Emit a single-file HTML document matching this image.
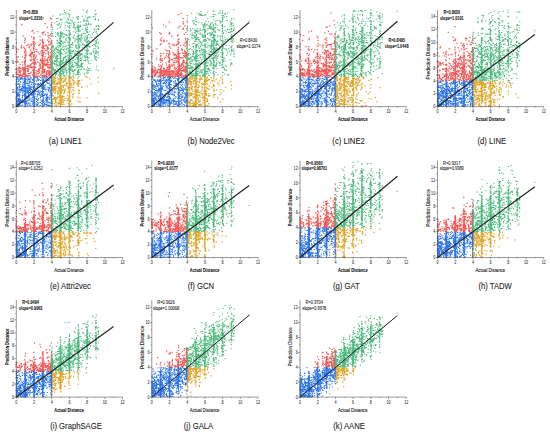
<!DOCTYPE html>
<html><head><meta charset="utf-8"><style>
html,body{margin:0;padding:0;background:#fff;overflow:hidden}
svg{display:block;font-family:"Liberation Sans", sans-serif}
.p{fill:none;stroke-linecap:square}.b{stroke:#2a72e6;stroke-width:4.2}.r{stroke:#f05a58;stroke-width:5.0}.g{stroke:#4cb87c;stroke-width:4.8}.o{stroke:#dea72e;stroke-width:5.0}
.ax{fill:none;stroke:#555;stroke-width:.6}
.rl{fill:none;stroke:#222;stroke-width:1.2}
.tl{font-size:4.6px;fill:#333;stroke:#333;stroke-width:.06px}
.at{font-size:5.3px;fill:#111;stroke:#111;stroke-width:.1px}
.rt{font-size:4.5px;fill:#111;stroke:#111;stroke-width:.06px;text-anchor:middle}
.cap{font-size:8.2px;fill:#222;stroke:#222;stroke-width:.08px;text-anchor:middle}
</style></head><body>
<svg width="550" height="434" viewBox="0 0 550 434">
<rect width="550" height="434" fill="#fff"/>
<defs><filter id="bl" x="-5%" y="-5%" width="110%" height="110%"><feGaussianBlur stdDeviation=".3"/></filter></defs>
<g filter="url(#bl)">
<path transform="scale(0.25)" class="p r" d="M134 44zm39 27zm29 1zm4 2zm0 16zm-25 4zm-94 4zm119 0zm-1 2zm0 7zm1 0zm-16 2zm-59 12zm-3 4zm23 1zm26 1zm-8 2zm3 1zm20 1zm-56 1zm36 1zm34 0zm-35 2zm31 1zm0 2zm-21 1zm16 3zm-5 1zm-99 1zm113 0zm-80 2zm34 0zm-26 3zm61 2zm-58 1zm-37 1zm35 2zm66 0zm-100 1zm35 0zm34 1zm-9 3zm30 0zm-22 1zm1 0zm-71 1zm107 0zm-70 3zm34 0zm27 0zm-64 1zm63 1zm8 0zm-71 1zm36 0zm6 0zm20 0zm9 0zm-65 1zm-40 1zm107 0zm-140 1zm105 0zm2 0zm0 2zm-38 1zm70 0zm-77 1zm15 0zm18 0zm-26 1zm72 0zm-6 1zm-88 1zm22 0zm23 0zm43 0zm-65 1zm1 0zm35 0zm23 0zm-74 1zm5 0zm44 0zm16 0zm-100 1zm22 0zm65 0zm-18 1zm28 0zm-47 1zm43 0zm-6 1zm34 0zm-89 2zm19 0zm32 0zm2 0zm18 0zm-16 1zm-88 1zm10 0zm39 1zm56 0zm-74 1zm56 0zm20 0zm14 0zm-120 1zm49 0zm32 0zm-101 2zm33 0zm73 0zm5 0zm17 0zm-60 1zm38 0zm22 0zm-58 1zm53 0zm-89 1zm34 0zm1 0zm54 0zm14 0zm-130 1zm72 0zm-80 1zm81 0zm-23 1zm-21 1zm33 0zm32 1zm5 0zm9 0zm1 0zm5 0zm-85 1zm67 0zm3 0zm34 1zm-37 1zm38 0zm-140 1zm32 1zm47 0zm-22 1zm14 0zm31 0zm23 0zm14 0zm-140 1zm32 0zm8 0zm47 0zm10 0zm-33 1zm7 0zm35 0zm23 0zm-67 1zm49 0zm26 0zm4 0zm-34 1zm33 0zm-105 2zm26 0zm3 0zm63 0zm-9 1zm-54 1zm27 0zm10 0zm-66 1zm20 0zm50 0zm23 0zm-71 1zm13 0zm2 0zm33 0zm1 0zm2 0zm-49 1zm-20 1zm68 0zm31 0zm2 0zm1 0zm-70 1zm-36 1zm16 0zm5 0zm14 0zm36 0zm-53 1zm47 0zm-29 1zm8 0zm26 0zm24 0zm10 0zm-83 1zm49 0zm1 0zm31 0zm-69 1zm72 0zm-26 1zm24 0zm-131 1zm16 0zm14 0zm33 0zm35 0zm32 0zm-136 1zm59 0zm73 0zm-100 1zm1 0zm43 0zm50 0zm-92 1zm35 0zm70 0zm-37 1zm32 0zm5 0zm1 1zm-107 1zm103 0zm-63 1zm39 0zm12 1zm15 0zm-78 1zm8 0zm34 0zm-36 1zm28 0zm7 0zm1 0zm20 0zm8 0zm8 0zm-105 1zm48 0zm-81 1zm34 0zm24 0zm10 0zm54 0zm8 0zm-77 1zm44 0zm5 0zm7 0zm6 0zm-82 1zm38 0zm33 0zm15 0zm2 0zm11 0zm-38 1zm7 0zm-68 1zm22 0zm13 0zm1 0zm0 1zm35 0zm19 0zm14 0zm-32 1zm30 0zm1 0zm1 0zm-140 1zm33 0zm2 0zm69 0zm37 0zm-139 1zm6 0zm27 0zm78 0zm-109 1zm21 0zm11 0zm33 0zm7 0zm10 0zm17 0zm2 0zm1 0zm35 0zm-41 1zm-66 1zm37 0zm57 0zm-61 1zm25 0zm31 0zm12 0zm6 0zm-76 1zm6 0zm36 0zm1 0zm-73 1zm36 0zm6 0zm27 0zm2 0zm1 0zm2 0zm-75 1zm42 0zm38 0zm27 0zm-106 1zm26 0zm11 0zm7 0zm27 0zm1 0zm-36 1zm1 0zm25 0zm44 0zm-125 1zm42 0zm14 0zm2 0zm33 0zm15 0zm3 0zm15 0zm-104 1zm74 0zm3 0zm2 0zm2 0zm13 0zm6 0zm4 0zm-114 1zm9 0zm60 0zm33 0zm-92 1zm20 0zm50 0zm1 0zm1 0zm31 0zm-93 1zm9 0zm-9 1zm48 0zm13 0zm9 0zm25 0zm-44 1zm8 0zm2 0zm15 0zm19 0zm-90 1zm19 0zm2 0zm1 0zm35 0zm-48 1zm75 0zm-100 1zm8 0zm5 0zm19 0zm3 0zm38 0zm19 0zm-23 1zm3 0zm-97 1zm61 0zm6 0zm59 0zm-122 1zm11 0zm30 0zm1 0zm17 0zm23 0zm34 0zm-103 1zm9 0zm22 0zm12 0zm34 0zm22 0zm-92 1zm29 0zm32 0zm12 0zm29 0zm3 0zm2 0zm-111 1zm1 0zm3 0zm38 0zm-65 1zm9 0zm31 0zm24 0zm2 0zm26 0zm8 0zm35 0zm-141 1zm24 0zm11 0zm1 0zm1 0zm6 0zm62 0zm26 0zm-120 1zm11 0zm3 0zm4 0zm4 0zm37 0zm-22 1zm23 0zm20 0zm14 0zm-106 1zm33 0zm38 0zm18 0zm17 0zm1 0zm1 0zm7 0zm-78 1zm12 0zm22 0zm1 0zm39 0zm1 0zm-112 1zm33 0zm36 0zm4 0zm18 0zm15 0zm1 0zm-100 1zm20 0zm42 0zm2 0zm42 0zm27 0zm-104 1zm10 0zm20 0zm4 0zm1 0zm2 0zm8 0zm-65 1zm56 0zm-60 1zm20 0zm3 0zm37 0zm22 0zm11 0zm1 0zm1 0zm19 0zm2 0zm5 0zm-114 1zm30 0zm20 0zm20 0zm17 0zm1 0zm7 0zm-84 1zm14 0zm27 0zm13 0zm19 0zm4 0zm14 0zm13 0zm1 0zm6 0zm-139 1zm69 0zm35 0zm1 0zm24 0zm-118 1zm23 0zm33 0zm1 0zm2 0zm11 0zm26 0zm14 0zm-122 1zm14 0zm21 0zm23 0zm47 0zm6 0zm26 0zm-127 1zm4 0zm15 0zm42 0zm32 0zm37 0zm-141 1zm69 0zm23 0zm14 0zm1 0zm13 0zm13 0zm9 0zm-140 1zm10 0zm1 0zm2 0zm22 0zm75 0zm16 0zm-96 1zm26 0zm12 0zm4 0zm4 0zm50 0zm-100 1zm41 0zm4 0zm30 0zm30 0zm8 0zm-105 1zm12 0zm4 0zm18 0zm19 0zm31 0zm21 0zm-12 1zm7 0zm4 0zm1 0zm1 0zm-111 1zm2 0zm2 0zm37 0zm1 0zm10 0zm39 0zm10 0zm-131 1zm1 0zm3 0zm12 0zm10 0zm8 0zm1 0zm36 0zm28 0zm38 0zm-130 1zm2 0zm25 0zm88 0zm-100 1zm42 0zm76 0zm-122 1zm21 0zm29 0zm42 0zm-94 1zm55 0zm24 0zm22 0zm16 0zm-122 1zm10 0zm13 0zm11 0zm3 0zm30 0zm25 0zm1 0zm1 0zm6 0zm1 0zm2 0zm16 0zm-89 1zm13 0zm14 0zm4 0zm33 0zm1 0zm8 0zm5 0zm14 0zm-122 1zm23 0zm35 0zm17 0zm19 0zm1 0zm-80 1zm8 0zm1 0zm33 0zm3 0zm32 0zm3 0zm1 0zm3 0zm-101 1zm22 0zm3 0zm45 0zm2 0zm10 0zm13 0zm12 0zm5 0zm-110 1zm11 0zm13 0zm2 0zm7 0zm28 0zm6 0z"/>
<path transform="scale(0.25)" class="p g" d="M333 40zm-55 1zm-21 1zm92 0zm33 0zm-36 5zm-87 3zm2 0zm88 1zm-74 2zm-8 2zm-15 1zm9 0zm123 0zm1 0zm-143 1zm141 0zm-104 1zm101 1zm-140 1zm37 0zm1 0zm-66 4zm130 0zm-13 1zm-16 1zm60 0zm-96 1zm35 0zm46 0zm22 1zm-74 1zm48 0zm7 0zm-49 1zm-20 1zm56 0zm-92 1zm16 1zm79 0zm-124 1zm6 0zm77 0zm-39 1zm111 0zm-48 1zm-92 1zm2 0zm137 1zm-134 1zm27 0zm38 0zm1 0zm81 0zm-152 1zm40 0zm68 0zm33 0zm-95 1zm48 0zm2 0zm56 0zm-46 1zm-9 1zm-72 1zm80 0zm-119 1zm119 1zm-59 1zm46 0zm20 0zm-31 1zm-54 1zm30 0zm14 0zm-52 1zm53 0zm-94 1zm28 0zm30 0zm-1 1zm15 0zm-55 1zm41 0zm66 0zm-71 1zm2 0zm80 0zm-70 1zm10 0zm1 0zm-59 2zm110 0zm8 0zm7 0zm-133 1zm125 0zm-110 1zm53 0zm67 0zm-66 1zm14 0zm-52 1zm62 0zm10 0zm7 0zm3 0zm6 0zm-114 1zm46 0zm114 0zm-7 1zm-92 1zm17 0zm8 0zm-50 1zm39 0zm2 0zm1 0zm2 1zm9 0zm62 0zm9 0zm-117 1zm-36 1zm2 0zm70 0zm35 0zm-137 1zm85 0zm15 0zm8 0zm-40 1zm15 0zm-53 1zm36 0zm26 0zm10 0zm37 0zm-74 1zm31 0zm-46 1zm39 0zm14 0zm28 0zm50 0zm-16 1zm18 0zm-165 1zm84 0zm81 1zm-79 1zm15 0zm15 0zm2 0zm1 0zm45 0zm-184 1zm139 0zm36 0zm10 0zm-186 1zm93 0zm12 0zm1 1zm28 0zm-77 2zm9 0zm3 1zm35 0zm32 0zm34 0zm-63 1zm6 0zm-15 1zm7 0zm5 0zm30 0zm-70 1zm107 0zm-177 1zm36 0zm51 0zm53 0zm11 0zm-81 1zm72 0zm-108 1zm109 0zm-121 1zm19 0zm124 0zm-151 1zm10 0zm48 0zm22 0zm1 0zm45 0zm36 0zm-142 2zm5 0zm66 0zm26 0zm-132 1zm37 0zm11 0zm79 0zm-123 1zm22 0zm8 0zm6 0zm29 0zm113 0zm-160 1zm49 0zm4 0zm88 0zm-120 1zm27 0zm49 0zm-94 1zm32 0zm14 0zm4 0zm72 0zm-95 1zm-15 1zm69 0zm-71 1zm6 0zm29 0zm40 0zm7 0zm4 0zm-119 1zm56 0zm11 0zm22 0zm14 0zm78 0zm-121 1zm44 0zm1 0zm35 0zm11 0zm-126 1zm3 0zm75 0zm36 0zm-104 1zm70 0zm27 0zm-119 1zm90 0zm1 0zm2 0zm-103 1zm29 0zm15 0zm21 0zm35 0zm13 0zm60 0zm-131 1zm39 0zm16 0zm2 0zm-67 1zm9 0zm24 0zm73 0zm-109 1zm32 0zm3 0zm1 0zm71 0zm19 0zm-90 1zm1 0zm61 0zm9 0zm12 0zm-119 1zm40 0zm14 0zm27 0zm6 0zm9 0zm41 0zm-113 1zm12 0zm35 0zm2 0zm13 0zm20 0zm-68 1zm33 0zm2 0zm4 0zm31 0zm-107 1zm59 0zm48 0zm-72 1zm70 0zm2 0zm-110 1zm24 0zm14 0zm35 0zm7 0zm-38 1zm27 0zm2 0zm2 0zm8 0zm24 0zm45 0zm-82 1zm-63 1zm81 0zm13 0zm-131 1zm21 0zm49 0zm1 0zm23 0zm12 0zm-83 1zm13 0zm21 0zm49 0zm40 0zm-113 1zm4 0zm101 0zm40 0zm-155 1zm12 0zm5 0zm34 0zm42 0zm18 0zm35 0zm7 0zm-138 1zm67 0zm7 0zm37 0zm29 0zm2 0zm-180 1zm49 0zm57 0zm37 0zm8 0zm-116 1zm34 0zm23 0zm57 0zm-108 1zm22 0zm76 1zm4 0zm1 0zm43 0zm-158 1zm5 0zm19 0zm17 0zm1 0zm13 0zm33 0zm24 0zm36 0zm1 0zm-153 1zm8 0zm72 0zm-60 1zm-23 1zm-22 1zm31 0zm5 0zm10 0zm36 0zm26 0zm69 0zm2 0zm-144 1zm36 0zm53 0zm-56 1zm74 0zm45 0zm-57 1zm-92 1zm40 0zm2 0zm88 0zm-133 1zm1 0zm70 0zm2 0zm15 0zm48 0zm-145 1zm9 0zm1 0zm36 0zm1 0zm11 0zm16 0zm8 0zm31 0zm36 0zm-106 1zm38 0zm7 0zm25 0zm-134 1zm25 0zm27 0zm38 0zm42 0zm25 0zm-129 1zm34 0zm62 0zm5 0zm-88 1zm92 0zm9 0zm29 0zm-152 1zm49 0zm24 0zm14 0zm32 0zm6 0zm3 0zm-150 1zm51 0zm129 0zm-177 1zm1 0zm27 0zm3 0zm35 0zm70 0zm-136 1zm28 0zm21 0zm21 0zm22 0zm9 0zm2 0zm3 0zm30 0zm-123 1zm26 0zm62 0zm1 0zm18 0zm25 0zm-150 1zm1 0zm139 0zm47 0zm-161 1zm44 0zm11 0zm19 0zm-91 1zm53 0zm10 0zm28 0zm11 0zm-93 1zm82 0zm75 0zm-174 1zm185 0zm-185 1zm15 0zm21 0zm31 0zm38 0zm35 0zm28 0zm-118 1zm10 0zm7 0zm37 0zm26 0zm13 0zm-104 1zm102 0zm-142 1zm11 0zm10 0zm3 0zm23 0zm-11 1zm23 0zm14 0zm-65 1zm13 0zm5 0zm44 0zm2 0zm4 0zm-46 1zm16 0zm27 0zm61 0zm6 0zm-53 1zm90 0zm-164 1zm14 0zm7 0zm37 0zm23 0zm53 0zm18 0zm12 0zm-112 1zm1 0zm19 0zm21 0zm5 0zm11 0zm20 0zm-138 1zm3 0zm29 0zm31 0zm15 0zm16 0zm3 0zm39 0zm-107 1zm2 0zm39 0zm33 0zm34 0zm2 0zm38 0zm-148 1zm18 0zm19 0zm10 0zm5 0zm16 0zm4 0zm38 0zm25 0zm9 0zm-156 1zm49 0zm35 0zm76 0zm-180 1zm20 0zm4 0zm9 0zm1 0zm71 0zm81 0zm-176 1zm26 0zm23 0zm15 0zm-74 1zm26 0zm43 0zm36 0zm51 0zm12 0zm-140 1zm6 0zm21 0zm14 0zm23 0zm45 0zm20 0zm27 0zm-152 1zm1 0zm59 0zm44 0zm4 0zm1 0zm2 0zm31 0zm-169 1zm31 0zm2 0zm31 0zm35 0zm9 0zm27 0zm37 0zm-171 1zm8 0zm19 0zm2 0zm34 0zm6 0zm3 0zm2 0zm39 0zm21 0zm11 0zm-120 1zm3 0zm20 0zm14 0zm3 0zm23 0zm3 0zm13 0zm2 0zm63 0zm-176 1zm33 0zm11 0zm28 0zm19 0zm17 0zm11 0zm-5 1zm43 0zm-147 1zm60 0zm1 0zm29 0zm16 0zm6 0zm20 0zm-142 1zm2 0zm31 0zm3 0zm35 0zm1 0zm98 0zm16 0zm-167 1zm5 0zm9 0zm2 0zm37 0zm28 0zm-1 1zm5 0zm1 0zm9 0zm16 0zm-96 1zm1 0zm26 0zm7 0zm10 0zm29 0zm3 0zm28 0zm-132 1zm5 0zm12 0zm12 0zm26 0zm52 0zm-79 1zm36 0zm4 0zm32 0zm1 0zm64 0zm-152 1zm1 0zm34 0zm2 0zm77 0zm10 0zm34 0zm-176 1zm1 0zm15 0zm54 0zm53 0zm18 0zm-141 1zm1 0zm22 0zm55 0zm28 0zm1 0zm34 0zm35 0zm-169 1zm9 0zm18 0zm36 0zm28 0zm6 0zm37 0zm1 0zm-94 1zm4 0zm51 0zm3 0zm29 0zm7 0zm-89 1zm12 0zm5 0zm34 0zm27 0zm46 0zm-160 1zm18 0zm33 0zm17 0zm28 0zm3 0zm31 0zm2 0zm23 0zm13 0zm-152 1zm13 0zm19 0zm6 0zm30 0zm-102 1zm1 0zm14 0zm11 0zm7 0zm74 0zm10 0zm-97 1zm2 0zm47 0zm2 0zm36 0zm-107 1zm3 0zm32 0zm137 0zm-127 1zm3 0zm10 0zm14 0zm71 0zm-122 1zm46 0zm1 0zm3 0zm25 0zm7 0zm1 0zm2 0zm-104 1zm43 0zm26 0zm42 0zm7 0zm15 0zm41 0zm-176 1zm71 0zm1 0zm106 0zm-166 1zm23 0zm11 0zm14 0zm14 0zm10 0zm2 0zm-86 1zm18 0zm3 0zm14 0zm1 0zm1 0zm34 0zm36 0zm8 0zm15 0zm27 0zm22 0zm-162 1zm17 0zm2 0zm1 0zm30 0zm39 0zm29 0zm10 0zm-144 1zm57 0zm13 0zm2 0zm34 0zm12 0zm-116 1zm9 0zm3 0zm19 0zm8 0zm13 0zm1 0zm6 0zm8 0zm36 0zm-106 1zm23 0zm12 0zm1 0zm33 0zm37 0zm2 0zm-108 1zm1 0zm34 0zm7 0zm18 0zm1 0zm14 0zm6 0zm65 0zm-118 1zm9 0zm6 0zm11 0zm17 0zm21 0zm15 0zm-107 1zm2 0zm30 0zm4 0zm7 0zm3 0zm23 0zm22 0zm10 0zm-66 1zm24 0zm12 0zm-66 1zm14 0zm33 0zm17 0zm3 0zm10 0zm14 1zm9 0zm-103 1zm5 0zm5 0zm24 0zm36 0zm53 0zm22 0zm-147 1zm35 0zm9 0zm25 0zm3 0zm4 0zm22 0zm20 0zm3 0zm-121 1zm11 0zm19 0zm2 0zm39 0zm1 0zm32 0zm51 0zm-153 1zm19 0zm13 0zm3 0zm3 0zm8 0zm23 1zm1 0zm11 0zm18 0zm16 0zm-98 1zm20 0zm21 0zm12 0zm32 0zm-91 1zm5 0zm14 0zm39 0zm12 0zm23 0zm16 0zm-122 1zm21 0zm14 0zm23 0zm12 0zm-69 1zm1 0zm28 0zm68 0zm6 0zm14 0zm-117 1zm33 0zm22 0zm24 0zm16 0zm-95 1zm26 0zm52 0zm33 0zm-89 1zm46 0zm37 0zm-106 1zm35 0zm2 0zm47 0zm21 0zm8 0zm5 0zm2 0zm59 0zm-177 1zm34 0zm1 0zm9 0zm5 0zm20 0zm18 0zm16 0zm1 0zm-105 1zm16 0zm17 0zm37 0zm10 0zm38 0zm-85 1zm1 0zm1 0zm39 0zm30 0zm16 0zm-76 1zm4 0zm2 0zm20 0zm15 0zm26 0zm-110 1zm35 0zm20 0zm20 0zm46 0zm19 0zm-141 1zm5 0zm32 0zm62 0zm2 0zm-66 1zm1 0zm-15 1zm12 0zm34 0zm9 0zm-70 1zm27 0zm10 0zm10 0zm18 0zm75 0zm101 0zm-214 1zm2 0zm34 0zm-70 1zm6 0zm29 0zm1 0zm32 0zm4 0zm57 0zm23 0zm-125 1zm8 0zm20 0zm17 0zm21 0zm24 0zm2 0zm-106 1zm21 0zm1 0zm10 0zm2 0zm28 0zm32 0zm23 0zm10 0zm-139 1zm3 0zm8 0zm58 0zm14 0zm23 0zm6 0zm65 0zm-178 1zm2 0zm2 0zm11 0zm2 0zm23 0zm12 0zm3 0zm6 0zm18 0zm13 0zm-89 1zm4 0zm9 0zm20 0zm2 0zm34 0zm5 0zm5 0zm24 0zm1 0zm40 0zm-58 1zm65 0zm-145 1zm5 0zm8 0zm14 0zm22 0zm12 0zm35 0zm41 0zm40 0zm-144 1zm4 0zm96 0zm-108 1zm2 0zm34 0zm-70 1zm1 0zm25 0zm8 0zm3 0zm34 0zm12 0zm2 0zm20 0zm3 0zm-75 1zm1 0zm38 0zm-71 1zm8 0zm9 0zm6 0zm9 0zm11 0zm7 0zm7 0zm12 0zm19 0zm14 0zm-89 1zm21 0zm12 0zm23 0zm36 0zm34 0zm-127 1zm91 0zm-72 1zm27 0zm2 0zm49 0zm36 0zm-145 1zm29 0zm41 0zm31 0zm5 0zm-90 1zm19 0zm10 0zm28 0zm57 0zm-130 1zm-1 1zm1 0zm19 0zm15 0zm6 0zm46 0zm1 0zm53 0zm-134 1zm25 0zm3 0zm79 0zm-114 1zm2 0zm15 0zm16 0zm11 0zm14 0zm14 0zm31 0zm-69 1zm37 0zm29 0zm2 0zm5 0zm-75 1zm4 1zm1 0zm57 0zm38 0zm-117 1zm12 0zm8 0zm12 0zm3 0zm-50 1zm36 0zm0 1zm35 0zm-71 1zm15 0zm45 0zm9 0zm-34 1zm2 0zm15 0zm20 0zm13 0zm-53 1zm3 0zm35 0zm1 0zm15 0zm22 0zm-102 1zm28 0zm39 0z"/>
<path transform="scale(0.25)" class="p o" d="M345 307zm-137 1zm6 0zm6 0zm36 0zm19 0zm3 0zm3 0zm2 0zm65 0zm-141 1zm11 0zm11 0zm47 0zm2 0zm115 0zm-152 1zm2 0zm42 0zm9 0zm-32 1zm15 0zm-61 1zm28 0zm19 0zm14 0zm35 0zm-105 1zm2 0zm34 0zm5 0zm3 0zm26 0zm1 0zm1 0zm-61 1zm2 0zm2 0zm15 0zm8 0zm32 0zm7 0zm75 0zm-144 1zm18 0zm10 0zm34 0zm-42 1zm9 0zm-2 1zm21 0zm28 0zm-50 1zm6 0zm-33 1zm29 0zm15 0zm3 0zm-54 1zm35 0zm34 0zm3 0zm50 0zm-118 1zm10 0zm2 0zm55 0zm35 0zm-106 1zm16 0zm22 0zm17 0zm15 0zm18 0zm17 0zm5 0zm1 0zm-78 1zm49 0zm-79 1zm8 0zm14 0zm9 0zm11 0zm26 0zm1 0zm-71 1zm49 0zm19 0zm-69 1zm9 0zm1 0zm26 0zm-29 1zm4 0zm20 0zm15 0zm26 0zm1 0zm30 0zm5 0zm-108 1zm1 0zm34 0zm53 0zm18 0zm81 0zm-186 1zm1 0zm8 0zm50 0zm12 0zm21 0zm-68 1zm9 0zm11 0zm-23 1zm84 0zm-101 1zm27 0zm-31 1zm10 0zm8 0zm6 0zm4 0zm6 0zm23 0zm8 0zm4 0zm3 0zm33 0zm-106 1zm1 0zm35 0zm24 0zm10 0zm9 0zm11 0zm15 0zm7 0zm44 0zm-156 1zm7 0zm29 0zm34 0zm35 0zm-91 1zm1 0zm45 0zm41 0zm-101 1zm1 0zm17 0zm5 0zm54 0zm-77 1zm34 0zm2 0zm35 1zm15 0zm-33 1zm34 0zm-52 1zm2 0zm14 0zm21 0zm34 0zm-62 1zm4 0zm12 0zm17 0zm-77 1zm35 0zm1 0zm9 0zm-32 1zm93 0zm-104 1zm4 0zm7 0zm7 0zm1 0zm15 0zm33 0zm37 0zm36 0zm-142 1zm1 0zm34 0zm1 0zm9 0zm-44 1zm8 0zm5 0zm24 0zm29 0zm-66 1zm45 0zm19 0zm7 0zm47 0zm-84 1zm30 0zm16 0zm40 0zm-92 1zm8 0zm9 0zm42 0zm-77 1zm14 0zm10 0zm1 0zm34 0zm3 0zm3 0zm-71 1zm12 0zm17 0zm-33 1zm8 0zm7 0zm14 0zm36 0zm-66 1zm1 0zm2 1zm5 0zm6 0zm1 0zm19 0zm1 0zm20 0zm-55 1zm9 0zm25 0zm4 0zm1 0zm29 0zm-59 1zm5 0zm13 0zm8 0zm-34 1zm34 0zm9 0zm40 0zm-83 1zm1 0zm7 0zm26 0zm16 0zm21 0zm-35 1zm6 0zm7 0zm22 0zm38 0zm-110 1zm3 0zm5 0zm6 0zm20 0zm17 0zm-51 1zm1 0zm30 0zm3 0zm18 0zm36 0zm19 0zm-107 1zm1 0zm21 0zm11 0zm38 0zm-71 1zm33 0zm3 1zm-10 1zm13 0zm13 0zm19 0zm-64 1zm9 0zm16 0zm2 0zm36 0zm1 0zm9 0zm-80 1zm1 0zm64 0zm-32 1zm39 0zm37 0zm-108 1zm34 0zm3 0zm14 0zm-40 1zm-11 1zm14 0zm10 0zm10 0zm36 0zm18 0zm-63 1zm21 0zm62 0zm78 0zm-186 1zm33 0zm37 0zm1 0zm-72 1zm23 1zm11 1zm1 0zm48 0zm-82 2zm32 0zm29 0zm-61 1zm0 1zm33 0zm37 0zm-69 1zm3 0zm31 0zm-34 1zm30 0zm12 0zm26 0zm0 1zm2 0zm14 0zm-45 1zm8 0zm-16 1zm38 0zm-46 1zm19 0zm1 0zm-36 1zm21 0zm5 0zm3 0zm5 0zm25 0zm37 0zm-93 1zm23 0zm2 0zm33 0zm12 0zm-64 1zm123 0zm-128 1zm8 0zm13 0zm79 0zm-75 1zm33 0zm-71 1zm11 0zm41 0zm9 0zm9 0zm-57 1zm21 0zm2 0zm1 0zm-28 1zm24 0zm-27 1zm5 0zm11 0zm22 0zm-43 1zm2 0zm38 0zm25 0zm-65 1zm15 0zm18 0zm1 0zm10 1zm29 0zm-74 1zm70 0zm-35 1zm17 0zm19 0zm-70 1zm13 0zm15 0zm34 0zm-62 1zm15 0zm18 0zm35 0zm7 0zm-62 1zm26 0zm5 0zm27 0zm34 0zm-70 1zm-35 1zm35 0zm36 0zm40 1zm2 0zm-97 1zm18 0zm1 0zm36 0zm1 0zm-71 1zm14 0zm-15 1zm46 0zm-47 1zm14 0zm15 0zm5 0zm1 0zm2 0zm4 0zm-41 1zm22 0zm5 0zm5 0zm38 0zm-70 1zm34 0zm2 0zm30 0zm-63 1zm7 0zm25 1zm45 0zm-53 1zm7 0zm35 0zm-66 1zm32 0zm1 0zm2 0zm11 0zm21 0zm-28 1zm27 0zm4 1zm-71 1zm12 0zm4 0zm2 1zm50 0zm-36 1zm38 0zm-72 1zm21 0zm51 0zm-36 2zm34 0zm-69 1z"/>
<path transform="scale(0.25)" class="p b" d="M206 307zm-140 1zm4 0zm65 0zm57 0zm-126 1zm15 0zm41 0zm19 0zm48 0zm11 0zm-129 1zm16 0zm49 0zm27 0zm8 0zm1 0zm34 0zm-140 1zm14 0zm20 0zm35 0zm8 0zm5 0zm30 0zm6 0zm21 0zm-117 1zm10 0zm13 0zm4 0zm11 0zm25 0zm21 0zm11 0zm19 0zm-122 1zm20 0zm34 0zm72 0zm-135 1zm13 0zm2 0zm10 0zm6 0zm33 0zm1 0zm1 0zm-46 1zm6 0zm6 0zm69 0zm15 0zm20 0zm-141 1zm16 0zm4 0zm15 0zm18 0zm2 0zm30 0zm16 0zm5 0zm34 0zm1 0zm-136 1zm29 0zm1 0zm15 0zm33 0zm8 0zm15 0zm1 0zm34 0zm-141 1zm7 0zm8 0zm19 0zm3 0zm12 0zm3 0zm11 0zm6 0zm2 0zm62 0zm-134 1zm15 0zm23 0zm5 0zm5 0zm19 0zm4 0zm19 0zm17 0zm2 0zm8 0zm1 0zm-91 1zm9 0zm72 0zm1 0zm7 0zm11 0zm-126 1zm10 0zm23 0zm1 0zm20 0zm1 0zm10 0zm4 0zm38 0zm4 0zm-79 1zm3 0zm34 0zm1 0zm16 0zm1 0zm9 0zm11 0zm18 0zm5 0zm9 0zm-104 1zm35 0zm1 0zm8 0zm23 0zm1 0zm5 0zm12 0zm-120 1zm44 0zm61 0zm16 0zm-121 1zm10 0zm22 0zm1 0zm3 0zm45 0zm60 0zm-140 1zm6 0zm47 0zm18 0zm39 0zm28 0zm-139 1zm1 0zm16 0zm16 0zm4 0zm14 0zm53 0zm1 0zm1 0zm-74 1zm3 0zm15 0zm8 0zm12 0zm1 0zm40 0zm28 0zm-139 1zm16 0zm10 0zm8 0zm1 0zm18 0zm5 0zm6 0zm42 0zm2 0zm13 0zm1 0zm-92 1zm23 0zm10 0zm6 0zm-68 1zm32 0zm92 0zm16 0zm-141 1zm38 0zm58 0zm7 0zm1 0zm29 0zm-96 1zm5 0zm2 0zm2 0zm24 0zm34 0zm20 0zm8 0zm8 0zm-132 1zm26 0zm16 0zm22 0zm16 0zm37 0zm3 0zm-93 1zm8 0zm27 0zm1 0zm25 0zm5 0zm5 0zm34 0zm-139 1zm11 0zm14 0zm5 0zm1 0zm2 0zm34 0zm1 0zm6 0zm7 0zm5 0zm-88 1zm15 0zm45 0zm22 0zm8 0zm51 0zm-137 1zm6 0zm23 0zm2 0zm27 0zm8 0zm6 0zm9 0zm9 0zm14 0zm33 0zm-107 1zm72 0zm12 0zm19 0zm4 0zm-89 1zm39 0zm19 0zm25 0zm-135 1zm26 0zm1 0zm9 0zm8 0zm7 0zm36 0zm18 0zm31 0zm3 0zm-138 1zm33 0zm40 0zm34 0zm7 0zm-102 1zm13 0zm22 0zm53 0zm5 0zm7 0zm22 0zm-134 1zm33 0zm22 0zm12 0zm72 0zm-69 1zm2 0zm10 0zm58 0zm-140 1zm23 0zm10 0zm2 0zm1 0zm62 0zm8 0zm2 0zm32 0zm-139 1zm9 0zm6 0zm10 0zm2 0zm24 0zm49 0zm4 0zm5 0zm-110 1zm1 0zm26 0zm6 0zm1 0zm15 0zm8 0zm4 0zm5 0zm3 0zm2 0zm21 0zm14 0zm11 0zm-117 1zm3 0zm29 0zm4 0zm48 0zm21 0zm20 0zm16 0zm-141 1zm4 0zm26 0zm4 0zm1 0zm6 0zm20 0zm43 0zm4 0zm3 0zm19 0zm10 0zm-141 1zm13 0zm32 0zm6 0zm5 0zm14 0zm1 0zm4 0zm32 0zm27 0zm6 0zm-134 1zm17 0zm4 0zm7 0zm1 0zm36 0zm28 0zm-99 1zm28 0zm8 0zm1 0zm3 0zm5 0zm9 0zm2 0zm25 0zm4 0zm18 0zm6 0zm31 0zm-119 1zm19 0zm15 0zm14 0zm9 0zm28 0zm8 0zm-112 1zm22 0zm10 0zm15 0zm10 0zm11 0zm8 0zm52 0zm3 0zm-128 1zm21 0zm2 0zm7 0zm1 0zm4 0zm1 0zm30 0zm70 0zm-140 1zm2 0zm10 0zm2 0zm2 0zm3 0zm19 0zm7 0zm7 0zm54 0zm2 0zm7 0zm6 0zm-122 1zm37 0zm19 0zm4 0zm2 0zm10 0zm34 0zm8 0zm2 0zm-105 1zm1 0zm23 0zm1 0zm1 0zm1 0zm68 0zm22 0zm9 0zm-128 1zm12 0zm49 0zm18 0zm18 0zm34 0zm-133 1zm10 0zm9 0zm1 0zm24 0zm15 0zm3 0zm2 0zm4 0zm54 0zm12 0zm-119 1zm4 0zm6 0zm3 0zm2 0zm6 0zm2 0zm10 0zm40 0zm10 0zm1 0zm-106 1zm1 0zm33 0zm1 0zm7 0zm5 0zm59 0zm29 0zm-135 1zm13 0zm17 0zm7 0zm29 0zm12 0zm28 0zm13 0zm16 0zm-108 1zm18 0zm12 0zm7 0zm6 0zm1 0zm11 0zm2 0zm6 0zm15 0zm1 0zm24 0zm-129 1zm1 0zm32 0zm4 0zm10 0zm1 0zm21 0zm1 0zm1 0zm12 0zm15 0zm3 0zm5 0zm-88 1zm18 0zm31 0zm2 0zm32 0zm3 0zm3 0zm1 0zm-50 1zm7 0zm8 0zm63 0zm-136 1zm1 0zm5 0zm8 0zm20 0zm12 0zm2 0zm11 0zm11 0zm17 0zm8 0zm44 0zm-140 1zm27 0zm16 0zm10 0zm6 0zm48 0zm-107 1zm2 0zm35 0zm9 0zm26 0zm15 0zm20 0zm-98 1zm32 0zm17 0zm14 0zm20 0zm13 0zm21 0zm16 0zm-141 1zm1 0zm2 0zm22 0zm25 0zm6 0zm12 0zm2 0zm37 0zm28 0zm-134 1zm32 0zm34 0zm2 0zm23 0zm-92 1zm2 0zm31 0zm3 0zm10 0zm2 0zm20 0zm32 0zm40 0zm-140 1zm5 0zm1 0zm6 0zm22 0zm41 0zm1 0zm25 0zm16 0zm-116 1zm1 0zm2 0zm4 0zm28 0zm26 0zm7 0zm1 0zm13 0zm11 0zm19 0zm26 0zm-104 1zm31 0zm21 0zm18 0zm17 0zm-122 1zm3 0zm10 0zm19 0zm3 0zm14 0zm20 0zm15 0zm20 0zm9 0zm11 0zm13 0zm4 0zm-83 1zm6 0zm26 0zm11 0zm4 0zm1 0zm14 0zm19 0zm-134 1zm1 0zm6 0zm11 0zm3 0zm1 0zm3 0zm8 0zm10 0zm13 0zm8 0zm38 0zm-107 1zm1 0zm5 0zm3 0zm3 0zm21 0zm1 0zm1 0zm35 0zm25 0zm10 0zm6 0zm-110 1zm1 0zm33 0zm34 0zm38 0zm25 0zm-132 1zm24 0zm9 0zm4 0zm1 0zm29 0zm16 0zm21 0zm16 0zm18 0zm2 0zm-140 1zm4 0zm30 0zm9 0zm7 0zm2 0zm15 0zm34 0zm-102 1zm11 0zm23 0zm1 0zm3 0zm1 0zm6 0zm30 0zm29 0zm-69 1zm1 0zm62 0zm9 0zm18 0zm2 0zm-125 1zm10 0zm1 0zm24 0zm6 0zm4 0zm19 0zm6 0zm11 0zm57 0zm-139 1zm24 0zm10 0zm15 0zm18 0zm72 0zm-139 1zm1 0zm39 0zm27 0zm51 0zm4 0zm12 0zm-134 1zm33 0zm10 0zm29 0zm24 0zm12 0zm18 0zm14 0zm-141 1zm1 0zm2 0zm20 0zm13 0zm18 0zm87 0zm-105 1zm10 0zm17 0zm48 0zm16 0zm-120 1zm2 0zm5 0zm21 0zm3 0zm5 0zm28 0zm1 0zm18 0zm30 0zm2 0zm-121 1zm35 0zm27 0zm7 0zm3 0zm1 0zm7 0zm43 0zm9 0zm-133 1zm56 0zm23 0zm28 0zm-94 1zm3 0zm116 0zm3 0zm-126 1zm2 0zm1 0zm1 0zm11 0zm30 0zm18 0zm11 0zm24 0zm1 0zm34 0zm-139 1zm8 0zm5 0zm1 0zm17 0zm3 0zm11 0zm24 0zm16 0zm29 0zm5 0zm-120 1zm16 0zm46 0zm6 0zm28 0zm10 0zm11 0zm2 0zm4 0zm17 0zm-140 1zm6 0zm5 0zm22 0zm1 0zm1 0zm6 0zm27 0zm3 0zm12 0zm2 0zm17 0zm5 0zm32 0zm-140 1zm7 0zm27 0zm15 0zm20 0zm34 0zm4 0zm1 0zm10 0zm-100 1zm7 0zm46 0zm52 0zm-122 1zm9 0zm6 0zm1 0zm3 0zm14 0zm2 0zm6 0zm18 0zm10 0zm35 0zm34 0zm-134 1zm7 0zm15 0zm13 0zm19 0zm13 0zm28 0zm6 0zm16 0zm-104 1zm12 0zm9 0zm22 0zm10 0zm9 0zm61 0zm-134 1zm28 0zm7 0zm23 0zm4 0zm36 0zm8 0zm27 0zm-140 1zm3 0zm8 0zm2 0zm17 0zm4 0zm1 0zm32 0zm38 0zm9 0zm6 0zm7 0zm-108 1zm4 0zm11 0zm35 0zm1 0zm3 0zm12 0zm24 0zm30 0zm-140 1zm1 0zm26 0zm69 0zm13 0zm22 0zm11 0zm-142 1zm3 0zm8 0zm24 0zm1 0zm4 0zm30 0zm63 0zm-133 1zm2 0zm14 0zm18 0zm2 0zm12 0zm1 0zm19 0zm3 0zm1 0zm18 0zm16 0zm17 0zm3 0zm12 0zm3 0zm-107 1zm1 0zm3 0zm10 0zm1 0zm5 0zm13 0zm1 0zm73 0zm-140 1zm8 0zm1 0zm32 0zm26 0zm2 0zm1 0zm30 0zm13 0zm26 0zm2 0zm-141 1zm12 0zm22 0zm1 0zm3 0zm17 0zm15 0zm3 0zm8 0zm32 0zm25 0zm-139 1zm4 0zm7 0zm13 0zm48 0zm10 0zm5 0zm17 0zm-96 1zm26 0zm1 0zm2 0zm2 0zm17 0zm9 0zm6 0zm12 0zm4 0zm24 0zm-111 1zm2 0zm5 0zm5 0zm25 0zm81 0zm3 0zm-118 1zm1 0zm4 0zm28 0zm9 0zm26 0zm3 0zm0 1zm8 0zm2 0zm21 0zm1 0zm7 0zm10 0zm8 0zm10 0zm-141 1zm1 0zm1 0zm11 0zm2 0zm1 0zm1 0zm18 0zm1 0zm11 0zm6 0zm30 0zm22 0zm2 0zm5 0zm15 0zm13 0zm-139 1zm1 0zm24 0zm9 0zm34 0zm2 0zm2 0zm23 0zm26 0zm5 0zm7 0zm8 0zm-141 1zm1 0zm18 0zm15 0zm23 0zm14 0zm2 0zm10 0zm21 0zm27 0zm-130 1zm1 0zm3 0zm30 0zm7 0zm27 0zm21 0zm13 0zm3 0zm23 0zm6 0zm6 0zm-132 1zm53 0zm42 0zm2 0zm-106 1zm5 0zm2 0zm26 0zm3 0zm1 0zm32 0zm1 0z"/>
</g>
<path class="ax" d="M16.3 106.6H122.5M16.3 106.6V10.0M16.3 106.6v1.8M25.1 106.6v1.0M34.0 106.6v1.8M42.8 106.6v1.0M51.7 106.6v1.8M60.5 106.6v1.0M69.4 106.6v1.8M78.2 106.6v1.0M87.1 106.6v1.8M95.9 106.6v1.0M104.8 106.6v1.8M113.6 106.6v1.0M122.5 106.6v1.8M16.3 106.6h-1.8M16.3 99.1h-1.0M16.3 91.7h-1.8M16.3 84.2h-1.0M16.3 76.8h-1.8M16.3 69.3h-1.0M16.3 61.9h-1.8M16.3 54.4h-1.0M16.3 47.0h-1.8M16.3 39.5h-1.0M16.3 32.1h-1.8M16.3 24.6h-1.0M16.3 17.2h-1.8"/>
<g class="tl" text-anchor="middle"><text transform="translate(16.3 113.4)scale(.8 1)">0</text><text transform="translate(34.0 113.4)scale(.8 1)">2</text><text transform="translate(51.7 113.4)scale(.8 1)">4</text><text transform="translate(69.4 113.4)scale(.8 1)">6</text><text transform="translate(87.1 113.4)scale(.8 1)">8</text><text transform="translate(104.8 113.4)scale(.8 1)">10</text><text transform="translate(122.5 113.4)scale(.8 1)">12</text></g>
<g class="tl" text-anchor="end"><text transform="translate(14.0 108.2)scale(.8 1)">0</text><text transform="translate(14.0 93.3)scale(.8 1)">2</text><text transform="translate(14.0 78.4)scale(.8 1)">4</text><text transform="translate(14.0 63.5)scale(.8 1)">6</text><text transform="translate(14.0 48.6)scale(.8 1)">8</text><text transform="translate(14.0 33.7)scale(.8 1)">10</text><text transform="translate(14.0 18.8)scale(.8 1)">12</text></g>
<path class="rl" d="M16.3 106.6L113.6 22.4"/>
<text class="at" style="font-weight:bold" x="54.3" y="121.0" textLength="29.6" lengthAdjust="spacingAndGlyphs">Actual Distance</text>
<text class="at" style="font-weight:bold" transform="translate(8.5 56.7)rotate(-90)" x="-19.1" y="0" textLength="38.2" lengthAdjust="spacingAndGlyphs">Prediction Distance</text>
<text class="rt" style="font-weight:bold" transform="translate(30.6 14.0)scale(0.845 1)">R=0.838</text>
<text class="rt" style="font-weight:bold" transform="translate(30.6 19.8)scale(0.845 1)">slope=1.2216</text>
<text class="cap" transform="translate(65.3 144.0)scale(.94 1)">(a) LINE1</text>
<g filter="url(#bl)">
<path transform="scale(0.25)" class="p r" d="M723 53zm-10 5zm35 4zm-15 12zm15 10zm-14 3zm-56 1zm54 5zm0 2zm-78 4zm85 4zm-21 2zm-55 1zm50 4zm-104 1zm125 1zm14 2zm-1 2zm-15 1zm-53 12zm65 0zm-105 1zm37 3zm-32 1zm0 2zm35 0zm58 1zm-24 2zm-3 4zm-23 2zm-41 7zm97 1zm-27 2zm-3 3zm-71 1zm100 0zm-86 1zm-11 3zm22 0zm-11 2zm55 0zm36 0zm1 0zm-94 1zm95 0zm-35 1zm-1 2zm30 0zm-27 1zm32 1zm-34 1zm-38 1zm61 0zm12 1zm-104 1zm32 1zm12 0zm23 0zm1 0zm35 0zm-41 1zm-66 1zm56 1zm51 0zm-50 1zm37 0zm13 0zm-43 1zm18 0zm-28 1zm46 2zm-64 3zm71 0zm-35 2zm0 1zm-30 2zm64 1zm2 0zm-1 1zm-121 1zm99 0zm22 0zm-35 2zm16 1zm-17 1zm-49 1zm-55 1zm121 0zm10 0zm-63 1zm-7 1zm-56 1zm64 1zm34 0zm2 1zm29 0zm-4 1zm6 2zm-52 1zm21 0zm33 0zm-67 1zm50 0zm-86 2zm10 0zm66 0zm14 0zm-66 1zm45 0zm27 0zm2 0zm6 0zm-31 1zm-42 1zm5 0zm18 0zm-89 1zm90 0zm5 0zm10 0zm35 0zm-54 1zm47 2zm5 0zm-102 1zm32 0zm24 0zm7 0zm9 0zm0 1zm19 0zm9 0zm1 0zm-80 1zm10 0zm67 0zm-99 2zm69 0zm34 0zm-74 1zm39 0zm27 0zm-131 1zm68 0zm31 0zm11 0zm28 0zm-71 1zm-13 1zm16 1zm45 0zm10 0zm-27 1zm9 0zm11 0zm5 0zm12 0zm-42 1zm8 0zm-65 1zm53 0zm4 0zm13 0zm-55 1zm19 0zm2 0zm29 0zm41 0zm-123 1zm15 0zm8 0zm66 0zm33 0zm-68 2zm38 0zm-28 1zm25 0zm33 0zm-61 1zm-46 1zm62 0zm31 0zm-89 1zm68 0zm35 0zm-98 1zm28 0zm57 0zm-21 1zm-40 1zm23 0zm11 0zm5 0zm19 0zm15 0zm-69 1zm38 0zm20 0zm11 0zm-69 1zm69 0zm-69 1zm55 1zm-90 1zm35 0zm28 0zm7 0zm1 0zm-37 1zm17 0zm5 0zm38 0zm9 0zm-82 1zm51 0zm33 0zm-139 1zm107 0zm15 0zm13 0zm-15 1zm1 0zm18 0zm-17 1zm12 0zm-25 1zm10 0zm-78 1zm63 0zm4 0zm-29 1zm28 0zm32 0zm-71 1zm39 0zm-82 1zm64 0zm28 0zm6 0zm-66 1zm12 0zm10 0zm7 0zm-52 1zm76 0zm7 0zm22 1zm-140 1zm68 0zm71 0zm-68 1zm2 0zm8 0zm25 0zm7 0zm4 0zm9 0zm9 0zm-132 1zm37 0zm27 0zm38 0zm2 0zm20 0zm1 0zm12 0zm-112 1zm45 0zm38 0zm29 0zm-74 1zm36 0zm3 0zm3 0zm29 0zm-101 1zm35 0zm19 0zm51 0zm-130 1zm52 0zm8 0zm36 0zm28 0zm4 0zm1 0zm-32 1zm14 0zm18 0zm-81 1zm11 0zm59 0zm1 0zm-127 1zm34 0zm10 0zm25 0zm25 0zm39 0zm-136 1zm46 0zm2 0zm41 0zm7 0zm18 0zm3 0zm-117 1zm1 0zm12 0zm36 0zm21 0zm39 0zm-109 1zm34 0zm30 0zm7 0zm36 0zm1 0zm-107 1zm34 0zm93 0zm10 0zm1 0zm-138 1zm23 0zm4 0zm36 0zm7 0zm69 0zm1 0zm-141 1zm5 0zm28 0zm1 0zm15 0zm9 0zm10 0zm3 0zm22 0zm13 0zm1 0zm6 0zm20 0zm4 0zm-136 1zm12 0zm19 0zm1 0zm2 0zm13 0zm22 0zm1 0zm31 0zm3 0zm4 0zm2 0zm14 0zm-126 1zm39 0zm33 0zm34 0zm1 0zm6 0zm22 0zm-102 1zm1 0zm2 0zm19 0zm17 0zm46 0zm-107 1zm10 0zm14 0zm1 0zm4 0zm2 0zm7 0zm7 0zm16 0zm12 0zm36 0zm5 0zm8 0zm7 0zm2 0zm-141 1zm10 0zm14 0zm10 0zm9 0zm3 0zm9 0zm3 0zm2 0zm18 0zm20 0zm7 0zm7 0zm29 0zm-138 1zm2 0zm30 0zm4 0zm1 0zm11 0zm3 0zm1 0zm5 0zm4 0zm6 0zm13 0zm2 0zm3 0zm18 0zm1 0zm17 0zm3 0zm1 0zm1 0zm10 0zm-128 1zm9 0zm14 0zm3 0zm21 0zm4 0zm30 0zm12 0zm-94 1zm23 0zm1 0zm1 0zm11 0zm7 0zm13 0zm1 0zm3 0zm33 0zm2 0zm1 0zm1 0zm31 0zm-139 1zm6 0zm28 0zm4 0zm2 0zm11 0zm19 0zm4 0zm2 0zm2 0zm5 0zm22 0zm2 0zm1 0zm1 0zm25 0zm-130 1zm16 0zm12 0zm2 0zm4 0zm28 0zm1 0zm3 0zm31 0zm5 0zm13 0zm-116 1zm7 0zm27 0zm1 0zm17 0zm16 0zm1 0zm10 0zm3 0zm20 0zm3 0zm-108 1zm24 0zm11 0zm1 0zm1 0zm4 0zm1 0zm7 0zm7 0zm8 0zm8 0zm30 0zm4 0zm1 0zm1 0zm27 0zm-133 1zm26 0zm2 0zm2 0zm2 0zm1 0zm1 0zm14 0zm6 0zm1 0zm7 0zm25 0zm17 0zm1 0zm1 0zm8 0zm-113 1zm13 0zm20 0zm1 0zm5 0zm17 0zm11 0zm24 0zm6 0zm7 0zm34 0zm-139 1zm2 0zm15 0zm17 0zm15 0zm20 0zm27 0zm6 0zm2 0zm36 0zm-142 1zm35 0zm27 0zm7 0zm2 0zm26 0zm10 0zm-106 1zm13 0zm22 0zm19 0zm7 0zm11 0zm1 0zm4 0zm6 0zm14 0zm6 0zm2 0zm6 0zm2 0zm5 0zm3 0zm-121 1zm36 0zm13 0zm5 0zm13 0zm4 0zm2 0zm4 0zm3 0zm6 0zm6 0zm11 0zm1 0zm1 0zm11 0zm-115 1zm15 0zm16 0zm1 0zm2 0zm1 0zm8 0zm7 0zm12 0zm3 0zm1 0zm3 0zm6 0zm17 0zm9 0zm1 0zm1 0zm1 0zm2 0zm-95 1zm21 0zm71 0zm2 0zm1 0zm3 0zm1 0zm24 0zm-136 1zm36 0zm9 0zm5 0zm1 0zm1 0zm4 0zm3 0zm3 0zm3 0zm6 0zm24 0zm2 0zm9 0zm2 0zm9 0zm3 0zm14 0zm-133 1zm8 0zm40 0zm11 0zm10 0zm1 0zm36 0zm31 0zm-136 1zm33 0zm1 0zm3 0zm37 0zm8 0zm14 0zm8 0zm9 0zm27 0zm-140 1zm1 0zm11 0zm15 0zm14 0zm16 0zm10 0zm1 0zm2 0zm23 0zm11 0zm2 0zm9 0zm-117 1zm1 0zm28 0zm18 0zm1 0zm22 0zm1 0zm1 0zm26 0zm8 0zm2 0zm21 0zm12 0zm-141 1zm2 0zm11 0zm19 0zm4 0zm36 0zm14 0zm5 0zm10 0zm5 0zm1 0zm3 0zm14 0zm11 0zm6 0zm-131 1zm26 0zm34 0zm1 0zm1 0zm32 0zm1 0zm22 0zm15 0zm-140 1zm32 0zm2 0zm10 0zm18 0zm5 0zm1 0zm1 0zm4 0zm3 0zm5 0zm11 0zm12 0zm12 0zm23 0zm-118 1zm32 0zm15 0zm1 0zm2 0zm61 0zm5 0z"/>
<path transform="scale(0.25)" class="p g" d="M935 39zm-80 4zm26 0zm9 0zm-38 2zm-49 1zm28 3zm59 1zm-11 1zm31 1zm-144 1zm23 0zm86 0zm25 0zm-101 1zm91 0zm10 1zm-95 2zm-5 1zm21 0zm32 0zm3 0zm45 0zm-38 1zm-67 1zm7 1zm4 1zm5 0zm8 0zm69 0zm0 1zm5 0zm-41 3zm53 0zm-62 1zm11 0zm0 1zm42 0zm-114 2zm108 0zm-1 1zm1 2zm36 1zm-178 1zm82 0zm105 0zm-152 1zm106 0zm0 2zm-35 2zm70 0zm-147 1zm90 0zm-96 1zm105 0zm32 0zm-86 2zm66 0zm108 0zm-174 1zm40 0zm19 0zm-98 1zm-12 1zm62 0zm56 0zm31 0zm-134 1zm8 0zm92 0zm-137 1zm57 2zm75 0zm44 0zm-149 1zm73 0zm30 0zm-61 1zm25 0zm86 0zm-111 1zm42 0zm64 0zm-151 2zm44 0zm103 0zm4 0zm-96 1zm13 0zm-59 1zm36 0zm35 0zm35 0zm-78 1zm2 0zm50 0zm63 0zm-142 1zm41 0zm16 0zm13 1zm1 0zm14 0zm65 0zm-115 1zm14 0zm57 0zm-3 1zm4 0zm-141 1zm64 0zm38 0zm67 0zm14 0zm-94 1zm6 0zm-95 1zm70 0zm18 0zm52 0zm-45 1zm54 0zm27 0zm-112 2zm1 1zm24 0zm4 0zm18 0zm2 0zm-113 1zm104 0zm-6 1zm15 0zm27 0zm46 0zm-45 1zm-59 1zm8 0zm49 0zm36 0zm-164 1zm9 0zm22 0zm25 0zm35 0zm7 0zm68 0zm-126 1zm19 0zm24 0zm-60 1zm71 0zm55 0zm7 0zm-68 1zm23 0zm54 0zm10 0zm-127 1zm2 0zm6 0zm93 0zm15 0zm1 0zm10 0zm-172 1zm13 0zm41 0zm2 0zm11 0zm22 0zm21 0zm-18 1zm34 0zm9 0zm-149 1zm32 0zm6 0zm15 0zm75 0zm56 0zm-184 1zm47 0zm23 0zm-58 1zm56 0zm-25 1zm28 0zm3 0zm37 0zm29 0zm33 0zm-138 1zm3 0zm102 0zm-107 1zm70 0zm7 0zm45 0zm20 0zm4 0zm-70 1zm-40 1zm1 0zm42 0zm-85 1zm117 0zm20 0zm6 0zm-79 1zm9 0zm-82 1zm15 0zm18 0zm18 0zm19 0zm-48 1zm57 0zm46 0zm-93 1zm31 0zm60 0zm-2 1zm47 0zm-127 1zm35 0zm3 0zm-87 1zm41 0zm19 0zm31 0zm1 0zm1 0zm-104 1zm37 0zm45 0zm95 0zm-70 1zm-88 1zm5 0zm68 0zm14 0zm-47 1zm3 0zm35 0zm9 0zm6 0zm64 0zm-156 1zm16 0zm28 0zm8 0zm34 0zm3 0zm13 0zm-99 1zm14 0zm33 0zm25 0zm44 0zm2 0zm41 0zm-146 1zm36 0zm39 0zm-82 1zm6 0zm30 0zm4 0zm36 0zm1 0zm25 0zm-96 1zm36 0zm1 0zm104 0zm3 0zm-118 1zm11 0zm34 0zm69 0zm-141 1zm37 0zm52 0zm11 0zm8 0zm-124 1zm12 0zm119 0zm-115 1zm9 0zm2 0zm19 0zm8 0zm28 0zm7 0zm-4 1zm3 0zm-69 1zm-35 1zm24 0zm56 0zm25 0zm76 0zm-100 1zm24 0zm71 0zm-158 1zm16 0zm6 0zm99 0zm-139 1zm32 0zm4 0zm2 0zm71 0zm48 0zm-153 1zm31 0zm36 0zm18 0zm16 0zm25 0zm1 0zm34 0zm8 0zm9 0zm-139 1zm24 0zm18 0zm65 0zm15 0zm-134 1zm3 0zm13 0zm41 0zm16 0zm1 0zm69 0zm-109 1zm3 0zm42 0zm2 0zm49 0zm-163 1zm47 0zm24 0zm5 0zm12 0zm18 0zm48 0zm26 0zm-107 1zm25 0zm13 0zm2 0zm22 0zm7 0zm-3 1zm-75 1zm11 0zm29 0zm1 0zm8 0zm9 0zm20 0zm-134 1zm22 0zm4 0zm36 0zm109 0zm8 0zm-156 1zm20 0zm19 0zm29 0zm19 0zm3 0zm21 0zm9 0zm-101 1zm56 0zm2 0zm13 0zm55 0zm-133 1zm16 0zm38 0zm-96 1zm105 0zm3 0zm32 0zm3 0zm-38 1zm76 0zm-129 1zm29 1zm23 0zm1 0zm11 0zm-59 1zm39 0zm7 0zm-78 1zm92 0zm-95 1zm24 0zm97 0zm-144 1zm35 0zm35 0zm1 0zm4 0zm22 0zm14 0zm10 0zm18 0zm12 0zm-116 1zm64 0zm-59 1zm17 0zm61 0zm3 0zm-86 1zm72 0zm17 0zm16 0zm-131 1zm26 0zm1 0zm34 0zm77 0zm-107 1zm48 0zm6 0zm6 0zm5 0zm13 0zm22 0zm-78 1zm44 0zm8 0zm44 0zm-158 1zm35 0zm19 0zm45 0zm7 0zm35 0zm38 0zm-145 1zm35 0zm3 0zm11 0zm12 0zm4 0zm-55 1zm85 0zm9 0zm-114 1zm12 0zm107 0zm32 0zm-138 1zm16 0zm43 0zm-6 1zm14 0zm2 0zm-81 1zm11 0zm36 0zm7 0zm96 0zm-141 1zm108 0zm-95 1zm24 0zm25 0zm12 0zm8 0zm24 0zm36 0zm-175 1zm105 0zm34 0zm1 0zm2 0zm-94 1zm55 0zm38 0zm-142 1zm110 0zm21 0zm-119 1zm46 0zm37 0zm29 0zm24 0zm18 0zm-132 1zm70 0zm14 0zm39 0zm28 0zm-115 1zm39 0zm5 0zm27 0zm13 0zm22 0zm-168 1zm11 0zm47 0zm5 0zm29 0zm29 0zm10 0zm-82 1zm47 0zm-101 1zm34 0zm24 0zm26 0zm91 0zm-178 1zm35 0zm14 0zm22 0zm40 0zm-69 1zm64 0zm1 0zm31 0zm1 0zm39 0zm-142 1zm5 0zm1 0zm13 0zm8 0zm62 0zm-100 1zm47 0zm25 0zm8 0zm21 0zm33 0zm23 0zm5 0zm-164 1zm46 0zm3 0zm23 0zm10 0zm2 0zm11 0zm51 0zm7 0zm-175 1zm34 0zm31 0zm10 0zm-74 1zm32 0zm15 0zm43 0zm4 0zm10 0zm35 0zm-107 1zm66 0zm41 0zm-140 1zm24 0zm12 0zm33 0zm53 0zm18 0zm-105 1zm37 0zm23 0zm38 0zm-80 1zm7 0zm10 0zm2 0zm31 0zm8 0zm7 0zm-56 1zm8 0zm69 0zm-117 1zm5 0zm6 0zm54 0zm56 0zm17 0zm13 0zm-169 1zm2 0zm75 0zm23 0zm8 0zm74 0zm-180 1zm104 0zm8 0zm-116 1zm20 0zm17 0zm23 0zm7 0zm71 0zm-140 1zm13 0zm27 0zm68 0zm30 0zm1 0zm47 0zm-162 1zm11 0zm16 0zm36 0zm5 0zm-91 1zm55 0zm2 0zm10 0zm17 0zm-23 1zm6 0zm21 0zm13 0zm21 0zm50 0zm-169 1zm32 0zm35 0zm34 0zm11 0zm25 0zm15 0zm-121 1zm9 0zm68 0zm-112 1zm71 0zm-51 1zm11 0zm2 0zm17 0zm18 0zm1 0zm3 0zm68 0zm-120 1zm19 0zm27 0zm2 0zm45 0zm27 0zm-118 1zm66 0zm33 0zm65 0zm-162 1zm10 0zm5 0zm24 0zm44 0zm1 0zm24 0zm7 0zm-139 1zm15 0zm16 0zm41 0zm24 0zm22 0zm-92 1zm1 0zm9 0zm27 0zm44 0zm33 0zm-141 1zm36 0zm16 0zm52 0zm-91 1zm58 0zm39 0zm29 0zm4 0zm-143 1zm6 0zm64 0zm15 0zm30 0zm32 0zm-138 1zm21 0zm9 0zm13 0zm23 0zm13 0zm9 0zm8 0zm-104 1zm30 0zm12 0zm25 0zm2 0zm2 0zm30 0zm3 0zm16 0zm-106 1zm14 0zm3 0zm4 0zm35 0zm35 0zm42 0zm-119 1zm31 0zm10 0zm-66 1zm5 0zm25 0zm70 0zm-85 1zm13 0zm41 0zm70 0zm-142 1zm6 0zm26 0zm59 0zm25 0zm23 0zm2 0zm30 0zm-138 1zm2 0zm21 0zm14 0zm6 0zm29 0zm-87 1zm6 0zm8 0zm2 0zm70 0zm1 0zm10 0zm25 0zm2 0zm-143 1zm47 0zm24 0zm19 0zm16 0zm-74 1zm6 0zm7 0zm37 0zm22 0zm1 0zm1 0zm35 0zm-121 1zm24 0zm26 0zm22 0zm15 0zm44 0zm-140 1zm25 0zm70 0zm17 0zm-113 1zm28 0zm68 0zm38 0zm-126 1zm53 0zm5 0zm19 0zm-38 1zm84 0zm-130 1zm60 0zm1 0zm35 0zm25 0zm-83 1zm79 0zm-127 1zm1 0zm48 0zm21 0zm8 0zm38 0zm-117 1zm34 0zm16 0zm34 0zm12 0zm1 0zm8 0zm38 0zm31 0zm-174 1zm58 0zm11 0zm1 0zm1 0zm1 0zm35 0zm11 0zm-104 1zm57 0zm3 0zm1 0zm20 0zm35 0zm47 0zm-175 1zm10 0zm6 0zm16 0zm1 0zm7 0zm2 0zm8 0zm21 0zm25 0zm-63 1zm4 0zm32 0zm109 0zm-155 1zm3 0zm38 0zm29 0zm22 0zm-82 1zm1 0zm9 0zm26 0zm1 0zm33 0zm35 0zm1 0zm34 0zm-175 1zm1 0zm39 0zm2 0zm62 0zm-104 1zm36 0zm35 0zm20 0zm15 0zm8 0zm16 0zm-89 1zm70 0zm27 0zm14 0zm1 0zm-147 1zm72 0zm3 0zm23 0zm3 0zm-94 1zm22 0zm9 0zm72 0zm-115 1zm11 0zm57 0zm2 0zm1 0zm5 0zm5 0zm13 0zm78 0zm-140 1zm38 0zm-70 1zm70 0zm36 0zm7 0zm43 0zm-124 1zm4 0zm15 0zm17 0zm74 0zm-143 1zm15 0zm4 0zm2 0zm17 0zm1 0zm8 0zm22 0zm-47 1zm48 0zm1 0zm1 0zm74 0zm-144 1zm33 0zm73 0zm35 0zm-143 1zm3 0zm7 0zm8 0zm16 0zm3 0zm47 0zm22 0zm-105 1zm5 0zm20 0zm44 0zm30 0zm39 0zm-134 1zm65 0zm4 0zm31 0zm-94 1zm3 0zm5 0zm20 0zm5 0zm27 0zm12 0zm23 0zm-65 1zm79 0zm-110 1zm25 0zm14 0zm36 0zm2 0zm62 0zm-114 1zm3 0zm27 0zm3 0zm20 0zm19 0zm-106 1zm33 0zm35 0zm9 0zm7 0zm-65 1zm49 0zm17 0zm62 0zm-147 1zm54 0zm2 0zm5 0zm8 0zm1 0zm82 0zm-133 1zm36 0zm16 0zm24 0zm-95 1zm22 0zm13 0zm35 0zm86 0zm-145 1zm23 0zm9 0zm11 0zm16 0zm18 0zm-89 1zm36 0zm35 0zm-28 1zm27 0zm2 0zm10 0zm24 0zm-96 1zm24 0zm1 0zm7 0zm27 0zm8 0zm4 0zm26 0zm-107 1zm33 0zm2 0zm16 0zm24 0zm31 0zm-99 1zm2 0zm26 0zm5 0zm20 0zm19 0zm-65 1zm23 0zm15 0zm6 0zm11 0zm1 0zm2 0zm33 0zm10 0zm27 0zm-141 1zm9 0zm25 0zm108 0zm-107 1zm34 0zm24 0zm-77 1zm33 0zm9 0zm-59 1zm23 0zm10 0zm2 0zm-12 1zm9 0zm5 0zm2 0zm4 0zm33 0zm7 0zm21 0zm2 0zm-99 1zm29 0zm29 0zm1 0zm9 0zm-59 1zm8 0zm12 0zm1 0zm31 0zm1 0zm81 0zm-145 1zm31 0zm40 0zm-42 1zm2 0zm4 0zm68 0zm57 0zm-165 1zm1 0zm17 0zm105 0zm-111 1zm11 0zm7 0zm5 0zm30 0zm4 0zm3 0zm-52 1zm11 0zm3 0zm4 0zm6 0zm1 0zm6 0zm10 0zm24 0zm76 0zm-139 1zm12 0zm52 0zm54 0zm-133 1zm21 0zm8 0zm1 0zm31 0zm2 0zm1 0zm36 0zm-107 1zm21 0zm45 0zm4 0zm35 0zm-89 1zm8 0zm6 0zm5 0zm71 0zm-72 1zm1 0zm35 0zm1 0zm1 0zm-39 1zm19 0zm10 0z"/>
<path transform="scale(0.25)" class="p o" d="M761 308zm7 0zm17 0zm44 0zm-71 1zm4 0zm6 0zm17 0zm33 0zm12 0zm54 0zm-100 1zm2 0zm17 0zm15 0zm-30 1zm58 0zm10 0zm-84 1zm2 0zm3 0zm23 0zm21 0zm6 0zm-69 1zm25 0zm-34 1zm1 0zm1 0zm70 0zm-71 1zm14 0zm7 0zm8 0zm4 0zm1 0zm2 0zm2 0zm32 0zm34 0zm36 0zm-140 1zm2 0zm3 0zm11 0zm19 0zm14 0zm8 0zm2 0zm-4 1zm15 0zm13 0zm32 0zm-115 1zm48 0zm26 0zm12 0zm2 0zm-89 1zm1 0zm8 0zm26 0zm-34 1zm34 0zm17 0zm17 0zm8 0zm63 0zm-138 1zm9 0zm21 0zm2 0zm1 0zm-33 1zm8 0zm17 0zm45 0zm5 0zm5 0zm21 0zm-92 1zm15 0zm9 0zm63 0zm-91 1zm17 0zm46 0zm6 0zm33 0zm19 0zm-100 1zm40 0zm3 0zm7 0zm-61 1zm21 0zm136 0zm-162 1zm23 0zm2 0zm12 0zm23 0zm-65 1zm10 0zm19 0zm8 0zm26 0zm1 0zm1 1zm-70 1zm47 0zm92 0zm-128 1zm1 0zm9 0zm11 0zm4 0zm24 0zm9 0zm23 0zm-22 1zm-71 1zm34 0zm21 0zm15 0zm51 0zm20 0zm-140 1zm10 0zm68 0zm-78 1zm23 0zm7 0zm4 0zm33 0zm-63 1zm8 0zm3 0zm48 0zm13 0zm-74 1zm2 0zm27 0zm39 0zm-37 1zm70 0zm2 0zm20 0zm-91 1zm9 0zm15 0zm-59 1zm58 0zm-44 1zm19 0zm3 0zm139 0zm-176 1zm68 0zm1 0zm36 0zm-103 1zm86 0zm-40 1zm-12 1zm69 0zm3 0zm-87 1zm8 0zm44 0zm-71 1zm-2 1zm9 0zm7 0zm14 0zm3 0zm2 0zm9 0zm15 0zm12 0zm-71 1zm1 0zm34 0zm26 0zm-59 1zm40 0zm3 0zm33 0zm21 0zm54 0zm-148 1zm14 0zm50 0zm-59 1zm6 1zm-16 1zm79 0zm4 0zm-66 1zm17 0zm37 0zm-69 1zm58 0zm46 0zm71 0zm-141 1zm52 0zm-81 1zm1 0zm10 0zm116 0zm-113 1zm10 0zm11 0zm2 0zm27 0zm1 0zm46 0zm-117 1zm1 0zm8 0zm26 0zm0 1zm2 0zm32 0zm-68 1zm7 0zm26 0zm1 0zm35 0zm35 0zm-104 1zm41 0zm16 0zm9 0zm1 0zm6 0zm33 0zm38 0zm-146 1zm1 0zm70 0zm37 0zm-105 1zm20 0zm7 0zm6 0zm20 0zm22 0zm-44 1zm2 0zm6 0zm-5 1zm1 0zm3 0zm-41 1zm1 0zm43 0zm28 0zm-70 1zm33 0zm1 0zm12 0zm1 0zm20 0zm2 0zm-71 1zm38 0zm-32 1zm2 0zm27 0zm1 0zm14 0zm23 0zm62 0zm-122 1zm5 0zm51 0zm-67 1zm14 0zm18 0zm3 0zm20 0zm-47 1zm4 0zm2 0zm45 0zm25 0zm-62 1zm6 0zm6 0zm35 0zm4 0zm-64 1zm9 0zm4 0zm54 0zm-78 1zm1 0zm2 0zm31 0zm35 0zm1 0zm2 0zm33 0zm-72 1zm78 0zm21 0zm-132 1zm1 0zm33 0zm3 0zm4 0zm1 0zm28 0zm-56 1zm2 0zm34 0zm10 0zm-43 1zm18 0zm10 0zm31 0zm-74 1zm4 0zm1 0zm4 0zm24 0zm15 0zm34 0zm7 0zm-55 1zm71 0zm-107 1zm9 0zm21 0zm6 0zm4 0zm31 0zm16 1zm-86 1zm62 0zm6 0zm-46 1zm-23 1zm31 0zm4 0zm17 0zm-52 1zm35 0zm7 0zm29 0zm-42 1zm6 0zm35 0zm35 0zm17 0zm-122 1zm7 0zm18 0zm36 0zm11 0zm-29 1zm17 0zm6 0zm-30 1zm33 0zm-34 1zm35 0zm4 0zm-40 1zm1 0zm-35 1zm80 0zm62 0zm-128 1zm57 0zm-37 1zm6 0zm4 0zm-33 1zm23 0zm47 0zm-65 1zm49 0zm2 0zm-50 1zm3 0zm50 0zm11 0zm-81 1zm3 0zm32 0zm11 1zm7 0zm-19 1zm37 0zm-61 1zm23 0zm45 0zm-67 1zm26 0zm14 0zm25 0zm5 0zm-55 1zm10 0zm1 0zm96 0zm-131 1zm32 0zm13 0zm-47 1zm1 0zm6 0zm1 0zm26 0zm36 0zm-70 1zm12 1zm10 0zm9 0zm1 0zm31 0zm-40 1zm46 0zm-36 1zm2 0zm6 0zm-40 1zm17 0zm11 0zm57 0zm-83 1zm8 0zm22 0zm-21 1zm41 0zm19 0zm-72 1zm28 0zm1 0zm16 0zm-13 1zm4 0zm13 0zm9 0zm-58 1zm25 0zm10 0zm0 1zm-12 1zm7 0zm5 0zm15 0zm18 0zm2 0zm2 0zm11 0zm-81 1zm5 0zm-7 1zm26 0zm28 0zm16 0zm10 0zm-79 1zm11 0zm9 0zm14 0zm10 0zm-44 1zm15 0zm2 0zm8 0zm6 0zm39 0zm-40 1z"/>
<path transform="scale(0.25)" class="p b" d="M675 307zm-66 1zm26 0zm19 0zm22 0zm37 0zm23 0zm-64 1zm10 0zm7 0zm-80 1zm1 0zm48 0zm20 0zm43 0zm26 0zm2 0zm-108 1zm2 0zm36 0zm19 0zm29 0zm15 0zm-134 1zm53 0zm10 0zm30 0zm29 0zm-117 1zm35 0zm7 0zm39 0zm21 0zm3 0zm16 0zm4 0zm4 0zm7 0zm-65 1zm28 0zm25 0zm2 0zm1 0zm7 0zm-68 1zm26 0zm7 0zm25 0zm2 0zm7 0zm2 0zm-71 1zm37 0zm1 0zm16 0zm15 0zm-103 1zm10 0zm19 0zm3 0zm3 0zm32 0zm3 0zm31 0zm4 0zm1 0zm-141 1zm58 0zm11 0zm1 0zm37 0zm21 0zm-129 1zm1 0zm8 0zm5 0zm9 0zm7 0zm4 0zm3 0zm103 0zm-133 1zm98 0zm15 0zm19 0zm2 0zm-104 1zm12 0zm5 0zm7 0zm7 0zm3 0zm4 0zm5 0zm23 0zm38 0zm-131 1zm3 0zm16 0zm3 0zm1 0zm10 0zm1 0zm10 0zm8 0zm8 0zm3 0zm22 0zm38 0zm2 0zm1 0zm-114 1zm13 0zm24 0zm13 0zm33 0zm3 0zm9 0zm3 0zm-95 1zm10 0zm71 0zm-90 1zm14 0zm6 0zm2 0zm34 0zm1 0zm5 0zm29 0zm35 0zm-139 1zm15 0zm15 0zm21 0zm7 0zm18 0zm9 0zm20 0zm28 0zm1 0zm4 0zm-140 1zm1 0zm12 0zm14 0zm66 0zm19 0zm12 0zm16 0zm-140 1zm3 0zm11 0zm20 0zm1 0zm1 0zm30 0zm7 0zm33 0zm7 0zm13 1zm-91 1zm15 0zm8 0zm11 0zm4 0zm35 0zm10 0zm1 0zm-85 1zm11 0zm25 0zm1 0zm2 0zm23 0zm37 0zm7 0zm-122 1zm32 0zm20 0zm1 0zm16 0zm51 0zm-137 1zm32 0zm22 0zm9 0zm28 0zm2 0zm12 0zm1 0zm26 0zm5 0zm-137 1zm24 0zm27 0zm46 0zm40 0zm2 0zm-141 1zm26 0zm19 0zm2 0zm9 0zm16 0zm32 0zm3 0zm34 0zm-122 1zm9 0zm5 0zm3 0zm32 0zm73 0zm-133 1zm59 0zm4 0zm1 0zm31 0zm11 0zm7 0zm-102 1zm16 0zm36 0zm3 0zm4 0zm18 0zm5 0zm-100 1zm66 0zm5 0zm6 0zm26 0zm20 0zm9 0zm6 0zm-136 1zm30 0zm25 0zm48 0zm27 0zm8 0zm-135 1zm17 0zm44 0zm4 0zm-66 1zm8 0zm8 0zm7 0zm9 0zm28 0zm23 0zm19 0zm11 0zm15 0zm8 0zm-139 1zm35 0zm5 0zm12 0zm18 0zm25 0zm8 0zm36 0zm-134 1zm2 0zm12 0zm44 0zm26 0zm-90 1zm37 0zm23 0zm-60 1zm15 0zm6 0zm12 0zm1 0zm11 0zm54 0zm-100 1zm4 0zm68 0zm51 0zm12 0zm6 0zm-141 1zm12 0zm5 0zm42 0zm11 0zm1 0zm1 0zm34 0zm1 0zm1 0zm34 0zm-131 1zm15 0zm32 0zm46 0zm1 0zm10 0zm26 0zm-107 1zm7 0zm30 0zm3 0zm35 0zm16 0zm10 0zm6 0zm-140 1zm8 0zm54 0zm14 0zm-75 1zm6 0zm28 0zm1 0zm6 0zm27 0zm5 0zm31 0zm1 0zm6 0zm1 0zm26 0zm-139 1zm69 0zm49 0zm6 0zm-108 1zm12 0zm5 0zm1 0zm6 0zm27 0zm3 0zm23 0zm7 0zm3 0zm-102 1zm29 0zm2 0zm2 0zm3 0zm33 0zm19 0zm16 0zm1 0zm25 0zm-129 1zm31 0zm2 0zm8 0zm17 0zm9 0zm1 0zm21 0zm-85 1zm22 0zm3 0zm10 0zm29 0zm36 0zm14 0zm8 0zm7 0zm4 0zm-138 1zm9 0zm61 0zm1 0zm39 0zm13 0zm-124 1zm25 0zm3 0zm10 0zm31 0zm5 0zm23 0zm9 0zm27 0zm1 0zm-115 1zm11 0zm4 0zm34 0zm1 0zm5 0zm10 0zm56 0zm-140 1zm28 0zm1 0zm7 0zm16 0zm54 0zm14 0zm-106 1zm16 0zm18 0zm5 0zm17 0zm9 0zm28 0zm5 0zm4 0zm6 0zm3 0zm-106 1zm3 0zm34 0zm24 0zm59 0zm-140 1zm18 0zm9 0zm11 0zm53 0zm-56 1zm2 0zm3 0zm32 0zm67 0zm-137 1zm34 0zm28 0zm7 0zm56 0zm-126 1zm24 0zm46 0zm1 0zm10 0zm24 0zm6 0zm-111 1zm1 0zm9 0zm21 0zm33 0zm6 0zm25 0zm10 0zm7 0zm-80 1zm3 0zm36 0zm35 0zm-106 1zm3 0zm20 0zm46 0zm20 0zm1 0zm15 0zm3 0zm15 0zm17 0zm-135 1zm12 0zm72 0zm3 0zm13 0zm26 0zm9 0zm-140 1zm3 0zm8 0zm2 0zm3 0zm7 0zm12 0zm22 0zm19 0zm28 0zm17 0zm15 0zm3 0zm-138 1zm34 0zm4 0zm17 0zm27 0zm23 0zm5 0zm-112 1zm1 0zm55 0zm11 0zm69 0zm5 0zm1 0zm-139 1zm10 0zm21 0zm1 0zm1 0zm3 0zm22 0zm46 0zm18 0zm17 0zm-141 1zm14 0zm22 0zm5 0zm28 0zm3 0zm34 0zm25 0zm-122 1zm5 0zm17 0zm3 0zm2 0zm30 0zm38 0zm13 0zm20 0zm2 0zm-120 1zm23 0zm24 0zm3 0zm9 0zm6 0zm32 0zm19 0zm5 0zm-140 1zm10 0zm22 0zm4 0zm15 0zm13 0zm6 0zm1 0zm11 0zm8 0zm49 0zm-140 1zm2 0zm6 0zm38 0zm60 0zm7 0zm29 0zm-140 1zm15 0zm14 0zm5 0zm14 0zm1 0zm2 0zm36 0zm1 0zm17 0zm4 0zm27 0zm-136 1zm4 0zm29 0zm2 0zm18 0zm52 0zm29 0zm6 0zm-142 1zm6 0zm11 0zm5 0zm16 0zm1 0zm1 0zm50 0zm31 0zm18 0zm-138 1zm4 0zm15 0zm7 0zm9 0zm19 0zm10 0zm41 0zm19 0zm-124 1zm2 0zm3 0zm29 0zm1 0zm10 0zm21 0zm41 0zm9 0zm24 0zm-141 1zm21 0zm11 0zm3 0zm1 0zm1 0zm17 0zm10 0zm7 0zm35 0zm5 0zm11 0zm19 0zm-105 1zm13 0zm46 0zm12 0zm28 0zm6 0zm-140 1zm10 0zm1 0zm14 0zm8 0zm28 0zm36 0zm42 0zm1 0zm-127 1zm51 0zm5 0zm1 0zm1 0zm34 0zm2 0zm23 0zm9 0zm2 0zm-116 1zm9 0zm1 0zm15 0zm9 0zm12 0zm37 0zm12 0zm3 0zm-123 1zm9 0zm1 0zm24 0zm1 0zm1 0zm8 0zm96 0zm-139 1zm12 0zm3 0zm17 0zm16 0zm57 0zm1 0zm26 0zm1 0zm-131 1zm10 0zm14 0zm7 0zm2 0zm5 0zm30 0zm3 0zm32 0zm1 0zm6 0zm4 0zm-117 1zm7 0zm1 0zm4 0zm21 0zm1 0zm2 0zm32 0zm1 0zm24 0zm10 0zm1 0zm1 0zm5 0zm20 0zm10 0zm-138 1zm4 0zm9 0zm1 0zm28 0zm3 0zm41 0zm17 0zm-102 1zm31 0zm2 0zm3 0zm36 0zm65 0zm-116 1zm7 0zm14 0zm2 0zm22 0zm72 0zm-142 1zm2 0zm4 0zm11 0zm1 0zm16 0zm17 0zm1 0zm1 0zm6 0zm10 0zm17 0zm32 0zm11 0zm12 0zm-141 1zm2 0zm3 0zm30 0zm6 0zm1 0zm20 0zm2 0zm4 0zm1 0zm73 0zm-140 1zm10 0zm7 0zm16 0zm1 0zm1 0zm9 0zm25 0zm37 0zm17 0zm11 0zm5 0zm-140 1zm4 0zm2 0zm2 0zm20 0zm2 0zm7 0zm14 0zm13 0zm8 0zm7 0zm6 0zm1 0zm19 0zm27 0zm5 0zm-126 1zm26 0zm10 0zm1 0zm6 0zm4 0zm9 0zm3 0zm21 0zm-92 1zm11 0zm21 0zm2 0zm3 0zm1 0zm3 0zm16 0zm6 0zm50 0zm7 0zm7 0zm-127 1zm1 0zm7 0zm5 0zm7 0zm17 0zm23 0zm3 0zm2 0zm3 0zm15 0zm4 0zm1 0zm18 0zm33 0zm2 0zm-141 1zm1 0zm1 0zm1 0zm23 0zm5 0zm2 0zm15 0zm68 0zm16 0zm-130 1zm4 0zm33 0zm6 0zm23 0zm1 0zm2 0zm2 0zm7 0zm13 0zm7 0zm5 0zm6 0zm27 0zm4 0zm-142 1zm5 0zm4 0zm1 0zm25 0zm62 0zm15 0zm-105 1zm29 0zm17 0zm5 0zm8 0zm22 0zm22 0zm31 0zm-141 1zm1 0zm35 0zm35 0zm1 0zm25 0zm36 0zm-119 1zm20 0zm1 0zm2 0zm8 0zm5 0zm21 0zm7 0zm10 0zm19 0zm25 0zm-111 1zm7 0zm8 0zm5 0zm16 0zm17 0zm32 0zm1 0zm12 0zm21 0zm-131 1zm4 0zm21 0zm2 0zm18 0zm19 0zm4 0zm46 0zm12 0zm5 0zm1 0zm-140 1zm5 0zm8 0zm21 0zm14 0zm13 0zm6 0zm21 0zm8 0zm2 0zm9 0zm34 0zm-141 1zm3 0zm4 0zm1 0zm7 0zm20 0zm1 0zm11 0zm23 0zm1 0zm9 0zm8 0zm19 0zm9 0zm-89 1zm18 0zm6 0zm18 0zm4 0zm22 0zm15 0zm-97 1zm13 0zm8 0zm2 0zm6 0zm29 0zm34 0zm1 0zm-86 1zm9 0zm6 0zm2 0zm33 0zm18 0zm15 0zm7 0zm-91 1zm50 0zm1 0zm3 0zm14 0zm6 0zm22 0zm10 0zm15 0zm-140 1zm3 0zm6 0zm2 0zm19 0zm14 0zm11 0zm14 0zm18 0zm52 0zm-140 1zm2 0zm5 0zm22 0zm34 0zm7 0zm1 0zm29 0zm4 0zm27 0zm9 0zm1 0zm-141 1zm32 0zm3 0zm10 0zm10 0zm17 0zm34 0zm2 0zm32 0zm-139 1zm1 0zm29 0zm4 0zm30 0zm42 0zm34 0zm-140 1zm34 0zm5 0zm32 0zm31 0zm30 0zm-133 1zm7 0zm2 0zm1 0zm10 0zm5 0zm45 0zm43 0zm9 0zm-121 1zm11 0zm11 0zm7 0zm4 0zm51 0zm55 0zm1 0zm-139 1zm2 0zm30 0zm2 0zm11 0zm23 0zm19 0zm21 0zm30 0zm1 0z"/>
</g>
<path class="ax" d="M151.8 106.6H258.0M151.8 106.6V10.0M151.8 106.6v1.8M160.7 106.6v1.0M169.5 106.6v1.8M178.4 106.6v1.0M187.2 106.6v1.8M196.1 106.6v1.0M204.9 106.6v1.8M213.8 106.6v1.0M222.6 106.6v1.8M231.4 106.6v1.0M240.3 106.6v1.8M249.2 106.6v1.0M258.0 106.6v1.8M151.8 106.6h-1.8M151.8 99.1h-1.0M151.8 91.7h-1.8M151.8 84.2h-1.0M151.8 76.8h-1.8M151.8 69.3h-1.0M151.8 61.9h-1.8M151.8 54.4h-1.0M151.8 47.0h-1.8M151.8 39.5h-1.0M151.8 32.1h-1.8M151.8 24.6h-1.0M151.8 17.2h-1.8"/>
<g class="tl" text-anchor="middle"><text transform="translate(151.8 113.4)scale(.8 1)">0</text><text transform="translate(169.5 113.4)scale(.8 1)">2</text><text transform="translate(187.2 113.4)scale(.8 1)">4</text><text transform="translate(204.9 113.4)scale(.8 1)">6</text><text transform="translate(222.6 113.4)scale(.8 1)">8</text><text transform="translate(240.3 113.4)scale(.8 1)">10</text><text transform="translate(258.0 113.4)scale(.8 1)">12</text></g>
<g class="tl" text-anchor="end"><text transform="translate(149.5 108.2)scale(.8 1)">0</text><text transform="translate(149.5 93.3)scale(.8 1)">2</text><text transform="translate(149.5 78.4)scale(.8 1)">4</text><text transform="translate(149.5 63.5)scale(.8 1)">6</text><text transform="translate(149.5 48.6)scale(.8 1)">8</text><text transform="translate(149.5 33.7)scale(.8 1)">10</text><text transform="translate(149.5 18.8)scale(.8 1)">12</text></g>
<path class="rl" d="M151.8 106.6L249.2 22.4"/>
<text class="at" x="189.8" y="121.0" textLength="29.6" lengthAdjust="spacingAndGlyphs">Actual Distance</text>
<text class="at" transform="translate(144.0 58.3)rotate(-90)" x="-21.4" y="0" textLength="42.8" lengthAdjust="spacingAndGlyphs">Prediction Distance</text>
<text class="rt" transform="translate(248.5 41.6)scale(0.89 1)">R=0.8430</text>
<text class="rt" transform="translate(248.5 47.7)scale(0.89 1)">slope=1.0274</text>
<text class="cap" transform="translate(211.1 144.0)scale(.94 1)">(b) Node2Vec</text>
<g filter="url(#bl)">
<path transform="scale(0.25)" class="p r" d="M1324 52zm12 30zm2 17zm-19 4zm-14 5zm3 1zm-62 15zm68 1zm-79 2zm65 5zm41 1zm-21 3zm7 0zm13 0zm-139 1zm1 2zm13 3zm126 2zm-72 1zm69 5zm-66 1zm-36 1zm70 0zm35 1zm-37 1zm-67 4zm63 0zm-90 3zm62 0zm67 1zm-32 1zm31 2zm4 3zm-2 2zm-39 1zm4 0zm34 1zm-4 1zm-134 1zm72 0zm54 2zm13 1zm-26 1zm6 0zm-3 1zm8 0zm16 0zm-61 1zm12 0zm17 0zm-3 1zm-35 2zm71 0zm-141 1zm68 0zm22 0zm49 1zm-116 1zm11 0zm70 1zm20 0zm-20 2zm-13 2zm49 1zm-107 3zm91 0zm10 0zm6 1zm-94 1zm83 0zm-128 1zm34 0zm104 0zm-105 1zm24 0zm10 0zm29 0zm14 1zm29 0zm-38 2zm37 0zm-33 1zm33 0zm-31 1zm-6 1zm10 1zm23 0zm5 1zm1 0zm-87 1zm35 1zm14 0zm17 0zm-24 1zm8 0zm-34 1zm49 0zm20 0zm-71 1zm1 0zm37 0zm32 0zm2 0zm-17 1zm-96 1zm1 0zm42 0zm68 0zm-70 1zm28 0zm18 0zm-47 1zm3 0zm29 0zm22 0zm-85 1zm97 0zm4 0zm-31 1zm-27 1zm34 0zm-8 1zm23 0zm-129 1zm115 0zm-81 1zm36 0zm38 0zm15 0zm9 0zm9 0zm-139 3zm70 0zm-4 1zm14 0zm34 0zm-9 1zm1 0zm-17 1zm16 0zm11 0zm20 0zm-138 1zm62 0zm43 0zm23 0zm-49 1zm34 0zm-8 1zm15 0zm-91 1zm6 0zm36 0zm1 0zm31 0zm34 0zm3 0zm-70 1zm23 0zm36 0zm-58 1zm9 0zm44 1zm-123 1zm33 0zm-33 1zm117 0zm-96 1zm12 0zm72 0zm22 0zm6 0zm8 0zm-82 1zm39 0zm-46 1zm87 0zm-105 1zm45 0zm59 0zm-34 1zm1 0zm34 0zm-119 1zm49 0zm1 0zm1 0zm34 0zm-99 1zm19 0zm32 0zm-18 1zm20 0zm77 0zm-83 1zm-20 1zm39 0zm30 0zm-41 1zm8 0zm34 0zm3 0zm16 0zm3 0zm11 0zm-71 1zm1 0zm5 0zm44 0zm25 0zm-106 1zm34 0zm2 0zm35 0zm10 0zm2 0zm-38 1zm24 0zm2 0zm1 0zm28 0zm-100 1zm58 0zm25 0zm18 0zm-91 1zm25 0zm1 0zm37 0zm-78 1zm28 0zm28 0zm-48 1zm68 0zm-106 1zm96 0zm8 0zm-11 1zm46 0zm2 0zm-141 1zm2 0zm36 0zm92 0zm10 0zm1 0zm-48 1zm6 0zm-30 1zm2 0zm4 0zm22 0zm6 0zm2 0zm36 0zm-106 1zm12 0zm25 0zm26 0zm33 0zm-61 1zm3 0zm32 0zm2 0zm1 0zm8 0zm21 0zm2 0zm-134 1zm110 0zm3 0zm22 0zm-103 1zm56 0zm15 0zm-73 1zm35 0zm54 0zm-118 1zm29 0zm36 0zm31 0zm5 0zm-12 1zm21 0zm1 0zm10 0zm14 0zm-100 1zm52 0zm22 0zm9 0zm9 0zm7 0zm1 0zm-141 1zm66 0zm4 0zm38 0zm32 0zm-61 1zm41 0zm11 0zm5 0zm4 0zm-105 1zm37 0zm1 0zm47 0zm5 0zm-125 1zm69 0zm7 0zm7 0zm21 1zm37 0zm-130 1zm65 0zm-62 1zm95 0zm32 0zm-112 1zm4 0zm1 0zm41 0zm13 0zm9 0zm-96 1zm5 0zm3 0zm27 0zm20 0zm10 0zm42 0zm4 0zm5 0zm22 0zm-138 1zm6 0zm27 0zm23 0zm11 0zm4 0zm28 0zm5 0zm1 0zm2 0zm11 0zm21 0zm1 0zm-138 1zm14 0zm1 0zm50 0zm17 0zm6 0zm14 0zm2 0zm-106 1zm9 0zm10 0zm16 0zm1 0zm8 0zm1 0zm21 0zm2 0zm2 0zm27 0zm7 0zm1 0zm16 0zm6 0zm-98 1zm5 0zm1 0zm9 0zm1 0zm19 0zm5 0zm2 0zm25 0zm7 0zm10 0zm21 0zm-64 1zm1 0zm1 0zm4 0zm17 0zm4 0zm2 0zm4 0zm13 0zm8 0zm14 0zm-109 1zm7 0zm1 0zm15 0zm12 0zm4 0zm2 0zm1 0zm6 0zm10 0zm19 0zm33 0zm-69 1zm4 0zm1 0zm31 0zm9 0zm4 0zm17 0zm4 0zm1 0zm-140 1zm47 0zm32 0zm10 0zm15 0zm1 0zm1 0zm32 0zm1 0zm-106 1zm5 0zm20 0zm1 0zm9 0zm2 0zm2 0zm8 0zm20 0zm18 0zm2 0zm16 0zm3 0zm-140 1zm1 0zm21 0zm50 0zm15 0zm4 0zm2 0zm7 0zm4 0zm1 0zm2 0zm-107 1zm16 0zm20 0zm1 0zm22 0zm8 0zm2 0zm1 0zm12 0zm13 0zm2 0zm5 0zm37 0zm-110 1zm27 0zm5 0zm13 0zm39 0zm18 0zm-131 1zm7 0zm1 0zm22 0zm4 0zm2 0zm33 0zm37 0zm34 0zm-132 1zm26 0zm1 0zm1 0zm32 0zm1 0zm1 0zm39 0zm3 0zm2 0zm18 0zm-132 1zm1 0zm25 0zm7 0zm2 0zm30 0zm5 0zm33 0zm23 0zm-124 1zm10 0zm21 0zm34 0zm1 0zm6 0zm31 0zm1 0zm33 0zm-140 1zm1 0zm6 0zm5 0zm27 0zm1 0zm9 0zm19 0zm2 0zm29 0zm2 0zm2 0zm2 0zm23 0zm2 0zm9 0zm-137 1zm18 0zm49 0zm3 0zm7 0zm6 0zm12 0zm10 0zm2 0zm-109 1zm8 0zm6 0zm4 0zm22 0zm7 0zm24 0zm1 0zm2 0zm9 0zm23 0zm22 0zm6 0zm-123 1zm1 0zm15 0zm5 0zm15 0zm2 0zm9 0zm9 0zm24 0zm14 0zm1 0zm1 0zm1 0zm28 0zm-100 1zm1 0zm13 0zm6 0zm3 0zm1 0zm11 0zm34 0zm2 0zm25 0zm-132 1zm16 0zm12 0zm7 0zm14 0zm19 0zm18 0zm-78 1zm10 0zm27 0zm24 0zm1 0zm4 0zm31 0zm1 0zm3 0zm1 0zm7 0zm7 0zm-121 1zm7 0zm5 0zm21 0zm18 0zm1 0zm3 0zm11 0zm3 0zm21 0zm13 0zm10 0zm8 0zm-121 1zm34 0zm21 0zm10 0zm4 0zm2 0zm8 0zm23 0zm1 0zm3 0zm-87 1zm13 0zm1 0zm1 0zm11 0zm21 0zm1 0zm29 0zm8 0zm5 0zm6 0zm22 0zm-139 1zm19 0zm1 0zm12 0zm18 0zm6 0zm18 0zm6 0zm25 0zm-105 1zm1 0zm33 0zm4 0zm26 0zm3 0zm2 0zm34 0zm1 0zm18 0zm17 0zm-105 1zm3 0zm34 0zm18 0zm15 0zm2 0zm32 0zm-108 1zm4 0zm16 0zm4 0zm8 0zm6 0zm2 0zm6 0zm27 0zm1 0zm2 0z"/>
<path transform="scale(0.25)" class="p g" d="M1484 40zm-67 1zm-1 1zm26 0zm18 0zm-13 1zm-13 1zm14 1zm141 0zm-176 1zm8 0zm28 1zm59 0zm-26 3zm37 2zm-36 2zm3 0zm-75 3zm118 0zm-152 1zm73 0zm-20 1zm10 0zm10 0zm32 0zm30 2zm7 1zm-142 1zm73 0zm35 0zm2 0zm-120 1zm44 0zm1 0zm117 1zm-111 1zm97 0zm4 1zm-88 3zm88 0zm-108 1zm71 0zm-16 1zm13 0zm50 0zm-151 1zm139 1zm-110 1zm7 0zm17 0zm20 1zm22 0zm48 1zm-110 1zm-35 1zm36 0zm93 0zm-71 2zm50 1zm-86 2zm15 0zm39 0zm-40 1zm67 0zm4 0zm1 0zm-107 1zm118 0zm-124 1zm51 0zm24 0zm1 0zm16 0zm53 0zm-103 1zm71 2zm45 0zm-179 1zm27 0zm35 0zm13 0zm59 0zm-122 1zm161 0zm-84 2zm9 0zm15 2zm21 1zm2 0zm33 1zm-137 1zm52 0zm48 0zm40 0zm-166 1zm162 1zm-60 1zm-93 1zm49 0zm110 0zm-148 1zm12 0zm55 0zm26 0zm-100 1zm43 1zm72 0zm13 0zm-85 1zm71 0zm-68 1zm37 1zm46 0zm6 0zm-161 1zm19 1zm85 0zm36 0zm-116 1zm27 0zm30 0zm76 0zm-51 1zm-71 1zm1 0zm74 0zm52 0zm-141 1zm13 0zm106 0zm15 0zm-85 1zm35 0zm-73 1zm109 0zm-75 1zm11 1zm62 0zm-123 1zm90 0zm42 0zm-131 1zm16 0zm37 0zm36 0zm70 0zm-108 1zm36 0zm42 0zm30 0zm-97 1zm32 0zm37 0zm-80 1zm29 1zm9 0zm74 0zm-145 1zm67 0zm4 0zm-105 1zm103 0zm1 0zm36 0zm-107 1zm34 0zm35 0zm1 0zm33 1zm38 0zm-142 1zm36 0zm1 0zm14 0zm40 0zm-43 1zm28 0zm31 0zm-106 1zm72 0zm28 0zm-100 1zm17 0zm90 0zm-108 1zm40 0zm23 0zm83 0zm-145 1zm66 0zm-101 1zm71 0zm42 0zm11 0zm19 0zm-107 1zm17 0zm17 0zm3 0zm11 0zm-18 1zm4 0zm47 0zm58 0zm-71 1zm2 1zm4 0zm-74 1zm19 0zm51 0zm28 0zm7 0zm-130 1zm24 0zm4 0zm31 0zm35 0zm25 0zm12 0zm-66 1zm42 0zm39 0zm1 0zm-124 1zm19 1zm-45 1zm6 0zm93 0zm3 0zm56 0zm-71 1zm10 0zm1 0zm74 0zm-122 1zm11 0zm21 0zm1 0zm96 0zm-181 1zm4 0zm60 0zm69 0zm3 0zm-131 1zm56 0zm5 0zm9 0zm23 0zm12 0zm61 0zm-121 1zm51 0zm79 0zm-150 1zm19 0zm16 1zm21 0zm20 0zm28 0zm-34 1zm16 0zm25 0zm-145 1zm12 0zm20 0zm3 0zm46 0zm18 0zm15 0zm25 0zm-115 1zm1 0zm39 0zm3 0zm36 0zm63 0zm8 0zm11 0zm-108 1zm26 0zm54 0zm18 0zm-142 1zm22 0zm30 0zm9 0zm9 0zm-105 1zm22 0zm13 0zm60 0zm78 0zm-137 1zm8 0zm17 0zm17 0zm29 0zm-85 1zm13 0zm12 0zm11 0zm23 0zm27 0zm33 0zm1 0zm-107 1zm29 0zm4 0zm45 0zm11 0zm-80 1zm27 0zm34 0zm37 0zm-128 1zm76 0zm24 0zm54 0zm-167 1zm25 0zm80 0zm33 0zm-107 1zm11 0zm52 0zm11 0zm51 0zm-56 1zm12 0zm1 0zm31 0zm-118 1zm7 0zm25 0zm35 0zm12 0zm-36 1zm4 0zm29 0zm1 0zm4 0zm40 0zm21 0zm-169 1zm6 0zm28 0zm15 0zm35 0zm40 0zm5 0zm15 0zm13 0zm29 0zm-183 1zm41 0zm27 0zm34 0zm5 0zm2 0zm-91 1zm40 0zm42 0zm16 0zm10 0zm15 0zm15 0zm10 0zm10 0zm-139 1zm3 0zm18 0zm11 0zm35 0zm-86 1zm35 0zm1 0zm35 0zm50 0zm35 0zm-107 1zm1 0zm-63 1zm63 0zm1 0zm22 0zm19 0zm26 0zm39 0zm-175 1zm38 0zm17 0zm14 0zm68 0zm3 0zm-143 1zm36 0zm1 0zm16 0zm18 0zm25 0zm74 0zm-98 1zm25 0zm44 0zm-125 1zm90 0zm26 0zm9 0zm11 0zm-151 1zm39 0zm66 0zm5 0zm47 0zm-147 1zm23 0zm84 0zm-28 1zm14 0zm3 0zm6 0zm27 0zm-105 1zm26 0zm80 0zm11 0zm15 0zm12 0zm-165 1zm25 0zm46 0zm31 0zm3 0zm47 0zm-150 1zm11 0zm8 0zm-34 1zm24 0zm8 0zm4 0zm22 0zm1 0zm111 0zm-137 1zm7 0zm10 0zm58 0zm1 0zm-106 1zm9 0zm69 0zm6 0zm17 0zm7 0zm12 0zm52 0zm-176 1zm15 0zm50 0zm7 0zm54 0zm50 0zm-161 1zm8 0zm17 0zm15 0zm15 0zm35 0zm1 0zm52 0zm-125 1zm4 0zm26 0zm6 0zm2 0zm4 0zm43 0zm61 0zm-162 1zm17 0zm2 0zm50 0zm16 0zm38 0zm-67 1zm32 0zm36 0zm37 0zm-178 1zm32 0zm3 0zm23 0zm13 0zm33 0zm2 0zm4 0zm8 0zm47 0zm-130 1zm6 0zm13 0zm20 0zm13 0zm18 0zm35 0zm1 0zm-139 1zm5 0zm17 0zm13 0zm33 0zm40 0zm32 0zm-109 1zm9 0zm30 0zm37 0zm22 0zm-97 1zm76 0zm31 0zm-137 1zm27 0zm10 0zm1 0zm77 0zm7 0zm14 0zm7 0zm-147 1zm25 0zm11 0zm44 0zm1 0zm24 0zm64 0zm-63 1zm14 0zm2 0zm-86 1zm45 0zm1 0zm13 0zm11 0zm63 0zm-108 1zm82 0zm18 0zm-142 1zm87 0zm-106 1zm1 0zm30 0zm2 0zm18 0zm24 0zm38 0zm27 0zm1 0zm-136 1zm31 0zm1 0zm26 0zm7 0zm68 0zm3 0zm11 0zm-117 1zm16 0zm9 0zm55 0zm6 0zm21 0zm-115 1zm12 0zm8 0zm127 0zm-174 1zm47 0zm38 0zm55 0zm-109 1zm10 0zm1 0zm8 0zm19 0zm34 0zm8 0zm-78 1zm1 0zm29 0zm11 0zm4 0zm9 0zm18 0zm1 0zm4 0zm6 0zm23 0zm2 0zm16 0zm-142 1zm52 0zm17 0zm23 0zm2 0zm-58 1zm2 0zm3 0zm12 1zm3 0zm6 0zm28 0zm34 0zm36 0zm-142 1zm10 0zm5 0zm93 0zm35 0zm-176 1zm1 0zm7 0zm6 0zm55 0zm2 0zm1 0zm28 0zm5 0zm-101 1zm29 0zm19 0zm30 0zm57 0zm-126 1zm23 0zm16 0zm20 0zm58 0zm12 0zm-123 1zm38 0zm15 0zm5 0zm49 0zm2 0zm-127 1zm33 0zm1 0zm42 0zm40 0zm24 0zm-120 1zm85 0zm36 0zm-142 1zm18 0zm4 0zm8 0zm4 0zm16 0zm7 0zm18 0zm31 0zm23 0zm10 0zm17 0zm5 0zm-160 1zm20 0zm1 0zm10 0zm34 0zm5 0zm56 0zm-127 1zm38 0zm45 0zm34 0zm-116 1zm2 0zm35 0zm66 0zm12 0zm-53 1zm43 0zm34 0zm40 0zm-144 1zm1 0zm22 0zm11 0zm23 0zm7 0zm6 0zm50 0zm-120 1zm14 0zm90 0zm-135 1zm64 0zm38 0zm9 0zm-80 1zm1 0zm48 0zm21 0zm1 0zm1 0zm-80 1zm38 0zm48 0zm1 0zm-114 1zm6 0zm29 0zm55 0zm15 0zm2 0zm35 0zm24 0zm-115 1zm42 0zm11 0zm36 0zm1 0zm33 0zm-141 1zm1 0zm14 0zm71 0zm-85 1zm12 0zm25 0zm1 0zm26 0zm5 0zm21 0zm55 0zm-95 1zm65 0zm-113 1zm52 0zm14 0zm-103 1zm1 0zm33 0zm3 0zm34 0zm36 0zm1 0zm33 0zm26 0zm-165 1zm29 0zm4 0zm48 0zm26 0zm5 0zm14 0zm-90 1zm70 0zm5 0zm4 0zm-82 1zm35 0zm68 0zm-74 1zm6 0zm36 0zm1 0zm4 0zm65 0zm-176 1zm20 0zm14 0zm8 0zm27 0zm23 0zm6 0zm8 0zm1 0zm-77 1zm75 0zm1 0zm75 0zm-145 1zm35 0zm-70 1zm15 0zm18 0zm1 0zm34 0zm65 0zm47 0zm-179 1zm30 0zm38 0zm1 0zm5 0zm13 0zm17 0zm34 0zm15 0zm-155 1zm24 0zm12 0zm21 0zm121 0zm-143 1zm44 0zm20 0zm40 0zm6 0zm-145 1zm4 0zm16 0zm26 0zm23 0zm23 0zm7 0zm2 0zm-89 1zm22 0zm19 0zm16 0zm81 0zm-135 1zm21 0zm31 0zm76 0zm37 0zm-144 1zm11 0zm44 0zm6 0zm45 0zm-107 1zm1 0zm2 0zm30 0zm1 0zm3 0zm14 0zm20 0zm-104 1zm2 0zm1 0zm27 0zm4 0zm34 0zm38 0zm4 0zm64 0zm-148 1zm5 0zm29 0zm45 0zm-106 1zm35 0zm13 0zm46 0zm11 0zm7 0zm30 0zm-133 1zm24 0zm2 0zm3 0zm16 0zm39 0zm5 0zm-99 1zm58 0zm12 0zm72 0zm37 0zm-172 1zm1 0zm5 0zm23 0zm1 0zm10 0zm6 0zm9 0zm9 0zm20 0zm-85 1zm16 0zm5 0zm6 0zm72 0zm-105 1zm1 0zm6 0zm9 0zm19 0zm2 0zm8 0zm25 0zm36 0zm47 0zm-151 1zm32 0zm9 0zm70 0zm51 0zm-162 1zm4 0zm23 0zm3 0zm3 0zm12 0zm10 0zm10 0zm2 0zm2 0zm31 0zm6 0zm43 0zm24 0zm-168 1zm26 0zm1 0zm1 0zm4 0zm31 0zm39 0zm-108 1zm18 0zm17 0zm34 0zm5 0zm5 0zm2 0zm23 0zm36 0zm1 0zm-142 1zm1 0zm2 0zm14 0zm54 0zm8 0zm-43 1zm2 0zm1 0zm31 0zm2 0zm33 0zm4 0zm68 0zm-174 1zm28 0zm48 0zm61 0zm-72 1zm1 0zm35 0zm37 0zm-139 1zm1 0zm5 0zm6 0zm13 0zm150 0zm-176 1zm67 0zm21 0zm11 0zm6 0zm71 0zm-143 1zm11 0zm1 0zm27 0zm29 0zm68 0zm-164 1zm27 0zm36 0zm4 0zm9 0zm-81 1zm27 0zm6 0zm2 0zm11 0zm22 0zm4 0zm-62 1zm47 0zm3 0zm4 0zm1 0zm5 0zm33 0zm-103 1zm34 0zm4 0zm30 0zm93 0zm-161 1zm28 0zm112 0zm-140 1zm2 0zm28 0zm22 0zm-40 1zm59 0zm34 0zm-69 1zm34 0zm-71 1zm20 0zm3 0zm28 0zm19 0zm31 0zm40 0zm-125 1zm18 0zm1 0zm-34 1zm11 0zm7 0zm12 0zm12 0zm18 0zm8 0zm36 0zm-104 1zm13 0zm21 0zm2 0zm18 0zm32 0zm44 0zm20 0zm-131 1zm16 0zm42 0zm2 0zm25 0zm-104 1zm69 0zm-63 1zm56 0zm-55 1zm2 0zm11 0zm101 0zm16 0zm-103 1zm35 0zm41 0zm-111 1zm4 0zm31 0zm11 0zm1 0zm53 0zm-66 1zm6 0zm12 0zm63 0zm23 0zm-95 1zm27 0zm34 0zm1 0zm30 0zm52 0zm-185 1zm57 0zm11 0zm1 0zm34 0zm16 0zm-120 1zm24 0zm25 0zm23 0zm7 0zm-58 1zm13 0zm19 0zm3 0zm43 0zm4 0zm1 0zm-99 1zm27 0zm30 0zm35 0zm24 0zm-106 1zm54 0zm3 0zm8 0zm41 0zm-97 1zm9 0zm1 0zm34 0zm1 0zm72 0zm-142 1zm34 0zm2 0zm3 0zm31 0zm4 0zm12 0zm18 0zm-103 1zm1 0zm15 0zm19 0zm36 0zm12 0zm-59 1zm9 0zm1 0zm33 0zm3 0zm4 0zm-71 1zm36 0zm13 0zm13 0zm2 0zm2 0zm31 0zm4 0zm19 0zm-90 1zm1 0zm-29 1zm16 0zm13 0zm35 0zm2 0zm16 0zm7 0zm9 0zm1 0zm-105 1zm35 0zm1 0z"/>
<path transform="scale(0.25)" class="p o" d="M1376 307zm-10 1zm72 0zm-95 1zm34 0zm6 0zm1 0zm11 0zm59 0zm-78 1zm13 0zm22 0zm1 0zm40 0zm60 0zm-166 1zm3 0zm30 0zm4 0zm72 0zm-76 1zm54 0zm-91 1zm8 0zm27 0zm34 0zm1 0zm6 0zm36 0zm-111 1zm17 0zm28 0zm23 0zm2 0zm-69 1zm3 0zm16 0zm18 0zm32 0zm14 0zm5 0zm-85 1zm47 0zm19 0zm-32 1zm3 0zm29 0zm9 0zm63 0zm1 0zm-128 1zm20 0zm14 0zm-30 1zm10 0zm3 0zm1 0zm7 0zm31 0zm21 0zm-93 1zm7 0zm2 0zm92 0zm-70 1zm2 0zm34 0zm19 0zm-50 1zm28 0zm7 0zm63 0zm-134 1zm1 0zm29 0zm66 0zm-89 1zm13 0zm10 0zm6 0zm3 0zm31 0zm-36 1zm6 0zm15 0zm10 0zm5 0zm-25 2zm4 0zm20 0zm11 0zm-62 1zm17 0zm16 0zm4 0zm13 0zm2 0zm1 0zm11 0zm12 0zm-46 1zm14 0zm5 0zm16 0zm6 0zm-89 1zm13 0zm25 0zm-38 1zm16 0zm17 0zm1 0zm2 0zm-20 1zm89 0zm-102 1zm33 0zm1 0zm12 0zm15 0zm6 0zm16 0zm-86 1zm14 0zm10 0zm10 0zm14 0zm21 0zm2 0zm-12 1zm21 0zm-79 1zm1 0zm2 0zm30 0zm1 0zm-19 1zm4 0zm32 0zm39 0zm-90 1zm14 0zm11 0zm5 0zm3 0zm1 0zm34 0zm7 0zm29 0zm1 0zm35 0zm-123 1zm42 0zm10 0zm-70 2zm43 0zm14 0zm13 0zm16 0zm12 0zm-96 1zm6 0zm10 0zm51 0zm15 0zm-58 1zm9 0zm2 0zm3 0zm3 0zm19 0zm7 0zm1 0zm19 0zm30 0zm-118 1zm5 0zm27 0zm32 0zm6 0zm-65 1zm29 0zm-35 1zm7 0zm28 0zm13 0zm10 0zm6 0zm-64 1zm7 0zm11 0zm5 0zm19 0zm64 0zm-105 1zm33 0zm48 0zm-78 1zm30 0zm47 0zm-65 1zm161 0zm-145 1zm3 0zm39 0zm32 0zm-106 1zm20 0zm16 0zm68 0zm36 0zm-134 1zm18 0zm18 0zm28 0zm15 0zm-84 1zm23 0zm12 0zm36 0zm-59 1zm23 0zm33 0zm-68 1zm52 0zm30 0zm-83 1zm19 0zm-18 1zm32 0zm4 0zm33 0zm31 0zm-97 1zm6 0zm31 0zm8 0zm18 0zm-67 1zm18 0zm16 0zm4 0zm32 0zm1 0zm15 0zm-44 1zm1 0zm26 0zm-67 1zm7 0zm6 0zm-15 1zm27 0zm7 0zm-34 1zm35 0zm11 0zm12 0zm16 0zm-73 1zm36 0zm19 0zm16 0zm-72 1zm2 0zm-2 1zm36 0zm14 0zm21 0zm52 0zm14 0zm-103 1zm24 0zm-55 1zm5 0zm27 0zm10 1zm-43 1zm7 0zm15 0zm47 0zm21 1zm-76 1zm3 0zm4 0zm12 0zm-35 1zm1 0zm1 0zm129 0zm-122 1zm38 0zm-47 1zm41 0zm31 0zm-71 1zm18 0zm53 0zm-38 1zm1 0zm51 0zm-84 1zm6 0zm25 0zm-33 1zm22 0zm11 0zm15 0zm5 0zm19 0zm-39 1zm3 0zm29 0zm5 0zm-70 1zm1 0zm1 0zm4 0zm17 0zm11 0zm37 0zm2 0zm-38 1zm-7 1zm56 0zm-79 1zm37 0zm-31 1zm14 1zm9 0zm-34 2zm35 0zm29 0zm96 0zm-156 1zm57 0zm-26 1zm14 0zm1 0zm17 0zm3 0zm-70 1zm3 0zm9 0zm7 0zm37 0zm14 0zm-70 1zm7 0zm28 0zm1 0zm45 0zm54 0zm-99 2zm1 0zm-2 1zm23 0zm-58 1zm39 0zm48 0zm56 0zm-124 1zm48 0zm3 0zm-66 1zm20 0zm46 0zm-64 1zm22 0zm3 0zm7 0zm-38 1zm1 0zm49 0zm12 0zm7 0zm1 0zm1 0zm28 0zm-89 1zm15 0zm8 0zm1 0zm18 0zm10 0zm45 0zm-73 1zm1 0zm6 0zm-15 1zm76 0zm-87 1zm7 0zm26 1zm1 0zm21 0zm-70 1zm166 0zm-132 1zm17 0zm-51 1zm38 0zm31 0zm11 0zm-67 1zm22 0zm30 0zm52 0zm-102 1zm71 0zm-55 1zm4 0zm-33 1zm1 0zm30 0zm62 0zm-89 1zm1 0zm11 0zm2 0zm3 0zm-23 1zm33 0zm38 0zm-71 1zm2 0zm20 0zm18 0zm8 0zm-48 1zm17 0zm25 0zm15 0zm-28 1zm6 0zm34 0zm-68 1zm26 0zm9 0zm-36 1zm16 0zm20 0zm-35 1zm34 0zm-25 1zm1 0zm95 0zm1 0zm16 0zm-115 1zm2 0zm51 0zm9 0zm14 0zm-82 1zm3 0zm8 0zm104 0zm-68 1zm22 0zm-66 1zm100 0z"/>
<path transform="scale(0.25)" class="p b" d="M1242 307zm-39 1zm10 0zm42 0zm2 0zm62 0zm-109 1zm62 0zm27 0zm5 0zm2 0zm9 0zm25 0zm1 0zm-140 1zm36 0zm91 0zm-126 1zm34 0zm19 0zm16 0zm40 0zm29 0zm-96 1zm27 0zm4 0zm30 0zm35 0zm-106 1zm1 0zm2 0zm69 0zm1 0zm2 0zm29 0zm3 0zm1 0zm-142 1zm69 0zm2 0zm2 0zm8 0zm8 0zm43 0zm-117 1zm14 0zm42 0zm2 0zm-73 1zm2 0zm18 0zm74 0zm14 0zm-104 1zm31 0zm34 0zm11 0zm13 0zm4 0zm3 0zm5 0zm2 0zm1 0zm-107 1zm33 0zm6 0zm6 0zm3 0zm91 0zm-138 1zm6 0zm23 0zm10 0zm23 0zm1 0zm13 0zm29 0zm12 0zm3 0zm18 0zm-139 1zm36 0zm17 0zm52 0zm4 0zm-85 1zm1 0zm10 0zm80 0zm4 0zm18 0zm-133 1zm31 0zm30 0zm4 0zm1 0zm1 0zm16 0zm23 0zm-111 1zm8 0zm28 0zm15 0zm40 0zm-90 1zm57 0zm19 0zm44 0zm-85 1zm10 0zm57 0zm21 0zm-103 1zm12 0zm1 0zm35 0zm36 0zm1 0zm28 0zm4 0zm2 0zm-127 1zm80 0zm2 0zm16 0zm-75 1zm26 0zm23 0zm10 0zm10 0zm4 0zm32 0zm-120 1zm13 0zm9 0zm44 0zm39 0zm5 0zm10 0zm-125 1zm9 0zm1 0zm1 0zm9 0zm4 0zm31 0zm26 0zm9 0zm3 0zm13 0zm-120 1zm70 0zm36 0zm28 0zm-101 1zm33 0zm4 0zm2 0zm8 0zm23 0zm20 0zm-125 1zm35 0zm16 0zm5 0zm2 0zm7 0zm27 0zm13 0zm1 0zm35 0zm-140 1zm1 0zm32 0zm1 0zm1 0zm6 0zm10 0zm1 0zm8 0zm11 0zm24 0zm11 0zm5 0zm6 0zm22 0zm-129 1zm11 0zm7 0zm10 0zm21 0zm31 0zm15 0zm9 0zm2 0zm2 0zm12 0zm11 0zm-139 1zm32 0zm2 0zm10 0zm10 0zm4 0zm9 0zm33 0zm4 0zm23 0zm6 0zm5 0zm1 0zm-110 1zm7 0zm37 0zm6 0zm22 0zm30 0zm7 0zm-106 1zm1 0zm71 0zm2 0zm29 0zm2 0zm-140 1zm80 0zm7 0zm5 0zm14 0zm2 0zm15 0zm-93 1zm5 0zm1 0zm69 0zm6 0zm2 0zm-111 1zm3 0zm7 0zm24 0zm11 0zm6 0zm27 0zm51 0zm-115 1zm7 0zm10 0zm3 0zm2 0zm47 0zm9 0zm15 0zm8 0zm14 0zm4 0zm-110 1zm4 0zm4 0zm3 0zm1 0zm15 0zm18 0zm2 0zm4 0zm3 0zm27 0zm9 0zm25 0zm1 0zm-105 1zm1 0zm32 0zm2 0zm14 0zm21 0zm1 0zm5 0zm3 0zm8 0zm16 0zm2 0zm-141 1zm39 0zm31 0zm25 0zm8 0zm-103 1zm26 0zm47 0zm3 0zm6 0zm17 0zm7 0zm-91 1zm14 0zm2 0zm21 0zm17 0zm11 0zm9 0zm9 0zm8 0zm-105 1zm40 0zm3 0zm26 0zm2 0zm29 0zm17 0zm4 0zm16 0zm-105 1zm2 0zm1 0zm35 0zm11 0zm24 0zm34 0zm-121 1zm15 0zm4 0zm7 0zm26 0zm1 0zm29 0zm28 0zm-129 1zm17 0zm54 0zm-70 1zm28 0zm3 0zm4 0zm32 0zm3 0zm15 0zm16 0zm4 0zm29 0zm1 0zm-107 1zm5 0zm1 0zm26 0zm8 0zm3 0zm46 0zm12 0zm10 0zm-140 1zm98 0zm3 0zm15 0zm23 0zm2 0zm-134 1zm37 0zm16 0zm8 0zm19 0zm11 0zm8 0zm22 0zm6 0zm7 0zm-140 1zm1 0zm6 0zm65 0zm32 0zm15 0zm7 0zm2 0zm11 0zm-140 1zm9 0zm14 0zm10 0zm3 0zm1 0zm30 0zm-42 1zm8 0zm15 0zm24 0zm32 0zm3 0zm21 0zm-125 1zm4 0zm2 0zm3 0zm19 0zm5 0zm5 0zm36 0zm30 0zm20 0zm11 0zm3 0zm-135 1zm29 0zm1 0zm38 0zm10 0zm3 0zm-70 1zm6 0zm38 0zm47 0zm21 0zm1 0zm7 0zm-103 1zm35 0zm4 0zm33 0zm7 0zm3 0zm12 0zm13 0zm-141 1zm10 0zm10 0zm14 0zm16 0zm2 0zm18 0zm11 0zm58 0zm-138 1zm8 0zm52 0zm3 0zm7 0zm23 0zm47 0zm-131 1zm3 0zm3 0zm44 0zm12 0zm25 0zm9 0zm25 0zm-131 1zm23 0zm6 0zm3 0zm3 0zm3 0zm1 0zm2 0zm6 0zm21 0zm2 0zm5 0zm5 0zm35 0zm26 0zm-139 1zm1 0zm5 0zm12 0zm2 0zm14 0zm20 0zm12 0zm2 0zm41 0zm31 0zm-141 1zm24 0zm10 0zm1 0zm3 0zm50 0zm17 0zm21 0zm14 0zm-141 1zm37 0zm13 0zm23 0zm31 0zm1 0zm1 0zm22 0zm-89 1zm32 0zm1 0zm33 0zm36 0zm-134 1zm27 0zm2 0zm1 0zm7 0zm6 0zm14 0zm13 0zm-76 1zm1 0zm69 0zm1 0zm20 0zm1 0zm4 0zm5 0zm2 0zm-104 1zm1 0zm6 0zm10 0zm19 0zm1 0zm16 0zm7 0zm6 0zm4 0zm2 0zm54 0zm13 0zm-122 1zm21 0zm33 0zm3 0zm1 0zm9 0zm17 0zm3 0zm3 0zm35 0zm-112 1zm5 0zm1 0zm2 0zm4 0zm8 0zm34 0zm35 0zm7 0zm-118 1zm27 0zm9 0zm2 0zm13 0zm1 0zm3 0zm6 0zm4 0zm5 0zm10 0zm20 0zm32 0zm-138 1zm5 0zm29 0zm32 0zm7 0zm10 0zm21 0zm35 0zm-140 1zm3 0zm4 0zm18 0zm7 0zm3 0zm9 0zm11 0zm16 0zm33 0zm2 0zm9 0zm-115 1zm10 0zm4 0zm20 0zm38 0zm-56 1zm29 0zm14 0zm19 0zm29 0zm13 0zm5 0zm12 0zm2 0zm-139 1zm2 0zm12 0zm3 0zm19 0zm8 0zm19 0zm6 0zm12 0zm26 0zm13 0zm-109 1zm15 0zm19 0zm16 0zm7 0zm14 0zm22 0zm35 0zm1 0zm-140 1zm9 0zm13 0zm9 0zm3 0zm14 0zm23 0zm23 0zm12 0zm34 0zm-141 1zm1 0zm1 0zm10 0zm8 0zm3 0zm1 0zm9 0zm2 0zm23 0zm47 0zm29 0zm7 0zm-140 1zm2 0zm3 0zm15 0zm1 0zm3 0zm4 0zm7 0zm1 0zm15 0zm18 0zm3 0zm13 0zm55 0zm-139 1zm11 0zm3 0zm32 0zm20 0zm3 0zm38 0zm33 0zm-142 1zm33 0zm2 0zm33 0zm4 0zm16 0zm53 0zm-140 1zm4 0zm30 0zm34 0zm44 0zm-112 1zm1 0zm5 0zm4 0zm1 0zm10 0zm11 0zm2 0zm9 0zm25 0zm10 0zm60 0zm-128 1zm2 0zm57 0zm10 0zm1 0zm23 0zm2 0zm12 0zm22 0zm-138 1zm7 0zm3 0zm6 0zm3 0zm9 0zm17 0zm18 0zm42 0zm10 0zm-117 1zm1 0zm35 0zm14 0zm3 0zm3 0zm1 0zm14 0zm2 0zm8 0zm1 0zm17 0zm-98 1zm34 0zm1 0zm1 0zm2 0zm45 0zm12 0zm9 0zm-104 1zm3 0zm25 0zm6 0zm1 0zm11 0zm51 0zm30 0zm6 0zm-133 1zm1 0zm16 0zm6 0zm11 0zm7 0zm19 0zm8 0zm22 0zm-91 1zm43 0zm22 0zm6 0zm1 0zm62 0zm4 0zm-116 1zm4 0zm10 0zm11 0zm26 0zm28 0zm39 0zm-140 1zm3 0zm32 0zm1 0zm9 0zm19 0zm38 0zm5 0zm15 0zm5 0zm13 0zm-105 1zm9 0zm9 0zm23 0zm23 0zm-99 1zm1 0zm10 0zm63 0zm-61 1zm17 0zm4 0zm32 0zm30 0zm6 0zm3 0zm16 0zm-121 1zm36 0zm1 0zm24 0zm9 0zm1 0zm29 0zm6 0zm34 0zm-140 1zm34 0zm35 0zm6 0zm30 0zm20 0zm10 0zm5 0zm1 0zm-131 1zm8 0zm17 0zm69 0zm2 0zm3 0zm25 0zm7 0zm-140 1zm29 0zm8 0zm13 0zm13 0zm5 0zm3 0zm6 0zm22 0zm8 0zm1 0zm15 0zm4 0zm13 0zm-141 1zm2 0zm13 0zm10 0zm3 0zm8 0zm49 0zm22 0zm-105 1zm5 0zm1 0zm23 0zm3 0zm1 0zm12 0zm4 0zm2 0zm1 0zm12 0zm4 0zm35 0zm19 0zm13 0zm-136 1zm1 0zm3 0zm8 0zm29 0zm17 0zm12 0zm17 0zm17 0zm1 0zm7 0zm12 0zm7 0zm9 0zm-137 1zm3 0zm6 0zm56 0zm30 0zm9 0zm31 0zm1 0zm2 0zm-142 1zm2 0zm7 0zm9 0zm17 0zm2 0zm13 0zm55 0zm36 0zm-140 1zm1 0zm15 0zm6 0zm11 0zm31 0zm6 0zm1 0zm-71 1zm27 0zm47 0zm8 0zm21 0zm2 0zm-106 1zm9 0zm11 0zm13 0zm2 0zm1 0zm19 0zm35 0zm13 0zm38 0zm-133 1zm12 0zm3 0zm23 0zm25 0zm35 0zm25 0zm9 0zm1 0zm-106 1zm5 0zm19 0zm11 0zm2 0zm1 0zm49 0zm19 0zm-141 1zm4 0zm3 0zm6 0zm56 0zm2 0zm16 0zm19 0zm24 0zm11 0zm-124 1zm6 0zm13 0zm21 0zm17 0zm34 0zm7 0zm5 0zm19 0zm-137 1zm10 0zm2 0zm6 0zm14 0zm1 0zm12 0zm23 0zm2 0zm3 0zm30 0zm-104 1zm2 0zm34 0zm30 0zm2 0zm71 0zm-137 1zm11 0zm17 0zm2 0zm2 0zm1 0zm13 0zm2 0zm18 0zm2 0zm2 0zm12 0zm2 0zm43 0zm11 0zm-137 1zm15 0zm18 0zm32 0zm1 0zm1 0zm34 0zm1 0zm1 0zm4 0zm30 0zm-115 1zm5 0zm4 0zm1 0zm5 0zm2 0zm24 0zm5 0zm32 0zm2 0zm20 0zm-125 1zm23 0zm1 0zm8 0zm35 0zm1 0zm1 0zm35 0zm36 0zm-134 1zm5 0zm23 0zm1 0zm99 0zm-134 1zm1 0zm31 0zm3 0zm1 0zm32 0zm1 0zm4 0zm8 0zm24 0zm24 0zm-129 1zm18 0zm30 0zm17 0zm4 0zm15 0zm19 0z"/>
</g>
<path class="ax" d="M300.0 106.6H406.2M300.0 106.6V10.0M300.0 106.6v1.8M308.9 106.6v1.0M317.7 106.6v1.8M326.6 106.6v1.0M335.4 106.6v1.8M344.2 106.6v1.0M353.1 106.6v1.8M361.9 106.6v1.0M370.8 106.6v1.8M379.6 106.6v1.0M388.5 106.6v1.8M397.4 106.6v1.0M406.2 106.6v1.8M300.0 106.6h-1.8M300.0 99.1h-1.0M300.0 91.7h-1.8M300.0 84.2h-1.0M300.0 76.8h-1.8M300.0 69.3h-1.0M300.0 61.9h-1.8M300.0 54.4h-1.0M300.0 47.0h-1.8M300.0 39.5h-1.0M300.0 32.1h-1.8M300.0 24.6h-1.0M300.0 17.2h-1.8"/>
<g class="tl" text-anchor="middle"><text transform="translate(300.0 113.4)scale(.8 1)">0</text><text transform="translate(317.7 113.4)scale(.8 1)">2</text><text transform="translate(335.4 113.4)scale(.8 1)">4</text><text transform="translate(353.1 113.4)scale(.8 1)">6</text><text transform="translate(370.8 113.4)scale(.8 1)">8</text><text transform="translate(388.5 113.4)scale(.8 1)">10</text><text transform="translate(406.2 113.4)scale(.8 1)">12</text></g>
<g class="tl" text-anchor="end"><text transform="translate(297.7 108.2)scale(.8 1)">0</text><text transform="translate(297.7 93.3)scale(.8 1)">2</text><text transform="translate(297.7 78.4)scale(.8 1)">4</text><text transform="translate(297.7 63.5)scale(.8 1)">6</text><text transform="translate(297.7 48.6)scale(.8 1)">8</text><text transform="translate(297.7 33.7)scale(.8 1)">10</text><text transform="translate(297.7 18.8)scale(.8 1)">12</text></g>
<path class="rl" d="M300.0 106.6L397.4 21.3"/>
<text class="at" style="font-weight:bold" x="338.0" y="121.0" textLength="29.6" lengthAdjust="spacingAndGlyphs">Actual Distance</text>
<text class="at" style="font-weight:bold" transform="translate(292.2 56.5)rotate(-90)" x="-18.9" y="0" textLength="37.7" lengthAdjust="spacingAndGlyphs">Prediction Distance</text>
<text class="rt" style="font-weight:bold" transform="translate(396.7 41.6)scale(0.845 1)">R=0.8495</text>
<text class="rt" style="font-weight:bold" transform="translate(396.7 47.7)scale(0.845 1)">slope=1.0448</text>
<text class="cap" transform="translate(348.6 144.0)scale(.94 1)">(c) LINE2</text>
<g filter="url(#bl)">
<path transform="scale(0.25)" class="p r" d="M1820 106zm-70 4zm43 19zm98 16zm-79 4zm68 0zm-17 3zm-1 1zm5 0zm-46 3zm70 0zm-27 4zm-43 1zm-6 1zm74 1zm-13 1zm9 5zm-40 3zm45 0zm-62 1zm27 1zm13 2zm13 1zm4 1zm-31 2zm-5 2zm8 0zm-95 4zm94 0zm-36 3zm70 1zm-130 1zm73 0zm22 0zm12 2zm23 0zm-93 1zm49 2zm14 0zm-40 1zm36 1zm34 0zm1 4zm-53 2zm52 0zm-3 1zm-101 1zm82 0zm-83 1zm99 0zm-61 1zm33 0zm32 0zm-114 2zm47 0zm70 1zm-140 1zm105 0zm18 0zm-124 1zm33 0zm96 1zm-23 1zm-35 1zm-13 1zm-24 1zm21 0zm-11 1zm90 0zm6 1zm-56 1zm22 0zm16 0zm6 0zm-21 1zm34 0zm-114 1zm-21 1zm66 0zm21 0zm28 0zm-16 1zm2 1zm24 0zm-40 1zm1 0zm50 0zm-107 1zm56 0zm15 1zm23 0zm-29 1zm31 1zm-40 1zm6 0zm10 0zm32 0zm2 0zm-52 1zm-41 1zm43 0zm50 0zm-70 1zm17 0zm2 0zm-17 1zm7 0zm11 0zm50 0zm-56 1zm19 0zm2 0zm32 0zm-32 1zm35 0zm-108 1zm32 0zm48 0zm29 0zm-36 1zm15 0zm4 0zm1 0zm-55 1zm25 0zm10 0zm9 0zm17 0zm9 0zm-106 1zm105 0zm-140 1zm87 0zm20 1zm19 0zm14 0zm-76 1zm43 0zm34 1zm-137 1zm69 0zm4 0zm20 0zm10 0zm24 0zm-60 1zm33 0zm27 1zm-120 1zm10 0zm45 0zm72 0zm-137 1zm82 0zm34 0zm23 0zm-132 1zm4 0zm34 0zm42 0zm14 0zm-33 1zm3 0zm-60 1zm6 0zm52 0zm1 0zm18 0zm7 0zm13 0zm25 0zm3 0zm-86 1zm20 0zm9 0zm34 0zm-52 1zm10 0zm-47 1zm11 0zm47 0zm15 0zm7 0zm2 0zm-73 1zm72 0zm-98 1zm66 0zm19 0zm46 0zm-126 1zm93 0zm-104 1zm32 0zm3 0zm65 0zm19 0zm19 0zm-87 1zm25 0zm8 0zm22 0zm-106 1zm69 0zm10 0zm50 0zm10 0zm-66 1zm2 0zm28 0zm20 0zm-67 1zm-57 1zm3 0zm61 0zm36 0zm25 0zm1 0zm-80 1zm11 0zm14 0zm36 0zm-48 1zm10 0zm11 0zm26 0zm8 0zm-36 1zm10 0zm18 0zm32 0zm-42 1zm5 0zm2 0zm3 0zm29 0zm-100 1zm35 0zm17 0zm8 0zm4 0zm7 0zm23 0zm-95 1zm61 0zm10 0zm28 0zm6 0zm-68 1zm20 0zm49 0zm-108 1zm13 0zm18 0zm71 0zm-110 1zm28 0zm3 0zm44 0zm6 0zm35 0zm-120 1zm9 0zm39 0zm33 0zm5 0zm33 0zm-120 1zm16 0zm36 0zm37 0zm1 0zm31 0zm1 0zm-5 1zm-36 1zm-60 1zm24 0zm6 0zm8 0zm16 0zm3 0zm9 0zm-107 1zm8 0zm57 0zm76 0zm-131 1zm61 0zm66 0zm-136 1zm34 0zm1 0zm49 0zm2 0zm26 0zm1 0zm-114 1zm31 0zm14 0zm26 0zm-38 1zm51 0zm4 0zm12 0zm2 0zm3 0zm22 0zm14 0zm-69 1zm1 0zm5 0zm-7 1zm27 0zm8 0zm1 0zm6 0zm15 0zm13 0zm1 0zm-106 1zm28 0zm6 0zm35 0zm1 0zm22 0zm11 0zm1 0zm-139 1zm49 0zm7 0zm13 0zm12 0zm25 0zm-106 1zm61 0zm37 0zm6 0zm-69 1zm21 0zm14 0zm63 0zm6 0zm-73 1zm3 0zm6 0zm29 0zm5 0zm18 0zm4 0zm9 0zm-104 1zm33 0zm20 0zm47 0zm-74 1zm10 0zm23 0zm10 0zm-84 1zm12 0zm13 0zm5 0zm20 0zm32 0zm3 0zm14 0zm13 0zm7 0zm-107 1zm35 0zm2 0zm3 0zm1 0zm19 0zm5 0zm35 0zm1 0zm-101 1zm3 0zm18 0zm13 0zm11 0zm27 0zm6 0zm28 0zm-67 1zm35 0zm6 0zm7 0zm17 0zm2 0zm-140 1zm1 0zm7 0zm24 0zm8 0zm14 0zm5 0zm27 0zm10 0zm11 0zm24 0zm10 0zm-87 1zm52 0zm10 0zm21 0zm2 0zm2 0zm-141 1zm5 0zm2 0zm20 0zm2 0zm4 0zm15 0zm16 0zm6 0zm13 0zm33 0zm8 0zm-88 1zm1 0zm33 0zm1 0zm34 0zm-97 1zm27 0zm36 0zm14 0zm47 0zm-71 1zm20 0zm14 0zm35 0zm10 0zm-132 1zm19 0zm3 0zm5 0zm1 0zm35 0zm12 0zm23 0zm10 0zm9 0zm6 0zm9 0zm-105 1zm9 0zm11 0zm47 0zm-68 1zm1 0zm1 0zm36 0zm30 0zm3 0zm3 0zm-82 1zm26 0zm41 0zm13 0zm2 0zm7 0zm1 0zm9 0zm1 0zm-119 1zm31 0zm33 0zm3 0zm31 0zm1 0zm10 0zm23 0zm-118 1zm38 0zm12 0zm34 0zm2 0zm10 0zm16 0zm7 0zm-98 1zm29 0zm21 0zm14 0zm2 0zm32 0zm1 0zm-130 1zm33 0zm19 0zm8 0zm34 0zm2 0zm1 0zm-107 1zm8 0zm64 0zm7 0zm21 0zm31 0zm9 0zm-105 1zm15 0zm5 0zm14 0zm2 0zm1 0zm31 0zm21 0zm2 0zm-125 1zm15 0zm18 0zm1 0zm24 0zm3 0zm40 0zm23 0zm3 0zm11 0zm-68 1zm42 0zm6 0zm13 0zm6 0zm-123 1zm15 0zm5 0zm34 0zm19 0zm14 0zm11 0zm23 0zm4 0zm-110 1zm36 0zm17 0zm7 0zm13 0zm12 0zm7 0zm10 0zm4 0zm4 0zm-129 1zm42 0zm31 0zm20 0zm15 0zm18 0zm-128 1zm25 0zm3 0zm7 0zm26 0zm2 0zm31 0zm33 0zm3 0zm-138 1zm20 0zm25 0zm17 0zm7 0zm1 0zm17 0zm16 0zm3 0zm7 0zm17 0zm-113 1zm14 0zm37 0zm2 0zm25 0zm8 0zm24 0zm2 0zm10 0zm-140 1zm22 0zm11 0zm33 0zm66 0z"/>
<path transform="scale(0.25)" class="p g" d="M2031 41zm-53 3zm35 1zm-18 2zm84 0zm-10 1zm7 0zm-113 2zm70 1zm-40 2zm-37 2zm-27 7zm4 0zm38 0zm29 2zm35 1zm-3 1zm-99 3zm34 0zm100 0zm-74 4zm-82 2zm83 0zm4 1zm-68 1zm28 0zm12 3zm1 1zm40 1zm-84 1zm0 1zm16 0zm61 0zm-93 2zm53 0zm1 0zm1 0zm13 0zm100 1zm-151 1zm34 0zm-2 1zm36 0zm15 0zm-49 1zm19 0zm-68 1zm86 0zm34 1zm-35 1zm-37 1zm72 1zm-76 2zm112 1zm-75 1zm-23 3zm38 0zm66 0zm-77 1zm21 0zm16 0zm31 0zm5 0zm-38 1zm0 2zm-70 1zm52 2zm26 0zm-7 1zm44 1zm-151 1zm68 0zm-62 1zm134 0zm-48 1zm-90 1zm55 0zm51 0zm-76 1zm-29 1zm30 0zm-5 1zm113 0zm-106 1zm97 0zm-97 1zm18 0zm88 0zm1 1zm-107 1zm114 0zm-82 1zm4 0zm141 0zm-176 1zm31 0zm0 1zm34 0zm-65 1zm71 0zm21 1zm-6 1zm-154 1zm64 0zm39 1zm8 0zm24 1zm11 0zm32 0zm-181 1zm21 0zm48 0zm73 1zm-104 1zm-6 1zm39 0zm18 0zm19 0zm-60 1zm7 0zm16 0zm21 0zm9 0zm27 0zm47 0zm-116 1zm-3 1zm9 0zm-65 1zm70 0zm70 0zm-36 1zm5 0zm7 0zm27 0zm-121 2zm105 0zm41 1zm-62 2zm65 0zm-72 1zm5 0zm35 0zm-90 2zm21 0zm35 0zm37 0zm-72 1zm33 0zm14 0zm57 0zm-140 1zm35 0zm49 0zm47 0zm-155 1zm62 0zm36 0zm34 0zm-142 1zm37 0zm30 0zm40 0zm-107 1zm92 0zm-85 1zm27 0zm2 0zm94 0zm19 0zm-115 1zm35 0zm35 0zm42 0zm25 0zm-102 1zm59 0zm-25 1zm-31 1zm25 0zm8 0zm27 0zm8 0zm-140 1zm34 0zm73 0zm16 0zm-82 1zm28 0zm7 0zm41 0zm35 0zm3 0zm-121 1zm2 0zm105 0zm-79 1zm77 0zm-68 1zm36 0zm13 0zm-120 1zm123 0zm-90 1zm2 0zm12 0zm28 0zm41 0zm21 0zm3 0zm-82 1zm82 0zm34 0zm-112 1zm91 0zm24 0zm-126 2zm125 0zm-140 1zm74 0zm31 0zm10 0zm24 0zm1 0zm-141 1zm71 0zm2 0zm65 0zm-140 1zm48 0zm-79 1zm65 0zm37 0zm79 0zm4 0zm-177 1zm71 0zm13 0zm10 0zm79 0zm-131 1zm12 0zm40 0zm1 0zm82 0zm-152 1zm70 0zm1 0zm7 0zm14 0zm15 0zm-47 1zm28 0zm-98 1zm46 0zm18 0zm21 0zm12 0zm29 0zm1 0zm17 0zm-98 2zm71 0zm-128 1zm7 0zm9 0zm5 0zm52 0zm88 0zm12 0zm-111 1zm19 0zm11 0zm34 0zm2 0zm17 0zm6 0zm13 0zm-149 1zm78 0zm-80 1zm79 0zm0 1zm69 0zm3 0zm6 0zm-130 1zm2 0zm10 0zm38 0zm2 0zm7 0zm-85 1zm18 0zm42 0zm78 0zm-98 1zm80 0zm8 0zm20 0zm1 0zm-174 1zm18 0zm12 0zm1 0zm58 0zm4 0zm12 0zm69 0zm10 0zm-180 1zm43 0zm25 0zm72 0zm26 0zm-139 1zm8 0zm27 0zm15 0zm22 0zm14 0zm-86 1zm25 0zm43 0zm5 0zm32 0zm36 0zm12 0zm-173 1zm19 0zm1 0zm42 0zm29 0zm1 0zm-100 1zm4 0zm8 0zm17 0zm59 0zm-76 1zm54 0zm34 0zm1 0zm-107 1zm36 0zm5 0zm-21 1zm15 0zm15 0zm4 0zm6 0zm10 0zm1 0zm21 0zm7 0zm8 0zm37 0zm13 0zm-157 1zm1 0zm69 0zm33 0zm3 0zm35 0zm2 0zm-112 1zm47 0zm27 0zm1 0zm1 0zm29 0zm-102 1zm22 0zm32 0zm2 0zm34 0zm9 0zm43 0zm1 0zm-89 1zm2 0zm72 0zm-162 1zm22 0zm26 0zm76 0zm15 0zm3 0zm-139 1zm60 0zm30 0zm45 0zm42 0zm-179 1zm16 0zm18 0zm45 0zm18 0zm3 0zm6 0zm16 0zm-123 1zm11 0zm23 0zm2 0zm3 0zm14 0zm16 0zm11 0zm37 0zm-81 1zm10 0zm23 0zm72 0zm1 0zm41 0zm-181 1zm24 0zm68 0zm10 0zm41 0zm7 0zm11 0zm-107 1zm50 0zm4 0zm30 0zm1 0zm-108 1zm58 0zm15 0zm66 0zm-150 1zm50 0zm0 1zm36 0zm11 0zm-114 1zm24 0zm4 0zm30 0zm14 0zm29 0zm70 0zm-147 1zm5 0zm13 0zm4 0zm54 0zm12 0zm60 0zm-177 1zm23 0zm65 0zm16 0zm37 0zm1 0zm-83 1zm12 0zm64 0zm23 0zm18 0zm-152 1zm7 0zm16 0zm22 0zm8 0zm66 0zm-143 1zm4 0zm24 0zm9 0zm18 0zm28 0zm22 0zm35 0zm35 0zm7 0zm-181 1zm33 0zm22 0zm-56 1zm34 0zm1 0zm86 0zm35 0zm21 0zm-131 1zm22 0zm1 0zm1 0zm6 0zm6 0zm24 0zm17 0zm52 0zm3 0zm-178 1zm2 0zm37 0zm19 0zm11 0zm2 0zm32 0zm3 0zm1 0zm19 0zm-124 1zm39 0zm76 0zm25 0zm34 0zm-176 1zm17 0zm54 0zm1 0zm1 0zm8 0zm9 0zm16 0zm-101 1zm31 0zm12 0zm22 0zm38 0zm3 0zm29 0zm45 0zm-127 1zm29 0zm19 0zm1 0zm34 0zm9 0zm-136 1zm38 0zm3 0zm5 0zm11 0zm3 0zm30 0zm4 0zm39 0zm-145 1zm16 0zm77 0zm10 0zm1 0zm72 0zm-145 1zm3 0zm2 0zm45 0zm21 0zm4 0zm-85 1zm10 0zm25 0zm11 0zm3 0zm21 0zm47 0zm27 0zm-138 1zm6 0zm12 0zm1 0zm23 0zm34 0zm1 0zm7 0zm-51 1zm11 0zm1 0zm24 0zm1 0zm7 0zm19 0zm32 0zm18 0zm1 0zm-92 1zm21 0zm2 0zm36 0zm35 0zm-178 1zm33 0zm1 0zm73 0zm33 0zm-136 1zm30 0zm2 0zm49 0zm20 0zm20 0zm-91 1zm33 0zm4 0zm11 0zm59 0zm12 0zm-152 1zm12 0zm50 0zm43 0zm10 0zm-75 1zm58 0zm43 0zm-110 1zm27 0zm10 0zm2 0zm25 0zm8 0zm2 0zm44 0zm-80 1zm2 0zm7 0zm28 0zm4 0zm6 0zm-115 1zm31 0zm1 0zm1 0zm16 0zm93 0zm-103 1zm5 0zm25 0zm2 0zm1 0zm12 0zm22 0zm31 0zm2 0zm7 0zm37 0zm-168 1zm52 0zm23 0zm95 0zm-151 1zm1 0zm6 0zm5 0zm54 0zm10 0zm1 0zm60 0zm-159 1zm47 0zm9 0zm17 0zm19 0zm2 0zm11 0zm22 0zm-107 1zm1 0zm2 0zm70 0zm1 0zm28 0zm6 0zm-128 1zm57 0zm1 0zm34 0zm32 0zm3 0zm13 0zm3 0zm-155 1zm26 0zm6 0zm2 0zm37 0zm13 0zm54 0zm-133 1zm28 0zm2 0zm34 0zm67 0zm2 0zm-140 1zm32 0zm4 0zm53 0zm23 0zm2 0zm-81 1zm2 0zm3 0zm28 0zm3 0zm72 0zm32 0zm-140 1zm2 0zm2 0zm16 0zm5 0zm14 0zm10 0zm20 0zm1 0zm3 0zm18 0zm16 0zm-132 1zm13 0zm13 0zm2 0zm70 0zm71 0zm-142 1zm21 0zm48 0zm39 0zm34 0zm-142 1zm35 0zm60 0zm22 0zm-131 1zm12 0zm25 0zm12 0zm1 0zm12 0zm19 0zm4 0zm11 0zm3 0zm14 0zm6 0zm-107 1zm49 0zm22 0zm36 0zm7 0zm-111 1zm18 0zm19 0zm34 0zm-107 1zm6 0zm19 0zm9 0zm21 0zm2 0zm49 0zm-106 1zm1 0zm4 0zm30 0zm14 0zm7 0zm14 1zm6 0zm4 0zm63 0zm-136 1zm104 0zm28 0zm3 0zm36 0zm-153 1zm46 0zm35 0zm3 0zm-12 1zm18 0zm1 0zm7 0zm-88 1zm23 0zm47 0zm2 0zm70 0zm-177 1zm18 0zm6 0zm5 0zm1 0zm77 0zm-93 1zm93 0zm1 0zm32 0zm-140 1zm29 0zm3 0zm19 0zm20 0zm1 0zm-72 1zm1 0zm1 0zm33 0zm3 0zm68 0zm1 0zm25 0zm10 0zm7 0zm27 0zm-176 1zm2 0zm10 0zm6 0zm18 0zm-17 1zm4 0zm9 0zm3 0zm63 0zm-88 1zm21 0zm3 0zm1 0zm1 0zm34 0zm1 0zm13 0zm-33 1zm9 0zm-59 1zm21 0zm13 0zm1 0zm23 0zm47 0zm35 0zm-138 1zm31 0zm1 0zm1 0zm20 0zm11 0zm18 0zm25 0zm13 0zm-76 1zm21 0zm3 0zm35 0zm48 0zm-153 1zm29 0zm74 0zm55 0zm-128 1zm15 0zm20 0zm3 0zm10 0zm26 0zm6 0zm9 0zm-120 1zm34 0zm8 0zm5 0zm22 0zm1 0zm1 0zm1 0zm33 0zm24 0zm-129 1zm13 0zm21 0zm5 0zm20 0zm24 0zm73 0zm-156 1zm3 0zm31 0zm2 0zm22 0zm14 0zm1 0zm12 0zm26 0zm21 0zm-118 1zm8 0zm46 0zm33 0zm34 0zm1 0zm-108 1zm1 0zm1 0zm6 0zm8 0zm2 0zm22 0zm3 0zm13 0zm-48 1zm5 0zm96 0zm-131 1zm14 0zm14 0zm4 0zm2 0zm21 0zm11 0zm79 0zm-116 1zm14 0zm22 0zm28 0zm20 0zm8 0zm-119 1zm6 0zm26 0zm35 0zm5 0zm25 0zm-101 1zm53 0zm2 0zm4 0zm7 0zm36 0zm1 0zm35 0zm-141 1zm12 0zm3 0zm44 0zm14 0zm43 0zm-117 1zm1 0zm19 0zm2 0zm2 0zm11 0zm1 0zm13 0zm2 0zm47 0zm10 0zm34 0zm-141 1zm4 0zm3 0zm6 0zm1 0zm7 0zm13 0zm3 0zm18 0zm12 0zm3 0zm2 0zm13 0zm1 0zm16 0zm-99 1zm22 0zm47 0zm32 0zm1 0zm14 0zm-106 1zm19 0zm1 0zm37 0zm1 0zm7 0zm7 0zm7 0zm1 0zm-90 1zm13 0zm16 0zm21 0zm14 0zm2 0zm30 0zm-83 1zm36 0zm1 0zm33 0zm24 0zm-89 1zm13 0zm2 0zm33 0zm1 0zm3 0zm3 0zm85 0zm10 0zm-146 1zm5 0zm10 0zm4 0zm3 0zm23 0zm2 0zm16 0zm2 0zm14 0zm18 0zm51 0zm-174 1zm5 0zm12 0zm16 0zm4 0zm73 0zm5 0zm20 0zm-107 1zm4 0zm1 0zm19 0zm21 0zm3 0zm29 0zm1 0zm-103 1zm6 0zm25 0zm1 0zm13 0zm23 0zm-71 1zm18 0zm35 0zm7 0zm10 0zm8 0zm8 0zm18 0zm1 0zm-80 1zm9 0zm1 0zm55 0zm14 0zm40 0zm-144 1zm30 0zm17 0zm79 0zm-56 1zm38 0zm37 0zm-131 1zm3 0zm55 0zm14 0zm8 0zm6 0zm19 0zm-119 1zm24 0zm12 0zm4 0zm27 0zm5 0zm17 0zm4 0zm-58 1zm3 0zm1 0zm32 0zm55 0zm-104 1zm12 0zm1 0zm26 0zm2 0zm10 0zm-72 1zm10 0zm15 0zm3 0zm16 0zm26 0zm20 0zm-56 1zm1 0zm5 0zm8 0zm23 0zm3 0zm21 0zm9 0zm10 0zm-114 1zm2 0zm7 0zm24 0zm1 0zm20 0zm39 0zm12 0zm-72 1zm10 0zm4 0zm22 0zm-70 1zm18 0zm4 0zm49 0zm13 0zm-72 1zm23 0zm8 0zm27 0zm8 0zm57 0zm-135 1zm52 0zm16 0zm40 0zm1 0zm67 0zm-174 1zm1 0zm10 0zm2 0zm1 0zm12 0zm32 0zm10 0zm7 0zm14 0zm64 0zm1 0zm-80 1zm-64 1zm26 0zm3 0zm15 0zm16 0zm4 0zm-76 1zm36 0zm7 0zm6 0zm71 0zm-120 1zm27 0zm18 0zm60 0zm-89 1zm2 0zm12 0zm7 0zm-37 1zm4 0zm6 0zm14 0zm3 0zm-26 1zm12 0zm22 0zm1 0zm43 0zm7 0zm10 0zm46 0zm-142 1zm13 0zm1 0zm19 0zm3 0zm1 0zm4 0zm6 0zm6 0zm1 0zm9 0zm25 0zm53 0zm5 0z"/>
<path transform="scale(0.25)" class="p o" d="M1895 324zm6 0zm3 0zm3 0zm20 0zm36 0zm-69 1zm67 0zm52 0zm-120 1zm8 0zm6 0zm12 0zm2 0zm3 0zm4 0zm32 0zm2 0zm8 0zm8 0zm-79 1zm7 0zm22 0zm-27 1zm2 0zm8 0zm3 0zm3 0zm45 0zm39 0zm31 0zm-133 1zm8 0zm19 0zm1 0zm2 0zm51 0zm-88 1zm7 0zm14 0zm6 0zm8 0zm6 0zm19 0zm51 0zm35 0zm-146 1zm11 0zm20 0zm3 0zm2 0zm6 0zm68 0zm-45 1zm-60 1zm22 0zm3 0zm6 0zm3 0zm17 0zm12 0zm4 0zm5 0zm29 0zm19 0zm32 0zm-146 1zm7 0zm16 0zm16 0zm19 0zm2 0zm5 0zm15 0zm59 0zm-149 1zm3 0zm6 0zm23 0zm17 0zm-38 1zm16 0zm16 0zm25 0zm12 0zm-77 1zm12 0zm15 0zm17 0zm21 0zm36 0zm-80 1zm-20 1zm9 0zm7 0zm1 0zm14 0zm3 0zm4 0zm24 0zm67 0zm-133 1zm49 0zm2 0zm65 0zm-114 1zm31 0zm4 0zm31 0zm1 0zm82 0zm-142 1zm15 0zm10 0zm35 0zm2 0zm4 0zm5 0zm-81 1zm34 0zm1 0zm11 0zm26 0zm14 0zm-86 1zm4 0zm66 0zm25 0zm-83 1zm24 0zm29 0zm19 0zm-84 1zm3 0zm6 0zm40 0zm35 0zm-83 1zm33 0zm16 0zm38 0zm44 0zm9 0zm-139 1zm10 0zm21 0zm1 0zm8 0zm37 0zm74 0zm-118 1zm2 0zm10 0zm40 0zm-85 1zm1 0zm7 0zm42 0zm11 0zm7 0zm36 0zm-96 1zm11 1zm14 0zm35 0zm41 0zm-107 1zm3 0zm72 0zm-48 1zm3 0zm41 0zm-40 1zm10 0zm18 0zm32 0zm-95 1zm8 0zm23 0zm3 0zm-34 1zm1 0zm6 0zm106 0zm-101 1zm2 0zm3 0zm31 0zm22 0zm5 0zm30 0zm-71 1zm0 1zm1 0zm9 0zm26 0zm2 0zm-35 1zm11 0zm37 0zm-85 1zm11 0zm24 0zm1 0zm58 0zm-62 1zm38 0zm35 0zm-80 1zm44 0zm-69 1zm1 0zm6 0zm15 0zm5 0zm42 0zm72 0zm-141 1zm3 0zm11 0zm14 0zm43 0zm-66 1zm6 0zm10 0zm12 0zm39 0zm-60 1zm1 0zm25 0zm17 0zm32 0zm17 0zm9 0zm-113 1zm73 0zm7 0zm3 0zm-69 1zm20 0zm1 0zm12 0zm-34 1zm2 0zm19 0zm1 0zm12 0zm5 0zm25 0zm6 0zm-13 2zm17 0zm-87 1zm34 0zm21 0zm16 0zm-27 1zm1 0zm26 0zm34 0zm37 0zm-140 1zm23 0zm80 0zm68 0zm-172 1zm32 0zm6 0zm31 0zm-67 1zm4 0zm28 0zm29 0zm-63 1zm31 0zm77 0zm-104 1zm17 0zm12 0zm5 0zm11 0zm24 0zm-57 1zm36 0zm55 0zm-103 1zm51 0zm32 0zm-75 1zm15 0zm1 0zm2 0zm4 0zm1 0zm2 0zm12 0zm15 0zm5 0zm-47 1zm11 1zm7 0zm16 0zm2 0zm11 0zm-63 1zm1 0zm24 0zm3 0zm15 0zm71 0zm-115 1zm29 0zm3 0zm13 1zm-51 1zm3 0zm17 0zm15 0zm33 0zm1 0zm50 0zm-119 1zm180 0zm-178 1zm33 0zm1 0zm11 0zm-32 1zm6 0zm14 0zm26 0zm10 0zm-57 1zm56 0zm-69 1zm1 0zm25 0zm10 0zm14 0zm-40 1zm23 0zm18 0zm7 0zm-36 1zm46 0zm2 0zm8 0zm27 0zm-89 1zm31 0zm-26 1zm6 0zm9 0zm46 0zm3 0zm12 0zm-98 1zm47 0zm-47 1zm2 0zm10 0zm13 0zm-20 1zm47 0zm-50 1zm32 0zm36 0zm17 0zm-53 1zm39 0zm-37 1zm5 0zm25 0zm7 0zm-9 1zm-63 1zm18 0zm6 0zm44 0zm-69 1zm36 0zm27 0zm19 0zm-47 1zm35 0zm12 0zm-82 1zm1 0zm5 0zm47 0zm19 0zm13 0zm-70 1zm20 0zm38 0zm-73 1zm1 0zm47 0zm22 0zm18 0zm-88 1zm35 0zm1 0zm-28 1zm63 0zm-71 1zm25 0zm-25 1zm24 1zm26 0zm17 0zm4 0zm-70 1zm4 0zm7 0zm11 0zm58 0zm-80 1zm70 0zm34 0zm-78 1zm-26 2zm4 1zm20 0zm38 0zm3 0zm3 0zm3 0zm15 0zm-56 1zm-31 1zm1 0zm21 0zm30 0zm14 0zm5 0zm-70 1zm47 0zm4 0zm11 0zm43 0zm0 1z"/>
<path transform="scale(0.25)" class="p b" d="M1772 324zm85 0zm1 0zm20 0zm5 0zm3 0zm5 0zm-126 1zm19 0zm29 0zm7 0zm34 0zm36 0zm1 0zm-130 1zm1 0zm22 0zm2 0zm1 0zm51 0zm18 0zm12 0zm10 0zm12 0zm-127 1zm24 0zm46 0zm30 0zm3 0zm-115 1zm3 0zm5 0zm59 0zm6 0zm5 0zm26 0zm1 0zm1 0zm17 0zm5 0zm-127 1zm32 0zm4 0zm20 0zm6 0zm7 0zm1 0zm31 0zm9 0zm9 0zm20 0zm1 0zm-129 1zm22 0zm21 0zm2 0zm8 0zm5 0zm5 0zm12 0zm8 0zm40 0zm-135 1zm6 0zm32 0zm18 0zm84 0zm-90 1zm14 0zm3 0zm31 0zm4 0zm5 0zm34 0zm-124 1zm17 0zm28 0zm9 0zm33 0zm21 0zm14 0zm-107 1zm2 0zm12 0zm13 0zm10 0zm2 0zm15 0zm16 0zm2 0zm2 0zm34 0zm-139 1zm32 0zm1 0zm1 0zm35 0zm25 0zm7 0zm34 0zm3 0zm-140 1zm23 0zm11 0zm1 0zm18 0zm6 0zm7 0zm4 0zm23 0zm10 0zm3 0zm5 0zm19 0zm-105 1zm4 0zm12 0zm30 0zm9 0zm25 0zm1 0zm24 0zm5 0zm-101 1zm71 0zm1 0zm2 0zm-107 1zm34 0zm19 0zm16 0zm21 0zm14 0zm22 0zm-93 1zm3 0zm40 0zm3 0zm23 0zm4 0zm4 0zm20 0zm-130 1zm20 0zm16 0zm33 0zm2 0zm6 0zm19 0zm4 0zm4 0zm4 0zm1 0zm8 0zm19 0zm4 0zm-139 1zm1 0zm15 0zm17 0zm70 0zm2 0zm34 0zm-138 1zm8 0zm23 0zm8 0zm29 0zm-64 1zm7 0zm39 0zm16 0zm2 0zm1 0zm34 0zm1 0zm1 0zm18 0zm2 0zm12 0zm1 0zm-140 1zm2 0zm30 0zm9 0zm36 0zm9 0zm23 0zm7 0zm-116 1zm32 0zm1 0zm3 0zm4 0zm4 0zm25 0zm17 0zm19 0zm10 0zm25 0zm-138 1zm33 0zm35 0zm4 0zm12 0zm20 0zm32 0zm-137 1zm12 0zm9 0zm11 0zm25 0zm11 0zm37 0zm2 0zm-89 1zm15 0zm68 0zm5 0zm21 0zm11 0zm-139 1zm6 0zm1 0zm1 0zm10 0zm5 0zm23 0zm35 0zm22 0zm1 0zm17 0zm1 0zm13 0zm4 0zm1 0zm-141 1zm2 0zm2 0zm8 0zm23 0zm1 0zm11 0zm22 0zm1 0zm2 0zm10 0zm23 0zm3 0zm4 0zm-112 1zm5 0zm35 0zm2 0zm29 0zm36 0zm30 0zm-114 1zm27 0zm6 0zm4 0zm2 0zm5 0zm3 0zm3 0zm26 0zm40 0zm-124 1zm7 0zm6 0zm31 0zm10 0zm5 0zm44 0zm21 0zm1 0zm-101 1zm11 0zm9 0zm4 0zm9 0zm1 0zm33 0zm7 0zm7 0zm-106 1zm3 0zm16 0zm6 0zm17 0zm15 0zm9 0zm26 0zm1 0zm7 0zm-114 1zm36 0zm8 0zm16 0zm12 0zm8 0zm10 0zm3 0zm14 0zm1 0zm1 0zm9 0zm1 0zm22 0zm-141 1zm30 0zm4 0zm2 0zm1 0zm4 0zm40 0zm40 0zm9 0zm-130 1zm1 0zm1 0zm19 0zm13 0zm3 0zm13 0zm5 0zm51 0zm13 0zm16 0zm5 0zm-136 1zm25 0zm3 0zm8 0zm2 0zm26 0zm4 0zm17 0zm17 0zm23 0zm6 0zm-135 1zm1 0zm2 0zm3 0zm17 0zm5 0zm18 0zm14 0zm11 0zm11 0zm50 0zm-116 1zm19 0zm34 0zm11 0zm6 0zm20 0zm16 0zm-86 1zm8 0zm5 0zm7 0zm15 0zm33 0zm-99 1zm20 0zm4 0zm29 0zm4 0zm3 0zm5 0zm7 0zm6 0zm19 0zm2 0zm1 0zm7 0zm6 0zm4 0zm5 0zm-127 1zm22 0zm15 0zm35 0zm7 0zm17 0zm10 0zm1 0zm34 0zm-140 1zm11 0zm5 0zm18 0zm1 0zm2 0zm8 0zm12 0zm13 0zm3 0zm12 0zm1 0zm18 0zm4 0zm32 0zm-140 1zm20 0zm3 0zm3 0zm9 0zm13 0zm2 0zm1 0zm17 0zm1 0zm2 0zm16 0zm20 0zm20 0zm1 0zm12 0zm-140 1zm14 0zm1 0zm38 0zm15 0zm3 0zm1 0zm1 0zm21 0zm17 0zm-110 1zm20 0zm2 0zm6 0zm5 0zm2 0zm2 0zm37 0zm28 0zm1 0zm1 0zm4 0zm31 0zm-124 1zm14 0zm40 0zm56 0zm9 0zm-135 1zm5 0zm15 0zm15 0zm11 0zm3 0zm15 0zm6 0zm1 0zm23 0zm9 0zm2 0zm10 0zm12 0zm12 0zm1 0zm-141 1zm11 0zm22 0zm43 0zm28 0zm3 0zm26 0zm7 0zm-118 1zm11 0zm1 0zm1 0zm2 0zm16 0zm16 0zm5 0zm10 0zm7 0zm14 0zm1 0zm1 0zm20 0zm14 0zm-140 1zm14 0zm5 0zm6 0zm9 0zm4 0zm3 0zm1 0zm6 0zm22 0zm1 0zm16 0zm35 0zm1 0zm-123 1zm5 0zm1 0zm27 0zm19 0zm29 0zm25 0zm34 0zm-140 1zm5 0zm16 0zm15 0zm31 0zm2 0zm1 0zm16 0zm11 0zm8 0zm27 0zm1 0zm-134 1zm1 0zm1 0zm34 0zm-36 1zm1 0zm1 0zm4 0zm1 0zm6 0zm19 0zm2 0zm22 0zm16 0zm10 0zm25 0zm9 0zm1 0zm23 0zm1 0zm-141 1zm2 0zm1 0zm5 0zm17 0zm16 0zm30 0zm1 0zm1 0zm1 0zm32 0zm14 0zm9 0zm-129 1zm1 0zm2 0zm11 0zm4 0zm41 0zm2 0zm26 0zm7 0zm11 0zm35 0zm2 0zm-142 1zm4 0zm26 0zm5 0zm14 0zm4 0zm1 0zm1 0zm34 0zm32 0zm19 0zm1 0zm-141 1zm11 0zm10 0zm15 0zm2 0zm11 0zm30 0zm16 0zm10 0zm12 0zm6 0zm18 0zm-141 1zm3 0zm2 0zm11 0zm19 0zm1 0zm1 0zm17 0zm15 0zm3 0zm11 0zm20 0zm5 0zm5 0zm-113 1zm23 0zm11 0zm6 0zm24 0zm6 0zm35 0zm3 0zm13 0zm-121 1zm10 0zm6 0zm11 0zm10 0zm6 0zm10 0zm1 0zm9 0zm36 0zm6 0zm27 0zm5 0zm-136 1zm25 0zm3 0zm7 0zm1 0zm1 0zm31 0zm35 0zm16 0zm-95 1zm6 0zm5 0zm2 0zm22 0zm3 0zm63 0zm-119 1zm3 0zm11 0zm14 0zm35 0zm38 0zm29 0zm-136 1zm1 0zm2 0zm15 0zm15 0zm1 0zm1 0zm34 0zm37 0zm34 0zm-131 1zm15 0zm2 0zm2 0zm14 0zm2 0zm25 0zm1 0zm3 0zm16 0zm14 0zm4 0zm8 0zm17 0zm6 0zm1 0zm-140 1zm4 0zm26 0zm2 0zm1 0zm3 0zm14 0zm6 0zm9 0zm6 0zm2 0zm1 0zm28 0zm36 0zm1 0zm-129 1zm21 0zm4 0zm1 0zm16 0zm20 0zm1 0zm10 0zm13 0zm10 0zm32 0zm-114 1zm11 0zm1 0zm33 0zm18 0zm15 0zm10 0zm-112 1zm1 0zm4 0zm4 0zm26 0zm18 0zm11 0zm5 0zm1 0zm6 0zm6 0zm8 0zm3 0zm10 0zm32 0zm6 0zm-140 1zm1 0zm1 0zm15 0zm16 0zm1 0zm1 0zm4 0zm25 0zm9 0zm22 0zm4 0zm7 0zm24 0zm9 0zm-120 1zm14 0zm1 0zm1 0zm30 0zm2 0zm32 0zm2 0zm19 0zm6 0zm8 0zm-135 1zm1 0zm1 0zm2 0zm31 0zm42 0zm33 0zm27 0zm4 0zm-139 1zm12 0zm3 0zm11 0zm9 0zm26 0zm7 0zm1 0zm5 0zm15 0zm16 0zm24 0zm-129 1zm1 0zm31 0zm3 0zm29 0zm4 0zm1 0zm1 0zm4 0zm10 0zm2 0zm8 0zm45 0zm-139 1zm25 0zm8 0zm1 0zm1 0zm34 0zm66 0zm4 0zm-141 1zm1 0zm1 0zm32 0zm38 0zm33 0zm4 0zm28 0zm4 0zm-139 1zm14 0zm1 0zm18 0zm2 0zm5 0zm6 0zm1 0zm32 0zm25 0zm1 0zm3 0zm-110 1zm1 0zm1 0zm15 0zm5 0zm3 0zm10 0zm1 0zm3 0zm12 0zm13 0zm15 0zm22 0zm6 0zm-96 1zm11 0zm9 0zm4 0zm1 0zm6 0zm3 0zm18 0zm12 0zm21 0zm10 0zm20 0zm4 0zm-130 1zm11 0zm10 0zm10 0zm3 0zm2 0zm15 0zm19 0zm2 0zm36 0zm1 0zm-108 1zm1 0zm1 0zm23 0zm8 0zm2 0zm18 0zm1 0zm7 0zm7 0zm1 0zm2 0zm29 0zm6 0zm22 0zm8 0zm4 0zm-140 1zm4 0zm8 0zm18 0zm1 0zm3 0zm8 0zm1 0zm9 0zm18 0zm1 0zm15 0zm6 0zm11 0zm2 0zm-106 1zm3 0zm10 0zm1 0zm21 0zm1 0zm1 0zm34 0zm14 0zm8 0zm4 0zm12 0zm8 0zm23 0zm-105 1zm10 0zm2 0zm56 0zm3 0zm-105 1zm1 0zm3 0zm27 0zm2 0zm48 0zm24 0zm11 0zm6 0zm-100 1zm12 0zm14 0zm24 0zm8 0zm15 0zm10 0zm1 0zm32 0zm-139 1zm1 0zm18 0zm39 0zm5 0zm29 0zm40 0zm5 0zm-104 1zm2 0zm3 0zm1 0zm4 0zm8 0zm19 0zm1 0zm5 0zm7 0zm18 0zm-101 1zm41 0zm11 0zm6 0zm6 0zm7 0zm10 0zm24 0zm-100 1zm4 0zm10 0zm16 0zm22 0zm11 0zm3 0zm1 0zm25 0zm34 0zm10 0zm-137 1zm2 0zm3 0zm7 0zm5 0zm4 0zm38 0zm9 0zm33 0zm4 0zm-108 1zm5 0zm13 0zm15 0zm1 0zm1 0zm1 0zm1 0zm6 0zm11 0zm4 0zm12 0zm2 0zm31 0zm2 0zm28 0zm-133 1zm19 0zm15 0zm2 0zm26 0zm7 0zm8 0zm33 0zm11 0zm10 0zm9 0zm-130 1zm5 0zm10 0zm5 0zm49 0zm60 0zm-139 1zm13 0zm1 0zm21 0zm1 0zm13 0zm14 0zm9 0zm12 0zm20 0zm3 0zm13 0zm13 0zm-133 1zm10 0zm2 0zm1 0zm2 0zm18 0zm2 0zm36 0zm29 0zm13 0zm18 0zm8 0zm-140 1zm2 0zm8 0zm22 0zm4 0zm26 0zm8 0zm-70 1zm11 0zm5 0zm20 0zm8 0zm39 0zm14 0zm6 0zm8 0zm-110 1zm11 0zm2 0zm10 0zm9 0zm1 0zm1 0zm2 0zm15 0zm21 0zm1 0zm2 0zm5 0zm25 0zm3 0zm31 0zm-136 1zm10 0zm3 0zm5 0zm13 0zm1 0zm2 0zm20 0zm12 0zm2 0zm28 0zm4 0zm1 0zm3 0zm23 0zm10 0zm-141 1zm9 0zm28 0zm13 0zm22 0zm34 0z"/>
</g>
<path class="ax" d="M437.5 106.6H543.7M437.5 106.6V10.0M437.5 106.6v1.8M446.4 106.6v1.0M455.2 106.6v1.8M464.1 106.6v1.0M472.9 106.6v1.8M481.8 106.6v1.0M490.6 106.6v1.8M499.4 106.6v1.0M508.3 106.6v1.8M517.1 106.6v1.0M526.0 106.6v1.8M534.9 106.6v1.0M543.7 106.6v1.8M437.5 106.6h-1.8M437.5 100.2h-1.0M437.5 93.7h-1.8M437.5 87.3h-1.0M437.5 80.9h-1.8M437.5 74.4h-1.0M437.5 68.0h-1.8M437.5 61.6h-1.0M437.5 55.2h-1.8M437.5 48.7h-1.0M437.5 42.3h-1.8M437.5 35.9h-1.0M437.5 29.4h-1.8M437.5 23.0h-1.0M437.5 16.6h-1.8"/>
<g class="tl" text-anchor="middle"><text transform="translate(437.5 113.4)scale(.8 1)">0</text><text transform="translate(455.2 113.4)scale(.8 1)">2</text><text transform="translate(472.9 113.4)scale(.8 1)">4</text><text transform="translate(490.6 113.4)scale(.8 1)">6</text><text transform="translate(508.3 113.4)scale(.8 1)">8</text><text transform="translate(526.0 113.4)scale(.8 1)">10</text><text transform="translate(543.7 113.4)scale(.8 1)">12</text></g>
<g class="tl" text-anchor="end"><text transform="translate(435.2 108.2)scale(.8 1)">0</text><text transform="translate(435.2 95.3)scale(.8 1)">2</text><text transform="translate(435.2 82.5)scale(.8 1)">4</text><text transform="translate(435.2 69.6)scale(.8 1)">6</text><text transform="translate(435.2 56.8)scale(.8 1)">8</text><text transform="translate(435.2 43.9)scale(.8 1)">10</text><text transform="translate(435.2 31.0)scale(.8 1)">12</text><text transform="translate(435.2 18.2)scale(.8 1)">14</text></g>
<path class="rl" d="M437.5 106.6L534.9 34.5"/>
<text class="at" style="font-weight:bold" x="475.5" y="121.0" textLength="29.6" lengthAdjust="spacingAndGlyphs">Actual Distance</text>
<text class="at" transform="translate(429.7 58.3)rotate(-90)" x="-21.2" y="0" textLength="42.4" lengthAdjust="spacingAndGlyphs">Prediction Distance</text>
<text class="rt" style="font-weight:bold" transform="translate(451.8 14.0)scale(0.845 1)">R=0.8630</text>
<text class="rt" style="font-weight:bold" transform="translate(451.8 19.8)scale(0.845 1)">slope=1.0191</text>
<text class="cap" transform="translate(491.8 144.0)scale(.94 1)">(d) LINE</text>
<g filter="url(#bl)">
<path transform="scale(0.25)" class="p r" d="M169 733zm37 1zm-2 12zm2 2zm0 2zm-34 6zm-43 4zm42 10zm3 8zm32 0zm-48 1zm48 0zm-65 2zm64 1zm-33 1zm34 11zm-15 1zm-15 4zm30 0zm0 2zm-104 1zm33 0zm56 1zm-71 1zm50 0zm3 3zm-37 1zm-57 1zm94 0zm31 1zm-19 1zm21 0zm-71 3zm1 1zm59 1zm11 0zm-2 2zm2 0zm-35 4zm-17 1zm18 0zm33 0zm-3 1zm3 0zm-45 2zm13 0zm4 0zm-41 1zm-35 1zm69 1zm34 1zm1 1zm-33 1zm29 0zm-64 1zm-56 1zm102 0zm-12 1zm2 1zm6 3zm1 1zm-80 1zm-34 1zm70 0zm1 0zm69 0zm-25 1zm25 0zm-35 1zm33 0zm-67 1zm33 0zm37 0zm-71 1zm37 0zm33 0zm-69 1zm34 0zm35 0zm1 0zm-107 1zm26 0zm60 1zm-14 1zm1 0zm33 0zm-101 1zm50 0zm16 0zm19 0zm14 0zm-14 1zm15 0zm-104 1zm71 0zm13 0zm7 0zm-112 1zm76 0zm15 0zm17 0zm18 1zm-106 1zm70 0zm4 0zm32 0zm1 0zm-120 1zm49 0zm35 0zm2 0zm34 0zm-51 1zm-66 1zm15 0zm30 2zm6 0zm32 0zm-38 1zm34 0zm35 0zm2 0zm1 0zm-72 1zm37 0zm-12 1zm-25 1zm26 0zm11 0zm-36 1zm71 0zm-141 1zm71 0zm33 0zm2 0zm1 0zm33 0zm-72 1zm4 0zm34 0zm1 0zm32 0zm-69 1zm31 0zm5 0zm24 0zm-62 1zm70 0zm-34 1zm4 0zm14 0zm17 0zm1 0zm-76 1zm42 0zm-71 1zm52 0zm54 0zm-36 1zm25 0zm-62 1zm3 0zm14 0zm7 0zm1 0zm8 0zm27 0zm10 0zm1 0zm1 0zm-69 1zm36 0zm34 0zm-110 1zm39 0zm35 0zm16 0zm1 0zm17 0zm-69 1zm36 0zm35 0zm-73 1zm38 0zm-77 1zm74 0zm2 0zm33 0zm-33 1zm22 0zm12 0zm1 0zm-104 1zm37 0zm32 0zm8 0zm16 0zm-130 1zm37 0zm69 0zm1 0zm31 0zm-100 1zm19 0zm49 0zm36 0zm-142 1zm1 0zm2 1zm59 0zm8 0zm2 0zm1 0zm33 0zm2 0zm32 0zm-71 1zm3 0zm-2 1zm39 0zm32 0zm-77 1zm22 0zm20 0zm1 0zm21 0zm-91 1zm38 0zm29 0zm2 0zm-53 1zm16 0zm-35 1zm71 0zm35 0zm2 0zm-72 1zm5 0zm35 0zm-110 1zm96 0zm46 0zm-65 1zm30 0zm34 0zm1 0zm-110 1zm73 0zm1 0zm25 0zm8 0zm2 0zm-107 1zm2 0zm1 0zm2 0zm32 0zm2 0zm34 0zm34 0zm-107 1zm1 0zm8 0zm5 0zm57 0zm1 0zm1 0zm6 0zm28 0zm-70 1zm1 0zm33 0zm2 0zm19 0zm14 0zm1 0zm-104 1zm17 0zm16 0zm2 0zm34 0zm3 0zm4 0zm18 0zm1 0zm9 0zm-141 1zm34 0zm2 0zm2 0zm30 0zm1 0zm2 0zm1 0zm1 0zm32 0zm1 0zm27 0zm5 0zm-137 1zm45 0zm10 0zm14 0zm2 0zm21 0zm12 0zm1 0zm2 0zm33 0zm1 0zm-108 1zm3 0zm34 0zm24 0zm1 0zm2 0zm2 0zm7 0zm1 0zm15 0zm9 0zm8 0zm-131 1zm60 0zm4 0zm33 0zm1 0zm2 0zm5 0zm20 0zm7 0zm-106 1zm24 0zm11 0zm3 0zm23 0zm10 0zm-104 1zm36 0zm33 0zm1 0zm1 0zm32 0zm2 0zm2 0zm2 0zm-97 1zm21 0zm35 0zm30 0zm4 0zm3 0zm16 0zm18 0zm-141 1zm17 0zm17 0zm2 0zm1 0zm32 0zm1 0zm4 0zm4 0zm13 0zm15 0zm2 0zm4 0zm6 0zm5 0zm17 0zm-108 1zm4 0zm54 0zm13 0zm1 0zm-101 1zm20 0zm13 0zm35 0zm11 0zm23 0zm1 0zm24 0zm10 0zm-138 1zm24 0zm2 0zm9 0zm19 0zm8 0zm6 0zm1 0zm36 0zm7 0zm18 0zm6 0zm3 0zm-141 1zm6 0zm17 0zm12 0zm1 0zm7 0zm6 0zm17 0zm5 0zm2 0zm11 0zm21 0zm1 0zm1 0zm-105 1zm10 0zm6 0zm16 0zm2 0zm32 0zm3 0zm23 0zm12 0zm3 0zm31 0zm1 0zm1 0zm-141 1zm8 0zm64 0zm9 0zm9 0zm16 0zm3 0zm31 0zm-128 1zm22 0zm1 0zm14 0zm9 0zm11 0zm1 0zm28 0zm6 0zm23 0zm13 0zm-112 1zm1 0zm8 0zm33 0zm1 0zm13 0zm7 0zm14 0zm1 0zm-87 1zm15 0zm1 0zm1 0zm33 0zm4 0zm3 0zm1 0zm4 0zm17 0zm8 0zm1 0zm33 0zm-107 1zm2 0zm1 0zm5 0zm3 0zm14 0zm12 0zm1 0zm1 0zm31 0zm1 0zm1 0zm35 0zm-112 1zm40 0zm2 0zm2 0zm30 0zm2 0zm3 0zm20 0zm14 0zm-142 1zm1 0zm24 0zm9 0zm2 0zm36 0zm33 0zm17 0zm1 0zm19 0zm-141 1zm1 0zm36 0zm32 0zm4 0zm3 0zm27 0zm1 0zm1 0zm8 0zm8 0zm19 0zm1 0zm-129 1zm29 0zm34 0zm30 0zm5 0zm10 0zm5 0zm15 0zm-140 1zm15 0zm7 0zm6 0zm6 0zm1 0zm3 0zm23 0zm6 0zm3 0zm34 0zm2 0zm-93 1zm6 0zm6 0zm3 0zm6 0zm1 0zm4 0zm28 0zm32 0zm7 0zm14 0zm20 0zm-141 1zm34 0zm11 0zm56 0zm6 0zm27 0zm7 0zm1 0zm-140 1zm3 0zm6 0zm5 0zm19 0zm34 0zm1 0zm7 0zm1 0zm2 0zm25 0zm1 0zm1 0zm2 0zm21 0zm-123 1zm27 0zm2 0zm36 0zm37 0zm27 0z"/>
<path transform="scale(0.25)" class="p g" d="M368 661zm-61 10zm-30 2zm2 0zm68 3zm-31 2zm-108 1zm120 16zm-17 6zm-2 1zm47 7zm-51 2zm42 1zm36 0zm2 3zm-38 1zm-5 1zm44 1zm-3 1zm-67 2zm-3 1zm71 1zm-109 1zm39 1zm40 0zm30 2zm-107 1zm1 0zm71 1zm-67 2zm51 0zm-54 1zm-2 1zm43 0zm14 0zm50 0zm-36 3zm27 0zm-61 1zm-37 1zm37 1zm-87 1zm86 0zm34 0zm-138 1zm74 0zm65 0zm14 0zm22 0zm2 0zm-53 2zm-125 1zm35 0zm27 1zm9 0zm105 0zm-69 1zm70 0zm-62 1zm26 0zm35 0zm-106 1zm29 0zm7 1zm71 0zm-120 1zm11 0zm46 0zm-80 1zm1 0zm23 0zm11 0zm71 0zm-24 1zm61 1zm-143 1zm80 0zm26 1zm21 0zm16 1zm-107 1zm70 0zm107 0zm-221 1zm31 0zm-28 1zm77 0zm34 0zm2 0zm-37 1zm69 0zm-143 1zm74 1zm71 0zm-131 1zm61 0zm-34 1zm102 0zm-69 1zm-78 1zm42 0zm1 0zm107 0zm-71 1zm35 0zm22 0zm14 0zm-70 1zm32 0zm1 0zm11 0zm3 0zm-84 1zm2 0zm33 0zm2 0zm30 0zm-79 1zm117 0zm3 0zm-72 1zm23 0zm45 0zm10 0zm-55 1zm8 0zm40 0zm-121 1zm86 0zm-109 1zm73 0zm-49 1zm14 0zm4 0zm21 0zm-65 1zm5 0zm9 0zm23 0zm2 0zm61 0zm9 0zm-102 1zm31 0zm71 0zm1 0zm-36 2zm36 0zm34 0zm-71 1zm66 0zm15 0zm-122 1zm43 0zm10 0zm-112 1zm24 0zm6 0zm65 0zm-99 1zm33 0zm2 0zm51 0zm53 0zm-119 1zm47 0zm3 0zm36 0zm8 0zm27 0zm-124 1zm9 0zm42 0zm41 0zm4 0zm-64 1zm57 0zm25 0zm9 0zm-61 1zm63 0zm33 0zm-129 1zm96 0zm34 0zm1 0zm-146 1zm74 0zm37 0zm-108 1zm107 0zm-83 1zm47 0zm1 0zm32 0zm1 0zm-139 1zm52 0zm38 0zm8 0zm42 0zm-70 1zm32 0zm3 0zm34 0zm36 0zm2 0zm-152 1zm14 0zm32 0zm34 0zm2 0zm71 0zm-147 1zm3 0zm70 0zm-38 1zm2 0zm2 0zm1 0zm38 0zm-46 1zm11 0zm15 0zm87 0zm-107 1zm35 0zm1 0zm77 0zm-183 1zm1 0zm70 0zm103 0zm-161 1zm21 0zm2 0zm33 0zm33 0zm-67 1zm1 0zm28 0zm7 0zm35 0zm70 0zm-107 1zm71 0zm5 0zm5 0zm15 0zm-165 1zm33 0zm1 0zm1 0zm36 0zm112 0zm-117 1zm38 0zm17 0zm-15 1zm37 0zm-65 1zm9 0zm54 0zm-106 1zm35 0zm28 0zm6 0zm46 0zm-116 1zm35 0zm36 0zm15 0zm20 0zm-78 1zm7 0zm1 0zm25 0zm10 0zm2 0zm32 0zm38 0zm-123 1zm16 0zm5 0zm68 0zm44 0zm-151 1zm34 0zm69 0zm20 0zm-159 1zm35 0zm8 0zm27 0zm2 0zm33 0zm1 0zm1 0zm34 0zm-106 1zm1 0zm32 0zm75 0zm-109 1zm1 0zm1 0zm19 0zm50 0zm36 0zm1 0zm11 0zm-121 1zm38 0zm1 0zm33 0zm1 0zm1 0zm32 0zm4 0zm-127 1zm53 0zm2 0zm36 0zm14 0zm22 0zm-142 1zm42 0zm10 0zm16 0zm3 0zm21 0zm6 0zm1 0zm42 0zm1 0zm36 0zm1 0zm-145 1zm38 0zm-66 1zm29 0zm35 0zm30 1zm6 0zm6 0zm30 0zm8 0zm25 0zm1 0zm2 0zm-178 1zm1 0zm66 0zm4 0zm62 0zm-98 1zm35 0zm85 0zm11 0zm-165 1zm33 0zm70 0zm39 0zm-143 1zm1 0zm8 0zm24 0zm1 0zm1 0zm2 0zm18 0zm18 0zm34 0zm35 0zm1 0zm-97 1zm62 0zm19 0zm15 0zm-134 1zm28 0zm7 0zm27 0zm1 0zm6 0zm31 0zm63 0zm-171 1zm21 0zm15 0zm2 0zm5 0zm30 0zm1 0zm67 0zm7 0zm-115 1zm6 0zm32 0zm15 0zm21 0zm40 0zm31 0zm1 0zm-144 1zm70 0zm3 0zm23 0zm10 0zm14 0zm-120 1zm36 0zm35 0zm3 0zm-109 1zm33 0zm41 0zm33 0zm-38 1zm1 0zm5 0zm30 0zm9 0zm25 0zm2 0zm3 0zm33 0zm1 0zm-127 1zm19 0zm70 0zm-85 1zm4 0zm12 0zm34 0zm8 0zm28 0zm-141 1zm9 0zm14 0zm11 0zm6 0zm16 0zm50 0zm34 0zm36 0zm-106 1zm37 0zm-61 1zm5 0zm19 0zm34 0zm-101 1zm30 0zm4 0zm34 0zm36 0zm35 0zm15 0zm-115 1zm26 0zm2 0zm1 0zm61 0zm4 0zm-101 1zm2 0zm30 0zm3 0zm36 0zm69 0zm-141 1zm2 0zm34 0zm36 0zm27 0zm10 0zm-117 1zm1 0zm3 0zm3 0zm3 0zm70 0zm23 0zm-127 1zm24 0zm9 0zm35 0zm2 0zm32 0zm3 0zm69 0zm-173 1zm9 0zm23 0zm1 0zm34 0zm1 0zm32 0zm4 0zm36 0zm25 0zm-127 1zm18 0zm10 0zm23 0zm15 0zm27 0zm8 0zm13 0zm-94 1zm9 0zm29 0zm5 0zm2 0zm10 0zm28 0zm32 0zm-141 1zm34 0zm37 0zm31 0zm-100 1zm13 0zm76 0zm-89 1zm34 0zm1 0zm7 0zm-78 1zm27 0zm6 0zm2 0zm14 0zm17 0zm4 0zm21 0zm13 0zm1 0zm2 0zm6 0zm28 0zm4 0zm30 0zm-142 1zm2 0zm33 0zm34 0zm4 0zm35 0zm-140 1zm65 0zm4 0zm15 0zm20 0zm30 0zm-97 1zm15 0zm16 0zm1 0zm22 0zm48 0zm1 0zm-141 1zm2 0zm10 0zm17 0zm41 0zm1 0zm26 0zm7 0zm-105 1zm1 0zm22 0zm13 0zm1 0zm67 0zm16 0zm21 0zm-138 1zm31 0zm2 0zm2 0zm30 0zm1 0zm2 0zm7 0zm38 0zm60 0zm2 0zm5 0zm-183 1zm2 0zm45 0zm60 0zm34 0zm17 0zm-156 1zm31 0zm2 0zm8 0zm2 0zm18 0zm7 0zm1 0zm108 0zm-178 1zm36 0zm33 0zm4 0zm32 0zm30 0zm5 0zm46 0zm-181 1zm23 0zm40 0zm2 0zm1 0zm32 0zm1 0zm-75 1zm37 0zm11 0zm27 0zm35 0zm-139 1zm34 0zm32 0zm39 0zm2 0zm3 0zm1 0zm66 0zm-176 1zm40 0zm4 0zm20 0zm4 0zm2 0zm32 0zm2 0zm36 0zm2 0zm-112 1zm3 0zm3 0zm17 0zm5 0zm-59 1zm8 0zm23 0zm3 0zm2 0zm32 0zm13 0zm-82 1zm9 0zm25 0zm47 0zm24 0zm14 0zm22 0zm18 0zm-150 1zm6 0zm8 0zm12 0zm11 0zm16 0zm8 0zm19 0zm17 0zm7 0zm1 0zm28 0zm-112 1zm41 0zm14 0zm-51 1zm2 0zm70 0zm48 0zm-154 1zm1 0zm31 0zm5 0zm12 0zm20 0zm6 0zm28 0zm8 0zm33 0zm32 0zm-144 1zm37 0zm24 0zm13 0zm72 0zm-154 1zm8 0zm3 0zm1 0zm7 0zm11 0zm15 0zm3 0zm70 0zm45 0zm-172 1zm21 0zm34 0zm1 0zm6 0zm19 0zm9 0zm2 0zm13 0zm15 0zm4 0zm4 0zm-142 1zm6 0zm23 0zm5 0zm5 0zm1 0zm31 0zm67 0zm3 0zm18 0zm-145 1zm19 0zm2 0zm20 0zm14 0zm2 0zm34 0zm1 0zm42 0zm-126 1zm23 0zm24 0zm36 0zm2 0zm-107 1zm33 0zm1 0zm17 0zm2 0zm54 0zm79 0zm-187 1zm8 0zm23 0zm3 0zm2 0zm32 0zm3 0zm52 0zm17 0zm-139 1zm32 0zm2 0zm1 0zm24 0zm10 0zm3 0zm68 0zm34 0zm-173 1zm2 0zm31 0zm1 0zm34 0zm37 0zm15 0zm-89 1zm2 0zm1 0zm1 0zm23 0zm9 0zm1 0zm1 0zm35 0zm-91 1zm20 0zm37 0zm1 0zm32 0zm2 0zm1 0zm-106 1zm32 0zm1 0zm2 0zm27 0zm43 0zm33 0zm-138 1zm7 0zm8 0zm70 0zm19 0zm2 0zm70 0zm-143 1zm34 0zm2 0zm3 0zm31 0zm12 0zm-102 1zm20 0zm1 0zm16 0zm20 0zm20 0zm-80 1zm9 0zm28 0zm13 0zm23 0zm1 0zm1 0zm4 0zm16 0zm39 0zm-146 1zm8 0zm6 0zm15 0zm4 0zm1 0zm4 0zm33 0zm1 0zm6 0zm43 0zm21 0zm-140 1zm32 0zm1 0zm2 0zm69 0zm37 0zm33 0zm-174 1zm31 0zm37 0zm3 0zm33 0zm1 0zm-107 1zm1 0zm34 0zm34 0zm37 0zm1 0zm13 0zm22 0zm-142 1zm36 0zm21 0zm12 0zm3 0zm24 0zm10 0zm7 0zm27 0zm-126 1zm55 0zm1 0zm24 0zm11 0zm73 0zm-178 1zm1 0zm19 0zm17 0zm15 0zm4 0zm14 0zm13 0zm16 0zm79 0zm-178 1zm6 0zm30 0zm10 0zm24 0zm2 0zm19 0zm-90 1zm1 0zm32 0zm1 0zm1 0zm35 0zm34 0zm4 0zm-107 1zm20 0zm13 0zm4 0zm31 0zm1 0zm1 0zm24 0zm2 0zm6 0zm53 0zm18 0zm-140 1zm1 0zm70 0zm26 0zm12 0zm-144 1zm23 0zm13 0zm11 0zm7 0zm5 0zm11 0zm3 0zm42 0zm-77 1zm14 0zm8 0zm10 0zm1 0zm17 0zm-53 1zm2 0zm10 0zm15 0zm6 0zm2 0zm22 0zm16 0zm33 0zm-107 1zm1 0zm1 0zm1 0zm1 0zm32 0zm1 0zm35 0zm-72 1zm1 0zm1 0zm1 0zm23 0zm11 0zm34 0zm38 0zm-136 1zm27 0zm2 0zm1 0zm33 0zm2 0zm5 0zm30 0zm30 0zm-137 1zm35 0zm34 0zm37 0zm37 0zm-143 1zm30 0zm3 0zm1 0zm1 0zm14 0zm21 0zm1 0zm48 0zm27 0zm-145 1zm15 0zm6 0zm13 0zm30 0zm4 0zm1 0zm34 0zm-70 1zm3 0zm32 0zm8 0zm30 0zm5 0zm29 0zm-140 1zm34 0zm8 0zm7 0zm4 0zm16 0zm-69 1zm33 0zm8 0zm32 0zm32 0zm-105 1zm1 0zm19 0zm12 0zm6 0zm32 0zm1 0zm1 0zm41 0zm63 0zm-176 1zm26 0zm28 0zm16 0zm35 0zm39 0zm-144 1zm35 0zm43 0zm24 0zm3 0zm2 0zm8 0zm-107 1zm25 0zm1 0zm15 0zm27 0zm4 0zm4 0zm22 0zm-91 1zm18 0zm1 0zm1 0zm31 0zm3 0zm71 0zm46 0zm-186 1zm16 0zm17 0zm1 0zm18 0zm6 0zm10 0zm37 0zm-89 1zm19 0zm35 0zm-71 1zm9 0zm25 0zm26 0zm10 0zm1 0zm1 0zm-39 1zm3 0zm31 0zm3 0zm-50 1zm3 0zm12 0zm2 0zm38 0zm31 0zm12 0zm-118 1zm1 0zm20 0zm13 0zm94 0zm-113 1zm19 0zm1 0zm36 0zm9 0zm27 0zm-97 1zm13 0zm10 0zm3 0zm1 0zm35 0zm33 0zm-105 1zm15 0zm16 0zm3 0zm1 0zm71 0zm35 0zm-141 1zm4 0zm5 0zm40 0zm21 0zm109 0zm-173 1zm28 0zm1 0zm36 0zm45 0zm-113 1zm16 0zm16 0zm1 0zm1 0zm32 0zm16 0z"/>
<path transform="scale(0.25)" class="p o" d="M241 927zm2 0zm3 0zm-37 1zm5 0zm10 0zm13 0zm5 0zm45 0zm1 0zm-75 1zm10 0zm19 0zm1 0zm10 0zm37 0zm23 0zm24 0zm10 0zm-104 1zm35 0zm1 0zm23 0zm46 0zm35 0zm-176 1zm13 0zm20 0zm2 0zm1 0zm36 0zm33 0zm45 0zm25 0zm-175 1zm1 0zm24 0zm8 0zm1 0zm51 0zm2 0zm41 0zm14 0zm12 0zm4 0zm-157 1zm28 0zm20 0zm20 0zm1 0zm67 0zm-104 1zm1 0zm1 0zm10 0zm22 0zm44 0zm-74 1zm-24 1zm22 0zm36 0zm38 0zm-108 1zm35 0zm34 0zm15 0zm5 0zm-56 1zm2 0zm34 0zm-70 1zm1 0zm19 0zm30 0zm56 0zm1 0zm-106 1zm7 0zm13 0zm12 0zm3 0zm-35 1zm75 0zm25 0zm-100 1zm11 0zm26 0zm31 0zm73 0zm-142 1zm3 0zm2 0zm24 0zm6 0zm2 0zm32 0zm-69 1zm1 0zm15 0zm4 0zm14 0zm1 0zm1 0zm16 0zm19 0zm1 0zm3 0zm5 0zm-69 1zm24 0zm1 0zm34 0zm-69 1zm14 0zm18 0zm2 0zm17 0zm18 0zm3 0zm31 0zm-104 1zm3 0zm18 0zm9 0zm82 0zm-104 1zm7 0zm20 0zm2 0zm8 0zm18 0zm10 0zm3 0zm5 0zm-52 1zm6 0zm1 0zm34 0zm-69 1zm1 0zm32 0zm3 0zm1 0zm14 0zm8 0zm12 0zm-70 1zm8 0zm6 0zm18 0zm37 0zm-71 1zm15 0zm20 0zm25 0zm52 0zm-42 1zm2 0zm95 0zm-167 1zm40 0zm15 0zm14 0zm2 0zm62 0zm7 0zm-140 1zm36 0zm2 0zm12 0zm2 0zm-52 1zm11 0zm26 0zm7 0zm11 0zm51 0zm-104 1zm31 0zm1 0zm1 0zm37 0zm34 0zm-106 1zm12 0zm4 0zm18 0zm36 0zm2 0zm-71 1zm32 0zm1 0zm1 0zm35 0zm-35 1zm18 0zm18 0zm35 0zm16 0zm-122 1zm1 0zm30 0zm1 0zm38 0zm1 0zm33 0zm-103 1zm70 0zm1 0zm2 0zm11 0zm21 0zm8 0zm-113 1zm34 0zm35 0zm-67 1zm32 0zm1 0zm9 0zm-44 1zm6 0zm62 0zm39 0zm64 0zm-172 1zm17 0zm20 0zm-2 1zm37 0zm-61 1zm25 0zm68 0zm1 0zm-92 1zm4 0zm34 0zm20 0zm34 0zm-104 1zm28 0zm8 0zm67 0zm-104 1zm4 0zm32 0zm7 0zm68 0zm29 0zm-140 1zm34 0zm3 0zm32 0zm-40 1zm5 0zm6 0zm66 0zm-106 1zm34 0zm1 0zm3 0zm31 0zm-63 1zm30 0zm5 0zm12 0zm54 0zm-106 1zm1 0zm17 0zm36 0zm-55 1zm17 0zm53 0zm-64 1zm26 0zm1 0zm3 0zm1 0zm70 0zm-107 1zm34 0zm2 0zm19 0zm15 0zm36 0zm-102 1zm32 0zm69 0zm2 0zm-93 1zm21 0zm62 0zm-91 1zm20 0zm8 0zm1 0zm-35 1zm1 0zm33 0zm2 0zm12 0zm23 0zm-45 1zm3 0zm8 0zm-36 1zm34 0zm2 0zm21 0zm-38 1zm26 0zm24 0zm18 0zm-87 1zm33 0zm1 0zm15 0zm-49 1zm2 0zm3 0zm20 0zm47 0zm-73 1zm1 0zm1 0zm33 0zm34 0zm-28 1zm8 0zm20 0zm1 0zm-36 1zm17 0zm8 0zm-59 1zm33 0zm24 0zm17 0zm-40 1zm2 0zm-36 1zm8 0zm3 0zm23 0zm142 0zm-175 1zm34 0zm2 0zm-35 1zm68 0zm-70 1zm1 0zm34 0zm1 0zm67 0zm-68 2zm18 0zm10 0zm-62 1zm20 0zm26 0zm-38 1zm14 0zm14 0zm13 0zm-40 1zm5 0zm-15 1zm14 0zm-14 1zm4 0zm6 0zm24 0zm36 0zm2 0zm-39 1zm-33 1zm1 0zm54 0zm15 0zm-48 1zm-20 1zm12 0zm22 0zm1 0zm35 0zm37 0zm-109 1zm1 0zm7 0zm26 0zm20 0zm-19 1zm-35 1zm36 0zm-36 1zm1 0zm16 0zm10 0zm8 0zm1 0zm11 0zm61 0zm-107 1zm9 0zm24 0zm1 0zm35 0zm-68 1zm35 0zm34 0zm-71 1zm1 0zm54 0zm15 0zm72 0zm-142 1zm6 0zm64 0zm1 0zm-35 1zm9 0zm-11 1zm2 0zm1 0zm8 0zm-45 1zm48 0zm17 0zm7 0zm34 0zm-106 1zm1 0zm33 0zm1 0zm20 0zm19 0zm7 0zm-81 1zm18 0zm17 0zm1 0zm-23 1zm2 0zm20 0zm2 0zm109 0zm-145 1zm8 0zm2 0zm18 0zm21 0zm60 0zm-108 1zm9 0zm25 0zm1 0zm45 0zm-57 1zm9 1zm3 0zm-37 1zm4 0zm30 0zm-26 1zm-8 1zm1 0zm1 0zm32 0zm-34 1zm36 0zm2 0z"/>
<path transform="scale(0.25)" class="p b" d="M80 927zm22 0zm61 0zm33 0zm-130 1zm20 0zm22 0zm18 0zm27 0zm5 0zm43 0zm-99 1zm10 0zm25 0zm32 0zm3 0zm34 0zm1 0zm-129 1zm12 0zm22 0zm9 0zm15 0zm1 0zm33 0zm2 0zm25 0zm-131 1zm1 0zm68 0zm2 0zm24 0zm11 0zm32 0zm1 0zm1 0zm-139 1zm15 0zm15 0zm2 0zm58 0zm15 0zm19 0zm4 0zm10 0zm-140 1zm1 0zm13 0zm21 0zm1 0zm2 0zm31 0zm1 0zm1 0zm1 0zm16 0zm24 0zm24 0zm4 0zm-139 1zm15 0zm56 0zm8 0zm10 0zm7 0zm5 0zm4 0zm2 0zm19 0zm3 0zm2 0zm7 0zm1 0zm1 0zm-139 1zm66 0zm1 0zm2 0zm1 0zm36 0zm30 0zm-137 1zm15 0zm21 0zm19 0zm15 0zm33 0zm2 0zm1 0zm32 0zm1 0zm1 0zm-140 1zm1 0zm31 0zm3 0zm1 0zm6 0zm27 0zm36 0zm1 0zm32 0zm-138 1zm2 0zm32 0zm2 0zm24 0zm13 0zm1 0zm30 0zm2 0zm1 0zm13 0zm11 0zm-97 1zm1 0zm1 0zm18 0zm16 0zm19 0zm51 0zm-140 1zm1 0zm30 0zm39 0zm2 0zm13 0zm19 0zm1 0zm1 0zm35 0zm-141 1zm34 0zm1 0zm36 0zm34 0zm1 0zm1 0zm1 0zm13 0zm19 0zm1 0zm-142 1zm2 0zm66 0zm3 0zm2 0zm33 0zm15 0zm-119 1zm8 0zm3 0zm23 0zm4 0zm30 0zm1 0zm36 0zm1 0zm30 0zm4 0zm-140 1zm53 0zm4 0zm11 0zm1 0zm10 0zm27 0zm15 0zm12 0zm5 0zm2 0zm-142 1zm32 0zm4 0zm35 0zm1 0zm37 0zm19 0zm12 0zm-105 1zm1 0zm18 0zm2 0zm14 0zm1 0zm5 0zm7 0zm38 0zm6 0zm8 0zm6 0zm-140 1zm1 0zm34 0zm11 0zm25 0zm33 0zm2 0zm1 0zm1 0zm31 0zm-139 1zm34 0zm1 0zm1 0zm34 0zm1 0zm33 0zm30 0zm6 0zm-141 1zm1 0zm19 0zm2 0zm48 0zm35 0zm1 0zm1 0zm31 0zm-137 1zm35 0zm15 0zm8 0zm8 0zm39 0zm12 0zm23 0zm-141 1zm34 0zm1 0zm23 0zm13 0zm1 0zm16 0zm17 0zm2 0zm2 0zm21 0zm11 0zm-140 1zm7 0zm11 0zm15 0zm11 0zm24 0zm2 0zm36 0zm1 0zm34 0zm-142 1zm25 0zm10 0zm36 0zm2 0zm27 0zm6 0zm2 0zm-108 1zm16 0zm20 0zm34 0zm1 0zm1 0zm6 0zm27 0zm2 0zm6 0zm29 0zm-141 1zm2 0zm23 0zm8 0zm2 0zm33 0zm2 0zm1 0zm33 0zm17 0zm19 0zm1 0zm-141 1zm16 0zm17 0zm1 0zm1 0zm35 0zm1 0zm6 0zm5 0zm17 0zm6 0zm1 0zm1 0zm33 0zm-95 1zm58 0zm2 0zm1 0zm1 0zm5 0zm28 0zm-113 1zm2 0zm23 0zm15 0zm1 0zm2 0zm2 0zm21 0zm-94 1zm16 0zm18 0zm2 0zm33 0zm1 0zm14 0zm25 0zm-108 1zm18 0zm16 0zm1 0zm35 0zm44 0zm17 0zm6 0zm-137 1zm34 0zm22 0zm3 0zm28 0zm4 0zm21 0zm-112 1zm18 0zm8 0zm7 0zm1 0zm4 0zm7 0zm20 0zm4 0zm36 0zm3 0zm32 0zm-128 1zm8 0zm6 0zm10 0zm32 0zm4 0zm32 0zm-95 1zm25 0zm1 0zm1 0zm8 0zm10 0zm1 0zm24 0zm2 0zm4 0zm1 0zm55 0zm-142 1zm4 0zm14 0zm16 0zm1 0zm34 0zm51 0zm7 0zm-125 1zm8 0zm8 0zm4 0zm13 0zm70 0zm3 0zm6 0zm25 0zm1 0zm2 0zm-141 1zm1 0zm6 0zm13 0zm12 0zm1 0zm11 0zm25 0zm10 0zm2 0zm1 0zm22 0zm1 0zm32 0zm-137 1zm3 0zm32 0zm1 0zm2 0zm6 0zm25 0zm1 0zm1 0zm25 0zm8 0zm-104 1zm1 0zm34 0zm27 0zm22 0zm14 0zm6 0zm2 0zm1 0zm32 0zm1 0zm-140 1zm8 0zm26 0zm35 0zm1 0zm3 0zm28 0zm5 0zm7 0zm23 0zm-135 1zm34 0zm1 0zm36 0zm33 0zm1 0zm21 0zm-127 1zm31 0zm3 0zm1 0zm1 0zm7 0zm4 0zm24 0zm22 0zm10 0zm11 0zm13 0zm13 0zm-138 1zm8 0zm2 0zm17 0zm2 0zm3 0zm8 0zm11 0zm17 0zm63 0zm4 0zm-137 1zm1 0zm1 0zm31 0zm1 0zm28 0zm8 0zm3 0zm14 0zm15 0zm4 0zm1 0zm-108 1zm1 0zm1 0zm18 0zm5 0zm9 0zm20 0zm16 0zm1 0zm8 0zm26 0zm8 0zm-112 1zm5 0zm30 0zm36 0zm1 0zm4 0zm7 0zm56 0zm-138 1zm10 0zm21 0zm2 0zm1 0zm36 0zm1 0zm32 0zm1 0zm1 0zm32 0zm-138 1zm5 0zm28 0zm38 0zm35 0zm1 0zm14 0zm1 0zm-91 1zm1 0zm12 0zm26 0zm1 0zm16 0zm53 0zm-140 1zm1 0zm1 0zm15 0zm14 0zm5 0zm35 0zm33 0zm2 0zm1 0zm-106 1zm67 0zm2 0zm1 0zm36 0zm-108 1zm2 0zm14 0zm19 0zm3 0zm32 0zm1 0zm1 0zm34 0zm21 0zm-126 1zm10 0zm15 0zm8 0zm1 0zm3 0zm23 0zm19 0zm2 0zm11 0zm15 0zm1 0zm31 0zm-140 1zm5 0zm5 0zm26 0zm2 0zm32 0zm1 0zm1 0zm1 0zm10 0zm22 0zm2 0zm9 0zm5 0zm18 0zm-137 1zm1 0zm31 0zm2 0zm1 0zm3 0zm31 0zm34 0zm-105 1zm1 0zm24 0zm10 0zm6 0zm2 0zm26 0zm1 0zm1 0zm34 0zm3 0zm33 0zm-140 1zm33 0zm36 0zm3 0zm2 0zm31 0zm3 0zm24 0zm2 0zm-135 1zm18 0zm3 0zm13 0zm4 0zm31 0zm1 0zm36 0zm18 0zm18 0zm-141 1zm33 0zm1 0zm2 0zm32 0zm3 0zm7 0zm29 0zm33 0zm-141 1zm1 0zm1 0zm16 0zm7 0zm1 0zm6 0zm4 0zm2 0zm32 0zm3 0zm33 0zm30 0zm-136 1zm1 0zm2 0zm15 0zm17 0zm1 0zm1 0zm34 0zm1 0zm1 0zm34 0zm25 0zm9 0zm1 0zm-142 1zm1 0zm11 0zm22 0zm36 0zm23 0zm11 0zm2 0zm1 0zm2 0zm7 0zm12 0zm-124 1zm16 0zm4 0zm4 0zm6 0zm2 0zm1 0zm19 0zm14 0zm4 0zm67 0zm-141 1zm3 0zm31 0zm1 0zm1 0zm33 0zm2 0zm-40 1zm4 0zm2 0zm8 0zm26 0zm3 0zm16 0zm17 0zm1 0zm12 0zm-108 1zm13 0zm10 0zm20 0zm13 0zm2 0zm36 0zm1 0zm35 0zm-141 1zm1 0zm11 0zm22 0zm1 0zm1 0zm37 0zm10 0zm20 0zm1 0zm21 0zm15 0zm-141 1zm1 0zm1 0zm4 0zm18 0zm13 0zm7 0zm1 0zm13 0zm13 0zm34 0zm-104 1zm11 0zm22 0zm7 0zm29 0zm1 0zm1 0zm13 0zm9 0zm-94 1zm1 0zm3 0zm2 0zm26 0zm3 0zm3 0zm3 0zm31 0zm35 0zm34 0zm-141 1zm1 0zm6 0zm28 0zm37 0zm5 0zm3 0zm8 0zm18 0zm6 0zm2 0zm23 0zm3 0zm1 0zm-140 1zm1 0zm1 0zm23 0zm45 0zm1 0zm1 0zm14 0zm20 0zm34 0zm-140 1zm2 0zm9 0zm1 0zm23 0zm1 0zm1 0zm28 0zm4 0zm37 0zm1 0zm25 0zm-123 1zm58 0zm2 0zm1 0zm-70 1zm27 0zm1 0zm5 0zm1 0zm5 0zm20 0zm10 0zm1 0zm1 0zm14 0zm10 0zm10 0zm1 0zm34 0zm1 0zm-113 1zm6 0zm1 0zm2 0zm17 0zm16 0zm1 0zm32 0zm1 0zm3 0zm27 0zm-130 1zm29 0zm1 0zm1 0zm2 0zm33 0zm1 0zm4 0zm13 0zm-88 1zm22 0zm11 0zm2 0zm2 0zm3 0zm25 0zm6 0zm34 0zm1 0zm12 0zm1 0zm-119 1zm3 0zm8 0zm11 0zm12 0zm36 0zm37 0zm14 0zm18 0zm-139 1zm1 0zm33 0zm1 0zm34 0zm36 0zm14 0zm21 0zm-140 1zm1 0zm9 0zm18 0zm6 0zm2 0zm34 0zm36 0zm32 0zm2 0zm-141 1zm1 0zm1 0zm4 0zm4 0zm5 0zm2 0zm16 0zm1 0zm1 0zm1 0zm2 0zm34 0zm1 0zm55 0zm13 0zm-125 1zm14 0zm3 0zm2 0zm2 0zm1 0zm1 0zm1 0zm29 0zm9 0zm5 0zm-83 1zm10 0zm12 0zm13 0zm28 0zm8 0zm35 0zm36 0zm-142 1zm36 0zm20 0zm8 0zm6 0zm14 0zm57 0zm-139 1zm16 0zm2 0zm15 0zm3 0zm24 0zm5 0zm2 0zm1 0zm1 0zm1 0zm8 0zm26 0zm1 0zm32 0zm-138 1zm1 0zm28 0zm4 0zm1 0zm1 0zm2 0zm1 0zm31 0zm2 0zm1 0zm69 0zm-141 1zm3 0zm9 0zm3 0zm19 0zm34 0zm37 0zm35 0zm-140 1zm9 0zm11 0zm3 0zm2 0zm2 0zm8 0zm1 0zm1 0zm6 0zm9 0zm15 0zm5 0zm26 0zm6 0zm4 0zm32 0zm-140 1zm1 0zm3 0zm14 0zm51 0zm57 0zm13 0zm-139 1zm1 0zm32 0zm1 0zm1 0zm1 0zm2 0zm6 0zm24 0zm55 0zm15 0zm-137 1zm1 0zm8 0zm1 0zm6 0zm7 0zm3 0zm10 0zm10 0zm16 0zm1 0zm5 0zm1 0zm-70 1zm13 0zm1 0zm5 0zm4 0zm10 0zm1 0zm28 0zm6 0zm2 0zm3 0zm8 0zm59 0zm-140 1zm20 0zm14 0zm36 0zm41 0zm27 0zm-138 1zm34 0zm1 0zm1 0zm26 0zm8 0zm17 0zm52 0zm-130 1zm25 0zm1 0zm1 0zm33 0zm1 0zm2 0zm35 0zm-108 1zm1 0zm1 0zm1 0zm4 0zm2 0zm6 0zm2 0zm26 0zm28 0zm1 0zm32 0zm2 0zm1 0zm34 0zm-139 1zm12 0zm19 0zm1 0zm1 0zm1 0zm1 0zm25 0zm9 0zm1 0zm1 0zm33 0zm1 0zm34 0zm-140 1zm16 0zm7 0zm10 0zm1 0zm1 0zm11 0zm17 0zm6 0zm1 0zm70 0zm-105 1zm16 0zm15 0zm4 0zm71 0z"/>
</g>
<path class="ax" d="M16.3 257.5H122.5M16.3 257.5V160.5M16.3 257.5v1.8M25.1 257.5v1.0M34.0 257.5v1.8M42.8 257.5v1.0M51.7 257.5v1.8M60.5 257.5v1.0M69.4 257.5v1.8M78.2 257.5v1.0M87.1 257.5v1.8M95.9 257.5v1.0M104.8 257.5v1.8M113.6 257.5v1.0M122.5 257.5v1.8M16.3 257.5h-1.8M16.3 251.1h-1.0M16.3 244.6h-1.8M16.3 238.2h-1.0M16.3 231.8h-1.8M16.3 225.3h-1.0M16.3 218.9h-1.8M16.3 212.5h-1.0M16.3 206.1h-1.8M16.3 199.6h-1.0M16.3 193.2h-1.8M16.3 186.8h-1.0M16.3 180.3h-1.8M16.3 173.9h-1.0M16.3 167.5h-1.8"/>
<g class="tl" text-anchor="middle"><text transform="translate(16.3 264.3)scale(.8 1)">0</text><text transform="translate(34.0 264.3)scale(.8 1)">2</text><text transform="translate(51.7 264.3)scale(.8 1)">4</text><text transform="translate(69.4 264.3)scale(.8 1)">6</text><text transform="translate(87.1 264.3)scale(.8 1)">8</text><text transform="translate(104.8 264.3)scale(.8 1)">10</text><text transform="translate(122.5 264.3)scale(.8 1)">12</text></g>
<g class="tl" text-anchor="end"><text transform="translate(14.0 259.1)scale(.8 1)">0</text><text transform="translate(14.0 246.2)scale(.8 1)">2</text><text transform="translate(14.0 233.4)scale(.8 1)">4</text><text transform="translate(14.0 220.5)scale(.8 1)">6</text><text transform="translate(14.0 207.7)scale(.8 1)">8</text><text transform="translate(14.0 194.8)scale(.8 1)">10</text><text transform="translate(14.0 181.9)scale(.8 1)">12</text><text transform="translate(14.0 169.1)scale(.8 1)">14</text></g>
<path class="rl" d="M16.3 257.5L113.6 185.0"/>
<text class="at" x="54.3" y="271.9" textLength="29.6" lengthAdjust="spacingAndGlyphs">Actual Distance</text>
<text class="at" transform="translate(8.5 207.8)rotate(-90)" x="-18.6" y="0" textLength="37.1" lengthAdjust="spacingAndGlyphs">Prediction Distance</text>
<text class="rt" transform="translate(30.6 164.5)scale(0.89 1)">R=0.88705</text>
<text class="rt" transform="translate(30.6 170.3)scale(0.89 1)">slope=1.0252</text>
<text class="cap" transform="translate(70.4 289.0)scale(.94 1)">(e) Attri2vec</text>
<g filter="url(#bl)">
<path transform="scale(0.25)" class="p r" d="M678 770zm58 7zm-62 8zm75 5zm-3 13zm-1 7zm2 5zm-24 2zm26 1zm-44 2zm35 0zm7 1zm-36 9zm-33 1zm28 1zm21 0zm-15 1zm33 0zm-6 1zm-25 1zm22 0zm-22 2zm33 0zm1 2zm-36 1zm17 0zm-15 2zm-20 1zm37 0zm17 0zm-1 1zm2 0zm-49 1zm14 0zm18 0zm7 0zm6 0zm-101 3zm93 0zm-26 1zm3 0zm31 1zm-32 1zm-71 1zm35 0zm37 0zm-1 2zm35 0zm-52 1zm6 0zm40 0zm6 0zm-116 1zm82 0zm6 0zm29 0zm-37 1zm2 0zm-26 1zm18 0zm27 0zm-18 1zm-70 1zm33 0zm4 0zm55 0zm10 0zm-15 2zm15 1zm-105 2zm99 0zm7 0zm1 0zm-15 1zm15 0zm-30 1zm14 0zm15 0zm-82 1zm13 0zm33 0zm2 0zm2 0zm1 0zm28 0zm4 0zm-106 1zm35 0zm56 0zm14 0zm-33 1zm33 0zm-34 1zm24 0zm-32 1zm2 0zm6 0zm3 0zm31 0zm-69 1zm1 0zm59 0zm8 1zm1 0zm-87 1zm15 0zm8 0zm30 0zm33 0zm1 0zm-68 1zm30 0zm2 0zm1 0zm4 0zm11 0zm-115 1zm27 0zm87 0zm1 0zm-71 1zm21 0zm1 0zm69 0zm1 0zm-141 1zm35 0zm1 0zm69 0zm1 0zm6 0zm16 0zm10 0zm3 0zm-73 1zm35 0zm2 0zm35 0zm-105 1zm35 0zm34 0zm1 0zm1 0zm35 0zm-107 1zm34 0zm4 0zm32 0zm2 0zm1 0zm19 0zm14 0zm-130 1zm27 0zm1 0zm30 0zm10 0zm26 0zm34 0zm2 0zm-141 1zm60 0zm32 0zm15 0zm1 0zm19 0zm1 0zm3 0zm-96 1zm13 0zm14 0zm46 0zm-83 1zm47 0zm32 0zm2 0zm2 0zm26 0zm-108 1zm43 0zm2 0zm1 0zm32 0zm35 0zm2 0zm1 0zm-114 1zm9 0zm11 0zm12 0zm8 0zm38 0zm2 0zm-108 1zm1 0zm1 0zm3 0zm24 0zm32 0zm10 0zm10 0zm23 0zm3 0zm34 0zm-124 1zm19 0zm34 0zm4 0zm30 0zm2 0zm2 0zm-68 1zm23 0zm34 0zm11 0zm16 0zm18 0zm-106 1zm35 0zm13 0zm16 0zm7 0zm27 0zm7 0zm-128 1zm9 0zm51 0zm33 0zm1 0zm33 0zm-139 1zm1 0zm19 0zm14 0zm2 0zm4 0zm23 0zm6 0zm2 0zm1 0zm8 0zm26 0zm7 0zm23 0zm3 0zm1 0zm-71 1zm36 0zm-104 1zm33 0zm1 0zm1 0zm33 0zm20 0zm3 0zm1 0zm13 0zm-56 1zm55 0zm33 0zm-139 1zm14 0zm13 0zm10 0zm6 0zm18 0zm30 0zm14 0zm2 0zm34 0zm1 0zm-105 1zm31 0zm2 0zm2 0zm2 0zm1 0zm3 0zm23 0zm21 0zm19 0zm-131 1zm7 0zm2 0zm51 0zm23 0zm6 0zm6 0zm2 0zm10 0zm9 0zm14 0zm-139 1zm2 0zm18 0zm15 0zm15 0zm44 0zm5 0zm7 0zm-94 1zm24 0zm33 0zm2 0zm6 0zm27 0zm3 0zm34 0zm-95 1zm20 0zm13 0zm-66 1zm6 0zm14 0zm30 0zm30 0zm3 0zm9 0zm1 0zm34 0zm1 0zm-108 1zm1 0zm1 0zm33 0zm19 0zm18 0zm11 0zm15 0zm8 0zm-139 1zm73 0zm66 0zm1 0zm1 0zm-141 1zm69 0zm2 0zm26 0zm5 0zm3 0zm2 0zm8 0zm23 0zm1 0zm1 0zm-116 1zm40 0zm4 0zm36 0zm3 0zm13 0zm2 0zm9 0zm6 0zm3 0zm1 0zm-139 1zm24 0zm8 0zm21 0zm11 0zm2 0zm1 0zm2 0zm33 0zm3 0zm16 0zm9 0zm-132 1zm33 0zm36 0zm2 0zm23 0zm9 0zm1 0zm1 0zm1 0zm3 0zm8 0zm18 0zm5 0zm-140 1zm1 0zm69 0zm25 0zm3 0zm6 0zm2 0zm-106 1zm1 0zm52 0zm16 0zm25 0zm44 0zm-102 1zm67 0zm1 0zm1 0zm2 0zm33 0zm1 0zm-113 1zm43 0zm22 0zm11 0zm7 0zm15 0zm14 0zm-124 1zm53 0zm6 0zm8 0zm4 0zm10 0zm7 0zm1 0zm1 0zm1 0zm5 0zm3 0zm12 0zm4 0zm1 0zm8 0zm-107 1zm3 0zm18 0zm15 0zm2 0zm6 0zm30 0zm1 0zm20 0zm7 0zm4 0zm1 0zm-107 1zm2 0zm2 0zm68 0zm15 0zm20 0zm-107 1zm1 0zm1 0zm35 0zm4 0zm11 0zm7 0zm12 0zm-75 1zm6 0zm15 0zm9 0zm1 0zm28 0zm10 0zm7 0zm1 0zm35 0zm-71 1zm21 0zm13 0zm1 0zm1 0zm1 0zm1 0zm32 0zm-106 1zm5 0zm29 0zm7 0zm7 0zm11 0zm10 0zm1 0zm1 0zm2 0zm1 0zm14 0zm4 0zm12 0zm1 0zm1 0zm1 0zm-106 1zm37 0zm33 0zm1 0zm1 0zm6 0zm27 0zm-133 1zm9 0zm58 0zm29 0zm2 0zm1 0zm-99 1zm59 0zm28 0zm10 0zm1 0zm1 0zm1 0zm8 0zm24 0zm1 0zm-140 1zm55 0zm15 0zm28 0zm6 0zm1 0zm1 0zm14 0zm20 0zm-139 1zm34 0zm11 0zm4 0zm10 0zm9 0zm1 0zm1 0zm9 0zm8 0zm12 0zm3 0zm2 0zm32 0zm2 0zm1 0zm-139 1zm3 0zm57 0zm7 0zm2 0zm9 0zm7 0zm19 0zm2 0zm24 0zm9 0z"/>
<path transform="scale(0.25)" class="p g" d="M927 667zm-3 10zm-106 8zm102 14zm-30 1zm-1 1zm-14 4zm14 5zm36 5zm2 1zm-37 6zm21 0zm-36 1zm7 0zm32 0zm-30 1zm-17 2zm9 0zm48 0zm0 2zm-76 1zm8 0zm33 0zm-33 1zm70 0zm-71 1zm33 0zm24 1zm20 1zm-78 1zm12 1zm-46 2zm33 0zm83 1zm-45 1zm1 0zm-26 1zm-52 1zm5 0zm71 1zm-93 1zm49 0zm7 0zm10 1zm16 0zm11 0zm-47 2zm82 1zm-33 1zm-122 4zm49 0zm69 0zm2 0zm46 0zm-34 1zm-49 1zm1 0zm1 0zm31 0zm-110 1zm17 0zm97 0zm-71 1zm37 0zm18 0zm17 0zm34 0zm-77 1zm12 0zm68 0zm-109 1zm37 0zm77 0zm-62 1zm56 0zm-71 1zm33 0zm16 0zm22 0zm-144 1zm37 0zm36 0zm70 0zm-71 1zm-73 1zm1 0zm109 0zm36 0zm-76 1zm1 0zm40 0zm33 1zm-48 1zm-23 1zm1 0zm33 0zm37 0zm-145 1zm74 0zm1 0zm21 0zm-57 1zm105 0zm-83 1zm13 0zm62 0zm8 0zm-106 1zm37 0zm69 0zm5 0zm-145 1zm69 0zm3 0zm-38 1zm28 0zm9 0zm35 0zm35 0zm-113 1zm60 0zm-42 1zm24 0zm1 0zm14 0zm56 0zm-97 1zm56 0zm4 0zm5 0zm-37 1zm31 0zm3 0zm12 0zm21 0zm-106 1zm37 0zm1 0zm33 0zm2 0zm-108 1zm35 0zm37 0zm1 0zm1 0zm8 0zm-9 1zm-38 1zm54 0zm52 0zm-103 1zm50 0zm54 0zm-69 1zm34 0zm1 0zm35 0zm-110 1zm4 0zm42 0zm2 0zm26 0zm-106 1zm72 0zm8 0zm-79 1zm69 0zm3 0zm4 0zm30 0zm-98 1zm20 0zm7 0zm36 0zm70 0zm-144 1zm16 0zm4 0zm18 0zm36 0zm14 0zm19 0zm1 0zm14 0zm-59 1zm9 0zm72 0zm1 0zm-110 1zm44 0zm30 0zm45 0zm-83 1zm38 0zm40 0zm-148 1zm72 0zm6 0zm29 0zm1 0zm-107 1zm36 0zm33 0zm1 0zm1 0zm34 0zm14 0zm-94 1zm10 0zm11 0zm13 0zm-59 1zm36 0zm1 0zm82 0zm24 0zm-141 1zm35 0zm6 0zm28 0zm5 0zm29 0zm2 0zm1 0zm17 0zm17 0zm-107 1zm71 0zm-106 1zm49 0zm22 0zm30 0zm41 0zm1 0zm-143 1zm36 0zm17 0zm62 0zm-114 1zm48 0zm57 0zm-120 1zm12 0zm72 0zm73 0zm-142 1zm29 0zm74 0zm48 0zm-149 1zm32 0zm11 0zm23 0zm15 0zm2 0zm55 0zm1 0zm-143 1zm86 0zm19 0zm3 0zm35 0zm-162 1zm25 0zm30 0zm1 0zm61 0zm13 0zm32 0zm-121 1zm15 0zm13 0zm17 0zm40 0zm1 0zm-105 1zm26 0zm8 0zm3 0zm27 0zm4 0zm1 0zm12 0zm-48 1zm11 0zm8 0zm1 0zm11 0zm18 0zm52 0zm6 0zm10 0zm-154 1zm1 0zm3 0zm29 0zm11 0zm32 0zm33 0zm-85 1zm13 0zm82 0zm24 0zm2 0zm-144 1zm38 0zm8 0zm27 0zm35 0zm37 0zm-175 1zm30 0zm36 0zm36 0zm1 0zm45 0zm25 0zm-144 1zm39 0zm35 0zm69 0zm4 0zm-162 1zm52 0zm2 0zm34 0zm3 0zm49 0zm-127 1zm4 0zm106 0zm36 0zm-37 1zm5 0zm30 0zm-139 1zm36 0zm15 0zm18 0zm36 0zm34 0zm-129 1zm24 0zm59 0zm-96 1zm39 0zm11 0zm1 0zm8 0zm13 0zm2 0zm35 0zm33 0zm-147 1zm79 0zm34 0zm1 0zm-142 1zm66 0zm38 0zm1 0zm3 0zm32 0zm1 0zm-103 1zm33 0zm43 0zm62 0zm72 0zm-212 1zm21 0zm5 0zm8 0zm1 0zm1 0zm4 0zm29 0zm36 0zm2 0zm-112 1zm3 0zm3 0zm32 0zm1 0zm79 0zm20 0zm-136 1zm11 0zm41 0zm22 0zm8 0zm28 0zm4 0zm-122 1zm45 0zm72 0zm-142 1zm34 0zm1 0zm1 0zm36 0zm5 0zm9 0zm51 0zm4 0zm37 0zm-177 1zm34 0zm33 0zm4 0zm22 0zm12 0zm1 0zm7 0zm7 0zm47 0zm-133 1zm7 0zm28 0zm4 0zm70 0zm7 0zm-82 1zm7 0zm30 0zm35 0zm36 0zm9 0zm-184 1zm67 0zm29 0zm10 0zm1 0zm-85 1zm48 0zm2 0zm2 0zm21 0zm8 0zm1 0zm71 0zm-141 1zm35 0zm2 0zm34 0zm44 0zm-106 1zm24 0zm1 0zm34 0zm11 0zm26 0zm2 0zm-142 1zm71 0zm39 0zm30 0zm-107 1zm10 0zm40 0zm10 0zm4 0zm4 0zm39 0zm8 0zm4 0zm-139 1zm22 0zm33 0zm1 0zm22 0zm14 0zm16 0zm19 0zm1 0zm-124 1zm16 0zm8 0zm28 0zm1 0zm1 0zm16 0zm21 0zm34 0zm-108 1zm2 0zm33 0zm1 0zm1 0zm5 0zm5 0zm23 0zm13 0zm23 0zm-85 1zm16 0zm38 0zm29 0zm4 0zm33 0zm-176 1zm18 0zm16 0zm2 0zm35 0zm35 0zm49 0zm1 0zm-122 1zm1 0zm26 0zm11 0zm6 0zm27 0zm1 0zm-72 1zm5 0zm66 0zm32 0zm-100 1zm24 0zm9 0zm1 0zm1 0zm23 0zm24 0zm-119 1zm1 0zm2 0zm31 0zm1 0zm4 0zm2 0zm16 0zm54 0zm30 0zm1 0zm-117 1zm8 0zm1 0zm1 0zm2 0zm43 0zm26 0zm1 0zm28 0zm6 0zm1 0zm1 0zm-143 1zm1 0zm34 0zm44 0zm21 0zm9 0zm68 0zm-154 1zm12 0zm10 0zm10 0zm16 0zm36 0zm33 0zm1 0zm2 0zm33 0zm2 0zm-152 1zm36 0zm7 0zm2 0zm36 0zm70 0zm-175 1zm30 0zm13 0zm45 0zm22 0zm-78 1zm16 0zm20 0zm1 0zm10 0zm1 0zm6 0zm18 0zm3 0zm33 0zm15 0zm-124 1zm1 0zm1 0zm1 0zm27 0zm42 0zm-95 1zm21 0zm1 0zm4 0zm36 0zm1 0zm-73 1zm33 0zm73 0zm3 0zm35 0zm23 0zm9 0zm-141 1zm35 0zm1 0zm10 0zm11 0zm-73 1zm17 0zm21 0zm12 0zm1 0zm3 0zm6 0zm28 0zm37 0zm-141 1zm29 0zm4 0zm16 0zm17 0zm2 0zm35 0zm1 0zm5 0zm-77 1zm1 0zm32 0zm3 0zm8 0zm4 0zm23 0zm1 0zm34 0zm1 0zm16 0zm-123 1zm36 0zm68 0zm5 0zm-111 1zm2 0zm36 0zm11 0zm22 0zm1 0zm-105 1zm34 0zm35 0zm1 0zm1 0zm1 0zm34 0zm-84 1zm23 0zm21 0zm6 0zm3 0zm3 0zm28 0zm1 0zm-96 1zm21 0zm38 0zm25 0zm9 0zm2 0zm71 0zm3 0zm-147 1zm1 0zm2 0zm5 0zm20 0zm10 0zm33 0zm1 0zm2 0zm16 0zm22 0zm-125 1zm15 0zm33 0zm2 0zm1 0zm36 0zm-37 1zm35 0zm1 0zm1 0zm33 0zm2 0zm-107 1zm1 0zm11 0zm22 0zm22 0zm14 0zm59 0zm12 0zm-175 1zm26 0zm10 0zm21 0zm10 0zm4 0zm5 0zm11 0zm19 0zm1 0zm36 0zm-109 1zm1 0zm2 0zm70 0zm-108 1zm22 0zm14 0zm1 0zm1 0zm13 0zm2 0zm2 0zm15 0zm2 0zm14 0zm51 0zm-111 1zm7 0zm1 0zm36 0zm2 0zm19 0zm36 0zm-110 1zm7 0zm12 0zm31 0zm2 0zm-68 1zm34 0zm1 0zm2 0zm33 0zm26 0zm9 0zm37 0zm-111 1zm4 0zm12 0zm5 0zm53 0zm30 0zm-136 1zm10 0zm22 0zm3 0zm14 0zm19 0zm3 0zm2 0zm12 0zm12 0zm90 0zm-187 1zm20 0zm8 0zm9 0zm22 0zm12 0zm36 0zm-107 1zm1 0zm38 0zm3 0zm3 0zm1 0zm3 0zm1 0zm21 0zm1 0zm27 0zm-99 1zm26 0zm7 0zm1 0zm1 0zm1 0zm1 0zm4 0zm24 0zm3 0zm7 0zm30 0zm-104 1zm9 0zm23 0zm2 0zm8 0zm14 0zm11 0zm2 0zm1 0zm13 0zm2 0zm21 0zm34 0zm-141 1zm34 0zm1 0zm1 0zm35 0zm33 0zm2 0zm1 0zm2 0zm11 0zm-86 1zm38 0zm34 0zm1 0zm5 0zm30 0zm-133 1zm23 0zm4 0zm17 0zm33 0zm2 0zm15 0zm38 0zm34 0zm1 0zm-176 1zm26 0zm7 0zm30 0zm7 0zm111 0zm-165 1zm27 0zm4 0zm21 0zm2 0zm1 0zm35 0zm1 0zm35 0zm-142 1zm14 0zm1 0zm28 0zm5 0zm21 0zm1 0zm1 0zm1 0zm10 0zm3 0zm21 0zm1 0zm-107 1zm35 0zm3 0zm31 0zm16 0zm21 0zm1 0zm34 0zm-135 1zm27 0zm3 0zm10 0zm23 0zm48 0zm62 0zm-147 1zm32 0zm6 0zm36 0zm-105 1zm1 0zm5 0zm2 0zm25 0zm2 0zm22 0zm11 0zm3 0zm55 0zm-126 1zm35 0zm3 0zm2 0zm7 0zm23 0zm30 0zm1 0zm4 0zm-105 1zm18 0zm2 0zm12 0zm1 0zm1 0zm2 0zm13 0zm1 0zm19 0zm1 0zm1 0zm5 0zm29 0zm27 0zm-133 1zm1 0zm39 0zm31 0zm8 0zm62 0zm-141 1zm1 0zm25 0zm22 0zm21 0zm2 0zm69 0zm18 0zm-157 1zm1 0zm22 0zm12 0zm34 0zm18 0zm17 0zm1 0zm1 0zm18 0zm17 0zm1 0zm-134 1zm14 0zm10 0zm73 0zm1 0zm10 0zm5 0zm19 0zm-141 1zm4 0zm30 0zm1 0zm3 0zm17 0zm9 0zm41 0zm-104 1zm25 0zm9 0zm2 0zm15 0zm7 0zm9 0zm37 0zm39 0zm32 0zm-175 1zm3 0zm24 0zm7 0zm2 0zm10 0zm22 0zm1 0zm34 0zm2 0zm23 0zm-129 1zm1 0zm1 0zm32 0zm1 0zm1 0zm35 0zm74 0zm-145 1zm10 0zm2 0zm5 0zm2 0zm15 0zm1 0zm1 0zm1 0zm20 0zm11 0zm2 0zm1 0zm34 0zm-105 1zm1 0zm20 0zm14 0zm2 0zm34 0zm11 0zm23 0zm1 0zm-73 1zm2 0zm1 0zm36 0zm5 0zm30 0zm-106 1zm1 0zm4 0zm6 0zm12 0zm6 0zm3 0zm3 0zm12 0zm58 0zm40 0zm30 0zm-176 1zm17 0zm17 0zm1 0zm2 0zm68 0zm-85 1zm1 0zm13 0zm1 0zm1 0zm34 0zm35 0zm2 0zm70 0zm-143 1zm36 0zm1 0zm2 0zm8 0zm26 0zm7 0zm-114 1zm1 0zm2 0zm67 0zm-70 1zm34 0zm3 0zm33 0zm2 0zm34 0zm-83 1zm12 0zm15 0zm16 0zm14 0zm4 0zm21 0zm-105 1zm1 0zm33 0zm1 0zm16 0zm19 0zm1 0zm1 0zm4 0zm11 0zm-87 1zm30 0zm2 0zm53 0zm-84 1zm1 0zm6 0zm27 0zm2 0zm27 0zm5 0zm1 0zm2 0zm66 0zm-136 1zm1 0zm31 0zm2 0zm1 0zm4 0zm18 0zm10 0zm5 0zm64 0zm-138 1zm12 0zm22 0zm1 0zm6 0zm1 0zm27 0zm21 0zm-90 1zm14 0zm16 0zm5 0zm10 0zm2 0zm6 0zm16 0zm-69 1zm35 0zm34 0zm1 0zm1 0zm3 0zm-73 1zm1 0zm12 0zm10 0zm2 0zm11 0zm34 0zm42 0zm-112 1zm35 0zm1 0zm4 0zm13 0zm16 0zm3 0zm31 0zm-104 1zm7 0zm28 0zm1 0zm1 0zm-37 1zm2 0zm7 0zm6 0zm11 0zm26 0zm21 0zm-72 1zm33 0zm10 0zm2 0zm19 0zm4 0zm39 0zm20 0zm-127 1zm1 0zm34 0zm15 0zm18 0zm1 0zm1 0zm-71 1zm1 0zm13 0zm19 0zm-33 1zm1 0zm26 0zm6 0zm3 0zm12 0zm15 0zm35 0zm41 0zm1 0zm-140 1zm1 0zm10 0zm8 0zm16 0zm1 0zm11 0zm10 0zm8 0zm3 0zm1 0zm1 0zm1 0zm35 0zm33 0zm-137 1zm4 0zm25 0zm10 0zm3 0zm14 0zm12 0zm1 0zm36 0zm-72 1zm1 0zm1 0z"/>
<path transform="scale(0.25)" class="p o" d="M785 927zm7 0zm27 0zm10 0zm-52 1zm6 0zm1 0zm34 0zm1 0zm-70 1zm1 0zm3 0zm2 0zm24 0zm6 0zm1 0zm5 0zm28 0zm37 0zm-107 1zm2 0zm10 0zm24 0zm12 0zm-37 1zm1 0zm22 0zm1 0zm2 0zm18 0zm15 0zm52 0zm-122 1zm1 0zm32 0zm3 0zm15 0zm21 0zm15 0zm-87 1zm1 0zm28 0zm1 0zm15 0zm26 0zm-60 1zm2 0zm22 0zm2 0zm16 0zm-53 1zm12 0zm23 0zm1 0zm-36 1zm1 0zm24 0zm12 0zm35 0zm28 0zm15 0zm-115 1zm1 0zm5 0zm32 0zm-38 1zm9 0zm34 0zm27 0zm-68 1zm10 0zm3 0zm10 0zm10 0zm7 0zm28 0zm1 0zm1 0zm1 0zm6 0zm-72 1zm41 0zm21 0zm53 0zm-121 1zm36 0zm10 0zm3 0zm58 0zm-107 1zm18 0zm15 0zm1 0zm33 0zm4 0zm33 0zm-105 1zm44 0zm8 0zm54 0zm34 0zm-139 1zm1 0zm5 0zm27 0zm10 0zm27 0zm-71 1zm1 0zm1 0zm35 0zm117 0zm-154 1zm9 0zm26 0zm2 0zm34 0zm-70 1zm1 0zm31 0zm2 0zm1 0zm3 0zm10 0zm24 0zm35 0zm-108 1zm2 0zm6 0zm6 0zm24 0zm-38 1zm15 0zm20 0zm21 0zm-21 1zm-35 1zm15 0zm21 0zm-35 1zm4 0zm25 0zm14 0zm16 0zm11 0zm15 0zm-86 1zm16 0zm17 0zm72 0zm-97 1zm29 0zm16 0zm16 0zm-69 1zm1 0zm34 0zm1 0zm13 0zm21 0zm1 0zm2 0zm-73 1zm25 0zm9 0zm18 0zm30 0zm9 0zm-91 1zm36 0zm8 0zm2 0zm15 0zm8 0zm-35 1zm1 0zm3 0zm33 0zm1 0zm32 0zm-102 1zm33 0zm13 0zm32 0zm27 0zm-107 1zm2 0zm4 0zm36 0zm-40 1zm31 0zm4 0zm32 0zm36 0zm-103 1zm-2 1zm1 0zm1 0zm33 0zm34 0zm-69 1zm34 0zm72 0zm-99 1zm26 0zm72 0zm-87 1zm17 0zm14 0zm21 0zm-69 1zm33 0zm1 0zm72 0zm33 0zm-139 1zm69 0zm35 0zm-105 1zm1 0zm5 0zm64 0zm46 0zm-114 1zm25 0zm8 0zm1 0zm11 0zm24 0zm-69 1zm-2 1zm15 0zm1 0zm19 0zm1 0zm1 0zm-36 1zm34 0zm35 0zm-67 1zm6 0zm15 0zm12 0zm34 0zm-70 1zm14 0zm13 0zm11 0zm33 0zm-36 1zm36 0zm-70 1zm37 0zm1 0zm1 0zm29 0zm-69 1zm36 0zm4 0zm30 1zm-39 1zm3 0zm73 0zm-107 2zm1 0zm15 0zm-16 1zm24 0zm39 0zm-63 1zm35 0zm-17 1zm53 0zm-70 1zm34 1zm-35 1zm37 0zm-35 1zm5 0zm28 0zm6 0zm29 0zm38 0zm-108 1zm33 0zm1 0zm35 0zm-34 1zm0 1zm9 0zm-5 1zm34 0zm-72 1zm34 1zm37 1zm-72 2zm24 2zm22 0zm40 0zm-51 1zm38 0zm-72 1zm31 0zm3 0zm36 0zm2 0zm-63 1zm42 0zm-50 1zm32 0zm3 0zm37 0zm-62 1zm2 0zm12 0zm-26 1zm28 1zm-28 3zm1 0zm34 0zm-34 2zm10 0zm-11 1zm13 0zm35 0zm-48 1zm48 1zm-40 1zm22 1zm4 0zm-34 1zm1 0zm70 0zm-35 2zm35 0zm-52 2zm23 1zm-26 1zm20 0zm32 0zm-67 1zm17 0zm5 0zm-10 1zm10 0zm50 0zm-73 2zm34 0zm-28 1z"/>
<path transform="scale(0.25)" class="p b" d="M610 927zm2 0zm45 0zm-16 1zm5 0zm32 0zm22 0zm15 0zm20 0zm13 0zm-141 1zm34 0zm2 0zm71 0zm-69 1zm34 0zm9 0zm3 0zm30 0zm27 0zm1 0zm-141 1zm34 0zm1 0zm12 0zm12 0zm10 0zm11 0zm55 0zm4 0zm1 0zm-101 1zm30 0zm1 0zm36 0zm1 0zm6 0zm27 0zm-139 1zm7 0zm15 0zm12 0zm22 0zm14 0zm23 0zm10 0zm1 0zm1 0zm2 0zm1 0zm14 0zm17 0zm-137 1zm31 0zm36 0zm1 0zm33 0zm1 0zm1 0zm3 0zm23 0zm8 0zm-108 1zm1 0zm1 0zm4 0zm7 0zm24 0zm1 0zm29 0zm6 0zm1 0zm1 0zm1 0zm15 0zm-123 1zm69 0zm1 0zm38 0zm5 0zm25 0zm-139 1zm27 0zm14 0zm30 0zm2 0zm6 0zm28 0zm7 0zm5 0zm18 0zm4 0zm-113 1zm42 0zm35 0zm5 0zm1 0zm20 0zm11 0zm-124 1zm54 0zm34 0zm2 0zm5 0zm23 0zm3 0zm-129 1zm30 0zm29 0zm2 0zm1 0zm20 0zm8 0zm8 0zm2 0zm4 0zm21 0zm5 0zm1 0zm-106 1zm37 0zm34 0zm1 0zm9 0zm25 0zm1 0zm-121 1zm14 0zm35 0zm3 0zm1 0zm14 0zm52 0zm-128 1zm23 0zm26 0zm8 0zm4 0zm35 0zm-96 1zm21 0zm38 0zm2 0zm5 0zm27 0zm1 0zm35 0zm-108 1zm38 0zm7 0zm6 0zm22 0zm20 0zm15 0zm-132 1zm26 0zm37 0zm24 0zm14 0zm1 0zm25 0zm4 0zm1 0zm-108 1zm35 0zm3 0zm22 0zm13 0zm1 0zm1 0zm17 0zm-81 1zm13 0zm4 0zm10 0zm1 0zm36 0zm6 0zm26 0zm1 0zm-133 1zm28 0zm2 0zm21 0zm42 0zm6 0zm1 0zm33 0zm-140 1zm33 0zm1 0zm35 0zm7 0zm28 0zm3 0zm19 0zm14 0zm-118 1zm8 0zm4 0zm1 0zm34 0zm2 0zm20 0zm13 0zm20 0zm10 0zm-125 1zm24 0zm3 0zm19 0zm9 0zm5 0zm1 0zm1 0zm-70 1zm2 0zm13 0zm9 0zm10 0zm13 0zm21 0zm2 0zm1 0zm6 0zm21 0zm7 0zm24 0zm9 0zm1 0zm-115 1zm11 0zm20 0zm14 0zm34 0zm1 0zm10 0zm9 0zm9 0zm7 0zm-140 1zm29 0zm5 0zm1 0zm1 0zm35 0zm21 0zm13 0zm-72 1zm2 0zm29 0zm4 0zm1 0zm36 0zm2 0zm15 0zm18 0zm-141 1zm1 0zm33 0zm1 0zm1 0zm35 0zm1 0zm26 0zm7 0zm-71 1zm1 0zm1 0zm2 0zm14 0zm17 0zm1 0zm1 0zm1 0zm10 0zm59 0zm-140 1zm4 0zm17 0zm15 0zm33 0zm7 0zm22 0zm9 0zm18 0zm9 0zm-107 1zm7 0zm1 0zm1 0zm25 0zm1 0zm7 0zm1 0zm2 0zm23 0zm2 0zm10 0zm27 0zm5 0zm-139 1zm1 0zm33 0zm1 0zm1 0zm25 0zm5 0zm20 0zm17 0zm4 0zm10 0zm12 0zm10 0zm-138 1zm28 0zm6 0zm4 0zm31 0zm33 0zm1 0zm3 0zm21 0zm-118 1zm11 0zm12 0zm1 0zm1 0zm22 0zm6 0zm5 0zm1 0zm1 0zm33 0zm3 0zm22 0zm-125 1zm7 0zm17 0zm3 0zm4 0zm1 0zm34 0zm1 0zm35 0zm35 0zm-105 1zm33 0zm2 0zm1 0zm9 0zm25 0zm1 0zm2 0zm32 0zm-140 1zm1 0zm32 0zm2 0zm2 0zm33 0zm1 0zm34 0zm1 0zm-105 1zm41 0zm36 0zm26 0zm1 0zm1 0zm18 0zm-124 1zm8 0zm7 0zm18 0zm4 0zm25 0zm9 0zm35 0zm-105 1zm23 0zm10 0zm29 0zm6 0zm23 0zm11 0zm16 0zm21 0zm-140 1zm2 0zm32 0zm1 0zm34 0zm1 0zm12 0zm24 0zm34 0zm1 0zm-109 1zm1 0zm1 0zm1 0zm2 0zm22 0zm11 0zm2 0zm2 0zm29 0zm26 0zm3 0zm2 0zm5 0zm-139 1zm1 0zm36 0zm16 0zm15 0zm1 0zm1 0zm1 0zm8 0zm26 0zm1 0zm18 0zm-125 1zm16 0zm18 0zm3 0zm33 0zm17 0zm-87 1zm30 0zm1 0zm4 0zm1 0zm12 0zm18 0zm4 0zm2 0zm23 0zm10 0zm-105 1zm1 0zm19 0zm13 0zm4 0zm9 0zm25 0zm1 0zm30 0zm2 0zm2 0zm2 0zm4 0zm29 0zm-132 1zm28 0zm6 0zm1 0zm22 0zm5 0zm2 0zm32 0zm1 0zm1 0zm2 0zm8 0zm-116 1zm1 0zm12 0zm6 0zm6 0zm8 0zm2 0zm1 0zm29 0zm5 0zm33 0zm2 0zm-105 1zm1 0zm16 0zm13 0zm2 0zm4 0zm27 0zm40 0zm3 0zm30 0zm4 0zm-139 1zm10 0zm57 0zm14 0zm22 0zm2 0zm30 0zm-137 1zm1 0zm3 0zm2 0zm12 0zm16 0zm1 0zm1 0zm13 0zm1 0zm17 0zm4 0zm31 0zm2 0zm2 0zm2 0zm5 0zm16 0zm8 0zm-137 1zm1 0zm13 0zm2 0zm2 0zm13 0zm2 0zm1 0zm1 0zm1 0zm1 0zm32 0zm1 0zm15 0zm12 0zm7 0zm3 0zm12 0zm21 0zm2 0zm-142 1zm1 0zm2 0zm26 0zm6 0zm2 0zm12 0zm22 0zm1 0zm1 0zm48 0zm6 0zm13 0zm-139 1zm1 0zm1 0zm4 0zm4 0zm15 0zm6 0zm1 0zm3 0zm25 0zm10 0zm38 0zm22 0zm8 0zm1 0zm-140 1zm2 0zm30 0zm3 0zm1 0zm25 0zm5 0zm6 0zm2 0zm12 0zm-57 1zm6 0zm1 0zm2 0zm8 0zm27 0zm5 0zm3 0zm3 0zm17 0zm3 0zm3 0zm1 0zm6 0zm17 0zm8 0zm-136 1zm8 0zm24 0zm1 0zm1 0zm17 0zm15 0zm1 0zm1 0zm1 0zm1 0zm5 0zm27 0zm3 0zm15 0zm17 0zm-140 1zm1 0zm1 0zm33 0zm1 0zm3 0zm12 0zm18 0zm3 0zm2 0zm17 0zm11 0zm5 0zm4 0zm23 0zm7 0zm-131 1zm4 0zm10 0zm10 0zm1 0zm2 0zm4 0zm11 0zm19 0zm1 0zm27 0zm29 0zm-127 1zm34 0zm1 0zm1 0zm1 0zm7 0zm6 0zm19 0zm1 0zm36 0zm-105 1zm2 0zm10 0zm3 0zm15 0zm3 0zm1 0zm2 0zm7 0zm25 0zm1 0zm16 0zm20 0zm1 0zm-107 1zm2 0zm20 0zm11 0zm3 0zm34 0zm34 0zm1 0zm1 0zm4 0zm25 0zm-135 1zm3 0zm13 0zm3 0zm51 0zm21 0zm16 0zm32 0zm-136 1zm4 0zm1 0zm16 0zm3 0zm6 0zm10 0zm8 0zm17 0zm3 0zm35 0zm31 0zm3 0zm-141 1zm1 0zm1 0zm5 0zm2 0zm2 0zm23 0zm1 0zm1 0zm34 0zm-69 1zm5 0zm2 0zm27 0zm34 0zm2 0zm1 0zm12 0zm57 0zm-140 1zm1 0zm11 0zm22 0zm2 0zm39 0zm30 0zm4 0zm14 0zm6 0zm-127 1zm8 0zm6 0zm15 0zm4 0zm15 0zm19 0zm1 0zm1 0zm33 0zm32 0zm-136 1zm2 0zm31 0zm1 0zm1 0zm2 0zm4 0zm4 0zm2 0zm21 0zm3 0zm8 0zm26 0zm26 0zm-131 1zm34 0zm37 0zm34 0zm35 0zm-141 1zm1 0zm1 0zm3 0zm5 0zm12 0zm12 0zm1 0zm1 0zm35 0zm1 0zm11 0zm23 0zm1 0zm35 0zm-141 1zm1 0zm2 0zm29 0zm1 0zm1 0zm1 0zm1 0zm5 0zm10 0zm18 0zm1 0zm1 0zm-71 1zm1 0zm14 0zm1 0zm9 0zm7 0zm3 0zm8 0zm7 0zm18 0zm1 0zm1 0zm1 0zm22 0zm20 0zm11 0zm4 0zm-128 1zm3 0zm8 0zm1 0zm20 0zm2 0zm4 0zm10 0zm10 0zm13 0zm35 0zm34 0zm-140 1zm2 0zm28 0zm2 0zm1 0zm12 0zm24 0zm35 0zm-104 1zm33 0zm10 0zm6 0zm21 0zm2 0zm34 0zm13 0zm-120 1zm1 0zm7 0zm27 0zm1 0zm2 0zm33 0zm1 0zm1 0zm7 0zm62 0zm-139 1zm2 0zm3 0zm27 0zm2 0zm33 0zm1 0zm1 0zm10 0zm9 0zm51 0zm-142 1zm2 0zm1 0zm3 0zm28 0zm2 0zm1 0zm16 0zm18 0zm35 0zm25 0zm-130 1zm1 0zm5 0zm28 0zm2 0zm8 0zm18 0zm11 0zm31 0zm3 0zm-108 1zm1 0zm15 0zm20 0zm36 0zm11 0zm23 0zm-105 1zm12 0zm22 0zm2 0zm5 0zm29 0zm1 0zm34 0zm17 0zm15 0zm1 0zm1 0zm-124 1zm5 0zm14 0zm2 0zm1 0zm9 0zm10 0zm3 0zm10 0zm1 0zm1 0zm30 0zm5 0zm35 0zm-142 1zm1 0zm2 0zm2 0zm4 0zm8 0zm4 0zm3 0zm1 0zm9 0zm1 0zm1 0zm35 0zm70 0zm-141 1zm1 0zm19 0zm14 0zm1 0zm1 0zm1 0zm6 0zm25 0zm1 0zm43 0zm2 0zm-113 1zm13 0zm12 0zm7 0zm2 0zm1 0zm1 0zm32 0zm1 0zm2 0zm21 0zm9 0zm3 0zm1 0zm-106 1zm1 0zm15 0zm2 0zm15 0zm1 0zm3 0zm33 0zm1 0zm1 0zm35 0zm33 0zm-139 1zm10 0zm23 0zm1 0zm35 0zm1 0zm6 0zm6 0zm25 0zm4 0zm29 0zm-141 1zm1 0zm1 0zm3 0zm30 0zm1 0zm22 0zm6 0zm5 0zm1 0zm1 0zm1 0zm1 0zm4 0zm30 0zm-106 1zm1 0zm34 0zm12 0zm3 0zm4 0zm16 0zm3 0zm20 0zm12 0zm1 0zm16 0zm14 0zm3 0zm-140 1zm1 0zm1 0zm32 0zm1 0zm22 0zm14 0zm34 0zm-105 1zm1 0zm1 0zm12 0zm10 0zm11 0zm1 0zm2 0zm34 0zm15 0zm21 0zm-107 1zm1 0zm2 0zm30 0zm2 0zm35 0zm35 0zm2 0zm33 0zm-140 1zm10 0zm1 0zm8 0zm9 0zm6 0zm7 0zm28 0zm1 0zm35 0zm26 0zm-132 1zm2 0zm4 0zm11 0zm3 0zm16 0zm34 0zm70 0zm-134 1zm1 0zm27 0zm1 0zm1 0zm34 0zm1 0zm1 0zm67 0zm-137 1zm20 0zm12 0zm1 0zm1 0zm37 0zm54 0zm-114 1zm22 0zm1 0zm13 0zm22 0zm16 0zm31 0zm23 0zm-140 1zm2 0zm32 0zm1 0zm20 0zm7 0zm5 0zm4 0zm34 0zm31 0zm-137 1zm1 0zm35 0zm9 0zm24 0zm2 0zm36 0zm-106 1zm1 0zm14 0zm19 0zm4 0zm2 0zm1 0zm25 0zm1 0zm4 0zm1 0zm34 0zm34 0z"/>
</g>
<path class="ax" d="M151.8 257.5H258.0M151.8 257.5V160.5M151.8 257.5v1.8M160.7 257.5v1.0M169.5 257.5v1.8M178.4 257.5v1.0M187.2 257.5v1.8M196.1 257.5v1.0M204.9 257.5v1.8M213.8 257.5v1.0M222.6 257.5v1.8M231.4 257.5v1.0M240.3 257.5v1.8M249.2 257.5v1.0M258.0 257.5v1.8M151.8 257.5h-1.8M151.8 251.1h-1.0M151.8 244.6h-1.8M151.8 238.2h-1.0M151.8 231.8h-1.8M151.8 225.3h-1.0M151.8 218.9h-1.8M151.8 212.5h-1.0M151.8 206.1h-1.8M151.8 199.6h-1.0M151.8 193.2h-1.8M151.8 186.8h-1.0M151.8 180.3h-1.8M151.8 173.9h-1.0M151.8 167.5h-1.8"/>
<g class="tl" text-anchor="middle"><text transform="translate(151.8 264.3)scale(.8 1)">0</text><text transform="translate(169.5 264.3)scale(.8 1)">2</text><text transform="translate(187.2 264.3)scale(.8 1)">4</text><text transform="translate(204.9 264.3)scale(.8 1)">6</text><text transform="translate(222.6 264.3)scale(.8 1)">8</text><text transform="translate(240.3 264.3)scale(.8 1)">10</text><text transform="translate(258.0 264.3)scale(.8 1)">12</text></g>
<g class="tl" text-anchor="end"><text transform="translate(149.5 259.1)scale(.8 1)">0</text><text transform="translate(149.5 246.2)scale(.8 1)">2</text><text transform="translate(149.5 233.4)scale(.8 1)">4</text><text transform="translate(149.5 220.5)scale(.8 1)">6</text><text transform="translate(149.5 207.7)scale(.8 1)">8</text><text transform="translate(149.5 194.8)scale(.8 1)">10</text><text transform="translate(149.5 181.9)scale(.8 1)">12</text><text transform="translate(149.5 169.1)scale(.8 1)">14</text></g>
<path class="rl" d="M151.8 257.5L249.2 185.5"/>
<text class="at" style="font-weight:bold" x="189.8" y="271.9" textLength="29.6" lengthAdjust="spacingAndGlyphs">Actual Distance</text>
<text class="at" style="font-weight:bold" transform="translate(144.0 207.8)rotate(-90)" x="-18.6" y="0" textLength="37.1" lengthAdjust="spacingAndGlyphs">Prediction Distance</text>
<text class="rt" style="font-weight:bold" transform="translate(166.1 164.5)scale(0.845 1)">R=0.9220</text>
<text class="rt" style="font-weight:bold" transform="translate(166.1 170.3)scale(0.845 1)">slope=1.0177</text>
<text class="cap" transform="translate(200.9 289.0)scale(.94 1)">(f) GCN</text>
<g filter="url(#bl)">
<path transform="scale(0.25)" class="p r" d="M1341 736zm1 17zm0 6zm-2 19zm0 12zm-17 2zm15 0zm3 2zm-3 3zm3 2zm0 2zm0 2zm-33 1zm24 0zm-25 1zm1 0zm-6 1zm3 1zm-11 1zm43 2zm3 1zm-33 2zm5 0zm26 0zm0 1zm2 0zm1 0zm-39 1zm39 1zm-36 1zm0 1zm1 0zm28 1zm-62 2zm35 0zm34 0zm-71 1zm25 0zm22 2zm21 2zm3 0zm-72 1zm17 1zm55 0zm-36 1zm32 0zm4 0zm-105 1zm34 0zm54 0zm7 0zm2 0zm8 0zm-47 2zm45 0zm1 2zm-34 1zm18 0zm15 1zm-48 1zm11 0zm38 2zm-35 1zm-70 2zm2 0zm62 0zm39 0zm-68 1zm39 0zm-80 1zm54 0zm-13 1zm56 0zm-20 1zm34 0zm1 2zm-66 1zm66 0zm-35 1zm2 0zm5 0zm12 1zm16 0zm-78 1zm73 0zm-30 1zm4 0zm16 0zm-5 1zm7 0zm12 0zm-68 1zm23 0zm12 0zm31 0zm-103 1zm34 0zm27 0zm10 0zm9 0zm-10 1zm24 0zm12 1zm-107 1zm70 0zm23 0zm13 0zm1 0zm-70 2zm36 0zm-96 1zm92 0zm1 0zm3 1zm23 0zm-60 1zm11 0zm27 0zm24 0zm-97 1zm47 0zm27 0zm5 0zm-83 1zm1 0zm37 0zm1 0zm36 0zm30 0zm4 0zm-139 1zm140 0zm-105 1zm17 0zm19 0zm35 0zm6 0zm28 0zm-104 1zm69 0zm3 0zm14 0zm9 0zm8 0zm-106 1zm66 0zm1 0zm4 0zm37 0zm-73 1zm36 0zm36 0zm-105 1zm1 0zm47 0zm22 0zm12 0zm24 0zm-142 1zm34 0zm27 0zm10 0zm1 0zm32 0zm2 0zm12 0zm23 0zm-140 1zm8 0zm95 0zm2 0zm13 0zm20 0zm2 0zm-140 1zm41 0zm39 0zm17 0zm11 0zm26 0zm5 0zm-95 1zm25 0zm46 0zm25 0zm-139 1zm104 0zm-82 1zm45 0zm37 0zm3 0zm5 0zm27 0zm-139 1zm33 0zm1 0zm38 0zm25 0zm7 0zm2 0zm9 0zm1 0zm-84 1zm36 0zm1 0zm27 0zm40 0zm2 0zm1 0zm-115 1zm8 0zm36 0zm36 0zm1 0zm2 0zm6 0zm10 0zm16 0zm-140 1zm33 0zm37 0zm35 0zm1 0zm1 0zm6 0zm10 0zm15 0zm2 0zm-108 1zm37 0zm1 0zm34 0zm9 0zm27 0zm-72 1zm2 0zm35 0zm1 0zm33 0zm-97 1zm27 0zm14 0zm18 0zm12 0zm19 0zm-131 1zm34 0zm30 0zm3 0zm2 0zm22 0zm12 0zm18 0zm-116 1zm28 0zm1 0zm1 0zm33 0zm2 0zm24 0zm9 0zm21 0zm7 0zm1 0zm-133 1zm7 0zm62 0zm1 0zm69 0zm1 0zm-140 1zm34 0zm20 0zm8 0zm4 0zm1 0zm1 0zm2 0zm31 0zm4 0zm33 0zm-125 1zm22 0zm36 0zm32 0zm2 0zm1 0zm3 0zm10 0zm21 0zm-93 1zm21 0zm1 0zm11 0zm2 0zm21 0zm2 0zm1 0zm-77 1zm5 0zm63 0zm8 0zm2 0zm23 0zm10 0zm-105 1zm34 0zm2 0zm3 0zm10 0zm19 0zm3 0zm8 0zm-114 1zm6 0zm19 0zm2 0zm30 0zm11 0zm2 0zm9 0zm2 0zm18 0zm6 0zm1 0zm25 0zm8 0zm-95 1zm24 0zm2 0zm43 0zm-101 1zm12 0zm10 0zm34 0zm1 0zm26 0zm4 0zm5 0zm1 0zm1 0zm1 0zm28 0zm-136 1zm37 0zm33 0zm3 0zm31 0zm2 0zm1 0zm-71 1zm35 0zm1 0zm11 0zm20 0zm2 0zm2 0zm-74 1zm35 0zm15 0zm23 0zm1 0zm5 0zm16 0zm11 0zm1 0zm1 0zm-141 1zm33 0zm2 0zm29 0zm5 0zm5 0zm30 0zm4 0zm32 0zm-139 1zm15 0zm20 0zm32 0zm31 0zm5 0zm5 0zm31 0zm1 0zm-139 1zm33 0zm26 0zm10 0zm34 0zm1 0zm1 0zm19 0zm10 0zm-122 1zm22 0zm15 0zm17 0zm1 0zm2 0zm1 0zm1 0zm1 0zm1 0zm6 0zm23 0zm1 0zm1 0zm1 0zm1 0zm27 0zm-134 1zm69 0zm3 0zm1 0zm31 0zm22 0zm6 0zm-131 1zm34 0zm32 0zm2 0zm1 0zm26 0zm8 0zm29 0zm6 0zm1 0zm-41 1zm6 0zm1 0zm1 0zm32 0zm-135 1zm27 0zm38 0zm2 0zm23 0zm10 0zm10 0zm4 0zm21 0zm2 0zm-141 1zm11 0zm58 0zm4 0zm62 0zm4 0zm-140 1zm34 0zm1 0zm3 0zm35 0zm25 0zm4 0zm4 0zm1 0zm10 0zm-117 1zm1 0zm34 0zm2 0zm32 0zm1 0zm20 0zm13 0zm3 0zm2 0zm15 0zm2 0zm-106 1zm1 0zm48 0zm1 0zm35 0zm36 0z"/>
<path transform="scale(0.25)" class="p g" d="M1432 648zm-19 1zm59 4zm12 1zm-37 1zm21 1zm-20 1zm-35 5zm-35 6zm33 1zm35 5zm39 1zm1 0zm-116 1zm148 1zm-68 2zm69 0zm-98 1zm7 0zm27 0zm64 0zm-144 2zm69 0zm39 1zm-35 1zm-3 2zm-34 1zm11 0zm27 0zm-6 2zm5 0zm69 0zm-71 1zm61 0zm-17 1zm-82 1zm39 1zm2 0zm28 0zm40 0zm-104 1zm34 0zm71 1zm11 0zm-89 1zm-27 1zm-7 1zm7 1zm69 0zm-104 1zm92 0zm50 0zm-35 1zm-71 1zm33 0zm3 0zm33 1zm-36 1zm72 0zm-29 1zm-77 1zm-39 1zm79 0zm64 0zm-69 1zm-71 2zm98 0zm-16 1zm-28 1zm17 0zm36 0zm37 0zm-144 1zm62 0zm5 0zm75 0zm-71 1zm-67 1zm66 0zm4 0zm20 0zm-22 1zm46 0zm-98 1zm99 0zm-85 1zm2 0zm-18 1zm18 0zm35 0zm46 0zm-45 1zm19 0zm15 0zm-70 1zm39 0zm-11 1zm-30 1zm40 0zm-38 1zm35 0zm34 0zm-68 2zm32 0zm2 0zm-35 1zm34 0zm19 0zm16 0zm-71 1zm36 0zm-71 1zm40 0zm51 0zm14 0zm-121 1zm5 0zm48 0zm72 0zm32 0zm-104 1zm19 0zm51 0zm37 0zm-72 1zm72 0zm-18 1zm15 0zm-141 1zm38 0zm19 0zm15 0zm34 0zm14 0zm-48 1zm32 0zm39 0zm-85 1zm14 0zm37 0zm33 0zm-119 1zm6 0zm42 0zm-39 1zm78 0zm27 0zm1 0zm-137 1zm1 0zm36 0zm67 0zm-70 1zm37 0zm33 0zm37 0zm-158 1zm34 0zm27 0zm64 0zm2 0zm1 0zm33 0zm-107 1zm34 0zm32 0zm-98 1zm23 0zm7 0zm1 0zm34 0zm82 0zm-152 1zm3 0zm67 0zm1 0zm32 0zm-33 1zm1 0zm-69 1zm26 0zm4 0zm37 0zm-34 1zm12 0zm94 0zm-72 1zm8 0zm30 0zm34 0zm11 0zm-179 1zm62 0zm35 0zm5 0zm69 0zm-72 1zm4 0zm-5 1zm34 0zm-107 1zm8 0zm49 0zm-55 1zm81 0zm17 0zm-118 1zm45 0zm46 0zm31 0zm37 0zm-104 1zm1 0zm36 0zm24 0zm-97 1zm27 0zm24 0zm4 0zm16 0zm2 0zm3 0zm-41 1zm27 0zm9 0zm34 0zm-70 1zm39 0zm32 0zm13 0zm-91 1zm16 1zm28 0zm71 0zm-72 1zm36 0zm35 0zm-107 1zm2 0zm35 0zm5 0zm31 0zm34 0zm11 0zm-117 1zm117 0zm-116 1zm8 0zm26 0zm1 0zm3 0zm33 0zm18 0zm17 0zm-175 1zm32 0zm28 0zm8 0zm71 0zm1 0zm2 0zm32 0zm71 0zm-239 1zm34 0zm5 0zm22 0zm1 0zm12 0zm26 0zm-75 1zm37 0zm36 0zm1 0zm35 0zm38 0zm-146 1zm65 0zm37 0zm6 0zm-108 1zm31 0zm28 0zm47 0zm2 0zm33 0zm-120 1zm15 0zm1 0zm35 0zm2 0zm32 0zm-71 1zm36 0zm7 0zm1 0zm32 0zm-113 2zm9 0zm29 0zm10 0zm-46 1zm72 0zm36 0zm13 0zm19 0zm-102 1zm34 0zm35 0zm17 0zm17 0zm-104 1zm1 0zm34 0zm8 0zm-13 1zm20 0zm-89 1zm39 0zm34 0zm36 0zm1 0zm-72 1zm-69 1zm36 0zm32 0zm1 0zm1 0zm30 0zm3 0zm74 0zm-93 1zm-59 1zm44 0zm35 0zm3 0zm13 0zm12 0zm5 0zm2 0zm1 0zm-70 1zm84 0zm24 0zm-109 1zm1 0zm-65 1zm14 0zm42 0zm79 0zm1 0zm45 0zm-163 1zm10 0zm33 0zm2 0zm1 0zm72 0zm-109 1zm13 0zm4 0zm5 0zm15 0zm73 0zm-99 1zm60 0zm1 0zm1 0zm1 0zm1 0zm1 0zm20 0zm6 0zm-99 1zm32 0zm72 0zm2 0zm38 0zm-144 1zm17 0zm17 0zm49 0zm21 0zm2 0zm2 0zm31 0zm3 0zm-107 1zm33 0zm32 0zm-135 1zm33 0zm37 0zm35 0zm11 0zm25 0zm-141 1zm33 0zm21 0zm89 0zm-144 1zm2 0zm33 0zm35 0zm23 0zm11 0zm2 0zm36 0zm-74 1zm3 0zm1 0zm34 0zm-57 1zm17 0zm4 0zm1 0zm34 0zm2 0zm68 0zm-147 1zm6 0zm72 0zm66 0zm3 0zm-141 1zm38 0zm9 0zm24 0zm1 0zm1 0zm34 0zm-139 1zm67 0zm118 0zm-183 1zm31 0zm2 0zm35 0zm8 0zm17 0zm43 0zm1 0zm1 0zm16 0zm-124 1zm36 0zm18 0zm51 0zm3 0zm1 0zm-37 1zm17 0zm19 0zm22 0zm-131 1zm1 0zm36 0zm11 0zm23 0zm2 0zm6 0zm28 0zm-105 1zm35 0zm1 0zm37 0zm68 0zm-140 1zm33 0zm35 0zm37 0zm35 0zm-141 1zm34 0zm12 0zm-46 1zm14 0zm20 0zm2 0zm49 0zm20 0zm37 0zm-144 1zm38 0zm8 0zm29 0zm1 0zm-75 1zm1 0zm36 0zm34 0zm1 0zm11 0zm-117 1zm16 0zm21 0zm33 0zm26 0zm9 0zm36 0zm1 0zm16 0zm1 0zm-126 1zm1 0zm3 0zm69 0zm4 0zm66 0zm-123 1zm16 0zm37 0zm-71 1zm2 0zm37 0zm2 0zm-42 1zm2 0zm10 0zm16 0zm9 0zm1 0zm56 0zm12 0zm2 0zm-141 1zm55 0zm15 0zm69 0zm1 0zm6 0zm28 0zm-140 1zm33 0zm37 0zm36 0zm1 0zm26 0zm19 0zm-152 1zm1 0zm32 0zm5 0zm29 0zm4 0zm35 0zm-140 1zm29 0zm5 0zm1 0zm29 0zm5 0zm34 0zm2 0zm2 0zm32 0zm14 0zm-123 1zm39 0zm50 0zm20 0zm1 0zm-135 1zm30 0zm3 0zm64 0zm2 0zm-105 1zm8 0zm25 0zm1 0zm2 0zm3 0zm8 0zm9 0zm55 0zm20 0zm11 0zm7 0zm26 0zm4 0zm-74 1zm2 0zm17 0zm25 0zm13 0zm-162 1zm35 0zm35 0zm26 0zm9 0zm2 0zm1 0zm33 0zm34 0zm-174 1zm69 0zm4 0zm67 0zm36 0zm-176 1zm34 0zm1 0zm34 0zm1 0zm3 0zm32 0zm-58 1zm22 0zm36 0zm36 0zm34 0zm1 0zm-161 1zm38 0zm19 0zm-73 1zm1 0zm34 0zm4 0zm28 0zm19 0zm91 0zm-146 1zm2 0zm2 0zm25 0zm9 0zm1 0zm4 0zm2 0zm6 0zm22 0zm1 0zm36 0zm1 0zm23 0zm10 0zm-175 1zm32 0zm1 0zm1 0zm37 0zm29 0zm-81 1zm16 0zm8 0zm39 0zm12 0zm22 0zm22 0zm3 0zm2 0zm-142 1zm22 0zm10 0zm2 0zm1 0zm32 0zm28 0zm10 0zm72 0zm-152 1zm8 0zm37 0zm28 0zm7 0zm35 0zm-114 1zm7 0zm1 0zm1 0zm30 0zm3 0zm1 0zm1 0zm37 0zm54 0zm-132 1zm1 0zm4 0zm1 0zm36 0zm33 0zm1 0zm2 0zm18 0zm15 0zm-105 1zm1 0zm15 0zm16 0zm3 0zm1 0zm-67 1zm31 0zm9 0zm6 0zm6 0zm10 0zm2 0zm3 0zm49 0zm-121 1zm2 0zm35 0zm29 0zm5 0zm36 0zm53 0zm5 0zm22 0zm-162 1zm10 0zm20 0zm16 0zm34 0zm8 0zm62 0zm-175 1zm15 0zm17 0zm5 0zm31 0zm1 0zm1 0zm6 0zm29 0zm1 0zm50 0zm1 0zm30 0zm-187 1zm23 0zm37 0zm10 0zm5 0zm15 0zm-78 1zm21 0zm2 0zm35 0zm37 0zm30 0zm-111 1zm7 0zm1 0zm1 0zm22 0zm6 0zm14 0zm14 0zm4 0zm47 0zm45 0zm-187 1zm34 0zm1 0zm1 0zm34 0zm8 0zm16 0zm11 0zm72 0zm-107 1zm3 0zm-70 1zm4 0zm63 0zm3 0zm1 0zm29 0zm3 0zm1 0zm1 0zm8 0zm-116 1zm1 0zm13 0zm18 0zm3 0zm1 0zm2 0zm11 0zm21 0zm17 0zm18 0zm35 0zm-120 1zm4 0zm10 0zm1 0zm34 0zm2 0zm68 0zm16 0zm-136 1zm15 0zm3 0zm34 0zm61 0zm-132 1zm34 0zm36 0zm1 0zm1 0zm16 0zm33 0zm-87 1zm36 0zm26 0zm9 0zm1 0zm6 0zm30 0zm-129 1zm21 0zm3 0zm20 0zm12 0zm24 0zm14 0zm-106 1zm6 0zm3 0zm2 0zm22 0zm-25 1zm26 0zm1 0zm17 0zm18 0zm14 0zm-85 1zm1 0zm8 0zm12 0zm24 0zm17 0zm1 0zm7 0zm35 0zm-105 1zm1 0zm24 0zm8 0zm1 0zm15 0zm14 0zm42 0zm-104 1zm6 0zm7 0zm1 0zm9 0zm5 0zm4 0zm1 0zm1 0zm33 0zm1 0zm19 0zm17 0zm39 0zm-128 1zm18 0zm37 0zm64 0zm23 0zm20 0zm-175 1zm11 0zm55 0zm6 0zm71 0zm29 0zm-175 1zm4 0zm31 0zm2 0zm6 0zm13 0zm14 0zm15 0zm4 0zm7 0zm11 0zm-107 1zm14 0zm1 0zm18 0zm3 0zm1 0zm34 0zm33 0zm2 0zm16 0zm9 0zm-130 1zm13 0zm16 0zm5 0zm1 0zm16 0zm9 0zm7 0zm1 0zm1 0zm1 0zm-71 1zm2 0zm4 0zm26 0zm29 0zm3 0zm1 0zm3 0zm20 0zm20 0zm35 0zm-141 1zm22 0zm10 0zm1 0zm2 0zm4 0zm7 0zm19 0zm4 0zm34 0zm2 0zm15 0zm24 0zm-146 1zm8 0zm10 0zm17 0zm1 0zm35 0zm36 0zm-107 1zm1 0zm34 0zm1 0zm1 0zm33 0zm1 0zm14 0zm23 0zm27 0zm-135 1zm33 0zm36 0zm2 0zm34 0zm34 0zm16 0zm-148 1zm15 0zm15 0zm23 0zm44 0zm83 0zm-159 1zm2 0zm3 0zm3 0zm2 0zm11 0zm21 0zm2 0zm1 0zm-66 1zm5 0zm23 0zm33 0zm3 0zm34 0zm2 0zm-107 1zm1 0zm33 0zm3 0zm1 0zm31 0zm2 0zm32 0zm38 0zm-134 1zm17 0zm6 0zm6 0zm8 0zm59 0zm15 0zm66 0zm-149 1zm2 0zm10 0zm24 0zm35 0zm-106 1zm6 0zm7 0zm21 0zm1 0zm1 0zm68 0zm39 0zm-134 1zm26 0zm34 0zm2 0zm-70 1zm1 0zm31 0zm1 0zm48 0zm5 0zm-61 1zm9 0zm1 0zm71 0zm33 0zm-139 1zm11 0zm22 0zm2 0zm4 0zm66 0zm11 0zm-98 1zm16 0zm1 0zm21 0zm12 0zm3 0zm1 0zm31 0zm-104 1zm1 0zm32 0zm1 0zm1 0zm14 0zm23 0zm75 0zm-147 1zm42 0zm28 0zm38 0zm-108 1zm12 0zm4 0zm28 0zm1 0zm24 0zm-34 1zm7 0zm1 0zm20 0zm7 0zm1 0zm70 0zm-141 1zm35 0zm1 0zm34 0zm1 0zm34 0zm-73 1zm3 0zm6 0zm14 0zm49 0zm1 0zm18 0zm-106 1zm18 0zm1 0zm1 0zm35 0zm-72 1zm1 0zm35 0zm1 0zm104 0zm-141 1zm1 0zm21 0zm13 0zm2 0zm10 0zm23 0zm51 0zm-120 1zm34 0zm1 0zm20 0zm9 0zm9 0zm75 0zm-149 1zm1 0zm28 0zm4 0zm1 0zm1 0zm1 0zm7 0zm17 0zm8 0zm24 0zm-91 1zm4 0zm1 0zm16 0zm3 0zm10 0zm2 0zm7 0zm11 0zm16 0zm35 0zm-106 1zm87 0zm19 0zm-72 1zm35 0zm38 0zm68 0zm-174 1zm2 0zm3 0zm54 0zm9 0zm2 0zm11 0zm21 0zm5 0zm33 0zm-141 1zm1 0zm16 0zm17 0zm1 0zm5 0zm19 0zm11 0zm1 0zm31 0zm-101 1zm5 0zm12 0zm4 0zm11 0zm3 0zm33 0zm-60 1zm7 0zm7 0zm14 0zm23 0zm82 0zm-142 1zm35 0zm1 0zm34 0zm28 0zm-98 1zm1 0zm33 0zm1 0zm2 0zm35 0zm33 0zm-104 1zm32 0zm2 0zm7 0zm3 0zm14 0zm12 0zm1 0zm-71 1zm6 0zm18 0zm6 0zm4 0zm1 0zm1 0zm14 0zm19 0zm3 0zm34 0zm-72 1zm23 0zm18 0zm32 0zm-108 1zm1 0zm6 0zm12 0zm16 0zm1 0zm37 0zm32 0zm-104 1zm9 0zm7 0zm10 0zm7 0zm1 0zm15 0zm19 0zm-69 1zm22 0zm7 0zm6 0zm35 0zm70 0zm-139 1zm4 0zm29 0zm1 0zm1 0zm75 0zm5 0zm27 0zm-114 1zm5 0zm22 0zm14 0zm-70 1zm7 0zm26 0zm1 0zm2 0zm-33 1zm23 0zm34 0zm10 0zm1 0zm53 0zm-124 1zm13 0zm2 0zm20 0zm1 0zm34 0zm2 0zm33 0zm1 0zm-105 1zm34 0z"/>
<path transform="scale(0.25)" class="p o" d="M1342 911zm6 0zm29 0zm35 0zm42 0zm-111 1zm12 0zm3 0zm1 0zm17 0zm1 0zm24 0zm1 0zm45 0zm37 0zm1 0zm-143 1zm18 0zm17 0zm2 0zm32 0zm1 0zm1 0zm-70 1zm5 0zm1 0zm24 0zm3 0zm1 0zm33 0zm1 0zm19 0zm51 0zm-139 1zm6 0zm4 0zm24 0zm1 0zm1 0zm1 0zm33 0zm2 0zm12 0zm-51 1zm2 0zm143 0zm-177 1zm18 0zm15 0zm1 0zm13 0zm18 0zm3 0zm-69 1zm1 0zm1 0zm28 0zm2 0zm1 0zm2 0zm1 0zm43 0zm-79 1zm22 0zm12 0zm2 0zm33 0zm-69 1zm28 0zm9 0zm21 0zm61 0zm-119 1zm1 0zm4 0zm4 0zm27 0zm30 0zm4 0zm17 0zm-87 1zm1 0zm29 0zm6 0zm7 0zm26 0zm3 0zm10 0zm-80 1zm35 0zm-35 1zm32 0zm59 0zm6 0zm-99 1zm23 0zm9 0zm37 0zm-68 1zm11 0zm60 0zm35 0zm-106 1zm8 0zm25 0zm2 0zm25 0zm8 0zm3 0zm-70 1zm12 0zm20 0zm2 0zm48 0zm25 0zm-74 1zm3 0zm11 0zm19 0zm86 0zm-142 1zm3 0zm5 0zm15 0zm11 0zm25 0zm-70 1zm33 0zm36 0zm-69 1zm11 0zm18 0zm4 0zm4 0zm-3 1zm1 0zm20 0zm15 0zm-71 1zm1 0zm1 0zm17 0zm16 0zm1 0zm33 0zm38 0zm-107 1zm8 0zm26 0zm1 0zm-34 1zm33 0zm1 0zm2 0zm-37 1zm70 0zm38 0zm-103 1zm59 0zm12 0zm-76 1zm1 0zm10 0zm3 0zm20 0zm5 0zm3 0zm26 0zm51 0zm-118 1zm32 0zm-32 1zm32 0zm-32 1zm25 0zm8 0zm2 0zm2 0zm32 0zm-70 1zm27 0zm7 0zm1 0zm33 0zm-58 1zm13 0zm13 0zm14 0zm6 0zm18 0zm-66 1zm27 0zm37 0zm-71 1zm50 0zm-50 1zm34 0zm-35 1zm2 0zm33 1zm-22 1zm-8 1zm-5 1zm1 0zm4 1zm30 0zm37 0zm12 0zm-83 1zm10 0zm27 0zm8 1zm24 0zm-69 1zm42 0zm-42 1zm1 0zm8 0zm24 0zm2 0zm-36 1zm1 0zm13 0zm-14 1zm28 0zm5 0zm3 0zm1 0zm35 0zm13 0zm-84 1zm34 0zm35 0zm27 0zm-97 1zm29 0zm6 0zm69 0zm-64 1zm-5 1zm-35 1zm14 0zm20 0zm-34 1zm39 0zm30 0zm-69 1zm13 0zm26 0zm7 0zm-31 1zm19 0zm-34 1zm14 1zm12 0zm78 0zm-100 1zm33 0zm-37 1zm1 0zm104 0zm-105 1zm1 0zm4 0zm63 0zm2 0zm-36 1zm2 0zm-36 1zm35 0zm28 0zm8 0zm-71 1zm1 0zm6 1zm85 0zm-22 1zm-69 1zm32 0zm-33 1zm1 0zm34 1zm44 0zm-79 1zm12 0zm25 0zm32 0zm-42 1zm-27 1zm1 0zm3 0zm29 0zm2 0zm31 1zm3 0zm12 0zm-81 1zm1 0zm10 0zm23 0zm38 0zm-58 1zm7 0zm11 0zm1 0zm-33 1zm1 1zm9 0zm17 0zm6 0zm-24 1zm13 1zm13 1zm15 0zm22 0zm-37 1zm22 0zm-22 2zm-34 1zm27 0zm-28 3zm0 1zm10 1zm8 0zm-17 4zm35 0zm-36 1zm0 1zm28 0zm58 0zm-86 1zm68 1zm-36 2zm-31 1zm69 2zm-34 1zm-3 2zm-31 1zm-2 2zm1 1zm-1 1zm35 1zm-5 2zm3 0zm-32 2zm33 0zm1 0zm3 1zm-6 1zm3 0zm-1 1z"/>
<path transform="scale(0.25)" class="p b" d="M1200 911zm8 0zm75 0zm22 0zm11 0zm24 0zm1 0zm-72 1zm1 0zm23 0zm49 0zm-141 1zm33 0zm1 0zm1 0zm3 0zm35 0zm30 0zm1 0zm1 0zm1 0zm1 0zm6 0zm26 0zm-133 1zm28 0zm3 0zm7 0zm25 0zm2 0zm1 0zm7 0zm12 0zm13 0zm2 0zm35 0zm-77 1zm4 0zm4 0zm1 0zm3 0zm22 0zm6 0zm1 0zm17 0zm3 0zm-124 1zm35 0zm58 0zm11 0zm1 0zm1 0zm1 0zm-108 1zm33 0zm36 0zm2 0zm6 0zm56 0zm5 0zm2 0zm-103 1zm3 0zm28 0zm4 0zm26 0zm6 0zm5 0zm4 0zm28 0zm-140 1zm67 0zm7 0zm32 0zm26 0zm-132 1zm18 0zm14 0zm36 0zm2 0zm7 0zm12 0zm6 0zm7 0zm2 0zm1 0zm33 0zm1 0zm-138 1zm27 0zm4 0zm3 0zm1 0zm59 0zm8 0zm30 0zm5 0zm1 0zm1 0zm-141 1zm34 0zm1 0zm1 0zm34 0zm34 0zm35 0zm-113 1zm27 0zm9 0zm7 0zm3 0zm17 0zm9 0zm22 0zm18 0zm2 0zm-105 1zm34 0zm1 0zm1 0zm18 0zm11 0zm2 0zm3 0zm1 0zm27 0zm7 0zm-140 1zm35 0zm1 0zm2 0zm26 0zm5 0zm3 0zm8 0zm7 0zm10 0zm7 0zm3 0zm9 0zm6 0zm5 0zm13 0zm-107 1zm2 0zm1 0zm34 0zm1 0zm22 0zm11 0zm35 0zm-103 1zm29 0zm4 0zm36 0zm18 0zm-117 1zm41 0zm23 0zm1 0zm8 0zm32 0zm5 0zm25 0zm-142 1zm3 0zm31 0zm4 0zm5 0zm27 0zm37 0zm1 0zm24 0zm4 0zm-134 1zm34 0zm35 0zm8 0zm28 0zm18 0zm15 0zm1 0zm-108 1zm15 0zm20 0zm2 0zm1 0zm22 0zm12 0zm14 0zm6 0zm16 0zm-141 1zm54 0zm7 0zm8 0zm1 0zm1 0zm40 0zm13 0zm9 0zm-113 1zm15 0zm29 0zm2 0zm3 0zm1 0zm36 0zm2 0zm4 0zm28 0zm1 0zm-139 1zm34 0zm1 0zm33 0zm35 0zm3 0zm33 0zm-139 1zm32 0zm28 0zm7 0zm3 0zm24 0zm9 0zm2 0zm17 0zm1 0zm15 0zm1 0zm-104 1zm3 0zm31 0zm6 0zm29 0zm34 0zm1 0zm-106 1zm34 0zm9 0zm26 0zm9 0zm-112 1zm29 0zm4 0zm2 0zm1 0zm35 0zm2 0zm30 0zm2 0zm35 0zm-141 1zm1 0zm21 0zm14 0zm2 0zm26 0zm2 0zm1 0zm2 0zm38 0zm13 0zm21 0zm-106 1zm1 0zm1 0zm34 0zm16 0zm27 0zm6 0zm20 0zm-139 1zm34 0zm4 0zm31 0zm1 0zm30 0zm4 0zm-104 1zm7 0zm56 0zm6 0zm1 0zm17 0zm18 0zm12 0zm3 0zm13 0zm-64 1zm2 0zm33 0zm14 0zm-117 1zm15 0zm17 0zm3 0zm34 0zm7 0zm4 0zm1 0zm21 0zm2 0zm1 0zm33 0zm-135 1zm4 0zm26 0zm37 0zm34 0zm2 0zm13 0zm19 0zm-140 1zm1 0zm21 0zm10 0zm1 0zm1 0zm34 0zm3 0zm40 0zm9 0zm4 0zm2 0zm9 0zm-131 1zm26 0zm4 0zm1 0zm27 0zm7 0zm1 0zm34 0zm3 0zm2 0zm31 0zm-123 1zm52 0zm2 0zm2 0zm33 0zm31 0zm-137 1zm1 0zm33 0zm2 0zm1 0zm3 0zm29 0zm38 0zm28 0zm5 0zm-104 1zm70 0zm14 0zm-120 1zm36 0zm29 0zm8 0zm1 0zm13 0zm9 0zm13 0zm20 0zm11 0zm-139 1zm8 0zm26 0zm1 0zm36 0zm23 0zm11 0zm2 0zm1 0zm19 0zm12 0zm-139 1zm2 0zm8 0zm8 0zm13 0zm3 0zm1 0zm26 0zm7 0zm1 0zm1 0zm1 0zm34 0zm8 0zm-113 1zm49 0zm6 0zm15 0zm1 0zm2 0zm5 0zm4 0zm24 0zm23 0zm11 0zm-141 1zm2 0zm17 0zm14 0zm1 0zm3 0zm1 0zm23 0zm8 0zm1 0zm1 0zm1 0zm4 0zm30 0zm13 0zm22 0zm1 0zm-140 1zm14 0zm15 0zm2 0zm1 0zm19 0zm37 0zm12 0zm2 0zm8 0zm15 0zm1 0zm13 0zm-119 1zm12 0zm1 0zm34 0zm2 0zm1 0zm6 0zm18 0zm9 0zm2 0zm25 0zm1 0zm8 0zm-140 1zm34 0zm1 0zm2 0zm9 0zm23 0zm1 0zm1 0zm34 0zm1 0zm-105 1zm45 0zm22 0zm2 0zm2 0zm13 0zm22 0zm1 0zm8 0zm24 0zm1 0zm-140 1zm5 0zm24 0zm3 0zm4 0zm34 0zm1 0zm53 0zm-93 1zm3 0zm2 0zm34 0zm32 0zm1 0zm34 0zm2 0zm-140 1zm16 0zm18 0zm3 0zm4 0zm1 0zm47 0zm6 0zm10 0zm1 0zm34 0zm-132 1zm25 0zm1 0zm25 0zm2 0zm8 0zm36 0zm2 0zm2 0zm-109 1zm5 0zm31 0zm8 0zm24 0zm2 0zm35 0zm35 0zm-107 1zm2 0zm5 0zm28 0zm1 0zm2 0zm20 0zm13 0zm5 0zm4 0zm15 0zm13 0zm-142 1zm23 0zm10 0zm1 0zm10 0zm27 0zm1 0zm33 0zm1 0zm9 0zm13 0zm-92 1zm1 0zm35 0zm31 0zm2 0zm1 0zm1 0zm17 0zm17 0zm-141 1zm2 0zm24 0zm9 0zm20 0zm16 0zm10 0zm6 0zm20 0zm32 0zm-125 1zm6 0zm8 0zm2 0zm2 0zm3 0zm1 0zm35 0zm13 0zm57 0zm-140 1zm8 0zm25 0zm2 0zm1 0zm33 0zm1 0zm7 0zm28 0zm1 0zm34 0zm-141 1zm1 0zm28 0zm6 0zm1 0zm35 0zm4 0zm3 0zm8 0zm11 0zm36 0zm-132 1zm22 0zm2 0zm45 0zm1 0zm1 0zm4 0zm5 0zm23 0zm37 0zm-137 1zm33 0zm31 0zm3 0zm27 0zm9 0zm29 0zm5 0zm-140 1zm2 0zm2 0zm15 0zm7 0zm8 0zm1 0zm1 0zm1 0zm18 0zm14 0zm15 0zm19 0zm22 0zm-126 1zm1 0zm34 0zm1 0zm1 0zm9 0zm12 0zm3 0zm3 0zm6 0zm1 0zm7 0zm3 0zm22 0zm2 0zm2 0zm1 0zm19 0zm1 0zm-127 1zm8 0zm26 0zm3 0zm32 0zm35 0zm1 0zm34 0zm-136 1zm2 0zm18 0zm5 0zm4 0zm2 0zm1 0zm33 0zm3 0zm33 0zm2 0zm-107 1zm1 0zm22 0zm5 0zm7 0zm24 0zm3 0zm7 0zm3 0zm1 0zm34 0zm-107 1zm13 0zm13 0zm5 0zm3 0zm1 0zm2 0zm1 0zm34 0zm27 0zm6 0zm1 0zm18 0zm-124 1zm1 0zm5 0zm11 0zm18 0zm2 0zm1 0zm8 0zm4 0zm20 0zm1 0zm1 0zm2 0zm64 0zm3 0zm-139 1zm5 0zm27 0zm35 0zm2 0zm2 0zm31 0zm3 0zm1 0zm24 0zm-132 1zm1 0zm16 0zm18 0zm2 0zm17 0zm16 0zm2 0zm21 0zm13 0zm1 0zm-107 1zm1 0zm34 0zm1 0zm62 0zm5 0zm2 0zm1 0zm2 0zm11 0zm22 0zm-141 1zm4 0zm7 0zm2 0zm23 0zm32 0zm4 0zm33 0zm-103 1zm17 0zm3 0zm9 0zm21 0zm15 0zm2 0zm1 0zm36 0zm-106 1zm1 0zm34 0zm1 0zm1 0zm11 0zm57 0zm1 0zm35 0zm-141 1zm1 0zm2 0zm7 0zm25 0zm1 0zm16 0zm5 0zm7 0zm2 0zm5 0zm17 0zm13 0zm36 0zm-128 1zm3 0zm24 0zm1 0zm34 0zm9 0zm19 0zm6 0zm3 0zm-81 1zm2 0zm3 0zm1 0zm1 0zm2 0zm3 0zm31 0zm-70 1zm1 0zm5 0zm11 0zm10 0zm6 0zm1 0zm2 0zm35 0zm14 0zm24 0zm23 0zm-131 1zm42 0zm7 0zm21 0zm33 0zm2 0zm35 0zm-141 1zm1 0zm5 0zm29 0zm1 0zm1 0zm27 0zm3 0zm4 0zm1 0zm-72 1zm1 0zm3 0zm9 0zm12 0zm9 0zm2 0zm3 0zm33 0zm33 0zm-98 1zm10 0zm3 0zm5 0zm12 0zm29 0zm40 0zm-106 1zm1 0zm1 0zm12 0zm11 0zm1 0zm9 0zm2 0zm1 0zm5 0zm-42 1zm1 0zm10 0zm1 0zm11 0zm5 0zm8 0zm32 0zm2 0zm1 0zm34 0zm2 0zm-108 1zm6 0zm6 0zm22 0zm2 0zm1 0zm1 0zm33 0zm1 0zm34 0zm3 0zm11 0zm-119 1zm2 0zm7 0zm12 0zm11 0zm2 0zm3 0zm3 0zm4 0zm12 0zm12 0zm9 0zm3 0zm28 0zm-109 1zm1 0zm36 0zm2 0zm31 0zm4 0zm2 0zm12 0zm51 0zm-138 1zm28 0zm5 0zm1 0zm11 0zm69 0zm-115 1zm1 0zm1 0zm1 0zm31 0zm1 0zm3 0zm34 0zm29 0zm40 0zm1 0zm-133 1zm2 0zm4 0zm15 0zm4 0zm34 0zm1 0zm1 0zm1 0zm-71 1zm3 0zm33 0zm36 0zm69 0zm-140 1zm2 0zm17 0zm4 0zm10 0zm2 0zm1 0zm33 0zm1 0zm2 0zm5 0zm29 0zm1 0zm-108 1zm13 0zm12 0zm12 0zm33 0zm-70 1zm1 0zm1 0zm14 0zm15 0zm2 0zm2 0zm1 0zm1 0zm33 0zm26 0zm8 0zm-104 1zm1 0zm18 0zm16 0zm1 0zm36 0zm62 0zm7 0zm-132 1zm25 0zm2 0zm1 0zm34 0zm-71 1zm2 0zm17 0zm13 0zm4 0zm1 0zm6 0zm6 0zm22 0zm1 0zm1 0zm29 0zm5 0zm11 0zm-118 1zm1 0zm9 0zm29 0zm5 0zm31 0zm31 0zm33 0zm2 0zm-141 1zm1 0zm1 0zm16 0zm3 0zm16 0zm6 0zm9 0zm12 0zm6 0zm1 0zm1 0zm67 0zm-138 1zm2 0zm7 0zm15 0zm8 0zm3 0zm35 0zm-70 1zm30 0zm6 0zm8 0zm8 0zm7 0zm10 0zm2 0zm23 0zm13 0zm32 0zm-140 1zm1 0zm3 0zm30 0zm2 0zm29 0zm4 0zm1 0zm1 0zm23 0zm10 0zm2 0zm-100 1zm7 0zm8 0zm2 0zm11 0zm1 0zm1 0zm1 0zm8 0zm4 0zm22 0zm2 0zm21 0zm-94 1zm1 0zm1 0zm8 0zm23 0zm1 0zm8 0zm31 0zm33 0zm35 0zm-141 1zm1 0zm31 0zm4 0zm1 0zm6 0zm26 0zm17 0zm47 0zm-133 1zm1 0zm1 0zm34 0zm1 0zm5 0zm30 0zm34 0zm35 0zm-140 1zm6 0zm2 0zm25 0zm1 0zm1 0zm1 0zm36 0zm35 0zm-107 1zm8 0zm13 0zm12 0zm2 0zm13 0zm21 0zm35 0zm13 0zm-118 1zm1 0zm5 0zm10 0zm19 0zm1 0zm37 0zm23 0zm11 0zm-99 1zm33 0zm20 0zm4 0zm14 0zm1 0zm28 0zm-106 1zm1 0zm1 0zm10 0zm22 0zm3 0zm5 0zm7 0zm21 0zm-72 1zm1 0zm1 0zm2 0zm3 0zm2 0zm4 0zm2 0zm23 0zm32 0zm2 0zm-71 1zm35 0zm13 0zm1 0zm20 0zm1 0zm1 0zm1 0zm-73 1zm1 0zm7 0zm6 0zm19 0zm3 0zm11 0zm31 0zm28 0zm-106 1zm2 0zm4 0zm30 0zm19 0zm7 0zm7 0zm1 0zm1 0zm13 0zm56 0zm1 0zm-130 1zm13 0zm10 0zm1 0zm4 0zm31 0zm3 0zm-72 1zm1 0zm1 0zm9 0zm4 0zm2 0zm4 0zm13 0zm1 0zm1 0zm35 0zm44 0zm-115 1zm1 0zm8 0zm28 0zm35 0zm64 0z"/>
</g>
<path class="ax" d="M300.0 257.5H406.2M300.0 257.5V160.5M300.0 257.5v1.8M308.9 257.5v1.0M317.7 257.5v1.8M326.6 257.5v1.0M335.4 257.5v1.8M344.2 257.5v1.0M353.1 257.5v1.8M361.9 257.5v1.0M370.8 257.5v1.8M379.6 257.5v1.0M388.5 257.5v1.8M397.4 257.5v1.0M406.2 257.5v1.8M300.0 257.5h-1.8M300.0 250.1h-1.0M300.0 242.6h-1.8M300.0 235.2h-1.0M300.0 227.7h-1.8M300.0 220.2h-1.0M300.0 212.8h-1.8M300.0 205.3h-1.0M300.0 197.9h-1.8M300.0 190.4h-1.0M300.0 183.0h-1.8M300.0 175.6h-1.0M300.0 168.1h-1.8"/>
<g class="tl" text-anchor="middle"><text transform="translate(300.0 264.3)scale(.8 1)">0</text><text transform="translate(317.7 264.3)scale(.8 1)">2</text><text transform="translate(335.4 264.3)scale(.8 1)">4</text><text transform="translate(353.1 264.3)scale(.8 1)">6</text><text transform="translate(370.8 264.3)scale(.8 1)">8</text><text transform="translate(388.5 264.3)scale(.8 1)">10</text><text transform="translate(406.2 264.3)scale(.8 1)">12</text></g>
<g class="tl" text-anchor="end"><text transform="translate(297.7 259.1)scale(.8 1)">0</text><text transform="translate(297.7 244.2)scale(.8 1)">2</text><text transform="translate(297.7 229.3)scale(.8 1)">4</text><text transform="translate(297.7 214.4)scale(.8 1)">6</text><text transform="translate(297.7 199.5)scale(.8 1)">8</text><text transform="translate(297.7 184.6)scale(.8 1)">10</text><text transform="translate(297.7 169.7)scale(.8 1)">12</text></g>
<path class="rl" d="M300.0 257.5L397.4 176.3"/>
<text class="at" style="font-weight:bold" x="338.0" y="271.9" textLength="29.6" lengthAdjust="spacingAndGlyphs">Actual Distance</text>
<text class="at" style="font-weight:bold" transform="translate(292.2 207.5)rotate(-90)" x="-18.8" y="0" textLength="37.6" lengthAdjust="spacingAndGlyphs">Prediction Distance</text>
<text class="rt" style="font-weight:bold" transform="translate(314.3 164.5)scale(0.845 1)">R=0.9560</text>
<text class="rt" style="font-weight:bold" transform="translate(314.3 170.3)scale(0.845 1)">slope=0.98701</text>
<text class="cap" transform="translate(346.3 289.0)scale(.94 1)">(g) GAT</text>
<g filter="url(#bl)">
<path transform="scale(0.25)" class="p r" d="M1855 789zm33 8zm2 13zm-21 3zm-13 7zm27 4zm-18 2zm14 0zm13 0zm-1 1zm-78 3zm1 3zm41 3zm37 2zm-37 3zm1 0zm35 2zm-39 2zm6 0zm31 0zm2 0zm0 1zm-26 1zm26 0zm0 1zm-35 1zm34 1zm1 2zm-36 1zm2 0zm26 0zm1 0zm-21 1zm27 1zm-40 1zm7 0zm24 0zm10 0zm-26 1zm26 0zm-36 1zm35 0zm-5 1zm-41 1zm47 0zm-1 1zm2 1zm-71 1zm69 1zm-70 1zm1 0zm1 0zm33 0zm2 0zm18 0zm-18 1zm6 0zm23 0zm5 0zm-35 1zm35 0zm-72 1zm4 0zm36 0zm21 0zm-30 1zm28 0zm13 0zm-22 1zm22 0zm-34 1zm34 0zm-13 1zm-57 1zm-1 1zm18 0zm5 0zm16 0zm31 0zm1 0zm-71 1zm1 0zm1 0zm34 0zm-105 1zm1 0zm40 0zm65 0zm1 0zm2 0zm25 0zm5 0zm1 0zm-96 1zm25 0zm35 0zm2 0zm5 0zm28 0zm-50 1zm1 0zm15 0zm33 0zm-69 1zm26 0zm-62 1zm52 0zm19 0zm4 0zm13 0zm19 0zm-115 1zm47 0zm30 0zm3 0zm1 0zm34 0zm-67 1zm44 0zm7 0zm14 0zm2 0zm-71 1zm20 0zm14 0zm3 0zm34 0zm-106 1zm18 0zm85 0zm-135 1zm67 0zm17 0zm18 0zm1 0zm26 0zm1 0zm-99 1zm31 0zm7 0zm35 0zm13 0zm20 0zm-128 1zm93 0zm-34 1zm1 0zm25 0zm36 0zm7 0zm-114 1zm1 0zm55 0zm24 0zm1 0zm33 0zm1 0zm-106 1zm35 0zm35 0zm34 0zm-106 1zm2 0zm1 0zm33 0zm2 0zm1 0zm33 0zm34 0zm-131 1zm26 0zm30 0zm52 0zm16 0zm8 0zm1 0zm-71 1zm4 0zm33 0zm32 0zm2 0zm-140 1zm54 0zm17 0zm68 0zm-113 1zm41 0zm2 0zm1 0zm18 0zm19 0zm-74 1zm2 0zm34 0zm2 0zm21 0zm12 0zm1 0zm30 0zm-103 1zm4 0zm33 0zm1 0zm36 0zm2 0zm24 0zm6 0zm2 0zm-140 1zm6 0zm26 0zm2 0zm27 0zm45 0zm15 0zm1 0zm18 0zm-106 1zm2 0zm34 0zm4 0zm22 0zm44 0zm-102 1zm58 0zm9 0zm-36 1zm12 0zm9 0zm13 0zm2 0zm1 0zm1 0zm33 0zm-140 1zm1 0zm33 0zm19 0zm17 0zm6 0zm9 0zm18 0zm4 0zm5 0zm12 0zm-91 1zm26 0zm11 0zm35 0zm1 0zm34 0zm-82 1zm12 0zm1 0zm11 0zm22 0zm36 0zm-140 1zm33 0zm37 0zm2 0zm29 0zm9 0zm13 0zm17 0zm-140 1zm32 0zm39 0zm6 0zm12 0zm1 0zm13 0zm37 0zm-122 1zm50 0zm1 0zm3 0zm1 0zm33 0zm19 0zm-126 1zm5 0zm40 0zm26 0zm35 0zm33 0zm2 0zm-106 1zm3 0zm3 0zm19 0zm11 0zm35 0zm1 0zm1 0zm4 0zm29 0zm-104 1zm27 0zm5 0zm1 0zm2 0zm32 0zm2 0zm35 0zm-106 1zm1 0zm35 0zm9 0zm27 0zm1 0zm25 0zm6 0zm1 0zm-113 1zm7 0zm3 0zm19 0zm16 0zm23 0zm11 0zm19 0zm16 0zm-106 1zm11 0zm1 0zm22 0zm1 0zm13 0zm3 0zm19 0zm6 0zm5 0zm23 0zm2 0zm-123 1zm50 0zm2 0zm1 0zm1 0zm35 0zm1 0zm23 0zm-104 1zm62 0zm7 0zm9 0zm11 0zm24 0zm1 0zm-136 1zm7 0zm21 0zm28 0zm9 0zm1 0zm28 0zm8 0zm1 0zm20 0zm13 0zm-114 1zm7 0zm2 0zm12 0zm17 0zm14 0zm13 0zm2 0zm12 0zm35 0zm-140 1zm66 0zm4 0zm6 0zm28 0zm2 0zm-106 1zm10 0zm25 0zm1 0zm1 0zm27 0zm6 0zm1 0zm34 0zm1 0zm18 0zm1 0zm15 0zm-141 1zm1 0zm68 0zm3 0zm32 0zm1 0zm1 0zm1 0zm3 0zm31 0zm-139 1zm4 0zm65 0zm7 0zm26 0zm2 0zm1 0zm1 0zm3 0zm30 0zm-119 1zm14 0zm35 0zm3 0zm18 0zm4 0zm9 0zm2 0zm2 0zm28 0zm1 0zm-137 1zm23 0zm1 0zm9 0zm40 0zm20 0zm10 0zm1 0zm4 0zm16 0zm14 0zm2 0zm-141 1zm13 0zm19 0zm3 0zm35 0zm2 0zm31 0zm3 0zm18 0zm5 0zm12 0zm-141 1zm1 0zm35 0zm33 0zm1 0zm1 0zm1 0zm3 0zm31 0zm1 0zm34 0zm-138 1zm30 0zm2 0zm21 0zm20 0zm28 0zm35 0zm1 0zm1 0zm-72 1zm2 0zm1 0zm1 0zm32 0zm2 0zm32 0z"/>
<path transform="scale(0.25)" class="p g" d="M2043 662zm-9 5zm-36 2zm-3 10zm2 2zm2 0zm45 1zm7 1zm-44 8zm-9 3zm15 2zm36 1zm9 13zm-46 5zm-84 3zm62 1zm20 3zm24 0zm29 2zm-67 1zm1 1zm5 0zm67 0zm-1 1zm-37 1zm108 1zm-142 1zm40 0zm-37 2zm-52 1zm28 0zm67 0zm-9 1zm-37 1zm0 1zm69 3zm-67 2zm-35 1zm31 0zm43 0zm-25 1zm-14 1zm-2 1zm1 0zm-36 1zm-33 1zm106 0zm-65 1zm-7 1zm37 0zm32 0zm-71 1zm16 0zm26 2zm-10 1zm66 0zm9 0zm-104 2zm71 0zm39 0zm-152 1zm41 0zm34 0zm1 0zm9 0zm26 1zm1 1zm35 0zm-37 1zm-46 1zm48 0zm-91 1zm88 0zm-35 1zm35 0zm38 0zm-108 1zm73 0zm35 0zm-62 1zm42 0zm-52 1zm1 0zm1 0zm36 0zm10 0zm24 0zm-88 1zm5 0zm1 0zm9 0zm-33 1zm30 0zm56 0zm19 0zm-160 1zm18 0zm1 0zm36 0zm1 0zm34 0zm27 0zm42 0zm1 0zm-63 1zm28 0zm-107 1zm36 0zm73 0zm32 0zm-105 1zm14 0zm8 0zm13 0zm1 0zm43 0zm8 0zm23 0zm-48 1zm-7 1zm13 0zm3 0zm37 0zm-106 1zm13 0zm18 0zm3 1zm1 0zm34 0zm8 0zm27 0zm-72 1zm25 0zm49 0zm-99 1zm27 0zm35 0zm-114 1zm55 0zm18 0zm5 0zm1 0zm37 0zm16 0zm-38 1zm58 0zm-73 1zm71 0zm-108 1zm36 0zm71 0zm-143 1zm1 0zm37 0zm35 0zm1 0zm-73 1zm3 1zm35 0zm70 0zm37 0zm-106 1zm68 0zm46 0zm-119 1zm37 0zm-35 1zm19 0zm9 0zm7 0zm37 0zm-107 1zm64 0zm3 0zm22 0zm20 0zm-109 1zm36 0zm34 0zm16 0zm16 0zm5 0zm-107 1zm59 0zm39 0zm-98 1zm35 0zm34 0zm36 0zm2 0zm-74 1zm1 0zm24 0zm13 0zm35 0zm10 0zm-39 1zm24 0zm7 0zm35 0zm-109 1zm1 0zm1 0zm34 0zm34 0zm3 0zm1 0zm1 0zm31 0zm1 0zm-140 1zm151 0zm-152 1zm25 0zm8 0zm1 0zm35 0zm13 0zm58 0zm-122 1zm17 0zm44 0zm29 0zm34 0zm-140 1zm63 0zm4 0zm37 0zm34 0zm11 0zm-115 1zm1 0zm52 0zm48 0zm6 0zm-111 1zm40 0zm69 0zm-174 1zm32 0zm48 0zm22 0zm3 0zm1 0zm9 0zm60 0zm10 0zm-167 1zm15 0zm36 0zm35 0zm-83 1zm35 0zm4 0zm41 0zm1 0zm2 0zm2 0zm4 0zm29 0zm1 0zm6 0zm27 0zm3 0zm-177 1zm105 0zm39 0zm-110 1zm1 0zm68 0zm4 0zm32 0zm13 0zm-84 1zm2 0zm63 0zm-116 1zm53 0zm14 0zm22 0zm34 0zm1 0zm30 0zm-102 1zm36 0zm45 0zm26 0zm1 0zm-142 1zm33 0zm1 0zm1 0zm34 0zm1 0zm2 0zm17 0zm52 0zm-78 1zm9 0zm41 0zm-115 1zm29 0zm13 0zm6 0zm21 0zm2 0zm16 0zm21 0zm-127 1zm22 0zm145 0zm-147 1zm1 0zm35 0zm6 0zm22 0zm6 0zm35 0zm1 0zm-106 1zm1 0zm23 0zm81 0zm8 0zm28 0zm-176 1zm35 0zm45 0zm60 0zm21 0zm15 0zm-108 1zm38 0zm1 0zm10 0zm24 0zm36 0zm1 0zm9 0zm-186 1zm33 0zm1 0zm36 0zm1 0zm33 0zm1 0zm21 0zm13 0zm5 0zm-92 1zm12 0zm7 0zm32 0zm39 0zm-143 1zm35 0zm71 0zm35 0zm14 0zm14 0zm-132 1zm71 0zm15 0zm60 0zm-149 1zm29 0zm8 0zm15 0zm55 0zm-140 1zm61 0zm18 0zm37 0zm24 0zm-107 1zm1 0zm1 0zm27 0zm8 0zm36 0zm38 0zm34 0zm-110 1zm1 0zm1 0zm20 0zm51 0zm35 0zm-156 1zm18 0zm5 0zm8 0zm19 0zm97 0zm-136 1zm3 0zm70 0zm-92 1zm22 0zm33 0zm41 0zm47 0zm20 0zm-159 1zm16 0zm1 0zm1 0zm1 0zm34 0zm1 0zm21 0zm15 0zm1 0zm5 0zm28 0zm-141 1zm34 0zm40 0zm1 0zm26 0zm75 0zm9 0zm-153 1zm38 0zm8 0zm4 0zm1 0zm18 0zm3 0zm1 0zm11 0zm11 0zm16 0zm34 0zm-154 1zm2 0zm9 0zm35 0zm2 0zm48 0zm22 0zm-106 1zm28 0zm4 0zm3 0zm2 0zm35 0zm1 0zm33 0zm2 0zm43 0zm-177 1zm13 0zm13 0zm2 0zm17 0zm20 0zm32 0zm38 0zm9 0zm-120 1zm56 0zm18 0zm34 0zm-113 1zm7 0zm35 0zm1 0zm36 0zm33 0zm21 0zm26 0zm-166 1zm40 0zm10 0zm72 0zm5 0zm28 0zm-176 1zm69 0zm13 0zm5 0zm3 0zm13 0zm3 0zm2 0zm34 0zm36 0zm-144 1zm-20 1zm19 0zm5 0zm34 0zm1 0zm1 0zm43 0zm24 0zm-108 1zm1 0zm33 0zm2 0zm38 0zm33 0zm3 0zm-108 1zm6 0zm22 0zm44 0zm35 0zm34 0zm-176 1zm13 0zm21 0zm4 0zm4 0zm30 0zm34 0zm71 0zm-142 1zm70 0zm1 0zm34 0zm3 0zm35 0zm-178 1zm1 0zm41 0zm3 0zm33 0zm19 0zm8 0zm20 0zm50 0zm-175 1zm31 0zm3 0zm1 0zm1 0zm35 0zm34 0zm2 0zm42 0zm-149 1zm26 0zm3 0zm6 0zm20 0zm15 0zm1 0zm35 0zm-106 1zm35 0zm36 0zm1 0zm18 0zm14 0zm2 0zm14 0zm14 0zm-97 1zm23 0zm7 0zm38 0zm81 0zm-184 1zm32 0zm35 0zm31 0zm7 0zm23 0zm4 0zm-98 1zm12 0zm22 0zm2 0zm36 0zm33 0zm-139 1zm32 0zm32 0zm6 0zm3 0zm30 0zm-100 1zm12 0zm10 0zm8 0zm1 0zm9 0zm9 0zm15 0zm1 0zm26 0zm20 0zm25 0zm36 0zm-176 1zm21 0zm60 0zm24 0zm64 0zm-137 1zm2 0zm37 0zm11 0zm22 0zm3 0zm35 0zm10 0zm-90 1zm8 0zm33 0zm4 0zm34 0zm-142 1zm35 0zm35 0zm15 0zm22 0zm14 0zm42 0zm-163 1zm4 0zm12 0zm17 0zm1 0zm18 0zm12 0zm41 0zm1 0zm19 0zm50 0zm-174 1zm3 0zm12 0zm19 0zm40 0zm34 0zm12 0zm-88 1zm3 0zm33 0zm1 0zm10 0zm26 0zm10 0zm3 0zm-118 1zm31 0zm4 0zm34 0zm1 0zm1 0zm35 0zm49 0zm20 0zm2 0zm-178 1zm33 0zm2 0zm2 0zm34 0zm1 0zm1 0zm19 0zm15 0zm60 0zm8 0zm3 0zm-177 1zm11 0zm1 0zm21 0zm2 0zm17 0zm17 0zm2 0zm16 0zm39 0zm13 0zm-139 1zm32 0zm1 0zm1 0zm28 0zm5 0zm1 0zm16 0zm20 0zm71 0zm-171 1zm28 0zm4 0zm3 0zm18 0zm12 0zm2 0zm4 0zm6 0zm7 0zm39 0zm12 0zm-140 1zm1 0zm88 0zm-88 1zm31 0zm27 0zm4 0zm19 0zm13 0zm6 0zm6 0zm5 0zm74 0zm-185 1zm7 0zm2 0zm60 0zm9 0zm61 0zm-139 1zm22 0zm8 0zm3 0zm13 0zm21 0zm2 0zm3 0zm34 0zm20 0zm14 0zm37 0zm-176 1zm18 0zm5 0zm7 0zm2 0zm35 0zm2 0zm11 0zm59 0zm1 0zm-140 1zm17 0zm51 0zm3 0zm3 0zm28 0zm1 0zm5 0zm17 0zm-94 1zm1 0zm1 0zm2 0zm20 0zm13 0zm3 0zm9 0zm24 0zm1 0zm-99 1zm7 0zm20 0zm71 0zm15 0zm-120 1zm23 0zm11 0zm1 0zm14 0zm20 0zm1 0zm10 0zm23 0zm12 0zm-106 1zm28 0zm7 0zm12 0zm13 0zm1 0zm1 0zm14 0zm18 0zm1 0zm2 0zm32 0zm-139 1zm2 0zm6 0zm26 0zm2 0zm8 0zm2 0zm11 0zm20 0zm41 0zm22 0zm-103 1zm20 0zm12 0zm1 0zm4 0zm41 0zm59 0zm-174 1zm33 0zm2 0zm25 0zm12 0zm5 0zm8 0zm19 0zm39 0zm-143 1zm35 0zm1 0zm32 0zm1 0zm2 0zm27 0zm7 0zm37 0zm-142 1zm1 0zm33 0zm1 0zm36 0zm33 0zm1 0zm37 0zm5 0zm-147 1zm1 0zm1 0zm30 0zm2 0zm1 0zm34 0zm1 0zm1 0zm1 0zm6 0zm38 0zm10 0zm32 0zm-158 1zm51 0zm19 0zm1 0zm1 0zm32 0zm75 0zm-160 1zm3 0zm4 0zm31 0zm14 0zm7 0zm26 0zm53 0zm-124 1zm1 0zm2 0zm34 0zm1 0zm2 0zm32 0zm38 0zm-143 1zm18 0zm18 0zm30 0zm4 0zm1 0zm35 0zm-106 1zm16 0zm9 0zm3 0zm7 0zm6 0zm27 0zm3 0zm13 0zm22 0zm34 0zm2 0zm-107 1zm1 0zm17 0zm4 0zm31 0zm14 0zm3 0zm1 0zm16 0zm50 0zm-172 1zm24 0zm9 0zm1 0zm1 0zm1 0zm35 0zm34 0zm2 0zm31 0zm-138 1zm1 0zm16 0zm18 0zm1 0zm11 0zm23 0zm-60 1zm15 0zm9 0zm1 0zm3 0zm9 0zm6 0zm15 0zm1 0zm71 0zm-140 1zm1 0zm32 0zm1 0zm44 0zm8 0zm6 0zm12 0zm36 0zm-140 1zm36 0zm10 0zm3 0zm20 0zm2 0zm35 0zm16 0zm-91 1zm2 0zm1 0zm1 0zm1 0zm10 0zm25 0zm23 0zm1 0zm12 0zm26 0zm-133 1zm13 0zm7 0zm15 0zm2 0zm25 0zm7 0zm1 0zm1 0zm1 0zm34 0zm26 0zm-120 1zm23 0zm1 0zm36 0zm1 0zm34 0zm43 0zm-150 1zm31 0zm4 0zm11 0zm24 0zm2 0zm10 0zm23 0zm-88 1zm5 0zm3 0zm25 0zm24 0zm9 0zm29 0zm72 0zm-184 1zm11 0zm22 0zm2 0zm2 0zm12 0zm23 0zm8 0zm25 0zm2 0zm-107 1zm12 0zm23 0zm1 0zm27 0zm7 0zm1 0zm18 0zm15 0zm5 0zm-109 1zm1 0zm17 0zm3 0zm13 0zm1 0zm14 0zm11 0zm14 0zm7 0zm16 0zm7 0zm2 0zm45 0zm-151 1zm35 0zm29 0zm6 0zm2 0zm35 0zm34 0zm-141 1zm18 0zm7 0zm7 0zm2 0zm1 0zm1 0zm33 0zm35 0zm4 0zm1 0zm33 0zm38 0zm-178 1zm8 0zm5 0zm12 0zm7 0zm1 0zm38 0zm32 0zm1 0zm-106 1zm1 0zm1 0zm32 0zm2 0zm34 0zm1 0zm35 0zm-89 1zm14 0zm4 0zm1 0zm10 0zm17 0zm12 0zm-75 1zm1 0zm30 0zm2 0zm37 0zm1 0zm70 0zm-141 1zm2 0zm6 0zm20 0zm5 0zm3 0zm70 0zm-106 1zm2 0zm31 0zm1 0zm1 0zm1 0zm1 0zm14 0zm10 0zm26 0zm33 0zm-119 1zm26 0zm7 0zm2 0zm31 0zm3 0zm1 0zm27 0zm6 0zm-104 1zm1 0zm53 0zm1 0zm9 0zm5 0zm2 0zm1 0zm2 0zm31 0zm-105 1zm3 0zm11 0zm54 0zm4 0zm67 0zm-138 1zm1 0zm18 0zm50 0zm1 0zm15 0zm-81 1zm1 0zm28 0zm1 0zm14 0zm18 0zm-66 1zm15 0zm20 0zm1 0zm14 0zm26 0zm-75 1zm6 0zm27 0zm37 0zm43 0zm28 0zm-108 1zm2 0zm4 0zm13 0zm16 0zm1 0zm1 0zm-72 1zm2 0zm17 0zm14 0zm1 0zm1 0zm3 0zm30 0zm5 0zm3 0zm26 0zm7 0zm40 0zm-149 1zm11 0zm9 0zm6 0zm9 0zm-33 1zm26 0zm6 0zm1 0zm15 0zm82 0zm-131 1zm1 0zm3 0zm28 0zm37 0zm9 0zm1 0zm62 0zm-118 1zm9 0zm3 0zm26 0zm9 0zm1 0zm-71 1zm17 0zm17 0zm1 0zm1 0zm51 0zm17 0zm-72 1zm1 0zm1 0zm3 0zm2 0zm30 0zm1 0zm11 0zm6 0zm18 0zm-90 1zm18 0zm1 0zm2 0zm12 0zm9 0zm10 0zm38 0zm1 0zm-107 1zm4 0zm5 0zm-8 1zm1 0zm5 0zm6 0zm8 0zm13 0zm3 0zm6 0zm-43 1zm34 0zm2 0zm35 0zm35 0zm-92 1zm4 0zm16 0zm73 0z"/>
<path transform="scale(0.25)" class="p o" d="M1894 928zm32 0zm1 0zm33 0zm1 0zm-69 1zm5 0zm30 0zm1 0zm27 0zm11 0zm-74 1zm1 0zm16 0zm16 0zm1 0zm15 0zm22 0zm2 0zm34 0zm-107 1zm1 0zm1 0zm1 0zm7 0zm25 0zm3 0zm14 0zm22 0zm44 0zm-118 1zm2 0zm10 0zm44 0zm-56 1zm1 0zm105 0zm-106 1zm16 0zm22 0zm46 0zm23 0zm-106 1zm2 0zm11 0zm19 0zm2 0zm7 0zm30 0zm-72 1zm12 0zm1 0zm20 0zm1 0zm24 0zm-23 1zm34 0zm1 0zm-70 1zm12 0zm23 0zm7 0zm29 0zm33 0zm-104 1zm2 0zm7 0zm12 0zm14 0zm-35 1zm16 0zm19 0zm13 0zm21 0zm2 0zm-71 1zm71 0zm33 0zm17 0zm-86 1zm1 0zm-36 1zm5 0zm12 0zm17 0zm14 0zm24 0zm8 0zm-79 1zm2 0zm13 0zm6 0zm6 0zm3 0zm12 0zm30 0zm31 0zm-104 1zm17 0zm18 0zm2 0zm34 0zm-70 1zm35 0zm21 0zm-57 1zm1 0zm2 0zm34 0zm3 0zm45 0zm-77 1zm11 0zm7 0zm9 0zm46 0zm-64 1zm17 0zm1 0zm1 0zm-36 1zm0 1zm2 0zm4 0zm8 0zm8 0zm43 0zm44 0zm10 0zm-119 1zm9 0zm6 0zm1 0zm19 0zm103 0zm-112 1zm8 0zm3 0zm-37 1zm1 0zm55 0zm12 0zm3 0zm-57 1zm23 0zm1 0zm33 0zm-59 1zm7 0zm87 0zm-106 1zm1 0zm3 0zm26 0zm5 0zm1 0zm7 0zm21 0zm-61 1zm34 0zm34 0zm-70 1zm26 0zm5 0zm2 0zm3 0zm25 0zm105 0zm-167 1zm28 0zm5 0zm2 0zm1 0zm13 0zm20 0zm3 0zm-71 1zm7 0zm25 0zm1 0zm1 0zm9 0zm-44 1zm5 0zm1 0zm8 0zm23 0zm2 0zm31 0zm16 0zm-84 1zm19 0zm12 0zm1 0zm2 0zm51 0zm-65 1zm10 0zm2 0zm1 0zm5 0zm-39 1zm2 0zm31 0zm1 0zm1 0zm5 0zm-6 1zm-7 1zm6 0zm36 0zm-70 1zm15 0zm3 0zm3 0zm50 0zm-69 1zm34 0zm29 0zm-64 1zm43 0zm27 0zm-71 1zm34 0zm1 0zm1 0zm36 0zm15 0zm-86 1zm2 0zm32 0zm2 0zm33 0zm-69 1zm15 0zm20 0zm-36 1zm26 0zm-22 1zm11 0zm20 0zm35 0zm3 0zm-73 1zm20 0zm-10 1zm1 0zm15 0zm3 0zm5 0zm15 1zm-22 1zm41 0zm-33 1zm2 0zm-37 1zm3 0zm54 0zm-43 1zm8 0zm15 0zm-36 1zm8 0zm25 0zm1 0zm3 0zm-36 1zm34 0zm9 0zm24 0zm13 0zm-48 1zm37 0zm34 1zm-91 1zm22 2zm35 0zm-36 1zm1 0zm-36 1zm35 0zm-35 2zm9 0zm-9 1zm35 0zm1 2zm-36 1zm1 0zm35 0zm-35 1zm9 0zm61 2zm-58 1zm21 1zm12 0zm-19 1zm7 0zm36 0zm-14 1zm21 0zm-41 2zm41 0zm-43 1zm-12 1zm-22 1zm36 0zm-32 1zm31 1zm-33 1zm33 0zm-35 1zm22 0zm-17 1zm29 0zm5 0zm-35 1zm31 0zm17 1zm-39 1zm-13 1zm5 1zm-5 1zm26 0zm47 0zm-73 2zm5 0zm8 1zm20 0zm-33 1zm34 0zm2 0zm-1 1zm-35 2zm10 1zm22 0zm-32 1zm1 0z"/>
<path transform="scale(0.25)" class="p b" d="M1786 928zm6 0zm27 0zm3 0zm34 0zm23 0zm11 0zm1 0zm-106 1zm26 0zm18 0zm27 0zm1 0zm26 0zm4 0zm4 0zm-106 1zm1 0zm1 0zm14 0zm18 0zm2 0zm10 0zm10 0zm14 0zm1 0zm1 0zm33 0zm-106 1zm2 0zm1 0zm8 0zm26 0zm11 0zm17 0zm6 0zm3 0zm27 0zm4 0zm2 0zm-102 1zm31 0zm35 0zm1 0zm1 0zm5 0zm21 0zm8 0zm1 0zm-141 1zm34 0zm22 0zm13 0zm1 0zm34 0zm1 0zm1 0zm25 0zm9 0zm-107 1zm2 0zm35 0zm1 0zm23 0zm5 0zm5 0zm5 0zm30 0zm-140 1zm1 0zm10 0zm17 0zm6 0zm37 0zm3 0zm29 0zm2 0zm2 0zm22 0zm8 0zm2 0zm1 0zm1 0zm-131 1zm53 0zm8 0zm18 0zm4 0zm12 0zm1 0zm35 0zm-97 1zm25 0zm3 0zm23 0zm1 0zm10 0zm35 0zm-105 1zm16 0zm20 0zm18 0zm2 0zm11 0zm37 0zm-104 1zm35 0zm2 0zm16 0zm16 0zm1 0zm1 0zm3 0zm24 0zm6 0zm-125 1zm17 0zm40 0zm18 0zm17 0zm1 0zm1 0zm7 0zm2 0zm-118 1zm35 0zm38 0zm6 0zm6 0zm15 0zm8 0zm6 0zm9 0zm18 0zm-141 1zm62 0zm2 0zm43 0zm3 0zm-104 1zm29 0zm24 0zm11 0zm26 0zm8 0zm1 0zm1 0zm2 0zm1 0zm15 0zm6 0zm10 0zm1 0zm-141 1zm19 0zm15 0zm1 0zm12 0zm13 0zm10 0zm2 0zm35 0zm2 0zm13 0zm7 0zm12 0zm-106 1zm1 0zm1 0zm34 0zm35 0zm4 0zm8 0zm-106 1zm21 0zm2 0zm27 0zm9 0zm33 0zm3 0zm9 0zm13 0zm4 0zm7 0zm-138 1zm5 0zm61 0zm1 0zm1 0zm2 0zm1 0zm32 0zm3 0zm8 0zm25 0zm-141 1zm35 0zm2 0zm2 0zm14 0zm2 0zm26 0zm12 0zm12 0zm2 0zm-105 1zm28 0zm38 0zm4 0zm2 0zm1 0zm14 0zm8 0zm8 0zm1 0zm1 0zm9 0zm20 0zm-135 1zm1 0zm19 0zm12 0zm6 0zm30 0zm2 0zm4 0zm26 0zm7 0zm27 0zm4 0zm2 0zm-82 1zm10 0zm3 0zm2 0zm3 0zm4 0zm15 0zm1 0zm30 0zm2 0zm11 0zm-140 1zm1 0zm32 0zm1 0zm3 0zm10 0zm8 0zm14 0zm1 0zm2 0zm34 0zm30 0zm-124 1zm5 0zm52 0zm1 0zm1 0zm1 0zm2 0zm19 0zm13 0zm1 0zm1 0zm8 0zm24 0zm1 0zm-140 1zm1 0zm9 0zm24 0zm17 0zm12 0zm6 0zm16 0zm20 0zm4 0zm9 0zm-101 1zm14 0zm4 0zm12 0zm7 0zm15 0zm1 0zm34 0zm2 0zm1 0zm31 0zm2 0zm-130 1zm14 0zm5 0zm33 0zm9 0zm1 0zm14 0zm10 0zm10 0zm3 0zm26 0zm-129 1zm27 0zm1 0zm3 0zm5 0zm28 0zm20 0zm15 0zm-103 1zm23 0zm8 0zm4 0zm27 0zm5 0zm1 0zm2 0zm17 0zm2 0zm6 0zm3 0zm3 0zm1 0zm1 0zm15 0zm20 0zm1 0zm-108 1zm36 0zm1 0zm1 0zm11 0zm5 0zm4 0zm15 0zm18 0zm14 0zm1 0zm1 0zm-110 1zm5 0zm30 0zm7 0zm15 0zm17 0zm4 0zm-109 1zm34 0zm1 0zm2 0zm9 0zm28 0zm32 0zm1 0zm12 0zm21 0zm-139 1zm2 0zm26 0zm5 0zm36 0zm1 0zm1 0zm32 0zm1 0zm1 0zm-70 1zm1 0zm26 0zm1 0zm6 0zm11 0zm5 0zm11 0zm9 0zm1 0zm10 0zm4 0zm-121 1zm35 0zm33 0zm1 0zm1 0zm3 0zm32 0zm25 0zm11 0zm-141 1zm37 0zm31 0zm2 0zm1 0zm1 0zm1 0zm3 0zm31 0zm-107 1zm1 0zm10 0zm23 0zm3 0zm2 0zm2 0zm1 0zm6 0zm21 0zm1 0zm1 0zm12 0zm6 0zm17 0zm1 0zm-107 1zm3 0zm11 0zm20 0zm2 0zm1 0zm3 0zm25 0zm5 0zm19 0zm17 0zm2 0zm11 0zm21 0zm-138 1zm4 0zm3 0zm10 0zm17 0zm9 0zm19 0zm5 0zm3 0zm36 0zm12 0zm11 0zm8 0zm-138 1zm10 0zm5 0zm16 0zm2 0zm1 0zm1 0zm1 0zm4 0zm6 0zm58 0zm2 0zm1 0zm14 0zm13 0zm-130 1zm30 0zm1 0zm35 0zm24 0zm9 0zm35 0zm-139 1zm1 0zm1 0zm7 0zm5 0zm3 0zm18 0zm2 0zm10 0zm2 0zm15 0zm5 0zm1 0zm1 0zm3 0zm9 0zm24 0zm10 0zm22 0zm2 0zm-140 1zm34 0zm1 0zm1 0zm15 0zm17 0zm1 0zm25 0zm13 0zm19 0zm5 0zm7 0zm2 0zm-140 1zm2 0zm1 0zm4 0zm8 0zm4 0zm17 0zm6 0zm26 0zm2 0zm1 0zm17 0zm17 0zm4 0zm30 0zm-119 1zm12 0zm2 0zm1 0zm1 0zm9 0zm23 0zm3 0zm-60 1zm9 0zm6 0zm5 0zm20 0zm3 0zm11 0zm5 0zm1 0zm10 0zm24 0zm7 0zm8 0zm11 0zm10 0zm-140 1zm1 0zm10 0zm21 0zm1 0zm1 0zm2 0zm1 0zm3 0zm1 0zm9 0zm16 0zm1 0zm2 0zm16 0zm14 0zm4 0zm4 0zm19 0zm12 0zm2 0zm-141 1zm1 0zm14 0zm5 0zm15 0zm36 0zm1 0zm33 0zm-106 1zm4 0zm21 0zm9 0zm1 0zm13 0zm20 0zm2 0zm1 0zm1 0zm7 0zm20 0zm5 0zm2 0zm1 0zm1 0zm27 0zm6 0zm-140 1zm1 0zm1 0zm55 0zm12 0zm18 0zm15 0zm3 0zm1 0zm1 0zm33 0zm-141 1zm2 0zm32 0zm2 0zm2 0zm8 0zm24 0zm1 0zm2 0zm1 0zm66 0zm-138 1zm15 0zm17 0zm1 0zm1 0zm2 0zm9 0zm5 0zm18 0zm21 0zm13 0zm2 0zm1 0zm34 0zm-141 1zm1 0zm1 0zm1 0zm5 0zm6 0zm20 0zm3 0zm4 0zm28 0zm2 0zm1 0zm3 0zm13 0zm3 0zm13 0zm1 0zm1 0zm35 0zm-141 1zm35 0zm1 0zm4 0zm2 0zm2 0zm28 0zm54 0zm15 0zm-132 1zm6 0zm19 0zm10 0zm4 0zm23 0zm7 0zm10 0zm5 0zm12 0zm36 0zm-140 1zm11 0zm24 0zm1 0zm3 0zm28 0zm5 0zm15 0zm18 0zm1 0zm15 0zm18 0zm-133 1zm11 0zm16 0zm17 0zm18 0zm1 0zm1 0zm1 0zm37 0zm20 0zm10 0zm2 0zm-140 1zm1 0zm1 0zm34 0zm7 0zm4 0zm1 0zm20 0zm1 0zm1 0zm11 0zm23 0zm7 0zm6 0zm1 0zm16 0zm-134 1zm10 0zm33 0zm21 0zm1 0zm4 0zm36 0zm-95 1zm10 0zm2 0zm5 0zm3 0zm3 0zm1 0zm1 0zm4 0zm18 0zm13 0zm6 0zm30 0zm3 0zm-109 1zm9 0zm4 0zm20 0zm2 0zm1 0zm4 0zm25 0zm4 0zm14 0zm-83 1zm7 0zm4 0zm25 0zm27 0zm4 0zm1 0zm2 0zm5 0zm24 0zm6 0zm25 0zm10 0zm-125 1zm19 0zm1 0zm1 0zm2 0zm33 0zm33 0zm12 0zm-115 1zm32 0zm1 0zm1 0zm2 0zm7 0zm3 0zm22 0zm36 0zm34 0zm-137 1zm5 0zm6 0zm16 0zm6 0zm11 0zm19 0zm4 0zm6 0zm11 0zm19 0zm25 0zm10 0zm-141 1zm1 0zm1 0zm25 0zm8 0zm2 0zm32 0zm7 0zm28 0zm2 0zm35 0zm-140 1zm1 0zm2 0zm8 0zm5 0zm16 0zm1 0zm2 0zm6 0zm29 0zm36 0zm4 0zm-100 1zm6 0zm18 0zm7 0zm37 0zm12 0zm51 0zm-119 1zm10 0zm39 0zm33 0zm3 0zm-106 1zm2 0zm8 0zm19 0zm3 0zm3 0zm33 0zm-69 1zm1 0zm7 0zm2 0zm15 0zm9 0zm36 0zm69 0zm1 0zm-140 1zm1 0zm15 0zm1 0zm16 0zm1 0zm1 0zm20 0zm10 0zm6 0zm27 0zm6 0zm2 0zm2 0zm-108 1zm5 0zm24 0zm3 0zm1 0zm1 0zm1 0zm2 0zm20 0zm12 0zm71 0zm-141 1zm2 0zm4 0zm11 0zm3 0zm11 0zm3 0zm1 0zm18 0zm8 0zm10 0zm34 0zm-104 1zm1 0zm1 0zm4 0zm18 0zm9 0zm2 0zm36 0zm2 0zm7 0zm7 0zm18 0zm-98 1zm5 0zm3 0zm19 0zm33 0zm1 0zm1 0zm2 0zm33 0zm1 0zm-106 1zm1 0zm1 0zm2 0zm16 0zm3 0zm12 0zm1 0zm1 0zm22 0zm11 0zm39 0zm-109 1zm1 0zm1 0zm32 0zm2 0zm1 0zm1 0zm16 0zm16 0zm2 0zm5 0zm10 0zm4 0zm-90 1zm34 0zm1 0zm1 0zm2 0zm11 0zm19 0zm1 0zm37 0zm12 0zm21 0zm1 0zm-141 1zm1 0zm1 0zm1 0zm3 0zm29 0zm4 0zm4 0zm3 0zm8 0zm16 0zm1 0zm9 0zm15 0zm8 0zm37 0zm1 0zm-126 1zm6 0zm3 0zm11 0zm1 0zm23 0zm12 0zm1 0zm33 0zm1 0zm-105 1zm2 0zm3 0zm2 0zm9 0zm6 0zm11 0zm1 0zm1 0zm35 0zm34 0zm1 0zm1 0zm1 0zm-108 1zm1 0zm1 0zm33 0zm1 0zm4 0zm11 0zm19 0zm7 0zm28 0zm-105 1zm1 0zm6 0zm21 0zm10 0zm3 0zm15 0zm14 0zm1 0zm8 0zm4 0zm25 0zm-108 1zm1 0zm1 0zm2 0zm11 0zm17 0zm3 0zm12 0zm9 0zm15 0zm11 0zm25 0zm-107 1zm1 0zm2 0zm5 0zm17 0zm10 0zm1 0zm1 0zm1 0zm68 0zm34 0zm-139 1zm1 0zm66 0zm4 0zm15 0zm13 0zm6 0zm-105 1zm26 0zm6 0zm1 0zm1 0zm1 0zm14 0zm1 0zm2 0zm5 0zm13 0zm41 0zm3 0zm-115 1zm1 0zm7 0zm22 0zm3 0zm1 0zm1 0zm1 0zm1 0zm14 0zm49 0zm7 0zm-106 1zm1 0zm9 0zm57 0zm2 0zm1 0zm6 0zm-77 1zm1 0zm2 0zm33 0zm6 0zm1 0zm29 0zm68 0zm-139 1zm1 0zm20 0zm12 0zm1 0zm6 0zm55 0zm8 0zm28 0zm-132 1zm1 0zm32 0zm3 0zm15 0zm19 0zm2 0zm33 0zm-104 1zm1 0zm2 0zm1 0zm21 0zm8 0zm1 0zm2 0zm1 0zm40 0zm-78 1zm2 0zm1 0zm4 0zm19 0zm8 0zm1 0zm33 0zm24 0zm-91 1zm1 0zm13 0zm20 0zm2 0zm14 0zm43 0zm46 0zm-140 1zm1 0zm3 0zm20 0zm1 0zm10 0zm35 0zm3 0zm5 0zm2 0zm11 0zm16 0zm-106 1zm2 0zm4 0zm3 0zm25 0zm1 0zm1 0zm10 0zm26 0zm15 0zm19 0zm2 0zm-109 1zm5 0zm6 0zm24 0zm35 0zm1 0zm17 0zm53 0zm-140 1zm3 0zm29 0zm3 0zm2 0zm34 0zm5 0zm35 0zm-111 1zm1 0zm27 0zm4 0zm1 0zm1 0zm34 0z"/>
</g>
<path class="ax" d="M437.5 257.5H543.7M437.5 257.5V160.5M437.5 257.5v1.8M446.4 257.5v1.0M455.2 257.5v1.8M464.1 257.5v1.0M472.9 257.5v1.8M481.8 257.5v1.0M490.6 257.5v1.8M499.4 257.5v1.0M508.3 257.5v1.8M517.1 257.5v1.0M526.0 257.5v1.8M534.9 257.5v1.0M543.7 257.5v1.8M437.5 257.5h-1.8M437.5 251.1h-1.0M437.5 244.6h-1.8M437.5 238.2h-1.0M437.5 231.8h-1.8M437.5 225.3h-1.0M437.5 218.9h-1.8M437.5 212.5h-1.0M437.5 206.1h-1.8M437.5 199.6h-1.0M437.5 193.2h-1.8M437.5 186.8h-1.0M437.5 180.3h-1.8M437.5 173.9h-1.0M437.5 167.5h-1.8"/>
<g class="tl" text-anchor="middle"><text transform="translate(437.5 264.3)scale(.8 1)">0</text><text transform="translate(455.2 264.3)scale(.8 1)">2</text><text transform="translate(472.9 264.3)scale(.8 1)">4</text><text transform="translate(490.6 264.3)scale(.8 1)">6</text><text transform="translate(508.3 264.3)scale(.8 1)">8</text><text transform="translate(526.0 264.3)scale(.8 1)">10</text><text transform="translate(543.7 264.3)scale(.8 1)">12</text></g>
<g class="tl" text-anchor="end"><text transform="translate(435.2 259.1)scale(.8 1)">0</text><text transform="translate(435.2 246.2)scale(.8 1)">2</text><text transform="translate(435.2 233.4)scale(.8 1)">4</text><text transform="translate(435.2 220.5)scale(.8 1)">6</text><text transform="translate(435.2 207.7)scale(.8 1)">8</text><text transform="translate(435.2 194.8)scale(.8 1)">10</text><text transform="translate(435.2 181.9)scale(.8 1)">12</text><text transform="translate(435.2 169.1)scale(.8 1)">14</text></g>
<path class="rl" d="M437.5 257.5L534.9 186.8"/>
<text class="at" x="475.5" y="271.9" textLength="29.6" lengthAdjust="spacingAndGlyphs">Actual Distance</text>
<text class="at" transform="translate(429.7 207.8)rotate(-90)" x="-18.6" y="0" textLength="37.1" lengthAdjust="spacingAndGlyphs">Prediction Distance</text>
<text class="rt" transform="translate(451.8 164.5)scale(0.89 1)">R=0.9317</text>
<text class="rt" transform="translate(451.8 170.3)scale(0.89 1)">slope=0.9989</text>
<text class="cap" transform="translate(495.1 289.0)scale(.94 1)">(h) TADW</text>
<g filter="url(#bl)">
<path transform="scale(0.25)" class="p r" d="M206 1371zm-68 1zm22 5zm40 6zm-38 4zm24 12zm13 0zm-27 7zm34 1zm-71 2zm36 1zm18 0zm-2 1zm19 0zm-34 1zm-70 1zm69 0zm-1 1zm1 3zm1 1zm0 1zm33 2zm-104 2zm70 0zm1 0zm34 0zm-69 4zm54 1zm4 0zm11 0zm-43 1zm-28 1zm37 0zm35 0zm-35 1zm34 0zm1 0zm-18 1zm16 0zm1 0zm-47 1zm14 0zm-1 1zm34 0zm1 0zm-38 1zm3 0zm-29 2zm63 0zm-70 1zm36 0zm33 0zm1 0zm-107 1zm21 1zm52 0zm34 1zm-83 1zm70 0zm14 0zm-36 1zm1 0zm1 0zm33 0zm-77 1zm42 0zm4 0zm31 0zm-1 1zm1 0zm-1 1zm1 0zm-68 1zm57 0zm-127 1zm34 0zm10 0zm24 0zm34 0zm-105 2zm70 0zm1 0zm3 0zm-4 1zm1 0zm35 0zm-9 1zm7 0zm2 0zm1 0zm3 0zm1 0zm2 0zm25 0zm3 0zm-105 1zm32 0zm38 0zm2 0zm11 0zm-118 1zm20 0zm85 0zm1 0zm1 0zm26 0zm1 0zm6 0zm-71 1zm1 0zm34 0zm1 0zm23 0zm11 0zm-122 1zm18 0zm33 0zm1 0zm35 0zm1 0zm29 0zm4 0zm1 0zm-139 1zm30 0zm5 0zm3 0zm68 0zm1 0zm3 0zm30 0zm1 0zm-85 1zm4 0zm10 0zm22 0zm47 0zm1 0zm-141 1zm36 0zm2 0zm35 0zm27 0zm6 0zm3 0zm6 0zm26 0zm-127 1zm64 0zm27 0zm2 0zm1 0zm31 0zm-79 1zm10 0zm1 0zm2 0zm5 0zm26 0zm3 0zm2 0zm8 0zm20 0zm3 0zm-69 1zm29 0zm20 0zm5 0zm3 0zm-116 1zm23 0zm31 0zm2 0zm3 0zm1 0zm7 0zm9 0zm16 0zm5 0zm8 0zm24 0zm-120 1zm3 0zm75 0zm1 0zm6 0zm1 0zm1 0zm32 0zm-106 1zm1 0zm36 0zm2 0zm8 0zm17 0zm9 0zm18 0zm5 0zm-85 1zm13 0zm51 0zm27 0zm5 0zm-136 1zm74 0zm28 0zm8 0zm3 0zm20 0zm-138 1zm1 0zm33 0zm31 0zm17 0zm23 0zm18 0zm7 0zm9 0zm2 0zm-134 1zm1 0zm5 0zm7 0zm24 0zm21 0zm4 0zm2 0zm35 0zm2 0zm9 0zm16 0zm8 0zm-107 1zm38 0zm34 0zm1 0zm1 0zm1 0zm10 0zm13 0zm8 0zm1 0zm1 0zm-72 1zm1 0zm12 0zm9 0zm13 0zm30 0zm6 0zm-106 1zm2 0zm34 0zm1 0zm13 0zm11 0zm12 0zm32 0zm-124 1zm19 0zm1 0zm3 0zm34 0zm4 0zm16 0zm11 0zm1 0zm1 0zm24 0zm9 0zm1 0zm2 0zm-106 1zm1 0zm14 0zm4 0zm15 0zm2 0zm23 0zm9 0zm2 0zm1 0zm1 0zm18 0zm10 0zm5 0zm-106 1zm1 0zm1 0zm30 0zm3 0zm2 0zm35 0zm1 0zm33 0zm-70 1zm22 0zm13 0zm2 0zm30 0zm3 0zm-107 1zm20 0zm16 0zm4 0zm30 0zm1 0zm1 0zm19 0zm2 0zm14 0zm1 0zm-96 1zm25 0zm15 0zm15 0zm4 0zm1 0zm1 0zm11 0zm23 0zm-126 1zm21 0zm20 0zm2 0zm11 0zm1 0zm15 0zm14 0zm6 0zm1 0zm19 0zm9 0zm1 0zm6 0zm-140 1zm15 0zm19 0zm33 0zm3 0zm26 0zm10 0zm7 0zm27 0zm-140 1zm72 0zm16 0zm16 0zm1 0zm3 0zm31 0zm1 0zm1 0zm-141 1zm8 0zm26 0zm27 0zm9 0zm1 0zm1 0zm9 0zm13 0zm5 0zm3 0zm3 0zm1 0zm1 0zm20 0zm13 0zm-133 1zm26 0zm1 0zm36 0zm11 0zm22 0zm2 0zm22 0zm10 0zm3 0zm-140 1zm6 0zm27 0zm1 0zm3 0zm25 0zm5 0zm5 0zm19 0zm14 0zm4 0zm29 0zm1 0zm-130 1zm25 0zm1 0zm2 0zm22 0zm28 0zm5 0zm10 0zm27 0zm1 0zm11 0z"/>
<path transform="scale(0.25)" class="p g" d="M386 1261zm-16 3zm4 4zm9 3zm2 11zm-4 2zm-29 1zm-78 5zm112 0zm-125 1zm87 0zm35 0zm-35 1zm21 0zm13 0zm1 1zm-48 1zm4 2zm-25 1zm34 1zm-36 5zm42 0zm30 1zm-36 3zm35 0zm2 0zm-71 1zm32 0zm36 0zm12 1zm-50 1zm38 0zm2 0zm-82 2zm46 0zm1 0zm41 0zm-62 3zm55 0zm-1 2zm-67 1zm35 0zm-36 1zm36 0zm-38 1zm36 0zm0 2zm46 2zm-97 1zm17 0zm33 0zm1 0zm2 0zm41 0zm-44 1zm1 0zm46 0zm-10 2zm-35 2zm-31 1zm13 0zm52 0zm11 0zm-94 1zm12 0zm40 0zm11 0zm20 0zm-71 1zm3 0zm19 0zm14 1zm36 0zm-69 1zm33 0zm10 0zm-43 2zm35 0zm44 0zm-116 1zm35 1zm35 0zm38 0zm-72 1zm33 0zm22 0zm-90 1zm35 0zm26 0zm45 0zm-4 1zm2 0zm1 0zm-71 1zm45 0zm24 0zm3 0zm-71 1zm33 0zm3 1zm33 0zm-105 1zm37 0zm8 0zm27 0zm8 0zm36 0zm-9 1zm9 0zm-152 1zm76 0zm32 0zm32 0zm3 0zm-72 1zm34 0zm-84 1zm49 0zm1 0zm1 0zm35 0zm14 0zm21 0zm-70 1zm69 0zm-143 1zm71 0zm39 0zm-44 1zm2 0zm5 0zm1 0zm34 0zm22 0zm-63 1zm78 0zm-106 1zm34 0zm12 0zm26 0zm32 0zm-104 1zm22 0zm1 0zm13 0zm41 0zm17 0zm11 0zm1 0zm-88 1zm18 0zm35 0zm-73 1zm71 0zm1 0zm-1 1zm2 0zm-110 1zm71 0zm2 0zm22 0zm9 0zm40 0zm-141 1zm34 0zm66 0zm4 0zm-104 1zm52 0zm17 0zm9 0zm27 0zm1 0zm33 0zm4 0zm-143 1zm34 0zm19 0zm17 0zm34 0zm1 0zm2 0zm7 0zm-68 1zm12 0zm10 0zm16 0zm14 0zm6 0zm37 0zm-109 1zm4 0zm33 0zm4 0zm11 0zm-68 1zm54 0zm34 0zm3 0zm5 0zm-43 1zm24 0zm14 0zm10 0zm-50 1zm5 0zm1 0zm22 0zm10 0zm35 0zm-89 1zm3 0zm36 0zm23 0zm4 0zm-117 1zm67 0zm74 0zm-142 1zm35 0zm38 0zm29 0zm-114 1zm26 0zm21 0zm1 0zm32 0zm1 0zm2 0zm1 0zm1 0zm26 0zm6 0zm1 0zm3 0zm33 0zm10 0zm-92 1zm9 0zm37 0zm2 0zm6 0zm27 0zm-107 1zm2 0zm60 0zm1 0zm8 0zm38 0zm-96 1zm23 0zm3 0zm1 0zm33 0zm36 0zm-109 1zm1 0zm29 0zm4 0zm5 0zm33 0zm2 0zm33 0zm-83 1zm11 0zm3 0zm35 0zm-75 1zm4 0zm34 0zm1 0zm35 0zm2 0zm-108 1zm36 0zm2 0zm32 0zm1 0zm1 0zm2 0zm32 0zm1 0zm-79 1zm7 0zm1 0zm14 0zm37 0zm-53 1zm2 0zm2 0zm11 0zm7 0zm14 0zm1 0zm25 0zm8 0zm7 0zm31 0zm-107 1zm1 0zm33 0zm3 0zm34 0zm14 0zm-113 1zm29 0zm1 0zm7 0zm13 0zm13 0zm5 0zm-74 1zm37 0zm25 0zm6 0zm3 0zm-87 1zm33 0zm15 0zm27 0zm10 0zm3 0zm1 0zm34 0zm13 0zm12 0zm-134 1zm68 0zm39 0zm1 0zm-108 1zm2 0zm40 0zm24 0zm7 0zm34 0zm1 0zm1 0zm-141 1zm34 0zm23 0zm6 0zm6 0zm9 0zm27 0zm16 0zm18 0zm2 0zm32 0zm3 0zm-144 1zm2 0zm29 0zm29 0zm48 0zm-88 1zm15 0zm4 0zm32 0zm36 0zm-86 1zm8 0zm7 0zm2 0zm33 0zm1 0zm1 0zm2 0zm7 0zm24 0zm2 0zm35 0zm-147 1zm5 0zm1 0zm7 0zm14 0zm14 0zm1 0zm1 0zm10 0zm7 0zm16 0zm1 0zm13 0zm21 0zm37 0zm5 0zm-114 1zm1 0zm2 0zm3 0zm23 0zm8 0zm1 0zm36 0zm33 0zm-118 1zm12 0zm35 0zm2 0zm35 0zm1 0zm8 0zm25 0zm-145 1zm5 0zm1 0zm31 0zm3 0zm35 0zm1 0zm19 0zm2 0zm1 0zm13 0zm9 0zm26 0zm-177 1zm33 0zm37 0zm2 0zm10 0zm-13 1zm1 0zm35 0zm3 0zm2 0zm73 0zm4 0zm-153 1zm1 0zm37 0zm3 0zm6 0zm19 0zm8 0zm34 0zm2 0zm32 0zm11 0zm-161 1zm11 0zm6 0zm9 0zm16 0zm20 0zm46 0zm7 0zm-105 1zm28 0zm8 0zm26 0zm7 0zm1 0zm2 0zm-72 1zm10 0zm25 0zm9 0zm13 0zm49 0zm-74 1zm2 0zm1 0zm42 0zm28 0zm-108 1zm1 0zm2 0zm28 0zm6 0zm2 0zm33 0zm23 0zm49 0zm-175 1zm67 0zm1 0zm2 0zm22 0zm4 0zm6 0zm2 0zm1 0zm1 0zm-73 1zm1 0zm28 0zm5 0zm2 0zm20 0zm11 0zm3 0zm1 0zm1 0zm1 0zm35 0zm-120 1zm2 0zm5 0zm4 0zm69 0zm2 0zm1 0zm1 0zm32 0zm2 0zm1 0zm-107 1zm6 0zm29 0zm21 0zm14 0zm1 0zm1 0zm4 0zm30 0zm-92 1zm19 0zm10 0zm4 0zm25 0zm40 0zm-131 1zm18 0zm36 0zm1 0zm1 0zm4 0zm21 0zm8 0zm33 0zm2 0zm2 0zm-107 1zm6 0zm29 0zm34 0zm2 0zm3 0zm33 0zm-73 1zm1 0zm33 0zm5 0zm2 0zm31 0zm1 0zm-108 1zm1 0zm1 0zm2 0zm1 0zm64 0zm4 0zm-76 1zm4 0zm1 0zm16 0zm18 0zm2 0zm-46 1zm10 0zm1 0zm29 0zm4 0zm3 0zm4 0zm29 0zm1 0zm26 0zm-124 1zm25 0zm7 0zm28 0zm2 0zm-71 1zm36 0zm11 0zm15 0zm7 0zm1 0zm1 0zm1 0zm5 0zm14 0zm45 0zm-115 1zm13 0zm36 0zm1 0zm2 0zm8 0zm26 0zm10 0zm-116 1zm33 0zm1 0zm1 0zm33 0zm3 0zm32 0zm-86 1zm5 0zm41 0zm4 0zm2 0zm3 0zm3 0zm29 0zm1 0zm1 0zm15 0zm13 0zm7 0zm-142 1zm14 0zm21 0zm12 0zm18 0zm4 0zm1 0zm14 0zm5 0zm19 0zm-107 1zm34 0zm15 0zm18 0zm1 0zm2 0zm1 0zm10 0zm-81 1zm33 0zm2 0zm25 0zm9 0zm1 0zm35 0zm37 0zm-143 1zm2 0zm33 0zm1 0zm34 0zm1 0zm13 0zm21 0zm1 0zm1 0zm-107 1zm15 0zm19 0zm1 0zm1 0zm30 0zm-33 1zm2 0zm2 0zm7 0zm26 0zm2 0zm36 0zm-73 1zm10 0zm6 0zm6 0zm12 0zm2 0zm1 0zm22 0zm48 0zm35 0zm-143 1zm1 0zm34 0zm18 0zm-26 1zm10 0zm1 0zm41 0zm11 0zm16 0zm9 0zm-120 1zm6 0zm2 0zm9 0zm22 0zm1 0zm1 0zm34 0zm2 0zm-70 1zm27 0zm5 0zm2 0zm1 0zm1 0zm1 0zm32 0zm1 0zm1 0zm10 0zm38 0zm-137 1zm9 0zm7 0zm2 0zm9 0zm9 0zm3 0zm4 0zm4 0zm2 0zm5 0zm5 0zm8 0zm12 0zm7 0zm4 0zm3 0zm-111 1zm1 0zm70 0zm26 0zm10 0zm35 0zm-142 1zm33 0zm3 0zm26 0zm9 0zm1 0zm20 0zm14 0zm-106 1zm1 0zm16 0zm17 0zm1 0zm6 0zm17 0zm10 0zm1 0zm1 0zm1 0zm1 0zm2 0zm4 0zm1 0zm14 0zm13 0zm3 0zm69 0zm-178 1zm5 0zm31 0zm30 0zm5 0zm25 0zm9 0zm36 0zm-141 1zm23 0zm3 0zm4 0zm3 0zm1 0zm1 0zm7 0zm25 0zm3 0zm1 0zm36 0zm34 0zm-138 1zm17 0zm4 0zm10 0zm1 0zm1 0zm1 0zm4 0zm23 0zm5 0zm1 0zm2 0zm34 0zm1 0zm33 0zm-139 1zm33 0zm1 0zm22 0zm1 0zm9 0zm4 0zm1 0zm20 0zm-92 1zm2 0zm12 0zm5 0zm2 0zm14 0zm1 0zm2 0zm32 0zm27 0zm6 0zm-80 1zm4 0zm8 0zm1 0zm17 0zm4 0zm14 0zm34 0zm1 0zm-85 1zm15 0zm1 0zm10 0zm21 0zm2 0zm1 0zm16 0zm37 0zm-120 1zm30 0zm2 0zm33 0zm38 0zm-97 1zm11 0zm11 0zm3 0zm34 0zm3 0zm9 0zm9 0zm-89 1zm32 0zm3 0zm1 0zm74 0zm-111 1zm33 0zm1 0zm2 0zm1 0zm10 0zm22 0zm3 0zm9 0zm25 0zm1 0zm-101 1zm28 0zm4 0zm8 0zm24 0zm4 0zm-73 1zm15 0zm18 0zm1 0zm1 0zm1 0zm1 0zm32 0zm1 0zm3 0zm7 0zm6 0zm21 0zm-107 1zm34 0zm1 0zm6 0zm27 0zm19 0zm-87 1zm16 0zm17 0zm2 0zm3 0zm27 0zm6 0zm6 0zm-68 1zm20 0zm3 0zm2 0zm2 0zm4 0zm6 0zm23 0zm4 0zm12 0zm-85 1zm3 0zm4 0zm26 0zm2 0zm22 0zm2 0zm1 0zm10 0zm14 0zm21 0zm8 0zm-114 1zm2 0zm31 0zm1 0zm2 0zm16 0zm16 0zm2 0zm12 0zm22 0zm-70 1zm1 0zm1 0zm33 0zm52 0zm-117 1zm29 0zm1 0zm2 0zm1 0zm3 0zm26 0zm4 0zm1 0zm1 0zm24 0zm10 0zm-106 1zm1 0zm21 0zm4 0zm8 0zm1 0zm3 0zm1 0zm27 0zm5 0zm14 0zm13 0zm8 0zm6 0zm30 0zm-141 1zm4 0zm26 0zm4 0zm1 0zm1 0zm2 0zm4 0zm5 0zm22 0zm-36 1zm3 0zm33 0zm1 0zm1 0zm1 0zm15 0zm-88 1zm38 0zm33 0zm14 0zm20 0zm-47 1zm60 0zm-115 1zm23 0zm9 0zm1 0zm11 0zm7 0zm12 0zm3 0zm2 0zm-40 1zm14 0zm5 0zm15 0zm6 0zm1 0zm-71 1zm8 0zm17 0zm1 0zm7 0zm1 0zm1 0zm27 0zm5 0zm38 0zm-84 1zm1 0zm10 0zm1 0zm1 0zm27 0zm8 0zm2 0zm13 0zm23 0zm-108 1zm1 0zm2 0zm11 0zm41 0zm16 0zm2 0zm-73 1zm34 0zm2 0zm13 0zm3 0zm17 0zm1 0zm-69 1zm9 0zm24 0zm3 0zm16 0zm17 0zm17 0zm-87 1zm15 0zm5 0zm15 0zm2 0zm32 0zm1 0zm2 0zm49 0zm-121 1zm1 0zm1 0zm32 0zm1 0zm1 0zm1 0zm16 0zm26 0zm27 0zm-106 1zm1 0zm7 0zm26 0zm2 0zm34 0zm3 0zm1 0zm11 0zm-85 1zm35 0zm1 0zm8 0zm29 0zm31 0zm7 0zm28 0zm-139 1zm1 0zm3 0zm8 0zm23 0zm1 0zm23 0zm11 0zm1 0zm35 0zm-106 1zm28 0zm6 0zm1 0zm1 0zm22 0zm11 0zm2 0zm-71 1zm2 0zm27 0zm6 0zm1 0zm1 0zm7 0zm14 0zm12 0zm1 0zm2 0zm-73 1zm2 0zm27 0zm6 0zm36 0zm1 0zm-72 1zm11 0zm6 0zm24 0zm28 0zm3 0zm64 0zm-136 1zm2 0zm16 0zm18 0zm1 0zm32 0zm36 0zm-92 1zm5 0zm13 0zm6 0zm34 0zm-71 1zm1 0zm4 0zm11 0zm11 0zm1 0zm6 0zm1 0zm1 0zm35 0zm1 0zm34 0zm-84 1zm5 0zm6 0zm4 0zm1 0zm32 0zm7 0zm-49 1zm6 0zm1 0zm1 0zm12 0zm23 0zm1 0zm-72 1zm2 0zm1 0zm1 0zm10 0zm10 0zm1 0zm11 0zm24 0zm10 0zm-69 1zm1 0zm24 0zm8 0zm1 0zm23 0zm5 0zm16 0zm25 0zm-101 1zm31 0zm2 0zm5 0zm4 0zm24 0zm2 0zm16 0zm-86 1zm1 0zm13 0zm4 0zm15 0zm1 0zm78 0zm-79 1zm2 0zm1 0zm5 0zm27 0z"/>
<path transform="scale(0.25)" class="p o" d="M210 1486zm23 0zm9 0zm2 0zm32 0zm2 0zm-70 1zm4 0zm1 0zm30 0zm35 0zm-71 1zm1 0zm1 0zm30 0zm1 0zm1 0zm2 0zm1 0zm31 0zm2 0zm21 0zm10 0zm4 0zm-104 1zm1 0zm33 0zm6 0zm32 0zm-72 1zm14 0zm4 0zm12 0zm5 0zm32 0zm71 0zm-139 1zm1 0zm32 0zm2 0zm3 0zm31 0zm-41 1zm5 0zm1 0zm1 0zm1 0zm1 0zm7 0zm27 0zm-71 1zm32 0zm3 0zm35 0zm-70 1zm7 0zm6 0zm3 0zm20 0zm1 0zm22 0zm49 0zm-108 1zm20 0zm14 0zm4 0zm34 0zm-54 1zm21 0zm7 0zm6 0zm-51 1zm3 0zm3 0zm26 0zm4 0zm11 0zm-48 1zm1 0zm11 0zm22 0zm11 0zm61 0zm-105 1zm7 0zm4 0zm24 0zm4 0zm2 0zm64 0zm-106 1zm1 0zm1 0zm3 0zm1 0zm29 0zm1 0zm-35 1zm10 0zm24 0zm2 0zm34 0zm-71 1zm1 0zm33 0zm1 0zm1 0zm-36 1zm1 0zm9 0zm25 0zm1 0zm1 0zm-23 1zm20 0zm2 0zm35 0zm1 0zm5 0zm-75 1zm30 0zm2 0zm1 0zm1 0zm6 0zm30 0zm-36 1zm18 0zm-52 1zm32 0zm11 0zm1 0zm25 0zm33 0zm-103 1zm9 0zm1 0zm5 0zm17 0zm2 0zm12 0zm25 0zm15 0zm-87 1zm18 0zm19 0zm7 0zm-44 1zm1 0zm1 0zm4 0zm17 0zm3 0zm46 0zm-70 1zm1 0zm7 0zm22 0zm2 0zm37 0zm-71 1zm55 0zm18 0zm-73 1zm34 0zm2 0zm29 0zm-32 1zm2 0zm1 0zm1 0zm33 0zm-70 1zm1 0zm2 0zm25 0zm8 0zm-35 1zm15 0zm10 0zm8 0zm1 0zm12 0zm60 0zm-107 1zm1 0zm33 0zm1 0zm-35 1zm35 0zm1 0zm1 0zm10 0zm-47 1zm1 0zm31 0zm3 0zm8 0zm-42 1zm7 0zm6 0zm20 0zm2 0zm-35 1zm15 0zm12 0zm13 0zm-40 1zm33 0zm1 0zm-32 1zm-3 1zm1 0zm5 0zm62 0zm-58 1zm-7 1zm1 0zm31 0zm2 0zm32 0zm-67 1zm22 0zm11 0zm-35 1zm1 0zm28 0zm14 0zm-43 1zm32 0zm3 0zm-34 1zm36 0zm-37 1zm1 1zm10 0zm-11 1zm15 0zm3 0zm17 0zm-35 1zm1 0zm11 0zm22 0zm34 0zm-68 1zm14 0zm14 0zm6 0zm-29 1zm30 0zm70 0zm-104 1zm15 1zm19 0zm3 0zm-2 2zm-27 1zm62 0zm-70 1zm34 1zm3 0zm-38 1zm15 0zm38 0zm-21 1zm4 0zm16 0zm-18 1zm-33 2zm2 2zm7 0zm25 1zm-27 1zm22 0zm6 1zm1 0zm-36 1zm6 0zm66 0zm-72 1zm10 0zm24 0zm-15 1zm-6 2zm1 0zm-15 2zm1 3zm35 1zm-35 1zm10 2zm25 0zm-35 2zm-1 7zm1 2zm1 0z"/>
<path transform="scale(0.25)" class="p b" d="M79 1486zm21 0zm18 0zm17 0zm27 0zm6 0zm2 0zm2 0zm4 0zm15 0zm3 0zm12 0zm-140 1zm69 0zm1 0zm1 0zm31 0zm4 0zm23 0zm10 0zm1 0zm-132 1zm62 0zm1 0zm1 0zm2 0zm32 0zm14 0zm2 0zm18 0zm-106 1zm15 0zm18 0zm38 0zm2 0zm29 0zm3 0zm1 0zm1 0zm-140 1zm3 0zm18 0zm13 0zm6 0zm13 0zm6 0zm17 0zm2 0zm27 0zm30 0zm3 0zm-71 1zm1 0zm1 0zm69 0zm1 0zm-140 1zm33 0zm13 0zm35 0zm24 0zm3 0zm17 0zm14 0zm2 0zm-106 1zm34 0zm2 0zm5 0zm28 0zm28 0zm-97 1zm34 0zm3 0zm3 0zm29 0zm2 0zm20 0zm9 0zm3 0zm1 0zm1 0zm1 0zm-141 1zm30 0zm4 0zm7 0zm28 0zm31 0zm5 0zm1 0zm1 0zm32 0zm1 0zm-141 1zm14 0zm10 0zm46 0zm1 0zm2 0zm20 0zm12 0zm16 0zm-37 1zm21 0zm1 0zm2 0zm24 0zm10 0zm-107 1zm1 0zm1 0zm28 0zm5 0zm1 0zm1 0zm8 0zm-27 1zm16 0zm2 0zm2 0zm19 0zm14 0zm2 0zm4 0zm12 0zm17 0zm-140 1zm8 0zm26 0zm2 0zm2 0zm19 0zm12 0zm3 0zm32 0zm1 0zm2 0zm32 0zm1 0zm-139 1zm32 0zm2 0zm1 0zm17 0zm17 0zm27 0zm43 0zm-140 1zm4 0zm20 0zm11 0zm6 0zm28 0zm1 0zm2 0zm34 0zm1 0zm30 0zm2 0zm1 0zm-128 1zm43 0zm1 0zm12 0zm1 0zm1 0zm2 0zm24 0zm42 0zm-138 1zm32 0zm2 0zm2 0zm19 0zm15 0zm1 0zm29 0zm4 0zm1 0zm1 0zm1 0zm7 0zm16 0zm6 0zm4 0zm-106 1zm32 0zm3 0zm2 0zm23 0zm7 0zm1 0zm2 0zm1 0zm1 0zm1 0zm6 0zm16 0zm7 0zm4 0zm-124 1zm18 0zm12 0zm9 0zm3 0zm6 0zm5 0zm14 0zm5 0zm1 0zm15 0zm1 0zm3 0zm2 0zm14 0zm15 0zm1 0zm-104 1zm10 0zm9 0zm2 0zm13 0zm35 0zm4 0zm23 0zm-132 1zm36 0zm33 0zm1 0zm34 0zm1 0zm1 0zm1 0zm2 0zm30 0zm1 0zm-140 1zm6 0zm30 0zm33 0zm2 0zm1 0zm16 0zm17 0zm3 0zm2 0zm28 0zm1 0zm1 0zm1 0zm-141 1zm1 0zm34 0zm2 0zm20 0zm6 0zm6 0zm16 0zm17 0zm3 0zm35 0zm1 0zm-107 1zm15 0zm2 0zm8 0zm8 0zm3 0zm1 0zm1 0zm6 0zm9 0zm11 0zm7 0zm6 0zm1 0zm4 0zm2 0zm9 0zm13 0zm-138 1zm15 0zm37 0zm8 0zm9 0zm10 0zm23 0zm2 0zm16 0zm18 0zm-140 1zm1 0zm3 0zm30 0zm2 0zm34 0zm1 0zm14 0zm4 0zm2 0zm13 0zm3 0zm7 0zm3 0zm17 0zm-135 1zm2 0zm34 0zm35 0zm10 0zm25 0zm1 0zm33 0zm-139 1zm13 0zm19 0zm1 0zm1 0zm25 0zm11 0zm1 0zm25 0zm9 0zm1 0zm33 0zm-139 1zm1 0zm31 0zm4 0zm23 0zm11 0zm3 0zm32 0zm1 0zm1 0zm9 0zm22 0zm2 0zm1 0zm-140 1zm32 0zm6 0zm7 0zm11 0zm11 0zm1 0zm1 0zm4 0zm30 0zm2 0zm14 0zm6 0zm9 0zm4 0zm-122 1zm18 0zm5 0zm31 0zm18 0zm17 0zm1 0zm33 0zm-103 1zm32 0zm20 0zm8 0zm5 0zm4 0zm10 0zm3 0zm20 0zm-138 1zm34 0zm2 0zm33 0zm1 0zm1 0zm3 0zm23 0zm7 0zm15 0zm1 0zm13 0zm-134 1zm33 0zm7 0zm17 0zm11 0zm1 0zm15 0zm21 0zm3 0zm1 0zm4 0zm6 0zm-116 1zm33 0zm33 0zm2 0zm35 0zm26 0zm3 0zm-134 1zm17 0zm23 0zm28 0zm1 0zm2 0zm34 0zm5 0zm-111 1zm34 0zm1 0zm14 0zm5 0zm14 0zm1 0zm23 0zm47 0zm1 0zm1 0zm-141 1zm28 0zm7 0zm1 0zm1 0zm30 0zm3 0zm1 0zm33 0zm2 0zm1 0zm18 0zm15 0zm-140 1zm12 0zm21 0zm1 0zm1 0zm3 0zm26 0zm5 0zm31 0zm4 0zm35 0zm1 0zm-133 1zm26 0zm1 0zm3 0zm32 0zm1 0zm1 0zm10 0zm24 0zm1 0zm1 0zm1 0zm5 0zm17 0zm11 0zm-141 1zm22 0zm12 0zm1 0zm1 0zm33 0zm1 0zm20 0zm15 0zm1 0zm1 0zm7 0zm22 0zm2 0zm1 0zm-138 1zm32 0zm1 0zm1 0zm3 0zm25 0zm5 0zm1 0zm2 0zm9 0zm25 0zm1 0zm1 0zm26 0zm7 0zm1 0zm-107 1zm11 0zm10 0zm16 0zm22 0zm12 0zm11 0zm7 0zm17 0zm-139 1zm6 0zm17 0zm11 0zm36 0zm18 0zm1 0zm4 0zm11 0zm1 0zm1 0zm22 0zm9 0zm1 0zm-140 1zm1 0zm17 0zm17 0zm34 0zm37 0zm7 0zm28 0zm-140 1zm1 0zm4 0zm2 0zm2 0zm24 0zm2 0zm1 0zm4 0zm7 0zm23 0zm1 0zm32 0zm2 0zm33 0zm1 0zm1 0zm-140 1zm28 0zm5 0zm1 0zm13 0zm11 0zm9 0zm2 0zm2 0zm8 0zm16 0zm11 0zm34 0zm-141 1zm2 0zm7 0zm20 0zm7 0zm23 0zm10 0zm1 0zm23 0zm13 0zm1 0zm1 0zm12 0zm-119 1zm24 0zm10 0zm1 0zm2 0zm12 0zm6 0zm5 0zm2 0zm2 0zm5 0zm1 0zm15 0zm1 0zm19 0zm-106 1zm1 0zm1 0zm1 0zm53 0zm1 0zm11 0zm1 0zm37 0zm2 0zm24 0zm8 0zm-136 1zm11 0zm6 0zm14 0zm12 0zm4 0zm19 0zm16 0zm10 0zm11 0zm2 0zm22 0zm2 0zm5 0zm4 0zm-142 1zm2 0zm1 0zm32 0zm1 0zm1 0zm6 0zm27 0zm1 0zm1 0zm6 0zm4 0zm15 0zm9 0zm1 0zm7 0zm27 0zm-140 1zm1 0zm24 0zm44 0zm3 0zm28 0zm7 0zm32 0zm1 0zm1 0zm-141 1zm1 0zm27 0zm5 0zm1 0zm38 0zm4 0zm28 0zm2 0zm28 0zm-134 1zm1 0zm15 0zm2 0zm6 0zm10 0zm1 0zm24 0zm9 0zm42 0zm5 0zm24 0zm-138 1zm10 0zm4 0zm17 0zm2 0zm1 0zm34 0zm1 0zm5 0zm25 0zm4 0zm2 0zm13 0zm19 0zm-106 1zm2 0zm1 0zm1 0zm19 0zm14 0zm1 0zm8 0zm25 0zm1 0zm2 0zm33 0zm1 0zm-139 1zm34 0zm1 0zm9 0zm24 0zm9 0zm6 0zm20 0zm1 0zm2 0zm7 0zm25 0zm1 0zm-140 1zm8 0zm22 0zm3 0zm1 0zm2 0zm10 0zm25 0zm3 0zm18 0zm12 0zm1 0zm27 0zm-133 1zm2 0zm12 0zm4 0zm9 0zm6 0zm1 0zm25 0zm11 0zm1 0zm1 0zm1 0zm13 0zm9 0zm3 0zm9 0zm-104 1zm31 0zm1 0zm11 0zm23 0zm1 0zm1 0zm8 0zm4 0zm21 0zm1 0zm4 0zm22 0zm11 0zm-141 1zm34 0zm5 0zm1 0zm9 0zm3 0zm12 0zm7 0zm3 0zm32 0zm4 0zm29 0zm1 0zm-140 1zm15 0zm19 0zm18 0zm10 0zm2 0zm6 0zm2 0zm4 0zm29 0zm1 0zm34 0zm-141 1zm1 0zm1 0zm11 0zm7 0zm9 0zm5 0zm1 0zm6 0zm29 0zm1 0zm1 0zm3 0zm33 0zm16 0zm-124 1zm2 0zm8 0zm20 0zm5 0zm3 0zm8 0zm6 0zm13 0zm5 0zm1 0zm33 0zm1 0zm1 0zm34 0zm-140 1zm1 0zm7 0zm22 0zm5 0zm1 0zm1 0zm27 0zm5 0zm1 0zm3 0zm6 0zm10 0zm14 0zm2 0zm4 0zm13 0zm-120 1zm11 0zm4 0zm16 0zm1 0zm2 0zm1 0zm10 0zm34 0zm13 0zm12 0zm1 0zm-107 1zm1 0zm1 0zm3 0zm2 0zm3 0zm13 0zm12 0zm1 0zm19 0zm16 0zm-70 1zm11 0zm23 0zm2 0zm13 0zm22 0zm21 0zm14 0zm2 0zm27 0zm5 0zm-140 1zm15 0zm17 0zm1 0zm2 0zm2 0zm33 0zm1 0zm2 0zm29 0zm-102 1zm31 0zm3 0zm3 0zm2 0zm10 0zm19 0zm2 0zm29 0zm6 0zm-106 1zm1 0zm2 0zm9 0zm16 0zm3 0zm3 0zm1 0zm2 0zm55 0zm-91 1zm2 0zm9 0zm58 0zm1 0zm6 0zm3 0zm7 0zm19 0zm1 0zm-107 1zm1 0zm7 0zm25 0zm1 0zm1 0zm1 0zm7 0zm12 0zm18 0zm1 0zm33 0zm-106 1zm1 0zm14 0zm4 0zm3 0zm12 0zm1 0zm2 0zm1 0zm9 0zm1 0zm7 0zm14 0zm71 0zm-140 1zm6 0zm25 0zm2 0zm3 0zm1 0zm33 0zm19 0zm-90 1zm1 0zm16 0zm14 0zm4 0zm33 0zm4 0zm2 0zm14 0zm4 0zm13 0zm2 0zm-102 1zm14 0zm15 0zm3 0zm33 0zm-69 1zm1 0zm20 0zm7 0zm6 0zm1 0zm19 0zm16 0zm2 0zm33 0zm35 0zm-136 1zm30 0zm1 0zm1 0zm1 0zm6 0zm41 0zm19 0zm2 0zm-105 1zm13 0zm20 0zm1 0zm1 0zm33 0zm4 0zm4 0zm28 0zm37 0zm-141 1zm1 0zm1 0zm14 0zm19 0zm1 0zm13 0zm15 0zm2 0zm1 0zm3 0zm1 0zm1 0zm-72 1zm1 0zm1 0zm6 0zm14 0zm13 0zm5 0zm8 0zm3 0zm8 0zm11 0zm1 0zm19 0zm18 0zm1 0zm2 0zm12 0zm-123 1zm1 0zm7 0zm25 0zm1 0zm1 0zm23 0zm12 0zm30 0zm-90 1zm4 0zm15 0zm5 0zm2 0zm7 0zm27 0zm1 0zm33 0zm32 0zm-137 1zm1 0zm4 0zm18 0zm12 0zm1 0zm1 0zm1 0zm18 0zm15 0zm10 0zm15 0zm9 0zm2 0zm-107 1zm1 0zm1 0zm1 0zm1 0zm20 0zm10 0zm1 0zm1 0zm35 0zm1 0zm13 0zm21 0zm-106 1zm1 0zm1 0zm12 0zm5 0zm10 0zm6 0zm2 0zm9 0zm24 0zm1 0zm27 0zm41 0zm-138 1zm11 0zm5 0zm17 0zm2 0zm4 0zm1 0zm31 0zm37 0zm-108 1zm2 0zm6 0zm6 0zm12 0zm1 0zm6 0zm18 0zm19 0zm1 0zm9 0zm32 0zm-112 1zm1 0zm19 0zm11 0zm2 0zm1 0zm1 0zm4 0zm30 0zm1 0zm1 0zm13 0zm10 0zm12 0zm-106 1zm1 0zm7 0zm21 0zm1 0zm3 0zm1 0zm9 0zm1 0zm25 0zm2 0zm5 0zm64 0zm-139 1zm26 0zm9 0zm16 0zm17 0zm16 0zm20 0zm-105 1zm7 0zm10 0zm8 0zm8 0zm2 0zm34 0zm1 0zm33 0zm18 0zm-115 1zm1 0zm9 0zm16 0zm1 0zm3 0zm2 0zm1 0zm31 0zm35 0zm-106 1zm2 0zm15 0zm17 0zm1 0zm3 0zm1 0zm4 0zm26 0zm2 0zm1 0zm35 0zm33 0zm-138 1zm33 0zm2 0zm34 0zm37 0zm-108 1zm1 0zm10 0zm12 0zm5 0zm6 0zm3 0zm33 0zm70 0zm-139 1zm5 0zm11 0zm6 0zm6 0zm5 0zm1 0zm1 0zm2 0zm6 0zm27 0zm1 0zm1 0zm32 0zm4 0zm-108 1zm5 0zm31 0zm36 0zm-73 1zm2 0zm3 0zm16 0zm9 0zm4 0zm2 0zm2 0zm34 0zm43 0z"/>
</g>
<path class="ax" d="M16.3 397.1H122.5M16.3 397.1V300.0M16.3 397.1v1.8M25.1 397.1v1.0M34.0 397.1v1.8M42.8 397.1v1.0M51.7 397.1v1.8M60.5 397.1v1.0M69.4 397.1v1.8M78.2 397.1v1.0M87.1 397.1v1.8M95.9 397.1v1.0M104.8 397.1v1.8M113.6 397.1v1.0M122.5 397.1v1.8M16.3 397.1h-1.8M16.3 390.7h-1.0M16.3 384.2h-1.8M16.3 377.8h-1.0M16.3 371.4h-1.8M16.3 365.0h-1.0M16.3 358.5h-1.8M16.3 352.1h-1.0M16.3 345.7h-1.8M16.3 339.2h-1.0M16.3 332.8h-1.8M16.3 326.4h-1.0M16.3 319.9h-1.8M16.3 313.5h-1.0M16.3 307.1h-1.8"/>
<g class="tl" text-anchor="middle"><text transform="translate(16.3 403.9)scale(.8 1)">0</text><text transform="translate(34.0 403.9)scale(.8 1)">2</text><text transform="translate(51.7 403.9)scale(.8 1)">4</text><text transform="translate(69.4 403.9)scale(.8 1)">6</text><text transform="translate(87.1 403.9)scale(.8 1)">8</text><text transform="translate(104.8 403.9)scale(.8 1)">10</text><text transform="translate(122.5 403.9)scale(.8 1)">12</text></g>
<g class="tl" text-anchor="end"><text transform="translate(14.0 398.7)scale(.8 1)">0</text><text transform="translate(14.0 385.8)scale(.8 1)">2</text><text transform="translate(14.0 373.0)scale(.8 1)">4</text><text transform="translate(14.0 360.1)scale(.8 1)">6</text><text transform="translate(14.0 347.3)scale(.8 1)">8</text><text transform="translate(14.0 334.4)scale(.8 1)">10</text><text transform="translate(14.0 321.5)scale(.8 1)">12</text><text transform="translate(14.0 308.7)scale(.8 1)">14</text></g>
<path class="rl" d="M16.3 397.1L113.6 326.6"/>
<text class="at" style="font-weight:bold" x="54.3" y="411.5" textLength="29.6" lengthAdjust="spacingAndGlyphs">Actual Distance</text>
<text class="at" style="font-weight:bold" transform="translate(8.5 346.9)rotate(-90)" x="-18.1" y="0" textLength="36.3" lengthAdjust="spacingAndGlyphs">Prediction Distance</text>
<text class="rt" style="font-weight:bold" transform="translate(30.6 304.0)scale(0.845 1)">R=0.9494</text>
<text class="rt" style="font-weight:bold" transform="translate(30.6 309.8)scale(0.845 1)">slope=0.9963</text>
<text class="cap" transform="translate(76.0 429.0)scale(.94 1)">(i) GraphSAGE</text>
<g filter="url(#bl)">
<path transform="scale(0.25)" class="p r" d="M714 1381zm0 8zm31 3zm3 0zm-10 2zm9 0zm-2 2zm1 2zm0 1zm1 0zm-34 2zm23 0zm-69 3zm80 0zm-17 2zm17 2zm-58 1zm19 0zm-27 2zm-2 1zm65 0zm-64 1zm34 1zm33 0zm-28 1zm-43 1zm70 0zm2 0zm-32 1zm-8 1zm37 0zm-8 2zm-7 2zm6 0zm1 0zm-22 1zm31 1zm-32 1zm2 0zm-9 1zm9 0zm30 3zm-115 1zm117 0zm-30 1zm17 0zm12 0zm1 0zm-3 1zm1 0zm1 1zm-24 1zm16 0zm-35 1zm10 1zm19 0zm13 0zm-42 1zm21 1zm13 0zm1 0zm-49 1zm21 1zm-6 1zm-16 1zm23 0zm20 0zm9 0zm7 0zm1 0zm-36 1zm22 0zm4 0zm4 0zm-30 1zm18 0zm16 0zm-33 1zm35 0zm-36 1zm1 0zm8 0zm2 0zm-35 1zm52 0zm-71 1zm40 0zm3 0zm34 0zm-105 1zm36 0zm2 0zm51 0zm10 0zm6 0zm-34 1zm8 0zm12 0zm5 0zm2 0zm8 0zm-106 1zm35 0zm36 0zm1 0zm20 0zm-20 1zm33 0zm-68 1zm34 0zm35 0zm-18 1zm18 0zm-121 1zm49 0zm14 0zm22 0zm1 0zm18 0zm-73 1zm53 0zm17 0zm10 0zm10 0zm-71 1zm72 0zm-59 1zm33 0zm14 0zm12 0zm-108 1zm72 0zm2 0zm7 0zm1 0zm1 0zm12 0zm12 0zm-71 1zm2 0zm31 0zm7 0zm9 0zm-11 1zm19 0zm9 0zm4 0zm-59 1zm13 0zm11 0zm36 0zm1 0zm-72 1zm38 0zm11 0zm21 0zm1 0zm-78 1zm26 0zm17 0zm20 0zm15 0zm-69 1zm23 0zm-24 1zm29 0zm7 0zm17 0zm15 0zm1 0zm2 0zm-38 1zm1 0zm35 0zm1 0zm-62 1zm15 0zm27 0zm2 0zm17 0zm-102 1zm33 0zm2 0zm32 0z"/>
<path transform="scale(0.25)" class="p g" d="M921 1221zm-21 1zm26 8zm-8 1zm-26 3zm28 2zm16 0zm-62 1zm-18 13zm54 1zm16 2zm-36 4zm38 1zm-75 2zm144 1zm-61 2zm-58 2zm37 1zm21 0zm-11 6zm-21 1zm18 3zm9 0zm5 1zm-47 2zm19 0zm26 1zm-55 1zm20 3zm32 0zm-63 1zm62 0zm-3 1zm5 0zm-59 1zm54 0zm1 1zm-104 2zm40 0zm-58 1zm84 0zm1 0zm35 1zm1 0zm-4 1zm-103 2zm69 0zm-37 1zm41 0zm33 0zm-49 1zm16 0zm25 2zm9 0zm-105 1zm32 0zm19 0zm23 0zm4 0zm-73 1zm21 0zm53 0zm24 0zm10 0zm-55 1zm9 0zm-21 1zm-30 1zm8 0zm21 0zm24 0zm15 0zm27 0zm-95 1zm77 0zm11 0zm-49 1zm18 0zm16 0zm-13 1zm-61 1zm18 0zm17 0zm2 0zm40 0zm13 0zm-102 1zm103 0zm-77 1zm6 0zm34 0zm-36 1zm70 0zm11 0zm-79 1zm32 0zm18 0zm-52 1zm65 0zm16 0zm-158 1zm77 0zm-37 1zm72 0zm-47 1zm10 0zm18 0zm9 0zm-59 1zm68 0zm36 0zm-70 1zm2 0zm3 0zm23 0zm-27 1zm26 0zm-41 1zm7 0zm42 0zm-34 1zm34 0zm1 0zm35 0zm10 0zm-98 1zm54 0zm33 0zm4 0zm-77 1zm4 0zm68 0zm1 0zm11 0zm-152 1zm70 0zm1 0zm18 0zm16 0zm1 0zm22 0zm-64 1zm5 0zm23 0zm-66 1zm1 0zm43 0zm-51 1zm126 0zm-68 1zm28 0zm26 0zm-95 1zm5 0zm28 1zm39 0zm6 0zm15 0zm-94 1zm20 0zm4 0zm11 0zm1 0zm12 0zm11 0zm8 0zm3 0zm37 0zm1 0zm9 0zm-95 1zm-57 1zm24 0zm26 0zm4 0zm17 0zm4 0zm4 0zm62 0zm-39 1zm3 0zm4 0zm33 0zm10 0zm-98 1zm15 0zm2 0zm38 0zm11 0zm23 0zm-87 1zm15 0zm6 0zm65 0zm10 0zm-83 1zm39 0zm-37 1zm35 0zm2 0zm-19 1zm9 0zm8 0zm5 0zm-76 1zm36 0zm20 0zm10 0zm6 0zm-72 1zm24 0zm42 0zm5 0zm4 0zm-34 1zm29 0zm1 0zm2 0zm35 0zm-135 1zm27 0zm1 0zm35 0zm9 0zm4 0zm4 0zm18 0zm8 0zm26 0zm-91 1zm13 0zm10 0zm9 0zm9 0zm15 0zm1 0zm2 0zm44 0zm-82 1zm5 0zm5 0zm7 0zm9 0zm13 0zm43 0zm-119 1zm5 0zm10 0zm65 0zm31 0zm-101 1zm28 0zm17 0zm-26 1zm6 0zm1 0zm2 0zm6 0zm8 0zm8 0zm18 0zm-35 1zm24 0zm-66 1zm1 0zm19 0zm17 0zm1 0zm31 0zm-101 1zm55 0zm15 0zm9 0zm12 0zm13 0zm11 0zm25 0zm-140 1zm17 0zm17 0zm17 0zm19 0zm22 0zm12 0zm-66 1zm22 0zm36 0zm-114 1zm34 0zm18 0zm2 0zm34 0zm12 0zm24 0zm-107 1zm33 0zm26 0zm7 0zm4 0zm10 0zm34 0zm-52 1zm11 0zm2 0zm14 0zm8 0zm9 0zm35 0zm-148 1zm38 0zm22 0zm31 0zm19 0zm35 0zm-97 1zm16 0zm11 0zm6 0zm5 0zm35 0zm-97 1zm15 0zm24 0zm16 0zm-36 1zm19 0zm31 0zm46 0zm10 0zm-144 1zm1 0zm21 0zm12 0zm3 0zm2 0zm23 0zm17 0zm9 0zm35 0zm9 0zm21 0zm-115 1zm12 0zm20 0zm1 0zm33 0zm3 0zm35 0zm1 0zm-104 1zm56 0zm7 0zm1 0zm-77 1zm6 0zm3 0zm1 0zm10 0zm26 0zm1 0zm-60 1zm26 0zm18 0zm15 0zm1 0zm1 0zm32 0zm-106 1zm21 0zm27 0zm14 0zm8 0zm-75 1zm3 0zm49 0zm15 0zm51 0zm-111 1zm70 0zm8 0zm28 0zm7 0zm-114 1zm3 0zm17 0zm48 0zm1 0zm45 0zm-115 1zm19 0zm87 0zm1 0zm-110 1zm39 0zm1 0zm15 0zm5 0zm84 0zm-107 1zm1 0zm38 0zm35 0zm-36 1zm13 0zm9 0zm15 0zm-108 1zm13 0zm23 0zm6 0zm4 0zm26 0zm-72 1zm20 0zm8 0zm7 0zm6 0zm7 0zm9 0zm50 0zm-115 1zm71 0zm-73 1zm8 0zm8 0zm30 0zm13 0zm7 0zm1 0zm7 0zm6 0zm-82 1zm21 0zm30 0zm9 0zm22 0zm11 0zm60 0zm-129 1zm24 0zm32 0zm6 0zm-84 1zm9 0zm30 0zm3 0zm22 0zm1 0zm15 0zm40 0zm3 0zm-123 1zm45 0zm5 0zm5 0zm16 0zm10 0zm-54 1zm7 0zm13 0zm33 0zm1 0zm30 0zm6 0zm-118 1zm8 0zm20 0zm2 0zm40 0zm25 0zm2 0zm21 0zm8 0zm-125 1zm9 0zm44 0zm20 0zm9 0zm-87 1zm21 0zm13 0zm15 0zm37 0zm-66 1zm30 0zm15 0zm23 0zm15 0zm20 0zm-132 1zm16 0zm60 0zm18 0zm1 0zm36 0zm-72 1zm1 0zm1 0zm37 0zm27 0zm-116 1zm13 0zm1 0zm37 0zm47 0zm20 0zm-126 1zm16 0zm16 0zm26 0zm1 0zm-70 1zm18 0zm13 0zm39 0zm12 0zm24 0zm1 0zm-50 1zm4 0zm8 0zm51 0zm-117 1zm14 0zm15 0zm3 0zm13 0zm18 0zm23 0zm15 0zm38 0zm-140 1zm33 0zm1 0zm6 0zm20 0zm4 0zm3 0zm1 0zm1 0zm5 0zm28 0zm32 0zm7 0zm-144 1zm27 0zm5 0zm37 0zm3 0zm32 0zm2 0zm11 0zm59 0zm-144 1zm38 0zm2 0zm42 0zm27 0zm-136 1zm4 0zm5 0zm24 0zm5 0zm26 0zm1 0zm13 0zm15 0zm-95 1zm11 0zm20 0zm38 0zm34 0zm16 0zm-91 1zm4 0zm21 0zm15 0zm69 0zm-83 1zm2 0zm5 0zm5 0zm1 0zm1 0zm15 0zm-50 1zm18 0zm4 0zm11 0zm2 0zm3 0zm37 0zm1 0zm9 0zm20 0zm-139 1zm39 0zm31 0zm17 0zm-54 1zm1 0zm17 0zm18 0zm17 0zm17 0zm50 0zm-150 1zm17 0zm14 0zm7 0zm3 0zm7 0zm13 0zm3 0zm1 0zm1 0zm2 0zm7 0zm3 0zm8 0zm14 0zm1 0zm-79 1zm4 0zm4 0zm1 0zm12 0zm17 0zm7 0zm-35 1zm42 0zm60 0zm5 0zm-100 1zm19 0zm7 0zm1 0zm24 0zm7 0zm4 0zm2 0zm11 0zm-84 1zm0 1zm1 0zm21 0zm8 0zm1 0zm5 0zm29 0zm-100 1zm1 0zm21 0zm12 0zm36 0zm72 0zm-109 1zm34 0zm1 0zm13 0zm27 0zm34 0zm-108 1zm71 0zm15 0zm-85 1zm39 0zm6 0zm4 0zm-47 1zm33 0zm1 0zm52 0zm-113 1zm6 0zm5 0zm14 0zm1 0zm9 0zm16 0zm9 0zm1 0zm34 0zm-80 1zm12 0zm9 0zm18 0zm7 0zm28 0zm-65 1zm1 0zm1 0zm1 0zm22 0zm-47 1zm33 0zm8 0zm12 0zm77 0zm2 0zm-143 1zm17 0zm22 0zm29 0zm2 0zm11 0zm20 0zm-91 1zm23 0zm8 0zm20 0zm2 0zm1 0zm6 0zm14 0zm55 0zm-138 1zm4 0zm6 0zm24 0zm8 0zm2 0zm6 0zm68 0zm23 0zm-141 1zm20 0zm13 0zm1 0zm5 0zm8 0zm11 0zm-36 1zm11 0zm17 0zm32 0zm-44 1zm4 0zm16 0zm11 0zm1 0zm68 0zm-139 1zm17 0zm5 0zm29 0zm5 0zm3 0zm10 0zm1 0zm2 0zm4 0zm53 0zm-129 1zm19 0zm10 0zm1 0zm4 0zm6 0zm35 0zm-42 1zm2 0zm1 0zm2 0zm10 0zm6 0zm9 0zm9 0zm23 0zm-62 1zm2 0zm6 0zm1 0zm22 0zm5 0zm-63 1zm1 0zm4 0zm23 0zm14 0zm21 0zm2 0zm1 0zm-72 1zm3 0zm33 0zm1 0zm40 0zm-77 1zm2 0zm9 0zm13 0zm10 0zm3 0zm11 0zm7 0zm2 0zm1 0zm47 0zm7 0zm4 0zm-116 1zm1 0zm12 0zm34 0zm13 0zm7 0zm2 0zm-54 1zm16 0zm3 0zm5 0zm22 0zm8 0zm1 0zm-71 1zm7 0zm2 0zm25 0zm38 0zm16 0zm16 0zm48 0zm-140 1zm22 0zm1 0zm2 0zm70 0zm-81 1zm9 0zm37 0zm-70 1zm15 0zm34 0zm64 0zm-115 1zm34 0zm18 0zm20 0zm34 0zm-106 1zm17 0zm9 0zm9 0zm12 0zm6 0zm30 0zm-81 1zm32 0zm1 0zm25 0zm-50 1zm22 0zm4 0zm25 0zm3 0zm1 0zm6 0zm16 0zm21 0zm18 0zm-124 1zm4 0zm25 0zm40 0zm1 0zm-72 1zm2 0zm8 0zm14 0zm4 0zm4 0zm1 0zm31 0zm39 0zm-103 1zm8 0zm9 0zm17 0zm12 0zm18 0zm6 0zm-67 1zm28 0zm41 0zm34 0zm-105 1zm3 0zm9 0zm17 0zm5 0zm8 0zm-43 1zm1 0zm1 0zm3 0zm8 0zm30 0zm5 0zm20 0zm-63 1zm7 0zm3 0zm18 0zm2 0zm1 0zm1 0zm10 0zm5 0zm17 0zm12 0zm35 0zm1 0zm-82 1zm1 0zm2 0zm9 0zm4 0zm4 0zm18 0zm10 0zm-48 1zm1 0zm9 0zm24 0zm40 0zm-108 1zm71 0zm14 0zm-55 1zm4 0zm2 0zm88 0zm-112 1zm13 0zm8 0zm1 0zm35 0zm-69 1zm1 0zm36 0zm1 0zm1 0zm30 0zm1 0zm-65 1zm24 0zm5 0zm8 0zm28 0zm-71 1zm4 0zm15 0zm3 0zm11 0zm1 0zm1 0zm34 0zm1 0zm12 0zm13 0zm24 0zm-118 1zm13 0zm23 0zm40 0zm-76 1zm1 0zm34 0zm5 0zm5 0zm40 0zm19 0zm-104 1zm1 0zm11 0zm25 0zm11 0zm5 0zm5 0zm10 0zm1 0zm14 0zm-83 1zm35 0zm20 0zm-56 1zm1 0zm2 0zm19 0zm12 0zm28 0zm44 0zm-94 1zm33 0zm28 0zm-73 1zm26 0zm4 0zm43 0zm-73 1zm1 0zm69 0zm8 0zm-74 1zm6 0zm28 0zm8 0zm6 0zm18 0zm2 0zm-71 1zm5 0zm5 0zm25 0zm42 0zm29 0zm-107 1zm12 0zm6 0zm16 0zm2 0zm17 0zm16 0zm2 0zm-69 1zm7 0zm4 0zm2 0zm22 0zm14 0zm21 0zm-71 1zm37 0zm5 0z"/>
<path transform="scale(0.25)" class="p o" d="M751 1469zm33 0zm48 0zm-73 1zm1 0zm23 0zm1 0zm-33 1zm26 0zm6 0zm1 0zm13 0zm33 0zm-81 1zm1 0zm2 0zm6 0zm19 0zm8 0zm13 0zm21 0zm11 0zm-79 1zm8 0zm26 0zm34 0zm-70 1zm3 0zm7 0zm5 0zm4 0zm17 0zm2 0zm68 0zm-106 1zm1 0zm3 0zm17 0zm4 0zm7 0zm3 0zm8 0zm10 0zm-51 1zm34 0zm2 0zm33 0zm-69 1zm13 0zm18 0zm2 0zm-33 1zm1 0zm7 0zm39 0zm32 0zm-74 1zm1 0zm17 0zm5 0zm4 0zm2 0zm1 0zm27 0zm4 0zm-68 1zm1 0zm3 0zm18 0zm12 0zm17 0zm2 0zm7 0zm12 0zm-72 1zm1 0zm34 0zm-34 1zm34 0zm1 0zm-29 1zm7 0zm21 0zm-35 1zm2 0zm10 0zm-11 1zm3 0zm20 0zm23 0zm-32 1zm1 0zm17 0zm3 0zm3 0zm7 0zm-8 1zm14 0zm3 0zm14 0zm-37 1zm3 0zm-20 1zm20 0zm-31 1zm2 0zm8 0zm19 0zm3 0zm5 0zm45 0zm-77 1zm-8 1zm30 0zm32 0zm-61 1zm1 0zm10 0zm4 0zm15 0zm7 0zm-38 1zm9 0zm24 0zm36 0zm-65 1zm8 0zm23 0zm-35 1zm76 0zm-76 1zm1 0zm12 0zm10 0zm28 0zm16 0zm3 0zm-69 1zm6 0zm26 0zm2 0zm34 0zm-68 1zm4 1zm30 0zm1 0zm33 0zm-70 1zm37 1zm-24 1zm10 0zm7 0zm4 0zm2 0zm59 0zm-85 1zm24 0zm11 0zm-32 1zm25 0zm12 0zm-43 1zm28 0zm2 0zm-36 1zm29 0zm13 0zm-31 1zm16 0zm23 0zm-50 1zm5 0zm66 0zm-68 1zm2 0zm21 1zm-26 1zm33 0zm-33 1zm6 0zm-4 1zm15 0zm-14 1zm5 0zm6 0zm19 0zm36 0zm-68 1zm0 1zm46 0zm-47 2zm10 0zm-5 1zm23 1zm-22 1zm-6 1zm19 0zm14 0zm-33 2zm34 1zm-35 2zm4 0zm13 0zm33 1zm2 0zm-51 1zm33 0zm-20 2zm-13 4zm32 0zm-33 2zm48 3zm-47 3zm34 1zm-33 1zm47 0zm-48 2zm0 1zm1 1zm0 8zm0 2zm-1 2zm13 7zm-12 15zm14 0z"/>
<path transform="scale(0.25)" class="p b" d="M682 1469zm3 0zm29 0zm-61 1zm68 0zm28 0zm-109 1zm36 0zm2 0zm11 0zm24 0zm16 0zm18 0zm-116 1zm28 0zm2 0zm16 0zm2 0zm1 0zm4 0zm28 0zm35 0zm1 0zm1 0zm-51 1zm2 0zm11 0zm3 0zm19 0zm3 0zm11 0zm-79 1zm45 0zm1 0zm2 0zm6 0zm15 0zm1 0zm7 0zm-101 1zm10 0zm11 0zm12 0zm35 0zm2 0zm1 0zm10 0zm-114 1zm3 0zm55 0zm8 0zm1 0zm8 0zm1 0zm31 0zm29 0zm1 0zm-82 1zm73 0zm9 0zm-72 1zm1 0zm3 0zm2 0zm13 0zm1 0zm11 0zm1 0zm7 0zm6 0zm4 0zm1 0zm20 0zm1 0zm1 0zm-106 1zm8 0zm30 0zm18 0zm-22 1zm22 0zm5 0zm12 0zm11 0zm11 0zm4 0zm6 0zm-85 1zm10 0zm6 0zm8 0zm28 0zm2 0zm31 0zm1 0zm-105 1zm55 0zm6 0zm4 0zm7 0zm29 0zm3 0zm-70 1zm35 0zm3 0zm9 0zm25 0zm-51 1zm13 0zm4 0zm29 0zm2 0zm2 0zm-132 1zm16 0zm12 0zm38 0zm13 0zm19 0zm9 0zm23 0zm2 0zm-111 1zm5 0zm4 0zm22 0zm45 0zm-104 1zm42 0zm64 0zm-69 1zm13 0zm16 0zm37 0zm4 0zm1 0zm27 0zm4 0zm-105 1zm19 0zm10 0zm1 0zm4 0zm1 0zm39 0zm3 0zm14 0zm15 0zm-108 1zm2 0zm21 0zm9 0zm5 0zm19 0zm15 0zm1 0zm1 0zm13 0zm5 0zm6 0zm-116 1zm17 0zm37 0zm9 0zm5 0zm26 0zm30 0zm-73 1zm5 0zm3 0zm22 0zm11 0zm-91 1zm20 0zm11 0zm8 0zm21 0zm26 0zm27 0zm9 0zm-103 1zm36 0zm35 0zm1 0zm8 0zm-56 1zm11 0zm2 0zm16 0zm17 0zm23 0zm11 0zm1 0zm1 0zm-133 1zm4 0zm60 0zm1 0zm18 0zm13 0zm1 0zm2 0zm1 0zm17 0zm4 0zm11 0zm-105 1zm4 0zm19 0zm13 0zm10 0zm7 0zm4 0zm14 0zm7 0zm4 0zm19 0zm5 0zm-106 1zm1 0zm34 0zm1 0zm2 0zm22 0zm10 0zm27 0zm-105 1zm8 0zm3 0zm14 0zm18 0zm29 0zm8 0zm2 0zm2 0zm6 0zm-114 1zm25 0zm8 0zm1 0zm11 0zm23 0zm2 0zm10 0zm19 0zm4 0zm35 0zm-116 1zm17 0zm20 0zm9 0zm2 0zm5 0zm46 0zm17 0zm-106 1zm40 0zm17 0zm13 0zm1 0zm1 0zm-74 1zm2 0zm12 0zm25 0zm37 0zm13 0zm13 0zm2 0zm4 0zm-122 1zm18 0zm16 0zm7 0zm10 0zm1 0zm1 0zm3 0zm31 0zm1 0zm1 0zm26 0zm-99 1zm78 0zm28 0zm-140 1zm33 0zm35 0zm2 0zm34 0zm29 0zm4 0zm2 0zm1 0zm-131 1zm33 0zm5 0zm17 0zm4 0zm9 0zm29 0zm2 0zm10 0zm-108 1zm8 0zm17 0zm22 0zm13 0zm27 0zm8 0zm3 0zm31 0zm-119 1zm11 0zm4 0zm18 0zm14 0zm2 0zm2 0zm13 0zm11 0zm5 0zm6 0zm10 0zm-116 1zm15 0zm36 0zm11 0zm10 0zm29 0zm3 0zm1 0zm8 0zm15 0zm9 0zm-135 1zm41 0zm4 0zm3 0zm19 0zm4 0zm35 0zm30 0zm-132 1zm11 0zm52 0zm1 0zm1 0zm26 0zm23 0zm-82 1zm21 0zm9 0zm1 0zm1 0zm32 0zm1 0zm2 0zm24 0zm10 0zm1 0zm-135 1zm31 0zm14 0zm22 0zm31 0zm1 0zm3 0zm9 0zm-109 1zm25 0zm1 0zm2 0zm1 0zm12 0zm19 0zm1 0zm1 0zm1 0zm1 0zm7 0zm6 0zm22 0zm30 0zm2 0zm-91 1zm11 0zm7 0zm4 0zm1 0zm1 0zm4 0zm16 0zm2 0zm11 0zm1 0zm2 0zm24 0zm-108 1zm9 0zm2 0zm21 0zm2 0zm13 0zm15 0zm13 0zm7 0zm1 0zm24 0zm1 0zm-121 1zm12 0zm3 0zm23 0zm23 0zm7 0zm22 0zm4 0zm8 0zm24 0zm-126 1zm16 0zm6 0zm1 0zm3 0zm4 0zm13 0zm14 0zm2 0zm24 0zm29 0zm19 0zm-131 1zm60 0zm3 0zm25 0zm34 0zm-132 1zm10 0zm4 0zm11 0zm10 0zm7 0zm24 0zm1 0zm3 0zm9 0zm14 0zm12 0zm-97 1zm35 0zm18 0zm9 0zm10 0zm8 0zm5 0zm12 0zm5 0zm11 0zm-95 1zm5 0zm4 0zm8 0zm63 0zm3 0zm8 0zm-109 1zm10 0zm3 0zm13 0zm17 0zm6 0zm12 0zm15 0zm12 0zm6 0zm4 0zm3 0zm9 0zm-111 1zm1 0zm18 0zm33 0zm6 0zm5 0zm25 0zm6 0zm5 0zm5 0zm4 0zm-114 1zm3 0zm13 0zm21 0zm50 0zm14 0zm7 0zm12 0zm2 0zm-123 1zm35 0zm30 0zm3 0zm3 0zm34 0zm35 0zm-138 1zm9 0zm15 0zm33 0zm7 0zm9 0zm1 0zm25 0zm5 0zm1 0zm-107 1zm15 0zm14 0zm4 0zm2 0zm6 0zm18 0zm12 0zm50 0zm-121 1zm13 0zm20 0zm2 0zm1 0zm5 0zm21 0zm8 0zm1 0zm1 0zm26 0zm5 0zm1 0zm1 0zm1 0zm-94 1zm5 0zm63 0zm14 0zm29 0zm5 0zm-93 1zm1 0zm16 0zm18 0zm4 0zm20 0zm3 0zm8 0zm29 0zm-135 1zm4 0zm16 0zm15 0zm2 0zm33 0zm1 0zm1 0zm23 0zm-94 1zm1 0zm4 0zm5 0zm23 0zm3 0zm5 0zm13 0zm4 0zm12 0zm11 0zm16 0zm3 0zm4 0zm18 0zm15 0zm-137 1zm3 0zm1 0zm24 0zm7 0zm5 0zm2 0zm27 0zm1 0zm1 0zm2 0zm18 0zm1 0zm5 0zm9 0zm29 0zm-135 1zm11 0zm5 0zm1 0zm3 0zm1 0zm8 0zm5 0zm34 0zm37 0zm-80 1zm43 0zm2 0zm8 0zm2 0zm26 0zm5 0zm5 0zm11 0zm5 0zm-132 1zm26 0zm6 0zm4 0zm32 0zm1 0zm36 0zm1 0zm8 0zm-110 1zm39 0zm26 0zm3 0zm20 0zm9 0zm2 0zm33 0zm-130 1zm4 0zm6 0zm2 0zm3 0zm13 0zm5 0zm9 0zm58 0zm-107 1zm1 0zm29 0zm5 0zm2 0zm12 0zm23 0zm32 0zm3 0zm28 0zm-133 1zm1 0zm34 0zm1 0zm22 0zm10 0zm2 0zm15 0zm6 0zm9 0zm-89 1zm2 0zm4 0zm14 0zm2 0zm32 0zm2 0zm2 0zm1 0zm4 0zm1 0zm21 0zm-97 1zm8 0zm1 0zm23 0zm2 0zm1 0zm5 0zm2 0zm5 0zm36 0zm5 0zm-69 1zm15 0zm31 0zm7 0zm6 0zm27 0zm9 0zm-115 1zm8 0zm5 0zm20 0zm38 0zm35 0zm1 0zm2 0zm-107 1zm4 0zm37 0zm24 0zm1 0zm3 0zm33 0zm3 0zm13 0zm2 0zm-122 1zm2 0zm3 0zm14 0zm15 0zm1 0zm35 0zm16 0zm17 0zm-103 1zm1 0zm13 0zm4 0zm15 0zm4 0zm-37 1zm1 0zm36 0zm15 0zm2 0zm2 0zm25 0zm11 0zm23 0zm-114 1zm5 0zm12 0zm7 0zm10 0zm1 0zm4 0zm4 0zm3 0zm24 0zm32 0zm-101 1zm14 0zm3 0zm9 0zm10 0zm1 0zm18 0zm13 0zm1 0zm2 0zm28 0zm6 0zm11 0zm-112 1zm3 0zm11 0zm13 0zm3 0zm1 0zm3 0zm3 0zm14 0zm15 0zm12 0zm2 0zm15 0zm7 0zm16 0zm-123 1zm12 0zm4 0zm10 0zm8 0zm1 0zm19 0zm9 0zm3 0zm5 0zm11 0zm24 0zm-106 1zm1 0zm7 0zm16 0zm4 0zm6 0zm1 0zm32 0zm3 0zm-71 1zm2 0zm6 0zm22 0zm4 0zm3 0zm2 0zm4 0zm4 0zm13 0zm11 0zm2 0zm27 0zm-92 1zm22 0zm5 0zm14 0zm4 0zm6 0zm9 0zm4 0zm35 0zm-106 1zm1 0zm7 0zm2 0zm16 0zm3 0zm5 0zm1 0zm1 0zm-36 1zm11 0zm23 0zm9 0zm26 0zm45 0zm-85 1zm16 0zm7 0zm16 0zm1 0zm2 0zm-69 1zm5 0zm4 0zm8 0zm14 0zm1 0zm6 0zm2 0zm12 0zm78 0zm6 0zm-138 1zm10 0zm16 0zm2 0zm6 0zm1 0zm4 0zm28 0zm5 0zm1 0zm-72 1zm5 0zm11 0zm18 0zm1 0zm3 0zm1 0zm6 0zm18 0zm4 0zm2 0zm36 0zm-106 1zm6 0zm5 0zm1 0zm12 0zm12 0zm12 0zm20 0zm3 0zm6 0zm1 0zm19 0zm9 0zm4 0zm-110 1zm33 0zm3 0zm39 0zm-74 1zm10 0zm4 0zm20 0zm35 0zm34 0zm36 0zm-139 1zm2 0zm5 0zm5 0zm10 0zm5 0zm8 0zm4 0zm5 0zm6 0zm10 0zm1 0zm12 0zm2 0zm23 0zm-74 1zm8 0zm2 0zm1 0zm1 0zm6 0zm38 0zm-81 1zm8 0zm27 0zm2 0zm34 0zm-71 1zm1 0zm13 0zm12 0zm5 0zm49 0zm40 0zm-120 1zm4 0zm2 0zm9 0zm20 0zm12 0zm2 0zm21 0zm26 0zm12 0zm-109 1zm14 0zm10 0zm11 0zm16 0zm-51 1zm2 0zm1 0zm5 0zm21 0zm6 0zm4 0zm42 0zm4 0zm16 0zm-100 1zm2 0zm5 0zm7 0zm3 0zm19 0zm4 0zm18 0zm-57 1zm6 0zm4 0zm5 0zm2 0zm2 0zm2 0zm11 0zm17 0zm19 0zm2 0zm5 0zm31 0zm32 0zm-139 1zm1 0zm13 0zm4 0zm13 0zm3 0zm10 0zm2 0zm23 0zm17 0zm-76 1zm3 0zm12 0zm6 0zm4 0zm1 0zm22 0zm11 0zm3 0zm33 0zm-105 1zm7 0zm29 0zm1 0zm18 0zm16 0zm8 0zm-79 1zm1 0zm28 0zm5 0zm2 0zm34 0zm12 0zm-82 1zm1 0zm19 0zm7 0zm5 0zm3 0zm1 0zm11 0zm25 0zm-71 1zm7 0zm25 0zm25 0zm14 0zm-72 1zm1 0zm9 0zm15 0zm10 0zm24 0zm11 0zm3 0zm42 0zm-115 1zm10 0zm3 0zm3 0zm17 0zm8 0zm-41 1zm1 0zm9 0zm4 0zm18 0zm4 0zm14 0zm10 0zm10 0zm43 0zm-113 1zm2 0zm1 0zm13 0zm20 0zm11 0zm17 0zm8 0zm6 0zm-74 1zm28 0zm12 0zm15 0zm10 0zm6 0zm9 0zm-85 1zm5 0zm30 0zm27 0zm10 0zm-71 1zm3 0zm6 0zm25 0zm1 0zm1 0z"/>
</g>
<path class="ax" d="M151.8 397.1H258.0M151.8 397.1V300.0M151.8 397.1v1.8M160.7 397.1v1.0M169.5 397.1v1.8M178.4 397.1v1.0M187.2 397.1v1.8M196.1 397.1v1.0M204.9 397.1v1.8M213.8 397.1v1.0M222.6 397.1v1.8M231.4 397.1v1.0M240.3 397.1v1.8M249.2 397.1v1.0M258.0 397.1v1.8M151.8 397.1h-1.8M151.8 389.7h-1.0M151.8 382.2h-1.8M151.8 374.8h-1.0M151.8 367.3h-1.8M151.8 359.9h-1.0M151.8 352.4h-1.8M151.8 345.0h-1.0M151.8 337.5h-1.8M151.8 330.1h-1.0M151.8 322.6h-1.8M151.8 315.2h-1.0M151.8 307.7h-1.8"/>
<g class="tl" text-anchor="middle"><text transform="translate(151.8 403.9)scale(.8 1)">0</text><text transform="translate(169.5 403.9)scale(.8 1)">2</text><text transform="translate(187.2 403.9)scale(.8 1)">4</text><text transform="translate(204.9 403.9)scale(.8 1)">6</text><text transform="translate(222.6 403.9)scale(.8 1)">8</text><text transform="translate(240.3 403.9)scale(.8 1)">10</text><text transform="translate(258.0 403.9)scale(.8 1)">12</text></g>
<g class="tl" text-anchor="end"><text transform="translate(149.5 398.7)scale(.8 1)">0</text><text transform="translate(149.5 383.8)scale(.8 1)">2</text><text transform="translate(149.5 368.9)scale(.8 1)">4</text><text transform="translate(149.5 354.0)scale(.8 1)">6</text><text transform="translate(149.5 339.1)scale(.8 1)">8</text><text transform="translate(149.5 324.2)scale(.8 1)">10</text><text transform="translate(149.5 309.3)scale(.8 1)">12</text></g>
<path class="rl" style="stroke-width:1" d="M151.8 397.1L249.2 315.2"/>
<text class="at" x="189.8" y="411.5" textLength="29.6" lengthAdjust="spacingAndGlyphs">Actual Distance</text>
<text class="at" transform="translate(144.0 347.2)rotate(-90)" x="-21.8" y="0" textLength="43.5" lengthAdjust="spacingAndGlyphs">Prediction Distance</text>
<text class="rt" transform="translate(166.1 304.0)scale(0.89 1)">R=0.9626</text>
<text class="rt" transform="translate(166.1 309.8)scale(0.89 1)">slope=1.00068</text>
<text class="cap" transform="translate(198.5 429.0)scale(.94 1)">(j) GALA</text>
<g filter="url(#bl)">
<path transform="scale(0.25)" class="p r" d="M1320 1392zm16 1zm-7 5zm11 2zm1 1zm-3 4zm3 0zm-14 1zm-21 2zm30 0zm-44 1zm49 0zm-52 1zm42 0zm-24 2zm34 1zm-13 2zm-18 1zm4 0zm11 0zm2 0zm14 2zm-11 3zm11 0zm0 1zm1 0zm-15 2zm13 0zm-49 1zm50 0zm-35 1zm26 0zm-61 1zm38 0zm14 0zm17 0zm-34 1zm-2 1zm3 0zm-9 1zm43 0zm-35 1zm12 0zm15 1zm2 0zm-45 1zm29 0zm7 0zm-19 1zm1 0zm1 0zm13 0zm12 0zm6 0zm1 0zm-32 2zm18 0zm-22 1zm34 0zm2 0zm-66 1zm38 1zm26 0zm-32 1zm28 0zm6 0zm-5 1zm5 0zm-9 1zm4 0zm6 0zm-50 1zm14 0zm22 0zm12 0zm-37 1zm38 0zm-35 1zm15 0zm15 1zm4 0zm1 0zm-80 1zm43 0zm4 0zm1 0zm10 0zm20 0zm1 0zm2 0zm-37 1zm8 0zm11 0zm1 0zm-54 1zm66 0zm3 0zm-48 1zm15 0zm3 0zm8 0zm6 0zm3 0zm-55 1zm35 0zm20 0zm14 0zm-36 1zm1 0zm1 0zm26 0zm4 0zm4 0zm-49 1zm35 0zm5 0zm-24 1zm18 0zm1 0zm13 0zm1 0zm-76 1zm5 0zm32 0zm2 0zm9 0zm27 0zm-35 1zm10 0zm13 0zm13 0zm-51 1zm9 0zm4 0zm37 0zm-69 1zm35 0zm21 0zm9 0zm3 0zm-67 1zm54 0zm16 0zm-70 1zm42 0zm26 0zm1 0zm-36 1zm28 0zm4 0zm4 0zm-48 1zm13 0zm19 0zm5 0zm11 0zm-35 1zm12 0zm11 0zm1 0zm9 0zm2 0zm1 0zm-38 1zm4 0zm4 0zm6 0zm23 0zm-30 1zm4 0zm25 0zm-34 1zm1 0zm10 0zm14 0zm10 0zm-70 1zm33 0zm5 0zm24 0zm6 0zm1 0zm-69 1zm4 0zm30 0zm23 0zm12 0zm1 0zm1 0zm-85 1zm50 0zm22 0zm10 0zm3 0z"/>
<path transform="scale(0.25)" class="p g" d="M1589 1252zm-106 11zm-43 3zm78 2zm-52 1zm63 0zm-12 2zm-35 2zm39 0zm-40 1zm17 0zm22 3zm-12 1zm-35 1zm2 5zm42 1zm-71 1zm14 2zm25 0zm33 2zm-32 1zm-22 1zm-18 1zm60 1zm-59 1zm59 0zm13 0zm-86 1zm15 0zm70 0zm-69 1zm35 1zm35 0zm4 0zm-20 1zm7 0zm-24 2zm6 0zm14 0zm-69 1zm85 0zm-5 1zm12 0zm-58 1zm-33 1zm9 0zm36 0zm36 0zm-35 1zm-2 2zm1 0zm7 0zm24 0zm-97 1zm112 0zm-59 1zm14 0zm17 0zm-54 2zm2 0zm1 0zm8 0zm24 0zm-48 2zm9 0zm6 1zm26 0zm8 0zm2 0zm3 0zm30 0zm-72 1zm36 0zm1 0zm8 0zm19 0zm9 0zm1 0zm-39 1zm44 0zm-87 1zm12 0zm22 0zm-24 1zm1 0zm20 0zm-20 1zm33 0zm19 0zm10 0zm7 0zm-104 1zm37 0zm21 0zm21 0zm24 0zm5 0zm7 0zm-90 1zm52 0zm3 0zm20 0zm-30 1zm34 0zm1 0zm3 0zm-37 1zm31 0zm13 0zm-82 1zm22 0zm16 0zm22 0zm-76 1zm51 0zm47 0zm-84 1zm21 0zm17 0zm42 0zm4 0zm-91 1zm-26 1zm72 0zm17 0zm4 0zm8 0zm-67 1zm36 0zm30 0zm-64 1zm26 0zm8 0zm2 0zm1 0zm33 0zm-104 1zm35 0zm-17 1zm53 0zm7 0zm25 0zm-98 1zm40 0zm61 0zm-87 1zm16 0zm5 0zm30 0zm13 0zm6 0zm16 0zm10 0zm-84 1zm37 0zm2 0zm37 0zm-109 1zm35 0zm1 0zm30 0zm14 0zm-44 1zm35 0zm13 0zm30 0zm3 0zm-98 1zm51 0zm37 0zm-120 1zm42 0zm14 0zm62 0zm-71 1zm-1 1zm51 0zm12 0zm-60 1zm19 0zm14 0zm4 0zm-21 1zm20 0zm1 0zm35 0zm-108 1zm9 0zm2 0zm15 0zm11 0zm40 0zm-38 1zm6 0zm28 0zm30 0zm-116 1zm48 0zm1 0zm35 0zm1 0zm31 1zm14 0zm-104 1zm6 0zm5 0zm13 0zm15 0zm35 0zm9 0zm10 0zm-143 1zm36 0zm16 0zm22 0zm1 1zm2 0zm-55 1zm49 0zm2 0zm34 0zm-46 1zm3 0zm7 0zm2 0zm1 0zm46 0zm-63 1zm9 0zm5 0zm2 0zm1 0zm22 0zm1 0zm28 0zm-85 1zm10 0zm17 0zm54 0zm10 0zm12 0zm-103 1zm65 0zm2 0zm3 0zm2 0zm-113 1zm67 0zm40 0zm2 0zm1 0zm8 0zm4 0zm-114 1zm16 0zm13 0zm37 0zm27 0zm21 0zm1 0zm-82 1zm4 0zm27 0zm10 0zm22 0zm4 0zm1 0zm37 0zm-146 1zm35 0zm4 0zm25 0zm12 0zm20 0zm15 0zm-75 1zm1 0zm35 0zm1 0zm2 0zm35 0zm2 0zm4 0zm-85 1zm8 0zm34 0zm36 0zm-73 1zm2 0zm35 0zm1 0zm39 0zm5 0zm2 0zm-84 1zm3 0zm27 0zm8 0zm18 0zm-31 1zm12 0zm70 0zm-112 1zm7 0zm31 0zm40 0zm1 0zm1 0zm-74 1zm2 0zm5 0zm3 0zm27 0zm31 0zm13 0zm27 0zm-153 1zm37 0zm9 0zm36 0zm3 0zm18 0zm4 0zm9 0zm-109 1zm39 0zm1 0zm1 0zm2 0zm1 0zm29 0zm1 0zm1 0zm1 0zm40 0zm28 0zm-116 1zm12 0zm1 0zm5 0zm28 0zm1 0zm1 0zm-39 1zm-34 1zm37 0zm32 0zm1 0zm37 0zm-70 1zm35 0zm15 0zm7 0zm8 0zm-99 1zm73 0zm8 0zm-83 1zm40 0zm13 0zm16 0zm12 0zm-45 1zm3 0zm24 0zm11 0zm-76 1zm15 0zm20 0zm14 0zm4 0zm11 0zm1 0zm44 0zm-76 1zm3 0zm3 0zm18 0zm12 0zm3 0zm1 0zm53 0zm18 0zm-107 1zm3 0zm47 0zm4 0zm16 0zm22 0zm-109 1zm5 0zm25 0zm20 0zm38 0zm-81 1zm23 0zm24 0zm36 0zm-72 1zm3 0zm3 0zm6 0zm2 0zm25 0zm5 0zm44 0zm-124 1zm55 0zm14 0zm1 0zm1 0zm27 0zm8 0zm1 0zm9 0zm-116 1zm34 0zm2 0zm33 0zm-36 1zm4 0zm18 0zm15 0zm10 0zm-80 1zm37 0zm14 0zm19 0zm1 0zm1 0zm36 0zm34 0zm-143 1zm36 0zm-22 1zm13 0zm44 0zm1 0zm2 0zm33 0zm-105 1zm4 0zm7 0zm27 0zm42 0zm-58 1zm11 0zm3 0zm33 0zm1 0zm1 0zm15 0zm-86 1zm23 0zm11 0zm18 0zm2 0zm15 0zm1 0zm14 0zm3 0zm-89 1zm3 0zm2 0zm7 0zm17 0zm6 0zm11 0zm9 0zm11 0zm5 0zm1 0zm69 0zm-142 1zm2 0zm21 0zm23 0zm34 0zm5 0zm25 0zm-107 1zm30 0zm3 0zm2 0zm20 0zm6 0zm-57 1zm9 0zm20 0zm1 0zm1 0zm1 0zm6 0zm5 0zm10 0zm14 0zm50 0zm-123 1zm1 0zm17 0zm53 0zm-69 1zm23 0zm11 0zm2 0zm17 0zm16 0zm37 0zm-125 1zm61 0zm1 0zm1 0zm1 0zm24 0zm1 0zm25 0zm-117 1zm7 0zm5 0zm16 0zm13 0zm13 0zm2 0zm5 0zm8 0zm7 0zm2 0zm4 0zm16 0zm-77 1zm1 0zm26 0zm6 0zm38 0zm1 0zm-55 1zm8 0zm7 0zm12 0zm61 0zm-108 1zm1 0zm2 0zm1 0zm3 0zm31 0zm2 0zm31 0zm2 0zm6 0zm-110 1zm35 0zm1 0zm6 0zm26 0zm10 0zm25 0zm-81 1zm13 0zm18 0zm15 0zm2 0zm5 0zm16 0zm60 0zm-82 1zm8 0zm26 0zm1 0zm1 0zm1 0zm37 0zm-141 1zm21 0zm13 0zm18 0zm11 0zm6 0zm2 0zm31 0zm6 0zm2 0zm-78 1zm16 0zm20 0zm3 0zm7 0zm7 0zm4 0zm15 0zm1 0zm-108 1zm1 0zm42 0zm16 0zm12 0zm1 0zm5 0zm10 0zm1 0zm19 0zm54 0zm-161 1zm28 0zm5 0zm4 0zm8 0zm5 0zm21 0zm1 0zm5 0zm8 0zm-80 1zm13 0zm14 0zm1 0zm1 0zm4 0zm1 0zm1 0zm14 0zm15 0zm1 0zm1 0zm3 0zm31 0zm7 0zm18 0zm11 0zm-107 1zm2 0zm1 0zm27 0zm3 0zm4 0zm1 0zm2 0zm104 0zm-147 1zm4 0zm2 0zm40 0zm13 0zm-67 1zm2 0zm6 0zm10 0zm11 0zm5 0zm15 0zm1 0zm1 0zm3 0zm-77 1zm34 0zm2 0zm12 0zm6 0zm15 0zm1 0zm2 0zm-36 1zm2 0zm8 0zm7 0zm5 0zm10 0zm3 0zm33 0zm2 0zm10 0zm-116 1zm18 0zm3 0zm13 0zm37 0zm4 0zm-40 1zm4 0zm1 0zm23 0zm8 0zm1 0zm33 0zm-104 1zm30 0zm3 0zm34 0zm35 0zm1 0zm1 0zm-104 1zm19 0zm15 0zm1 0zm7 0zm17 0zm10 0zm14 0zm1 0zm21 0zm17 0zm2 0zm-105 1zm14 0zm1 0zm2 0zm32 0zm2 0zm6 0zm30 0zm1 0zm-80 1zm4 0zm1 0zm2 0zm1 0zm3 0zm7 0zm12 0zm10 0zm56 0zm-124 1zm3 0zm13 0zm19 0zm12 0zm2 0zm10 0zm5 0zm4 0zm1 0zm2 0zm35 0zm-81 1zm9 0zm4 0zm3 0zm3 0zm25 0zm1 0zm9 0zm65 0zm-144 1zm32 0zm1 0zm3 0zm34 0zm1 0zm14 0zm22 0zm35 0zm-142 1zm1 0zm1 0zm9 0zm12 0zm8 0zm4 0zm18 0zm1 0zm5 0zm11 0zm1 0zm2 0zm26 0zm8 0zm-75 1zm2 0zm1 0zm35 0zm69 0zm-136 1zm16 0zm17 0zm33 0zm1 0zm1 0zm3 0zm-65 1zm1 0zm10 0zm5 0zm9 0zm1 0zm35 0zm1 0zm13 0zm19 0zm-102 1zm33 0zm13 0zm2 0zm10 0zm12 0zm1 0zm8 0zm61 0zm-141 1zm14 0zm6 0zm14 0zm32 0zm4 0zm11 0zm-81 1zm31 0zm2 0zm6 0zm16 0zm-35 1zm11 0zm3 0zm1 0zm1 0zm16 0zm-52 1zm29 0zm23 0zm17 0zm1 0zm-41 1zm5 0zm31 0zm-64 1zm22 0zm11 0zm11 0zm7 0zm15 0zm40 0zm-102 1zm32 0zm32 0zm3 0zm9 0zm2 0zm-82 1zm3 0zm26 0zm3 0zm1 0zm1 0zm1 0zm15 0zm14 0zm5 0zm2 0zm3 0zm31 0zm36 0zm-142 1zm3 0zm7 0zm22 0zm1 0zm4 0zm32 0zm2 0zm1 0zm7 0zm-72 1zm18 0zm6 0zm3 0zm8 0zm8 0zm20 0zm-70 1zm19 0zm15 0zm1 0zm1 0zm1 0zm9 0zm22 0zm2 0zm1 0zm10 0zm10 0zm-86 1zm29 0zm4 0zm11 0zm40 0zm16 0zm-99 1zm15 0zm14 0zm1 0zm1 0zm34 0zm1 0zm-55 1zm7 0zm9 0zm9 0zm27 0zm1 0zm10 0zm36 0zm-116 1zm2 0zm6 0zm1 0zm11 0zm15 0zm1 0zm4 0zm5 0zm26 0zm-69 1zm6 0zm27 0zm14 0zm17 0zm46 0zm-110 1zm38 0zm32 0zm-71 1zm4 0zm10 0zm18 0zm1 0zm4 0zm33 0zm-58 1zm3 0zm15 0zm3 0zm7 0zm8 0zm3 0zm18 0zm-67 1zm22 0zm6 0zm4 0zm6 0zm8 0zm23 0zm35 0zm-107 1zm1 0zm28 0zm39 0zm2 0zm3 0zm-72 1zm14 0zm7 0zm12 0zm3 0zm1 0zm31 0zm10 0zm2 0zm-81 1zm1 0zm34 0zm35 0zm-42 1zm3 0zm27 0zm15 0zm-73 1zm7 0zm25 0zm1 0zm1 0zm2 0zm3 0zm30 0zm-35 1zm1 0zm1 0zm4 0zm19 0zm-58 1zm5 0zm8 0zm23 0zm12 0zm22 0zm-36 1zm12 0zm2 0zm1 0zm-49 1zm1 0zm16 0zm1 0zm17 0zm6 0zm24 0zm-66 1zm3 0zm24 0zm2 0zm3 0zm2 0zm1 0zm-35 1zm1 0zm5 0zm26 0zm4 0zm-36 1zm1 0zm25 0zm6 0zm19 0zm17 0zm4 0zm27 0zm-99 1zm10 0zm26 0zm1 0zm12 0zm-49 1zm1 0zm8 0zm18 0zm9 0zm-27 1zm24 0zm1 0zm1 0zm2 0zm31 0zm14 0zm-81 1zm5 0zm8 0zm8 0zm10 0zm2 0zm2 0zm14 0zm-50 1zm26 0zm8 0zm3 0zm37 0zm-71 1zm14 0zm10 0zm7 0zm2 0zm5 0zm38 0zm-73 1zm13 0zm13 0zm3 0zm5 0zm5 0zm-45 1zm1 0zm28 0zm51 0z"/>
<path transform="scale(0.25)" class="p o" d="M1351 1469zm-1 1zm25 0zm3 0zm-36 1zm3 0zm12 0zm54 0zm-69 1zm24 0zm8 0zm1 0zm2 0zm1 0zm-9 1zm-24 1zm6 0zm4 0zm17 0zm3 0zm3 0zm10 0zm27 0zm-30 1zm-43 1zm33 0zm2 0zm1 0zm9 0zm-42 1zm5 0zm6 0zm6 0zm52 0zm-69 1zm15 0zm11 0zm5 0zm2 0zm35 0zm-48 1zm4 0zm8 0zm10 0zm-45 1zm22 0zm10 0zm16 0zm-48 1zm10 0zm19 0zm6 1zm17 0zm17 0zm-69 1zm34 0zm34 0zm3 0zm-71 1zm1 0zm1 0zm13 0zm2 0zm10 0zm8 0zm9 0zm3 0zm-38 1zm1 0zm-7 1zm1 0zm31 0zm2 0zm2 0zm-38 1zm7 0zm2 0zm3 0zm16 0zm6 0zm2 0zm2 0zm32 0zm-70 1zm3 0zm8 0zm-12 1zm2 0zm1 0zm3 0zm15 0zm7 1zm9 0zm-36 1zm5 0zm50 0zm-50 1zm3 0zm-8 1zm8 0zm54 0zm-63 1zm3 0zm26 0zm5 1zm-33 1zm1 0zm6 0zm7 0zm13 0zm9 0zm5 0zm-42 1zm47 0zm24 0zm-71 2zm3 0zm5 0zm-8 1zm47 0zm-35 1zm10 0zm2 0zm-20 1zm5 0zm12 0zm12 0zm-33 1zm8 0zm-7 1zm4 0zm-5 1zm0 1zm0 2zm4 0zm30 1zm-19 1zm-15 1zm24 0zm-13 1zm-5 1zm5 0zm1 0zm-4 3zm26 0zm4 0zm-34 3zm31 0zm-28 9zm22 0zm-25 2zm-3 4zm0 1zm32 11zm-23 9z"/>
<path transform="scale(0.25)" class="p b" d="M1228 1470zm36 0zm6 0zm36 0zm24 0zm-60 1zm27 0zm2 0zm6 0zm1 0zm3 0zm-40 1zm1 0zm27 0zm3 0zm4 0zm1 0zm11 0zm13 0zm12 0zm-72 1zm2 0zm31 0zm3 0zm3 0zm23 0zm9 0zm-48 1zm14 0zm1 0zm34 0zm-35 1zm2 0zm2 0zm8 0zm-49 1zm35 0zm1 0zm1 0zm1 0zm1 0zm22 0zm9 0zm-73 1zm5 0zm33 0zm3 0zm6 0zm10 0zm2 0zm16 0zm-71 1zm8 0zm18 0zm8 0zm2 0zm29 0zm6 0zm-139 1zm94 0zm10 0zm2 0zm7 0zm6 0zm18 0zm2 0zm-72 1zm26 0zm8 0zm2 0zm2 0zm32 0zm-81 1zm1 0zm9 0zm1 0zm9 0zm18 0zm3 0zm3 0zm3 0zm3 0zm3 0zm8 0zm-54 1zm6 0zm18 0zm17 0zm21 0zm8 0zm6 0zm-36 1zm3 0zm4 0zm2 0zm8 0zm10 0zm-63 1zm10 0zm11 0zm6 0zm1 0zm7 0zm1 0zm19 0zm-89 1zm37 0zm3 0zm30 0zm35 0zm1 0zm-106 1zm27 0zm9 0zm4 0zm29 0zm1 0zm1 0zm14 0zm2 0zm3 0zm15 0zm-72 1zm49 0zm2 0zm5 0zm17 0zm-105 1zm22 0zm13 0zm17 0zm23 0zm16 0zm3 0zm10 0zm-105 1zm34 0zm1 0zm29 0zm7 0zm9 0zm10 0zm1 0zm2 0zm12 0zm1 0zm-77 1zm7 0zm20 0zm4 0zm9 0zm1 0zm1 0zm1 0zm1 0zm4 0zm16 0zm12 0zm-138 1zm30 0zm21 0zm2 0zm16 0zm18 0zm16 0zm9 0zm6 0zm-102 1zm54 0zm25 0zm11 0zm14 0zm4 0zm10 0zm-32 1zm33 0zm1 0zm-119 1zm16 0zm4 0zm22 0zm3 0zm9 0zm16 0zm2 0zm10 0zm1 0zm11 0zm8 0zm-49 1zm1 0zm4 0zm13 0zm8 0zm5 0zm9 0zm10 0zm17 0zm1 0zm1 0zm-72 1zm3 0zm10 0zm15 0zm9 0zm1 0zm33 0zm-78 1zm3 0zm4 0zm1 0zm1 0zm33 0zm1 0zm2 0zm4 0zm10 0zm16 0zm1 0zm3 0zm-76 1zm7 0zm26 0zm7 0zm1 0zm25 0zm-64 1zm13 0zm9 0zm12 0zm5 0zm21 0zm-126 1zm48 0zm20 0zm2 0zm6 0zm1 0zm16 0zm8 0zm2 0zm3 0zm25 0zm-128 1zm15 0zm35 0zm16 0zm1 0zm2 0zm1 0zm27 0zm3 0zm-68 1zm25 0zm9 0zm11 0zm2 0zm14 0zm9 0zm1 0zm6 0zm3 0zm1 0zm4 0zm4 0zm6 0zm9 0zm-104 1zm1 0zm1 0zm30 0zm16 0zm23 0zm1 0zm3 0zm20 0zm2 0zm8 0zm-106 1zm34 0zm1 0zm30 0zm6 0zm3 0zm19 0zm8 0zm6 0zm-107 1zm2 0zm32 0zm1 0zm1 0zm1 0zm1 0zm6 0zm10 0zm14 0zm2 0zm24 0zm-74 1zm1 0zm15 0zm2 0zm27 0zm4 0zm1 0zm2 0zm-97 1zm25 0zm26 0zm1 0zm3 0zm2 0zm2 0zm3 0zm1 0zm4 0zm5 0zm41 0zm8 0zm4 0zm7 0zm-109 1zm5 0zm22 0zm9 0zm3 0zm22 0zm12 0zm4 0zm20 0zm-94 1zm16 0zm19 0zm1 0zm1 0zm17 0zm29 0zm-85 1zm2 0zm10 0zm6 0zm5 0zm3 0zm12 0zm3 0zm17 0zm4 0zm12 0zm1 0zm-106 1zm31 0zm6 0zm15 0zm16 0zm35 0zm1 0zm27 0zm-100 1zm1 0zm4 0zm24 0zm9 0zm4 0zm1 0zm8 0zm7 0zm7 0zm6 0zm1 0zm33 0zm-108 1zm27 0zm1 0zm10 0zm2 0zm34 0zm27 0zm-124 1zm27 0zm27 0zm6 0zm2 0zm17 0zm3 0zm13 0zm2 0zm1 0zm1 0zm12 0zm17 0zm-136 1zm4 0zm24 0zm8 0zm35 0zm1 0zm13 0zm-67 1zm2 0zm1 0zm11 0zm6 0zm33 0zm14 0zm4 0zm10 0zm16 0zm8 0zm-108 1zm3 0zm6 0zm11 0zm17 0zm17 0zm6 0zm5 0zm15 0zm9 0zm1 0zm1 0zm1 0zm8 0zm8 0zm16 0zm-128 1zm48 0zm13 0zm4 0zm11 0zm3 0zm17 0zm34 0zm-138 1zm2 0zm3 0zm56 0zm1 0zm6 0zm4 0zm15 0zm6 0zm44 0zm-108 1zm3 0zm11 0zm10 0zm12 0zm4 0zm2 0zm8 0zm10 0zm-59 1zm6 0zm29 0zm5 0zm8 0zm13 0zm26 0zm-120 1zm1 0zm4 0zm30 0zm1 0zm1 0zm7 0zm28 0zm-66 1zm12 0zm16 0zm29 0zm6 0zm2 0zm1 0zm1 0zm5 0zm9 0zm33 0zm1 0zm-114 1zm29 0zm16 0zm9 0zm9 0zm17 0zm9 0zm4 0zm5 0zm1 0zm23 0zm-129 1zm8 0zm13 0zm14 0zm35 0zm12 0zm23 0zm1 0zm1 0zm1 0zm5 0zm12 0zm14 0zm2 0zm-139 1zm3 0zm15 0zm15 0zm31 0zm4 0zm18 0zm19 0zm25 0zm-129 1zm32 0zm47 0zm29 0zm-83 1zm1 0zm5 0zm7 0zm11 0zm5 0zm15 0zm34 0zm-84 1zm12 0zm14 0zm22 0zm1 0zm1 0zm6 0zm10 0zm-81 1zm14 0zm5 0zm18 0zm1 0zm27 0zm1 0zm11 0zm21 0zm1 0zm-105 1zm15 0zm1 0zm11 0zm7 0zm6 0zm30 0zm4 0zm28 0zm-101 1zm23 0zm3 0zm5 0zm2 0zm28 0zm7 0zm7 0zm1 0zm12 0zm17 0zm-105 1zm1 0zm20 0zm12 0zm1 0zm29 0zm1 0zm15 0zm3 0zm21 0zm1 0zm-99 1zm2 0zm10 0zm4 0zm8 0zm3 0zm2 0zm1 0zm17 0zm5 0zm3 0zm7 0zm2 0zm4 0zm11 0zm22 0zm33 0zm-133 1zm2 0zm25 0zm1 0zm2 0zm9 0zm23 0zm3 0zm20 0zm15 0zm20 0zm-128 1zm9 0zm26 0zm29 0zm7 0zm1 0zm1 0zm5 0zm5 0zm22 0zm2 0zm-97 1zm11 0zm14 0zm2 0zm2 0zm1 0zm8 0zm2 0zm19 0zm1 0zm6 0zm32 0zm8 0zm-113 1zm9 0zm11 0zm12 0zm32 0zm1 0zm3 0zm1 0zm-72 1zm11 0zm20 0zm4 0zm2 0zm7 0zm17 0zm10 0zm1 0zm5 0zm1 0zm28 0zm-104 1zm13 0zm19 0zm12 0zm14 0zm9 0zm1 0zm1 0zm1 0zm5 0zm6 0zm23 0zm15 0zm-120 1zm7 0zm3 0zm12 0zm8 0zm13 0zm15 0zm2 0zm10 0zm33 0zm-103 1zm24 0zm1 0zm7 0zm2 0zm36 0zm28 0zm-97 1zm19 0zm6 0zm4 0zm2 0zm2 0zm2 0zm14 0zm54 0zm-105 1zm21 0zm13 0zm15 0zm34 0zm1 0zm-83 1zm13 0zm19 0zm2 0zm1 0zm4 0zm16 0zm16 0zm24 0zm12 0zm-108 1zm1 0zm1 0zm4 0zm5 0zm7 0zm11 0zm1 0zm6 0zm1 0zm18 0zm16 0zm-59 1zm8 0zm15 0zm1 0zm2 0zm9 0zm14 0zm10 0zm11 0zm14 0zm11 0zm22 0zm-128 1zm1 0zm29 0zm2 0zm1 0zm1 0zm1 0zm21 0zm20 0zm3 0zm7 0zm21 0zm-108 1zm2 0zm7 0zm15 0zm7 0zm10 0zm31 0zm-71 1zm17 0zm16 0zm1 0zm24 0zm12 0zm1 0zm16 0zm18 0zm1 0zm-92 1zm18 0zm1 0zm1 0zm4 0zm3 0zm6 0zm21 0zm1 0zm35 0zm13 0zm-118 1zm2 0zm32 0zm1 0zm40 0zm6 0zm11 0zm6 0zm-96 1zm2 0zm9 0zm15 0zm5 0zm2 0zm1 0zm26 0zm45 0zm2 0zm-109 1zm1 0zm2 0zm31 0zm1 0zm9 0zm1 0zm2 0zm33 0zm6 0zm-86 1zm3 0zm14 0zm19 0zm2 0zm28 0zm3 0zm1 0zm2 0zm1 0zm25 0zm-96 1zm16 0zm12 0zm1 0zm1 0zm4 0zm2 0zm4 0zm6 0zm15 0zm6 0zm-68 1zm5 0zm3 0zm3 0zm10 0zm1 0zm11 0zm3 0zm6 0zm-38 1zm20 0zm10 0zm1 0zm3 0zm1 0zm7 0zm6 0zm15 0zm9 0zm3 0zm-78 1zm7 0zm1 0zm6 0zm9 0zm9 0zm4 0zm6 0zm2 0zm12 0zm12 0zm1 0zm18 0zm-87 1zm17 0zm2 0zm14 0zm1 0zm8 0zm21 0zm-65 1zm1 0zm1 0zm4 0zm1 0zm1 0zm20 0zm5 0zm2 0zm11 0zm21 0zm4 0zm11 0zm-82 1zm32 0zm5 0zm4 0zm12 0zm19 0zm3 0zm17 0zm-89 1zm5 0zm4 0zm24 0zm2 0zm10 0zm-47 1zm1 0zm1 0zm10 0zm10 0zm8 0zm19 0zm2 0zm15 0zm-59 1zm8 0zm17 0zm1 0zm1 0zm1 0zm1 0zm16 0zm26 0zm-78 1zm1 0zm7 0zm6 0zm10 0zm11 0zm9 0zm2 0zm8 0zm19 0zm31 0zm-66 1zm3 0zm2 0zm11 0zm-54 1zm21 0zm48 0zm-63 1zm41 0zm-47 1zm1 0zm6 0zm16 0zm4 0zm-26 1zm34 0zm70 0zm-105 1zm6 0zm12 0zm16 0zm1 0zm1 0zm1 0zm13 0zm14 0zm-65 1zm2 0zm1 0zm12 0zm13 0zm8 0zm22 0zm27 0zm-83 1zm33 0zm3 0zm39 0zm-65 1zm3 0zm4 0zm9 0zm5 0zm4 0zm3 0zm1 0zm8 0zm21 0zm1 0zm9 0zm39 0zm-118 1zm35 0zm1 0zm5 0zm28 0zm-68 1zm12 0zm8 0zm51 0zm-73 1zm1 0zm1 0zm1 0zm3 0zm27 0zm3 0zm35 0zm4 0zm-75 1zm1 0zm1 0zm2 0zm11 0zm2 0zm18 0zm13 0zm-48 1zm3 0zm2 0zm1 0zm7 0zm10 0zm53 0zm2 0zm-78 1zm1 0zm2 0zm2 0zm2 0zm1 0zm15 0zm3 0zm8 0zm1 0zm2 0zm32 0zm-68 1zm16 0zm4 0zm8 0zm6 0zm2 0zm6 0zm-42 1zm14 0zm25 0zm10 0zm8 0zm30 0zm-87 1zm1 0zm2 0zm12 0zm19 0zm1 0zm14 0zm1 0zm17 0zm3 0zm-69 1zm4 0zm4 0zm5 0zm2 0zm5 0zm12 0zm15 0zm-48 1zm3 0zm5 0zm4 0zm3 0zm3 0zm11 0zm3 0zm7 0zm7 0zm5 0zm-52 1zm1 0zm1 0zm3 0zm7 0zm1 0zm11 0zm2 0zm9 0zm1 0zm2 0zm10 0zm-48 1zm3 0zm10 0zm4 0zm13 0zm2 0zm4 0zm8 0zm28 0z"/>
</g>
<path class="ax" d="M300.0 397.1H406.2M300.0 397.1V300.0M300.0 397.1v1.8M308.9 397.1v1.0M317.7 397.1v1.8M326.6 397.1v1.0M335.4 397.1v1.8M344.2 397.1v1.0M353.1 397.1v1.8M361.9 397.1v1.0M370.8 397.1v1.8M379.6 397.1v1.0M388.5 397.1v1.8M397.4 397.1v1.0M406.2 397.1v1.8M300.0 397.1h-1.8M300.0 389.7h-1.0M300.0 382.2h-1.8M300.0 374.8h-1.0M300.0 367.3h-1.8M300.0 359.9h-1.0M300.0 352.4h-1.8M300.0 345.0h-1.0M300.0 337.5h-1.8M300.0 330.1h-1.0M300.0 322.6h-1.8M300.0 315.2h-1.0M300.0 307.7h-1.8"/>
<g class="tl" text-anchor="middle"><text transform="translate(300.0 403.9)scale(.8 1)">0</text><text transform="translate(317.7 403.9)scale(.8 1)">2</text><text transform="translate(335.4 403.9)scale(.8 1)">4</text><text transform="translate(353.1 403.9)scale(.8 1)">6</text><text transform="translate(370.8 403.9)scale(.8 1)">8</text><text transform="translate(388.5 403.9)scale(.8 1)">10</text><text transform="translate(406.2 403.9)scale(.8 1)">12</text></g>
<g class="tl" text-anchor="end"><text transform="translate(297.7 398.7)scale(.8 1)">0</text><text transform="translate(297.7 383.8)scale(.8 1)">2</text><text transform="translate(297.7 368.9)scale(.8 1)">4</text><text transform="translate(297.7 354.0)scale(.8 1)">6</text><text transform="translate(297.7 339.1)scale(.8 1)">8</text><text transform="translate(297.7 324.2)scale(.8 1)">10</text><text transform="translate(297.7 309.3)scale(.8 1)">12</text></g>
<path class="rl" style="stroke-width:1" d="M300.0 397.1L397.4 315.5"/>
<text class="at" x="338.0" y="411.5" textLength="29.6" lengthAdjust="spacingAndGlyphs">Actual Distance</text>
<text class="at" transform="translate(292.2 346.7)rotate(-90)" x="-19.6" y="0" textLength="39.2" lengthAdjust="spacingAndGlyphs">Prediction Distance</text>
<text class="rt" transform="translate(314.3 304.0)scale(0.89 1)">R=0.9704</text>
<text class="rt" transform="translate(314.3 309.8)scale(0.89 1)">slope=0.9978</text>
<text class="cap" transform="translate(349.1 429.0)scale(.94 1)">(k) AANE</text>
</svg>
</body></html>
